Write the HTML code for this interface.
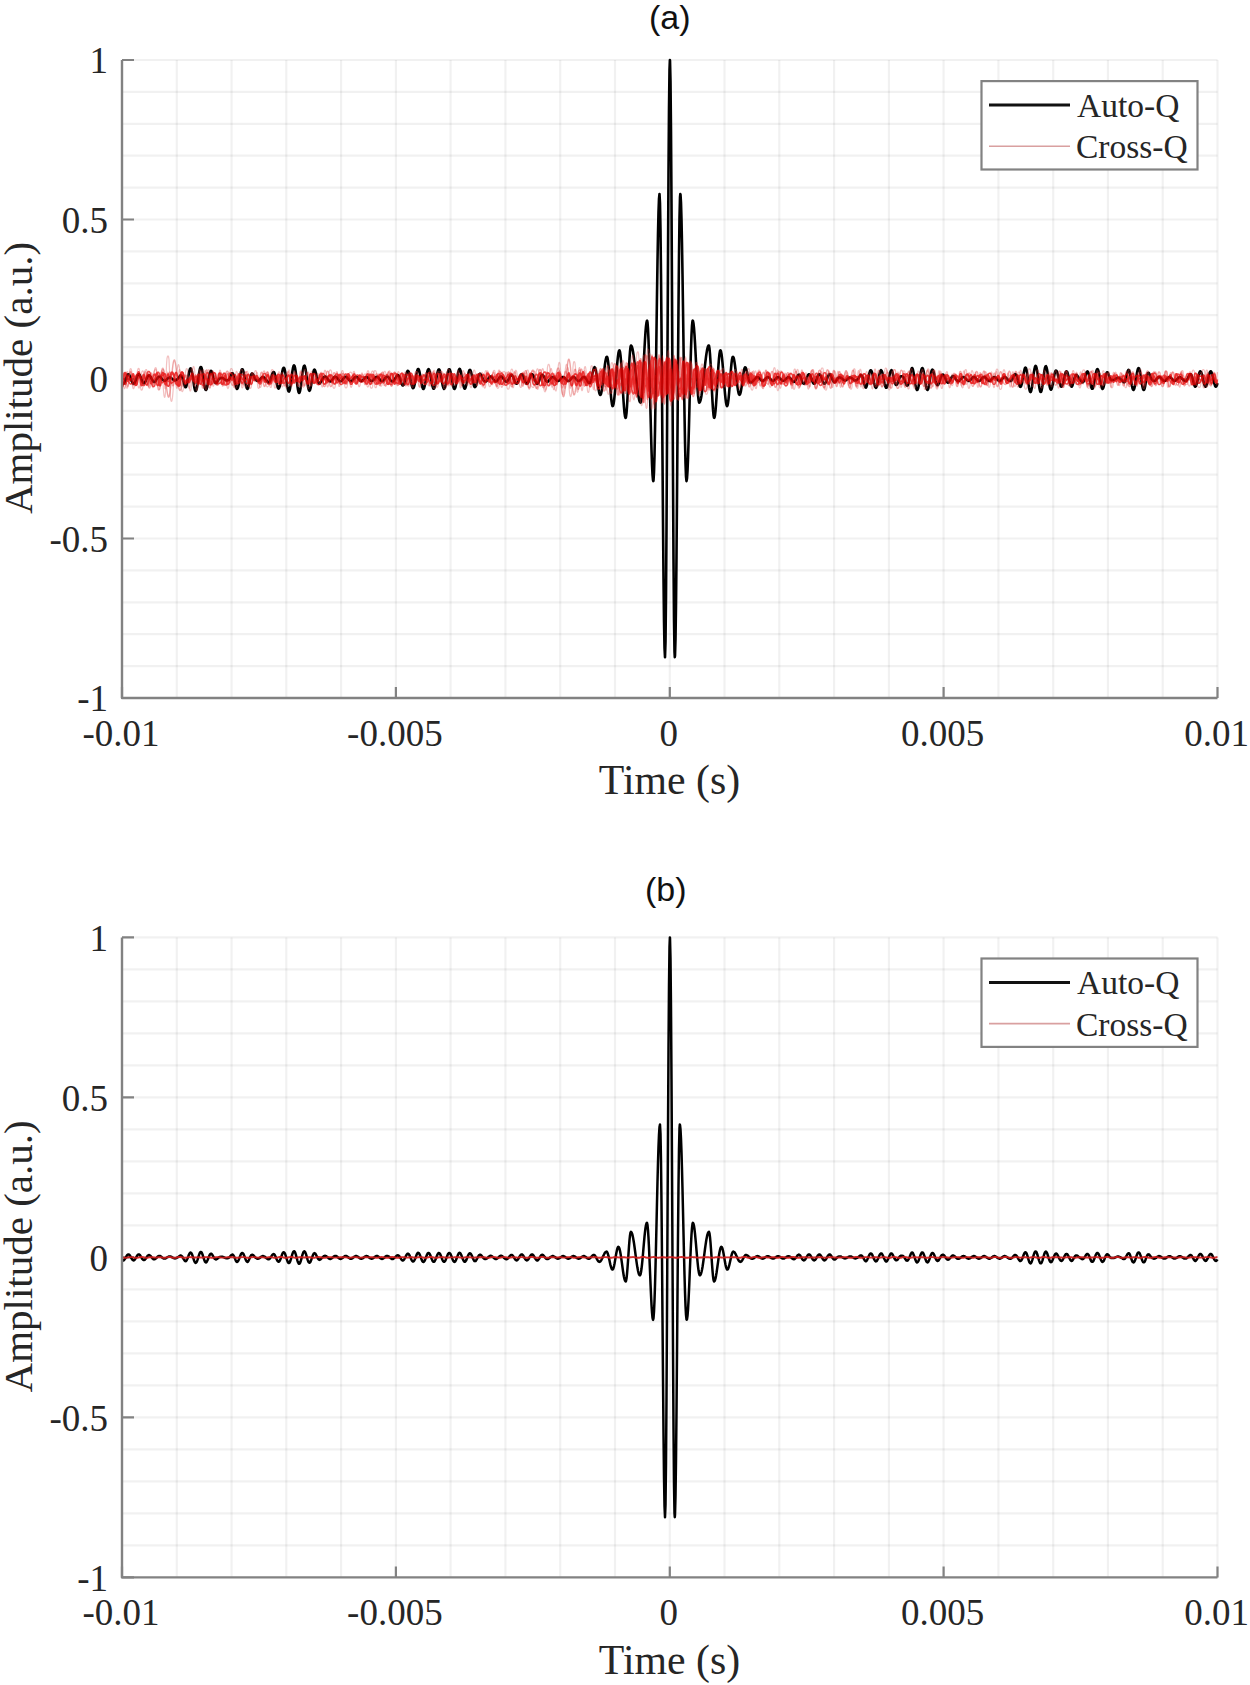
<!DOCTYPE html><html><head><meta charset="utf-8"><style>html,body{margin:0;padding:0;background:#fff;}svg{display:block;}.tk{font-family:"Liberation Serif",serif;font-size:37px;fill:#262626;}.al{font-family:"Liberation Serif",serif;font-size:41px;fill:#262626;}.lg{font-family:"Liberation Serif",serif;font-size:33.5px;fill:#262626;}.ti{font-family:"Liberation Sans",sans-serif;font-size:34px;fill:#111;}</style></head><body><svg width="1250" height="1685" viewBox="0 0 1250 1685"><rect width="1250" height="1685" fill="#fff"/><path d="M176.8 60V698M231.6 60V698M286.3 60V698M341.1 60V698M395.9 60V698M450.6 60V698M505.4 60V698M560.2 60V698M615 60V698M669.8 60V698M724.5 60V698M779.3 60V698M834.1 60V698M888.9 60V698M943.6 60V698M998.4 60V698M1053.2 60V698M1107.9 60V698M1162.7 60V698M1217.5 60V698" stroke="#000" stroke-opacity="0.055" stroke-width="2.2" fill="none"/><path d="M122 60H1217.5M122 91.9H1217.5M122 123.8H1217.5M122 155.7H1217.5M122 187.6H1217.5M122 219.5H1217.5M122 251.4H1217.5M122 283.3H1217.5M122 315.2H1217.5M122 347.1H1217.5M122 379H1217.5M122 410.9H1217.5M122 442.8H1217.5M122 474.7H1217.5M122 506.6H1217.5M122 538.5H1217.5M122 570.4H1217.5M122 602.3H1217.5M122 634.2H1217.5M122 666.1H1217.5" stroke="#000" stroke-opacity="0.055" stroke-width="2.2" fill="none"/><path d="M122 60h12M122 219.5h12M122 379h12M122 538.5h12M122 698h12M122 698v-11M395.9 698v-11M669.8 698v-11M943.6 698v-11M1217.5 698v-11" stroke="#828282" stroke-width="2.2" fill="none"/><path d="M122.0 382.5L122.5 383.3L123.0 383.8L123.5 383.7L124.0 383.3L124.5 382.4L125.0 381.3L125.5 379.9L126.0 378.5L126.5 377.1L127.0 375.8L127.5 374.9L128.0 374.3L128.5 374.2L129.0 374.5L129.5 375.2L130.0 376.3L130.5 377.6L131.0 379.0L131.5 380.5L132.0 381.8L132.5 382.8L133.0 383.5L133.5 383.8L134.0 383.6L134.5 383.1L135.0 382.1L135.5 380.9L136.0 379.5L136.5 378.0L137.0 376.7L137.5 375.5L138.0 374.7L138.5 374.3L139.0 374.3L139.5 374.7L140.0 375.5L140.5 376.7L141.0 378.0L141.5 379.5L142.0 380.8L142.5 381.9L143.0 382.7L143.5 383.2L144.0 383.3L144.5 383.0L145.0 382.3L145.5 381.4L146.0 380.2L146.5 379.0L147.0 377.9L147.5 376.8L148.0 376.0L148.5 375.5L149.0 375.4L149.5 375.5L150.0 376.0L150.5 376.7L151.0 377.6L151.5 378.6L152.0 379.6L152.5 380.5L153.0 381.2L153.5 381.7L154.0 382.0L154.5 381.9L155.0 381.6L155.5 381.1L156.0 380.4L156.5 379.6L157.0 378.8L157.5 378.0L158.0 377.4L158.5 376.9L159.0 376.7L159.5 376.7L160.0 376.8L160.5 377.2L161.0 377.7L161.5 378.3L162.0 379.0L162.5 379.6L163.0 380.1L163.5 380.5L164.0 380.8L164.5 380.8L165.0 380.8L165.5 380.5L166.0 380.1L166.5 379.7L167.0 379.2L167.5 378.7L168.0 378.3L168.5 377.9L169.0 377.7L169.5 377.5L170.0 377.5L170.5 377.6L171.0 377.9L171.5 378.2L172.0 378.7L172.5 379.1L173.0 379.5L173.5 379.9L174.0 380.2L174.5 380.4L175.0 380.5L175.5 380.4L176.0 380.2L176.5 379.9L177.0 379.5L177.5 379.1L178.0 378.6L178.5 377.9L179.0 377.2L179.5 376.4L180.0 375.7L180.5 375.3L181.0 375.3L181.5 375.8L182.0 376.8L182.5 378.2L183.0 380.0L183.5 381.9L184.0 383.8L184.5 385.5L185.0 386.7L185.5 387.3L186.0 387.1L186.5 385.8L187.0 383.8L187.5 381.3L188.0 378.5L188.5 375.6L189.0 372.8L189.5 370.6L190.0 369.0L190.5 368.3L191.0 368.6L191.5 369.9L192.0 372.1L192.5 375.0L193.0 378.4L193.5 381.9L194.0 385.4L194.5 388.2L195.0 390.1L195.5 391.0L196.0 390.9L196.5 389.6L197.0 387.4L197.5 384.4L198.0 380.9L198.5 377.3L199.0 373.8L199.5 370.7L200.0 368.5L200.5 367.2L201.0 367.0L201.5 367.8L202.0 369.7L202.5 372.5L203.0 375.8L203.5 379.5L204.0 383.1L204.5 386.1L205.0 388.4L205.5 389.7L206.0 390.0L206.5 389.3L207.0 387.7L207.5 385.4L208.0 382.6L208.5 379.7L209.0 376.8L209.5 374.3L210.0 372.4L210.5 371.2L211.0 370.8L211.5 371.2L212.0 372.2L212.5 373.9L213.0 375.8L213.5 377.9L214.0 379.8L214.5 381.4L215.0 382.5L215.5 383.1L216.0 383.2L216.5 382.9L217.0 382.3L217.5 381.4L218.0 380.5L218.5 379.6L219.0 379.0L219.5 378.5L220.0 378.4L220.5 378.2L221.0 378.0L221.5 377.9L222.0 377.9L222.5 378.0L223.0 378.2L223.5 378.5L224.0 378.9L224.5 379.3L225.0 379.7L225.5 380.0L226.0 380.2L226.5 380.4L227.0 380.4L227.5 380.3L228.0 380.1L228.5 380.0L229.0 379.5L229.5 378.7L230.0 377.5L230.5 376.3L231.0 375.0L231.5 374.0L232.0 373.3L232.5 373.2L233.0 373.7L233.5 374.9L234.0 376.7L234.5 379.1L235.0 381.7L235.5 384.4L236.0 386.9L236.5 388.3L237.0 388.9L237.5 388.6L238.0 387.4L238.5 385.4L239.0 382.9L239.5 380.0L240.0 377.0L240.5 374.2L241.0 371.8L241.5 370.1L242.0 369.2L242.5 369.2L243.0 370.1L243.5 371.8L244.0 374.2L244.5 377.0L245.0 380.0L245.5 382.9L246.0 385.4L246.5 387.4L247.0 388.6L247.5 388.9L248.0 388.3L248.5 386.5L249.0 384.1L249.5 381.6L250.0 379.1L250.5 376.8L251.0 375.1L251.5 373.9L252.0 373.4L252.5 373.6L253.0 374.2L253.5 375.2L254.0 376.4L254.5 377.6L255.0 378.7L255.5 379.5L256.0 379.9L256.5 380.4L257.0 380.8L257.5 381.0L258.0 381.0L258.5 380.8L259.0 380.5L259.5 380.0L260.0 379.4L260.5 378.8L261.0 378.2L261.5 377.7L262.0 377.3L262.5 377.1L263.0 377.0L263.5 377.1L264.0 377.4L264.5 377.8L265.0 378.4L265.5 379.0L266.0 379.6L266.5 380.3L267.0 381.1L267.5 381.8L268.0 382.4L268.5 382.6L269.0 382.5L269.5 381.9L270.0 381.0L270.5 379.7L271.0 378.1L271.5 376.4L272.0 374.7L272.5 373.3L273.0 372.4L273.5 372.0L274.0 372.2L274.5 373.2L275.0 374.8L275.5 377.0L276.0 379.6L276.5 382.3L277.0 384.7L277.5 386.7L278.0 388.1L278.5 388.6L279.0 388.3L279.5 387.1L280.0 385.1L280.5 382.4L281.0 379.4L281.5 376.2L282.0 373.2L282.5 370.6L283.0 368.7L283.5 367.8L284.0 367.8L284.5 368.9L285.0 371.0L285.5 373.8L286.0 377.3L286.5 380.9L287.0 384.5L287.5 387.6L288.0 390.0L288.5 391.4L289.0 391.6L289.5 390.7L290.0 388.8L290.5 385.8L291.0 382.2L291.5 378.3L292.0 374.4L292.5 370.8L293.0 367.9L293.5 366.0L294.0 365.3L294.5 365.8L295.0 367.6L295.5 370.4L296.0 374.1L296.5 378.2L297.0 382.5L297.5 386.5L298.0 389.7L298.5 391.9L299.0 393.0L299.5 392.7L300.0 391.2L300.5 388.6L301.0 385.2L301.5 381.2L302.0 377.0L302.5 373.1L303.0 369.7L303.5 367.3L304.0 365.9L304.5 365.7L305.0 366.7L305.5 368.8L306.0 371.9L306.5 375.6L307.0 379.5L307.5 383.2L308.0 386.4L308.5 388.9L309.0 390.4L309.5 390.8L310.0 390.1L310.5 388.4L311.0 386.0L311.5 383.0L312.0 379.7L312.5 376.5L313.0 373.7L313.5 371.5L314.0 370.0L314.5 369.6L315.0 370.2L315.5 371.5L316.0 373.3L316.5 375.5L317.0 377.8L317.5 379.9L318.0 381.6L318.5 382.9L319.0 383.5L319.5 383.7L320.0 383.3L320.5 382.6L321.0 381.7L321.5 380.6L322.0 379.7L322.5 378.9L323.0 378.2L323.5 377.5L324.0 377.0L324.5 376.7L325.0 376.5L325.5 376.6L326.0 376.9L326.5 377.4L327.0 378.1L327.5 378.8L328.0 379.5L328.5 380.2L329.0 380.8L329.5 381.2L330.0 381.4L330.5 381.4L331.0 381.1L331.5 380.7L332.0 380.1L332.5 379.4L333.0 378.7L333.5 378.0L334.0 377.5L334.5 377.0L335.0 376.7L335.5 376.7L336.0 376.8L336.5 377.2L337.0 377.7L337.5 378.3L338.0 379.0L338.5 379.7L339.0 380.3L339.5 380.8L340.0 381.1L340.5 381.3L341.0 381.2L341.5 380.9L342.0 380.5L342.5 379.9L343.0 379.2L343.5 378.5L344.0 377.9L344.5 377.4L345.0 377.0L345.5 376.8L346.0 376.8L346.5 377.0L347.0 377.4L347.5 377.9L348.0 378.6L348.5 379.2L349.0 379.8L349.5 380.4L350.0 380.8L350.5 381.1L351.0 381.1L351.5 381.0L352.0 380.7L352.5 380.2L353.0 379.7L353.5 379.0L354.0 378.4L354.5 377.8L355.0 377.3L355.5 377.0L356.0 376.9L356.5 377.0L357.0 377.2L357.5 377.6L358.0 378.2L358.5 378.8L359.0 379.4L359.5 380.0L360.0 380.5L360.5 380.9L361.0 381.0L361.5 381.0L362.0 380.9L362.5 380.5L363.0 380.0L363.5 379.4L364.0 378.8L364.5 378.2L365.0 377.7L365.5 377.3L366.0 377.0L366.5 377.0L367.0 377.1L367.5 377.4L368.0 377.8L368.5 378.4L369.0 379.0L369.5 379.6L370.0 380.1L370.5 380.6L371.0 380.9L371.5 381.0L372.0 381.0L372.5 380.8L373.0 380.4L373.5 379.9L374.0 379.3L374.5 378.6L375.0 378.0L375.5 377.5L376.0 377.1L376.5 376.9L377.0 376.9L377.5 377.0L378.0 377.4L378.5 377.9L379.0 378.5L379.5 379.1L380.0 379.8L380.5 380.4L381.0 380.8L381.5 381.1L382.0 381.2L382.5 381.1L383.0 380.8L383.5 380.4L384.0 379.8L384.5 379.1L385.0 378.4L385.5 377.8L386.0 377.2L386.5 376.8L387.0 376.7L387.5 376.7L388.0 376.9L388.5 377.4L389.0 378.0L389.5 378.7L390.0 379.4L390.5 380.1L391.0 380.7L391.5 381.1L392.0 381.4L392.5 381.4L393.0 381.3L393.5 380.9L394.0 380.3L394.5 379.6L395.0 378.9L395.5 378.0L396.0 377.1L396.5 376.3L397.0 375.6L397.5 375.2L398.0 375.1L398.5 375.5L399.0 376.2L399.5 377.3L400.0 378.7L400.5 380.3L401.0 382.0L401.5 383.4L402.0 384.6L402.5 385.4L403.0 385.5L403.5 385.1L404.0 384.0L404.5 382.3L405.0 380.2L405.5 377.9L406.0 375.6L406.5 373.6L407.0 372.0L407.5 371.0L408.0 370.8L408.5 371.3L409.0 372.5L409.5 374.4L410.0 376.7L410.5 379.3L411.0 382.0L411.5 384.4L412.0 386.3L412.5 387.6L413.0 388.2L413.5 387.9L414.0 386.8L414.5 384.9L415.0 382.5L415.5 379.7L416.0 376.7L416.5 374.0L417.0 371.6L417.5 369.9L418.0 369.0L418.5 369.1L419.0 370.1L419.5 371.9L420.0 374.4L420.5 377.3L421.0 380.3L421.5 383.2L422.0 385.7L422.5 387.6L423.0 388.8L423.5 389.0L424.0 388.3L424.5 386.7L425.0 384.5L425.5 381.8L426.0 378.8L426.5 375.8L427.0 373.1L427.5 371.0L428.0 369.6L428.5 369.1L429.0 369.5L429.5 370.7L430.0 372.7L430.5 375.3L431.0 378.2L431.5 381.2L432.0 383.9L432.5 386.2L433.0 387.9L433.5 388.7L434.0 388.7L434.5 387.7L435.0 386.0L435.5 383.6L436.0 380.8L436.5 377.9L437.0 375.1L437.5 372.6L438.0 370.7L438.5 369.6L439.0 369.3L439.5 369.9L440.0 371.4L440.5 373.5L441.0 376.2L441.5 379.1L442.0 382.0L442.5 384.6L443.0 386.7L443.5 388.2L444.0 388.8L444.5 388.5L445.0 387.3L445.5 385.4L446.0 382.8L446.5 380.0L447.0 377.0L447.5 374.2L448.0 371.8L448.5 370.1L449.0 369.2L449.5 369.2L450.0 370.1L450.5 371.8L451.0 374.2L451.5 377.0L452.0 380.0L452.5 382.9L453.0 385.5L453.5 387.4L454.0 388.7L454.5 389.0L455.0 388.4L455.5 387.0L456.0 384.8L456.5 382.1L457.0 379.1L457.5 376.1L458.0 373.3L458.5 371.1L459.0 369.6L459.5 368.9L460.0 369.2L460.5 370.4L461.0 372.4L461.5 375.0L462.0 377.9L462.5 380.9L463.0 383.7L463.5 386.0L464.0 387.7L464.5 388.6L465.0 388.6L465.5 387.7L466.0 386.0L466.5 383.8L467.0 381.1L467.5 378.2L468.0 375.5L468.5 373.1L469.0 371.2L469.5 370.1L470.0 369.8L470.5 370.4L471.0 371.7L471.5 373.7L472.0 376.1L472.5 378.8L473.0 381.5L473.5 383.9L474.0 385.8L474.5 386.9L475.0 387.2L475.5 386.7L476.0 385.6L476.5 383.9L477.0 382.0L477.5 379.9L478.0 377.9L478.5 376.1L479.0 374.8L479.5 374.0L480.0 373.7L480.5 374.0L481.0 374.6L481.5 375.6L482.0 376.8L482.5 378.1L483.0 379.2L483.5 380.2L484.0 380.9L484.5 381.3L485.0 381.4L485.5 381.5L486.0 381.4L486.5 381.0L487.0 380.5L487.5 379.8L488.0 379.1L488.5 378.3L489.0 377.7L489.5 377.1L490.0 376.7L490.5 376.5L491.0 376.6L491.5 376.8L492.0 377.3L492.5 377.9L493.0 378.6L493.5 379.4L494.0 380.1L494.5 380.7L495.0 381.2L495.5 381.5L496.0 381.5L496.5 381.3L497.0 380.9L497.5 380.3L498.0 379.6L498.5 378.9L499.0 378.1L499.5 377.5L500.0 376.9L500.5 376.6L501.0 376.5L501.5 376.6L502.0 376.9L502.5 377.5L503.0 378.1L503.5 378.9L504.0 379.6L504.5 380.3L505.0 380.9L505.5 381.4L506.0 381.7L506.5 381.8L507.0 381.6L507.5 381.1L508.0 380.4L508.5 379.5L509.0 378.5L509.5 377.5L510.0 376.5L510.5 375.7L511.0 375.2L511.5 375.0L512.0 375.2L512.5 375.8L513.0 376.7L513.5 377.8L514.0 379.2L514.5 380.6L515.0 381.9L515.5 382.9L516.0 383.6L516.5 383.8L517.0 383.6L517.5 383.0L518.0 382.0L518.5 380.7L519.0 379.3L519.5 377.9L520.0 376.5L520.5 375.4L521.0 374.6L521.5 374.2L522.0 374.3L522.5 374.8L523.0 375.6L523.5 376.8L524.0 378.2L524.5 379.6L525.0 381.0L525.5 382.2L526.0 383.1L526.5 383.7L527.0 383.8L527.5 383.5L528.0 382.7L528.5 381.6L529.0 380.3L529.5 378.9L530.0 377.5L530.5 376.2L531.0 375.1L531.5 374.5L532.0 374.2L532.5 374.4L533.0 375.0L533.5 375.9L534.0 377.2L534.5 378.6L535.0 380.0L535.5 381.4L536.0 382.5L536.5 383.3L537.0 383.8L537.5 383.7L538.0 383.3L538.5 382.4L539.0 381.3L539.5 379.9L540.0 378.5L540.5 377.1L541.0 376.0L541.5 375.3L542.0 374.9L542.5 374.9L543.0 375.3L543.5 376.0L544.0 376.9L544.5 378.0L545.0 379.0L545.5 380.0L546.0 380.8L546.5 381.4L547.0 381.7L547.5 381.7L548.0 381.5L548.5 381.0L549.0 380.5L549.5 379.8L550.0 379.2L550.5 378.6L551.0 378.0L551.5 377.5L552.0 377.2L552.5 377.0L553.0 377.0L553.5 377.2L554.0 377.5L554.5 378.0L555.0 378.6L555.5 379.2L556.0 379.8L556.5 380.3L557.0 380.7L557.5 380.9L558.0 381.0L558.5 380.9L559.0 380.6L559.5 380.2L560.0 379.6L560.5 379.0L561.0 378.4L561.5 377.9L562.0 377.4L562.5 377.1L563.0 377.0L563.5 377.1L564.0 377.3L564.5 377.7L565.0 378.2L565.5 378.8L566.0 379.4L566.5 379.9L567.0 380.4L567.5 380.8L568.0 381.0L568.5 381.0L569.0 380.8L569.5 380.5L570.0 380.0L570.5 379.4L571.0 378.8L571.5 378.2L572.0 377.7L572.5 377.3L573.0 377.1L573.5 377.0L574.0 377.1L574.5 377.4L575.0 377.8L575.5 378.4L576.0 379.0L576.5 379.6L577.0 380.1L577.5 380.6L578.0 380.9L578.5 381.0L579.0 380.9L579.5 380.7L580.0 380.3L580.5 379.8L581.0 379.3L581.5 378.7L582.0 378.1L582.5 377.6L583.0 377.2L583.5 377.0L584.0 377.0L584.5 377.2L585.0 377.5L585.5 378.0L586.0 378.6L586.5 379.4L587.0 380.3L587.5 381.2L588.0 382.0L588.5 382.7L589.0 383.1L589.5 383.2L590.0 382.8L590.5 381.8L591.0 380.3L591.5 378.3L592.0 376.0L592.5 373.6L593.0 371.3L593.5 369.3L594.0 367.9L594.5 367.2L595.0 367.5L595.5 368.9L596.0 371.3L596.5 374.3L597.0 377.9L597.5 381.7L598.0 385.4L598.5 388.8L599.0 391.6L599.5 393.7L600.0 394.8L600.3 394.9L600.5 394.9L601.0 393.9L601.5 391.9L602.0 389.0L602.5 385.4L603.0 381.2L603.5 376.7L604.0 372.2L604.5 367.9L605.0 364.0L605.5 360.8L606.0 358.4L606.5 357.0L606.9 356.7L607.0 356.7L607.5 358.0L608.0 360.9L608.5 365.4L609.0 371.0L609.5 377.4L610.0 384.1L610.5 390.5L611.0 396.4L611.5 401.1L612.0 404.4L612.5 406.0L612.7 406.1L613.0 405.8L613.5 404.2L614.0 401.1L614.5 396.7L615.0 391.4L615.5 385.3L616.0 378.9L616.5 372.4L617.0 366.2L617.5 360.7L618.0 356.1L618.5 352.7L619.0 350.8L619.4 350.3L619.5 350.3L620.0 351.8L620.5 355.4L621.0 360.8L621.5 367.7L622.0 375.6L622.5 384.1L623.0 392.6L623.5 400.5L624.0 407.4L624.5 412.8L625.0 416.4L625.5 417.9L625.6 417.9L626.0 416.9L626.5 413.1L627.0 406.6L627.5 398.0L628.0 388.0L628.5 377.5L629.0 367.4L629.5 358.4L630.0 351.5L630.5 347.0L631.0 345.5L631.5 345.9L632.0 347.1L632.5 348.9L633.0 351.5L633.5 354.7L634.0 358.4L634.5 362.6L635.0 367.0L635.5 371.7L636.0 376.4L636.5 381.1L637.0 385.5L637.5 389.7L638.0 393.4L638.5 396.6L639.0 399.2L639.5 401.1L640.0 402.2L640.5 402.6L641.0 401.5L641.5 398.0L642.0 392.6L642.5 385.4L643.0 376.8L643.5 367.4L644.0 357.7L644.5 348.2L645.0 339.5L645.5 331.9L646.0 326.1L646.5 322.3L647.0 320.7L647.1 320.6L647.5 322.3L648.0 328.8L648.5 340.0L649.0 355.0L649.5 373.0L650.0 392.7L650.5 413.0L651.0 432.5L651.5 450.0L652.0 464.3L652.5 474.6L653.0 480.2L653.3 481.1L653.5 480.3L654.0 472.1L654.5 455.4L655.0 431.0L655.5 400.7L656.0 366.4L656.5 330.3L657.0 294.6L657.5 261.6L658.0 233.5L658.5 212.0L659.0 198.6L659.5 194.0L660.0 203.4L660.5 230.7L661.0 273.9L661.5 329.4L662.0 392.6L662.5 458.5L663.0 521.8L663.5 577.2L664.0 620.4L664.5 647.8L665.0 657.2L665.5 642.0L666.0 597.9L666.5 529.4L667.0 443.5L667.5 349.0L668.0 255.5L668.5 172.4L669.0 108.3L669.5 69.8L669.9 60.0L670.0 60.6L670.5 81.8L671.0 131.2L671.5 203.8L672.0 292.1L672.5 387.3L673.0 479.4L673.5 559.3L674.0 618.7L674.5 651.7L674.8 657.2L675.0 655.7L675.5 638.9L676.0 604.9L676.5 556.3L677.0 497.1L677.5 432.2L678.0 366.7L678.5 306.0L679.0 254.9L679.5 217.7L680.0 197.4L680.3 194.0L680.5 194.7L681.0 202.9L681.5 219.7L682.0 244.0L682.5 274.3L683.0 308.6L683.5 344.8L684.0 380.5L684.5 413.5L685.0 441.6L685.5 463.0L686.0 476.5L686.5 481.1L687.0 478.5L687.5 471.0L688.0 459.0L688.5 443.3L689.0 424.9L689.5 404.9L690.0 384.7L690.5 365.5L691.0 348.6L691.5 335.0L692.0 325.6L692.5 321.0L692.7 320.6L693.0 321.0L693.5 323.6L694.0 328.2L694.5 334.8L695.0 342.8L695.5 352.0L696.0 361.6L696.5 371.3L697.0 380.4L697.5 388.5L698.0 395.0L698.5 399.7L699.0 402.2L699.3 402.6L699.5 402.5L700.0 401.8L700.5 400.4L701.0 398.2L701.5 395.4L702.0 392.0L702.5 388.1L703.0 383.8L703.5 379.2L704.0 374.5L704.5 369.8L705.0 365.2L705.5 360.9L706.0 356.9L706.5 353.4L707.0 350.4L707.5 348.1L708.0 346.5L708.5 345.6L708.8 345.5L709.0 345.7L709.5 348.5L710.0 354.0L710.5 361.8L711.0 371.3L711.5 381.7L712.0 392.1L712.5 401.6L713.0 409.4L713.5 415.0L714.0 417.7L714.2 417.9L714.5 417.5L715.0 415.2L715.5 410.8L716.0 404.8L716.5 397.4L717.0 389.2L717.5 380.7L718.0 372.4L718.5 364.8L719.0 358.4L719.5 353.7L720.0 351.0L720.4 350.3L720.5 350.3L721.0 351.4L721.5 353.9L722.0 357.8L722.5 362.8L723.0 368.6L723.5 374.9L724.0 381.5L724.5 387.8L725.0 393.6L725.5 398.6L726.0 402.5L726.5 405.0L727.0 406.1L727.1 406.1L727.5 405.5L728.0 403.2L728.5 399.3L729.0 394.1L729.5 388.0L730.0 381.4L730.5 374.8L731.0 368.6L731.5 363.4L732.0 359.5L732.5 357.2L732.9 356.7L733.0 356.7L733.5 357.4L734.0 359.2L734.5 362.0L735.0 365.5L735.5 369.5L736.0 374.0L736.5 378.5L737.0 382.9L737.5 386.9L738.0 390.3L738.5 392.8L739.0 394.4L739.5 394.9L740.0 394.4L740.5 392.9L741.0 390.6L741.5 387.5L742.0 383.9L742.5 380.2L743.0 376.4L743.5 373.0L744.0 370.2L744.5 368.3L745.0 367.3L745.3 367.3L745.5 367.5L746.0 368.4L746.5 370.0L747.0 372.1L747.5 374.3L748.0 376.6L748.5 378.6L749.0 380.2L749.5 381.4L750.0 382.2L750.5 382.5L750.8 382.5L751.0 382.5L751.5 382.3L752.0 381.9L752.5 381.5L753.0 381.0L753.5 380.5L754.0 380.0L754.5 379.4L755.0 378.9L755.5 378.3L756.0 377.8L756.3 377.5L756.5 377.4L757.0 377.1L757.5 377.0L758.0 377.1L758.5 377.4L759.0 377.8L759.5 378.3L760.0 378.9L760.5 379.5L761.0 380.0L761.5 380.5L761.8 380.7L762.0 380.8L762.5 380.9L763.0 380.9L763.5 380.7L764.0 380.3L764.5 379.8L765.0 379.3L765.5 378.7L766.0 378.1L766.5 377.7L767.0 377.3L767.5 377.1L768.0 377.1L768.5 377.3L769.0 377.6L769.5 378.0L770.0 378.6L770.5 379.1L771.0 379.7L771.5 380.2L772.0 380.6L772.5 380.8L773.0 380.9L773.5 380.8L774.0 380.5L774.5 380.1L775.0 379.6L775.5 379.0L776.0 378.5L776.5 378.0L777.0 377.5L777.5 377.3L778.0 377.1L778.5 377.2L779.0 377.4L779.5 377.8L780.0 378.3L780.5 378.8L781.0 379.4L781.5 379.9L782.0 380.3L782.5 380.6L783.0 380.8L783.5 380.8L784.0 380.6L784.5 380.3L785.0 379.9L785.5 379.4L786.0 378.8L786.5 378.3L787.0 377.8L787.5 377.5L788.0 377.2L788.5 377.2L789.0 377.3L789.5 377.6L790.0 378.0L790.5 378.4L791.0 379.0L791.5 379.7L792.0 380.4L792.5 381.0L793.0 381.5L793.5 381.8L794.0 381.9L794.5 381.6L795.0 381.1L795.5 380.3L796.0 379.3L796.5 378.1L797.0 377.0L797.5 376.0L798.0 375.2L798.5 374.7L799.0 374.6L799.5 374.9L800.0 375.6L800.5 376.8L801.0 378.2L801.5 379.7L802.0 381.1L802.5 382.3L803.0 383.2L803.5 383.7L804.0 383.8L804.5 383.4L805.0 382.7L805.5 381.6L806.0 380.2L806.5 378.8L807.0 377.4L807.5 376.1L808.0 375.1L808.5 374.4L809.0 374.2L809.5 374.4L810.0 375.1L810.5 376.1L811.0 377.4L811.5 378.8L812.0 380.2L812.5 381.6L813.0 382.7L813.5 383.4L814.0 383.8L814.5 383.7L815.0 383.2L815.5 382.3L816.0 381.1L816.5 379.7L817.0 378.2L817.5 376.8L818.0 375.6L818.5 374.8L819.0 374.3L819.5 374.2L820.0 374.6L820.5 375.4L821.0 376.6L821.5 377.9L822.0 379.4L822.5 380.8L823.0 382.0L823.5 383.0L824.0 383.6L824.5 383.8L825.0 383.5L825.5 382.8L826.0 381.8L826.5 380.5L827.0 379.1L827.5 377.6L828.0 376.3L828.5 375.2L829.0 374.5L829.5 374.2L830.0 374.3L830.5 375.0L831.0 376.1L831.5 377.3L832.0 378.6L832.5 379.8L833.0 380.8L833.5 381.6L834.0 382.1L834.5 382.3L835.0 382.1L835.5 381.7L836.0 381.0L836.5 380.3L837.0 379.5L837.5 378.8L838.0 378.1L838.5 377.7L839.0 377.4L839.5 377.4L840.0 377.5L840.5 377.6L841.0 377.8L841.5 378.2L842.0 378.6L842.5 379.0L843.0 379.5L843.5 379.9L844.0 380.2L844.5 380.4L845.0 380.5L845.5 380.4L846.0 380.3L846.5 380.0L847.0 379.6L847.5 379.1L848.0 378.7L848.5 378.2L849.0 377.9L849.5 377.6L850.0 377.5L850.5 377.5L851.0 377.7L851.5 377.9L852.0 378.3L852.5 378.7L853.0 379.2L853.5 379.6L854.0 380.0L854.5 380.3L855.0 380.5L855.5 380.5L856.0 380.4L856.5 380.1L857.0 379.8L857.5 379.4L858.0 378.9L858.5 378.3L859.0 377.5L859.5 376.6L860.0 375.8L860.5 375.2L861.0 375.0L861.5 375.2L862.0 375.9L862.5 377.1L863.0 378.7L863.5 380.7L864.0 382.7L864.5 384.7L865.0 386.3L865.5 387.3L866.0 387.6L866.5 386.6L867.0 385.0L867.5 382.8L868.0 380.2L868.5 377.5L869.0 375.0L869.5 372.8L870.0 371.2L870.5 370.3L871.0 370.3L871.5 371.0L872.0 372.5L872.5 374.5L873.0 377.0L873.5 379.7L874.0 382.3L874.5 384.6L875.0 386.4L875.5 387.5L876.0 387.8L876.5 387.3L877.0 386.1L877.5 384.2L878.0 381.8L878.5 379.1L879.0 376.5L879.5 374.1L880.0 372.1L880.5 370.8L881.0 370.2L881.5 370.5L882.0 371.5L882.5 373.2L883.0 375.5L883.5 378.1L884.0 380.7L884.5 383.2L885.0 385.4L885.5 386.9L886.0 387.7L886.5 387.7L887.0 386.9L887.5 385.4L888.0 383.2L888.5 380.7L889.0 378.1L889.5 375.5L890.0 373.2L890.5 371.5L891.0 370.5L891.5 370.2L892.0 370.8L892.5 372.4L893.0 374.4L893.5 376.8L894.0 379.1L894.5 381.3L895.0 383.0L895.5 384.3L896.0 384.9L896.5 385.0L897.0 384.4L897.5 383.5L898.0 382.2L898.5 380.8L899.0 379.3L899.5 378.1L900.0 377.1L900.5 376.4L901.0 376.2L901.5 376.2L902.0 376.5L902.5 376.4L903.0 376.6L903.5 377.3L904.0 378.3L904.5 379.6L905.0 381.2L905.5 382.7L906.0 384.1L906.5 385.2L907.0 385.7L907.5 385.6L908.0 384.8L908.5 383.3L909.0 381.2L909.5 378.6L910.0 375.8L910.5 373.1L911.0 370.7L911.5 368.9L912.0 368.0L912.5 368.5L913.0 370.0L913.5 372.3L914.0 375.2L914.5 378.5L915.0 381.8L915.5 384.9L916.0 387.4L916.5 389.1L917.0 390.0L917.5 389.8L918.0 388.6L918.5 386.5L919.0 383.7L919.5 380.5L920.0 377.2L920.5 374.0L921.0 371.3L921.5 369.3L922.0 368.2L922.5 368.1L923.0 369.0L923.5 370.8L924.0 373.4L924.5 376.5L925.0 379.8L925.5 383.1L926.0 386.0L926.5 388.2L927.0 389.6L927.5 390.0L928.0 389.4L928.5 387.8L929.0 385.4L929.5 382.5L930.0 379.2L930.5 375.9L931.0 373.2L931.5 371.1L932.0 369.9L932.5 369.6L933.0 370.1L933.5 371.5L934.0 373.4L934.5 375.7L935.0 378.2L935.5 380.5L936.0 382.5L936.5 384.0L937.0 385.0L937.5 385.3L938.0 385.0L938.5 384.1L939.0 382.9L939.5 381.5L940.0 379.9L940.5 378.5L941.0 377.1L941.5 376.0L942.0 375.1L942.5 374.7L943.0 374.6L943.5 375.0L944.0 375.7L944.5 376.7L945.0 377.8L945.5 379.1L946.0 380.2L946.5 381.3L947.0 382.1L947.5 382.5L948.0 382.7L948.5 382.5L949.0 382.0L949.5 381.2L950.0 380.3L950.5 379.3L951.0 378.3L951.5 377.4L952.0 376.7L952.5 376.2L953.0 376.0L953.5 376.1L954.0 376.5L954.5 377.1L955.0 377.8L955.5 378.6L956.0 379.4L956.5 380.1L957.0 380.6L957.5 381.0L958.0 381.2L958.5 381.2L959.0 381.0L959.5 380.6L960.0 380.1L960.5 379.5L961.0 378.9L961.5 378.3L962.0 377.8L962.5 377.4L963.0 377.1L963.5 377.0L964.0 377.1L964.5 377.4L965.0 377.8L965.5 378.3L966.0 378.9L966.5 379.5L967.0 380.1L967.5 380.5L968.0 380.8L968.5 381.0L969.0 381.0L969.5 380.7L970.0 380.4L970.5 379.9L971.0 379.3L971.5 378.7L972.0 378.1L972.5 377.6L973.0 377.2L973.5 377.0L974.0 377.0L974.5 377.2L975.0 377.5L975.5 378.0L976.0 378.5L976.5 379.2L977.0 379.7L977.5 380.3L978.0 380.7L978.5 380.9L979.0 381.0L979.5 380.9L980.0 380.6L980.5 380.2L981.0 379.6L981.5 379.0L982.0 378.4L982.5 377.9L983.0 377.4L983.5 377.1L984.0 377.0L984.5 377.1L985.0 377.3L985.5 377.7L986.0 378.2L986.5 378.8L987.0 379.4L987.5 380.0L988.0 380.4L988.5 380.8L989.0 381.0L989.5 381.0L990.0 380.8L990.5 380.4L991.0 380.0L991.5 379.4L992.0 378.8L992.5 378.2L993.0 377.7L993.5 377.3L994.0 377.1L994.5 377.0L995.0 377.1L995.5 377.4L996.0 377.9L996.5 378.4L997.0 379.0L997.5 379.6L998.0 380.2L998.5 380.6L999.0 380.9L999.5 381.0L1000.0 380.9L1000.5 380.7L1001.0 380.3L1001.5 379.7L1002.0 379.2L1002.5 378.5L1003.0 378.0L1003.5 377.5L1004.0 377.2L1004.5 377.0L1005.0 377.0L1005.5 377.2L1006.0 377.6L1006.5 378.1L1007.0 378.7L1007.5 379.3L1008.0 379.9L1008.5 380.4L1009.0 380.7L1009.5 381.0L1010.0 381.0L1010.5 381.1L1011.0 381.0L1011.5 380.5L1012.0 379.8L1012.5 378.8L1013.0 377.7L1013.5 376.6L1014.0 375.5L1014.5 374.6L1015.0 374.1L1015.5 374.1L1016.0 374.6L1016.5 375.5L1017.0 376.9L1017.5 378.7L1018.0 380.7L1018.5 382.7L1019.0 384.4L1019.5 385.8L1020.0 386.7L1020.5 386.9L1021.0 386.3L1021.5 384.9L1022.0 382.9L1022.5 380.3L1023.0 377.4L1023.5 374.4L1024.0 371.7L1024.5 369.5L1025.0 368.0L1025.5 367.6L1026.0 368.2L1026.5 369.9L1027.0 372.6L1027.5 376.1L1028.0 380.0L1028.5 383.9L1029.0 387.4L1029.5 390.0L1030.0 391.7L1030.5 392.2L1031.0 391.5L1031.5 389.6L1032.0 386.7L1032.5 383.2L1033.0 379.2L1033.5 375.2L1034.0 371.6L1034.5 368.7L1035.0 366.7L1035.5 365.8L1036.0 366.2L1036.5 367.7L1037.0 370.3L1037.5 373.7L1038.0 377.6L1038.5 381.6L1039.0 385.4L1039.5 388.5L1040.0 390.8L1040.5 392.0L1041.0 392.0L1041.5 390.8L1042.0 388.5L1042.5 385.4L1043.0 381.6L1043.5 377.6L1044.0 373.7L1044.5 370.3L1045.0 367.7L1045.5 366.4L1046.0 366.2L1046.5 367.3L1047.0 369.3L1047.5 372.2L1048.0 375.6L1048.5 379.2L1049.0 382.6L1049.5 385.6L1050.0 387.9L1050.5 389.3L1051.0 389.7L1051.5 389.1L1052.0 387.6L1052.5 385.4L1053.0 382.7L1053.5 379.7L1054.0 376.9L1054.5 374.3L1055.0 372.3L1055.5 371.0L1056.0 370.5L1056.5 370.8L1057.0 371.8L1057.5 373.4L1058.0 375.5L1058.5 377.7L1059.0 380.1L1059.5 382.3L1060.0 384.2L1060.5 385.7L1061.0 386.5L1061.5 386.7L1062.0 386.1L1062.5 384.9L1063.0 383.1L1063.5 381.0L1064.0 378.6L1064.5 376.4L1065.0 374.3L1065.5 372.7L1066.0 371.7L1066.5 371.3L1067.0 371.7L1067.5 372.7L1068.0 374.3L1068.5 376.4L1069.0 378.6L1069.5 381.0L1070.0 383.1L1070.5 384.9L1071.0 386.1L1071.5 386.7L1072.0 386.5L1072.5 385.4L1073.0 383.7L1073.5 381.8L1074.0 379.8L1074.5 378.0L1075.0 376.6L1075.5 375.5L1076.0 374.9L1076.5 374.9L1077.0 375.2L1077.5 375.9L1078.0 376.7L1078.5 377.6L1079.0 378.5L1079.5 379.1L1080.0 379.6L1080.5 380.2L1081.0 381.0L1081.5 381.7L1082.0 382.2L1082.5 382.4L1083.0 382.2L1083.5 381.6L1084.0 380.5L1084.5 379.1L1085.0 377.4L1085.5 375.6L1086.0 373.9L1086.5 372.5L1087.0 371.6L1087.5 371.4L1088.0 372.0L1088.5 373.3L1089.0 375.4L1089.5 378.0L1090.0 380.9L1090.5 383.8L1091.0 386.2L1091.5 387.9L1092.0 388.8L1092.5 388.8L1093.0 387.9L1093.5 386.2L1094.0 383.8L1094.5 380.9L1095.0 377.9L1095.5 375.0L1096.0 372.5L1096.5 370.6L1097.0 369.4L1097.5 369.1L1098.0 369.8L1098.5 371.2L1099.0 373.5L1099.5 376.2L1100.0 379.2L1100.5 382.1L1101.0 384.8L1101.5 386.9L1102.0 388.3L1102.5 388.9L1103.0 388.5L1103.5 387.3L1104.0 385.3L1104.5 382.7L1105.0 379.8L1105.5 376.9L1106.0 374.6L1106.5 373.1L1107.0 372.3L1107.5 372.3L1108.0 373.0L1108.5 374.2L1109.0 375.6L1109.5 377.1L1110.0 378.4L1110.5 379.4L1111.0 380.0L1111.5 380.1L1112.0 379.9L1112.5 380.0L1113.0 380.0L1113.5 380.0L1114.0 379.8L1114.5 379.6L1115.0 379.3L1115.5 378.9L1116.0 378.6L1116.5 378.3L1117.0 378.0L1117.5 377.8L1118.0 377.7L1118.5 377.7L1119.0 377.9L1119.5 378.2L1120.0 378.5L1120.5 378.9L1121.0 379.4L1121.5 379.8L1122.0 380.1L1122.5 380.9L1123.0 381.7L1123.5 382.2L1124.0 382.4L1124.5 382.0L1125.0 381.2L1125.5 379.8L1126.0 378.0L1126.5 375.9L1127.0 373.8L1127.5 371.9L1128.0 370.5L1128.5 369.8L1129.0 370.1L1129.5 371.3L1130.0 373.4L1130.5 376.5L1131.0 379.8L1131.5 383.1L1132.0 386.0L1132.5 388.2L1133.0 389.6L1133.5 390.0L1134.0 389.4L1134.5 387.8L1135.0 385.4L1135.5 382.5L1136.0 379.2L1136.5 375.9L1137.0 372.8L1137.5 370.4L1138.0 368.7L1138.5 368.0L1139.0 368.3L1139.5 369.6L1140.0 371.8L1140.5 374.6L1141.0 377.8L1141.5 381.2L1142.0 384.3L1142.5 387.0L1143.0 388.9L1143.5 389.9L1144.0 389.9L1144.5 388.9L1145.0 387.0L1145.5 384.0L1146.0 380.9L1146.5 378.0L1147.0 375.6L1147.5 373.9L1148.0 372.9L1148.5 372.7L1149.0 373.2L1149.5 374.1L1150.0 375.4L1150.5 376.8L1151.0 378.1L1151.5 379.0L1152.0 379.6L1152.5 380.2L1153.0 380.6L1153.5 380.9L1154.0 381.0L1154.5 380.9L1155.0 380.7L1155.5 380.3L1156.0 379.7L1156.5 379.2L1157.0 378.6L1157.5 378.0L1158.0 377.5L1158.5 377.2L1159.0 377.1L1159.5 377.1L1160.0 377.3L1160.5 377.6L1161.0 378.1L1161.5 378.7L1162.0 379.3L1162.5 379.8L1163.0 380.3L1163.5 380.7L1164.0 380.9L1164.5 380.9L1165.0 380.8L1165.5 380.5L1166.0 380.0L1166.5 379.5L1167.0 378.9L1167.5 378.3L1168.0 377.8L1168.5 377.4L1169.0 377.2L1169.5 377.1L1170.0 377.2L1170.5 377.5L1171.0 377.9L1171.5 378.4L1172.0 378.9L1172.5 379.5L1173.0 380.0L1173.5 380.4L1174.0 380.7L1174.5 380.9L1175.0 380.8L1175.5 380.6L1176.0 380.3L1176.5 379.8L1177.0 379.3L1177.5 378.7L1178.0 378.2L1178.5 377.7L1179.0 377.4L1179.5 377.2L1180.0 377.2L1180.5 377.3L1181.0 377.6L1181.5 378.1L1182.0 378.6L1182.5 379.1L1183.0 379.7L1183.5 380.1L1184.0 380.5L1184.5 380.7L1185.0 380.8L1185.5 381.0L1186.0 380.9L1186.5 380.6L1187.0 379.9L1187.5 379.0L1188.0 378.0L1188.5 376.8L1189.0 375.7L1189.5 374.8L1190.0 374.3L1190.5 374.1L1191.0 374.4L1191.5 375.3L1192.0 376.6L1192.5 378.3L1193.0 380.3L1193.5 382.3L1194.0 384.1L1194.5 385.6L1195.0 386.6L1195.5 386.6L1196.0 385.9L1196.5 384.6L1197.0 382.7L1197.5 380.5L1198.0 378.2L1198.5 375.9L1199.0 373.9L1199.5 372.4L1200.0 371.5L1200.5 371.3L1201.0 371.8L1201.5 373.0L1202.0 374.7L1202.5 376.8L1203.0 379.1L1203.5 381.4L1204.0 383.5L1204.5 385.2L1205.0 386.3L1205.5 386.7L1206.0 386.4L1206.5 385.4L1207.0 383.9L1207.5 381.9L1208.0 379.6L1208.5 377.3L1209.0 375.1L1209.5 373.3L1210.0 372.0L1210.5 371.4L1211.0 371.4L1211.5 372.2L1212.0 373.6L1212.5 375.5L1213.0 377.7L1213.5 380.1L1214.0 382.3L1214.5 384.2L1215.0 385.7L1215.5 386.5L1216.0 386.7L1216.5 386.1L1217.0 384.9L1217.5 383.1" fill="none" stroke="#000" stroke-width="2.6" stroke-linejoin="round"/><g opacity="0.85"><path d="M122.0 378.4L122.5 380.7L123.0 383.5L123.5 386.2L124.0 387.9L124.5 388.5L125.0 388.0L125.5 385.6L126.0 379.9L126.5 374.0L127.0 371.6L127.5 371.5L128.0 373.1L128.5 375.6L129.0 377.1L129.5 376.2L130.0 373.9L130.5 372.2L131.0 372.2L131.5 374.8L132.0 380.7L132.5 386.1L133.0 388.3L133.5 388.7L134.0 388.1L134.5 386.1L135.0 382.9L135.5 380.0L136.0 378.1L136.5 376.2L137.0 373.5L137.5 370.6L138.0 369.0L138.5 368.4L139.0 368.5L139.5 370.2L140.0 377.5L140.5 387.0L141.0 389.7L141.5 390.1L142.0 389.9L142.5 389.0L143.0 385.7L143.5 379.3L144.0 374.2L144.5 371.8L145.0 370.7L145.5 370.0L146.0 369.6L146.5 369.7L147.0 370.8L147.5 374.3L148.0 380.5L148.5 385.4L149.0 387.3L149.5 387.0L150.0 384.8L150.5 381.4L151.0 379.3L151.5 380.5L152.0 384.1L152.5 387.0L153.0 387.7L153.5 385.9L154.0 378.9L154.5 370.6L155.0 368.1L155.5 367.7L156.0 367.9L156.5 369.3L157.0 376.0L157.5 385.7L158.0 389.1L158.5 389.9L159.0 389.9L159.5 389.5L160.0 388.3L160.5 385.2L161.0 378.7L161.5 372.0L162.0 368.9L162.5 368.1L163.0 368.1L163.5 369.3L164.0 374.8L164.5 384.1L165.0 388.3L165.5 388.9L166.0 387.4L166.5 382.0L167.0 375.0L167.5 372.1L168.0 372.9L168.5 377.4L169.0 383.7L169.5 386.9L170.0 387.3L170.5 385.1L171.0 380.0L171.5 374.6L172.0 372.0L172.5 371.5L173.0 372.2L173.5 373.4L174.0 374.7L174.5 376.0L175.0 378.0L175.5 381.3L176.0 385.1L176.5 387.6L177.0 388.3L177.5 387.4L178.0 383.4L178.5 375.9L179.0 370.9L179.5 369.5L180.0 370.3L180.5 374.2L181.0 381.1L181.5 385.6L182.0 386.6L182.5 384.9L183.0 380.8L183.5 376.4L184.0 374.3L184.5 374.4L185.0 375.8L185.5 377.3L186.0 377.6L186.5 377.0L187.0 376.8L187.5 378.3L188.0 382.0L188.5 386.1L189.0 388.1L189.5 388.3L190.0 386.1L190.5 379.3L191.0 371.7L191.5 368.9L192.0 368.5L192.5 369.6L193.0 373.7L193.5 380.6L194.0 385.0L194.5 386.1L195.0 385.3L195.5 383.4L196.0 381.9L196.5 381.4L197.0 381.6L197.5 381.3L198.0 379.9L198.5 377.4L199.0 375.2L199.5 374.7L200.0 376.2L200.5 379.5L201.0 382.3L201.5 382.6L202.0 379.6L202.5 374.3L203.0 370.6L203.5 369.6L204.0 370.9L204.5 376.7L205.0 385.7L205.5 389.3L206.0 390.0L206.5 389.5L207.0 386.8L207.5 379.1L208.0 372.1L208.5 369.8L209.0 369.6L209.5 370.6L210.0 372.4L210.5 374.8L211.0 377.1L211.5 379.5L212.0 382.2L212.5 384.7L213.0 386.1L213.5 386.2L214.0 384.5L214.5 380.5L215.0 375.8L215.5 373.5L216.0 374.0L216.5 377.4L217.0 382.4L217.5 385.4L218.0 385.4L218.5 382.2L219.0 375.8L219.5 371.3L220.0 370.1L220.5 370.6L221.0 373.5L221.5 379.7L222.0 384.6L222.5 386.2L223.0 385.8L223.5 384.0L224.0 381.7L224.5 380.6L225.0 380.8L225.5 381.4L226.0 381.1L226.5 379.3L227.0 376.3L227.5 373.8L228.0 372.9L228.5 373.4L229.0 375.4L229.5 378.1L230.0 379.6L230.5 379.4L231.0 377.9L231.5 376.9L232.0 377.6L232.5 380.8L233.0 384.7L233.5 386.8L234.0 387.3L234.5 386.3L235.0 382.6L235.5 376.2L236.0 372.3L236.5 371.3L237.0 371.8L237.5 373.5L238.0 375.7L238.5 376.7L239.0 376.2L239.5 375.4L240.0 375.7L240.5 378.2L241.0 382.9L241.5 386.4L242.0 387.7L242.5 387.8L243.0 386.9L243.5 383.7L244.0 378.3L244.5 374.3L245.0 372.6L245.5 372.2L246.0 372.0L246.5 371.7L247.0 371.4L247.5 371.4L248.0 372.5L248.5 376.2L249.0 382.8L249.5 387.0L250.0 388.2L250.5 388.3L251.0 387.8L251.5 385.7L252.0 380.9L252.5 376.4L253.0 374.2L253.5 373.6L254.0 373.2L254.5 372.3L255.0 371.2L255.5 370.6L256.0 370.6L256.5 371.9L257.0 376.9L257.5 384.4L258.0 387.6L258.5 388.3L259.0 388.2L259.5 387.3L260.0 384.5L260.5 380.1L261.0 377.0L261.5 375.7L262.0 375.0L262.5 374.1L263.0 372.5L263.5 371.3L264.0 370.8L264.5 371.0L265.0 372.8L265.5 377.3L266.0 383.0L266.5 386.0L267.0 386.8L267.5 386.8L268.0 386.4L268.5 385.9L269.0 385.5L269.5 384.8L270.0 382.8L270.5 378.0L271.0 372.4L271.5 370.1L272.0 369.6L272.5 369.6L273.0 370.4L273.5 375.2L274.0 384.3L274.5 387.6L275.0 388.1L275.5 387.7L276.0 386.1L276.5 382.1L277.0 378.1L277.5 376.5L278.0 376.8L278.5 377.6L279.0 377.9L279.5 377.2L280.0 376.0L280.5 375.3L281.0 375.4L281.5 376.1L282.0 376.9L282.5 376.9L283.0 376.1L283.5 375.3L284.0 375.6L284.5 378.2L285.0 383.0L285.5 386.6L286.0 387.7L286.5 387.8L287.0 386.7L287.5 381.3L288.0 373.1L288.5 370.4L289.0 370.0L289.5 370.5L290.0 372.7L290.5 378.2L291.0 383.1L291.5 384.7L292.0 384.3L292.5 382.8L293.0 381.2L293.5 380.4L294.0 380.4L294.5 380.4L295.0 379.8L295.5 378.6L296.0 377.5L296.5 377.4L297.0 378.9L297.5 381.4L298.0 383.2L298.5 383.1L299.0 380.5L299.5 375.6L300.0 372.1L300.5 370.9L301.0 371.1L301.5 373.3L302.0 379.4L302.5 385.1L303.0 386.9L303.5 387.1L304.0 386.2L304.5 384.0L305.0 380.8L305.5 378.3L306.0 377.0L306.5 376.0L307.0 374.7L307.5 373.1L308.0 372.1L308.5 372.0L309.0 373.4L309.5 377.3L310.0 382.8L310.5 385.7L311.0 386.3L311.5 385.4L312.0 382.1L312.5 377.5L313.0 375.0L313.5 375.2L314.0 377.8L314.5 381.3L315.0 383.3L315.5 383.2L316.0 380.9L316.5 377.3L317.0 374.5L317.5 373.4L318.0 373.6L318.5 374.6L319.0 375.9L319.5 377.1L320.0 378.4L320.5 380.3L321.0 383.1L321.5 385.6L322.0 386.8L322.5 386.9L323.0 385.8L323.5 380.9L324.0 373.4L324.5 370.7L325.0 370.3L325.5 370.6L326.0 372.8L326.5 380.2L327.0 385.7L327.5 387.0L328.0 386.7L328.5 384.9L329.0 380.5L329.5 376.1L330.0 374.2L330.5 374.1L331.0 375.1L331.5 376.5L332.0 378.0L332.5 379.5L333.0 381.3L333.5 383.1L334.0 384.2L334.5 384.2L335.0 382.4L335.5 378.1L336.0 373.7L336.5 371.7L337.0 371.5L337.5 373.0L338.0 378.2L338.5 384.2L339.0 386.4L339.5 386.5L340.0 384.7L340.5 379.6L341.0 374.5L341.5 372.8L342.0 373.3L342.5 376.2L343.0 380.7L343.5 383.5L344.0 384.1L344.5 383.0L345.0 380.7L345.5 378.2L346.0 376.7L346.5 375.9L347.0 375.4L347.5 374.6L348.0 373.8L348.5 373.7L349.0 374.9L349.5 378.7L350.0 383.8L350.5 386.5L351.0 387.3L351.5 387.1L352.0 385.4L352.5 379.9L353.0 373.9L353.5 371.7L354.0 371.4L354.5 372.1L355.0 373.8L355.5 375.8L356.0 377.0L356.5 377.3L357.0 378.0L357.5 380.0L358.0 383.1L358.5 385.6L359.0 386.7L359.5 386.6L360.0 385.3L360.5 381.5L361.0 376.3L361.5 373.4L362.0 372.9L362.5 373.6L363.0 375.1L363.5 376.1L364.0 375.7L364.5 374.5L365.0 373.7L365.5 374.2L366.0 377.1L366.5 382.1L367.0 385.7L367.5 386.9L368.0 387.0L368.5 386.3L369.0 384.3L369.5 380.8L370.0 377.6L370.5 375.4L371.0 373.9L371.5 372.6L372.0 371.5L372.5 371.0L373.0 371.0L373.5 372.0L374.0 376.4L374.5 383.8L375.0 387.1L375.5 387.7L376.0 387.6L376.5 386.7L377.0 383.1L377.5 377.5L378.0 374.4L378.5 373.9L379.0 374.9L379.5 376.0L380.0 376.0L380.5 374.7L381.0 373.3L381.5 372.7L382.0 373.3L382.5 375.7L383.0 380.1L383.5 383.7L384.0 385.2L384.5 385.5L385.0 385.0L385.5 384.2L386.0 383.6L386.5 383.2L387.0 382.4L387.5 380.2L388.0 376.2L388.5 372.7L389.0 371.1L389.5 370.8L390.0 371.5L390.5 374.3L391.0 380.4L391.5 384.6L392.0 385.7L392.5 385.0L393.0 382.7L393.5 379.8L394.0 378.7L394.5 380.1L395.0 382.7L395.5 384.4L396.0 384.4L396.5 382.3L397.0 377.6L397.5 373.5L398.0 371.8L398.5 371.6L399.0 372.4L399.5 374.4L400.0 377.0L400.5 379.3L401.0 380.8L401.5 382.2L402.0 383.8L402.5 385.2L403.0 386.0L403.5 386.0L404.0 384.6L404.5 380.7L405.0 375.6L405.5 372.8L406.0 372.3L406.5 373.4L407.0 376.3L407.5 379.5L408.0 380.5L408.5 378.7L409.0 375.5L409.5 373.3L410.0 373.1L410.5 375.4L411.0 380.9L411.5 385.6L412.0 387.1L412.5 387.3L413.0 386.6L413.5 384.2L414.0 379.5L414.5 375.4L415.0 373.4L415.5 372.5L416.0 372.0L416.5 371.6L417.0 371.5L417.5 372.1L418.0 374.2L418.5 379.6L419.0 385.0L419.5 387.1L420.0 387.5L420.5 387.2L421.0 385.4L421.5 380.9L422.0 376.4L422.5 374.6L423.0 374.9L423.5 376.1L424.0 376.9L424.5 376.1L425.0 374.3L425.5 372.8L426.0 372.4L426.5 373.5L427.0 377.1L427.5 382.0L428.0 385.0L428.5 385.8L429.0 385.4L429.5 384.1L430.0 382.5L430.5 381.9L431.0 382.2L431.5 382.4L432.0 381.2L432.5 377.6L433.0 373.2L433.5 371.0L434.0 370.4L434.5 370.6L435.0 372.3L435.5 378.0L436.0 384.6L436.5 386.9L437.0 387.4L437.5 387.0L438.0 385.8L438.5 383.7L439.0 381.0L439.5 378.3L440.0 375.5L440.5 373.1L441.0 371.6L441.5 371.1L442.0 371.6L442.5 374.2L443.0 380.2L443.5 385.2L444.0 386.8L444.5 386.5L445.0 384.0L445.5 378.1L446.0 373.5L446.5 372.3L447.0 373.7L447.5 378.2L448.0 383.5L448.5 385.8L449.0 385.7L449.5 383.4L450.0 378.6L450.5 374.3L451.0 372.6L451.5 372.6L452.0 373.7L452.5 375.8L453.0 378.1L453.5 380.3L454.0 382.4L454.5 384.2L455.0 385.4L455.5 385.7L456.0 384.6L456.5 380.7L457.0 374.7L457.5 371.4L458.0 370.5L458.5 371.0L459.0 374.5L459.5 382.6L460.0 387.0L460.5 387.9L461.0 387.5L461.5 384.9L462.0 377.4L462.5 372.0L463.0 370.6L463.5 370.8L464.0 372.2L464.5 375.6L465.0 379.9L465.5 382.7L466.0 384.0L466.5 384.7L467.0 385.2L467.5 385.3L468.0 384.6L468.5 382.4L469.0 378.1L469.5 373.8L470.0 371.8L470.5 371.5L471.0 373.0L471.5 377.0L472.0 381.9L472.5 384.2L473.0 383.7L473.5 380.8L474.0 376.7L474.5 374.5L475.0 374.8L475.5 377.9L476.0 382.3L476.5 385.1L477.0 385.8L477.5 384.8L478.0 382.0L478.5 378.3L479.0 375.9L479.5 375.1L480.0 375.1L480.5 374.8L481.0 373.9L481.5 372.8L482.0 372.3L482.5 373.3L483.0 377.1L483.5 383.4L484.0 387.1L484.5 388.1L485.0 388.0L485.5 386.8L486.0 382.0L486.5 374.8L487.0 371.6L487.5 371.0L488.0 371.5L488.5 373.1L489.0 375.3L489.5 377.2L490.0 378.4L490.5 379.6L491.0 381.3L491.5 383.3L492.0 384.6L492.5 384.7L493.0 383.1L493.5 379.6L494.0 376.1L494.5 374.6L495.0 375.8L495.5 379.6L496.0 383.8L496.5 385.5L497.0 384.8L497.5 380.5L498.0 373.9L498.5 370.7L499.0 370.0L499.5 370.5L500.0 373.4L500.5 380.4L501.0 385.7L501.5 387.2L502.0 387.3L502.5 386.3L503.0 384.3L503.5 381.8L504.0 379.5L504.5 377.4L505.0 375.4L505.5 373.5L506.0 372.4L506.5 372.3L507.0 373.6L507.5 377.0L508.0 381.3L508.5 383.7L509.0 383.7L509.5 381.0L510.0 376.8L510.5 374.1L511.0 374.2L511.5 377.7L512.0 383.6L512.5 387.0L513.0 387.8L513.5 387.3L514.0 384.3L514.5 376.9L515.0 371.8L515.5 370.3L516.0 370.3L516.5 371.2L517.0 373.2L517.5 375.9L518.0 378.1L518.5 380.0L519.0 382.1L519.5 384.6L520.0 386.5L520.5 387.4L521.0 387.4L521.5 386.2L522.0 382.3L522.5 376.6L523.0 373.0L523.5 371.9L524.0 372.3L524.5 373.4L525.0 374.2L525.5 373.9L526.0 372.9L526.5 372.3L527.0 373.4L527.5 377.7L528.0 384.4L528.5 388.1L529.0 389.1L529.5 389.1L530.0 388.1L530.5 384.1L531.0 376.9L531.5 372.5L532.0 371.2L532.5 371.3L533.0 371.8L533.5 372.0L534.0 371.6L534.5 371.2L535.0 371.8L535.5 374.5L536.0 380.7L536.5 386.5L537.0 388.9L537.5 389.4L538.0 389.0L538.5 387.3L539.0 383.5L539.5 378.9L540.0 375.9L540.5 374.3L541.0 372.8L541.5 371.1L542.0 369.5L542.5 368.7L543.0 368.8L543.5 370.5L544.0 376.6L544.5 385.4L545.0 389.2L545.5 390.1L546.0 389.8L546.5 388.3L547.0 384.4L547.5 379.7L548.0 377.1L548.5 376.5L549.0 376.1L549.5 374.4L550.0 371.6L550.5 369.4L551.0 368.5L551.5 369.0L552.0 371.9L552.5 379.4L553.0 386.7L553.5 389.4L554.0 389.7L554.5 388.5L555.0 385.5L555.5 381.3L556.0 378.6L556.5 377.9L557.0 378.1L557.5 377.4L558.0 375.3L558.5 372.6L559.0 371.0L559.5 370.9L560.0 373.0L560.5 377.3L561.0 381.6L561.5 383.7L562.0 383.0L562.5 380.7L563.0 378.6L563.5 379.0L564.0 382.2L564.5 386.2L565.0 388.3L565.5 388.0L566.0 384.4L566.5 376.1L567.0 369.6L567.5 367.6L568.0 367.8L568.5 370.1L569.0 377.0L569.5 385.0L570.0 388.1L570.5 388.2L571.0 386.1L571.5 382.0L572.0 378.0L572.5 376.0L573.0 375.7L573.5 376.1L574.0 376.4L574.5 376.6L575.0 377.4L575.5 379.6L576.0 383.0L576.5 385.8L577.0 386.8L577.5 385.2L578.0 379.4L578.5 371.9L579.0 368.3L579.5 367.6L580.0 368.8L580.5 374.5L581.0 385.0L581.5 389.8L582.0 390.7L582.5 389.9L583.0 386.2L583.5 378.1L584.0 372.2L584.5 370.5L585.0 371.4L585.5 374.1L586.0 377.2L586.5 379.0L587.0 379.3L587.5 379.2L588.0 379.6L588.5 380.8L589.0 382.0L589.5 381.9L590.0 379.8L590.5 376.2L591.0 373.4L591.5 372.9L592.0 375.8L592.5 382.0L593.0 387.5L593.5 389.6L594.0 389.2L594.5 385.4L595.0 376.5L595.5 369.6L596.0 367.5L596.5 367.7L597.0 370.1L597.5 376.0L598.0 382.4L598.5 385.5L599.0 386.0L599.5 385.3L600.0 384.6L600.5 384.8L601.0 385.2L601.5 384.6L602.0 381.5L602.5 375.7L603.0 370.4L603.5 368.0L604.0 368.2L604.5 371.7L605.0 380.1L605.5 387.6L606.0 390.3L606.5 389.6L607.0 385.2L607.5 376.9L608.0 370.7L608.5 368.9L609.0 370.2L609.5 374.3L610.0 379.8L610.5 383.5L611.0 384.8L611.5 384.9L612.0 384.9L612.5 385.5L613.0 385.9L613.5 384.8L614.0 380.5L614.5 373.2L615.0 367.3L615.5 364.9L616.0 365.3L616.5 370.1L617.0 381.9L617.5 391.5L618.0 394.3L618.5 393.6L619.0 387.7L619.5 375.1L620.0 366.5L620.5 364.6L621.0 367.3L621.5 376.6L622.0 387.9L622.5 393.2L623.0 393.9L623.5 391.1L624.0 383.8L624.5 374.5L625.0 367.9L625.5 364.5L626.0 362.8L626.5 362.3L627.0 363.0L627.5 366.9L628.0 377.6L628.5 392.4L629.0 399.6L629.5 401.4L630.0 401.7L630.5 399.8L631.0 387.4L631.5 364.0L632.0 356.5L632.5 355.3L633.0 355.8L633.5 359.9L634.0 373.1L634.5 387.2L635.0 392.4L635.5 391.3L636.0 387.2L636.5 384.0L637.0 384.9L637.5 389.2L638.0 393.3L638.5 394.8L639.0 392.6L639.5 386.6L640.0 378.7L640.5 372.7L641.0 369.9L641.5 368.5L642.0 366.2L642.5 361.9L643.0 357.5L643.5 355.3L644.0 356.2L644.5 363.7L645.0 384.7L645.5 402.7L646.0 407.6L646.5 408.4L647.0 407.7L647.5 402.3L648.0 383.7L648.5 363.1L649.0 355.2L649.5 353.5L650.0 354.1L650.5 355.4L651.0 356.3L651.5 357.3L652.0 360.4L652.5 369.6L653.0 387.3L653.5 402.1L654.0 407.7L654.5 408.8L655.0 407.3L655.5 400.1L656.0 382.6L656.5 366.1L657.0 359.9L657.5 360.3L658.0 364.0L658.5 367.2L659.0 366.6L659.5 362.7L660.0 359.5L660.5 359.7L661.0 365.7L661.5 379.1L662.0 393.4L662.5 400.9L663.0 402.4L663.5 400.2L664.0 395.3L664.5 390.2L665.0 388.1L665.5 388.1L666.0 386.6L666.5 379.4L667.0 366.3L667.5 355.4L668.0 351.1L668.5 350.7L669.0 353.9L669.5 367.5L670.0 391.7L670.5 403.6L671.0 405.9L671.5 404.2L672.0 397.6L672.5 385.2L673.0 375.0L673.5 372.4L674.0 375.1L674.5 378.7L675.0 379.2L675.5 375.2L676.0 369.1L676.5 365.1L677.0 364.7L677.5 368.2L678.0 374.2L678.5 379.3L679.0 380.8L679.5 378.9L680.0 376.8L680.5 378.2L681.0 384.6L681.5 393.1L682.0 398.3L682.5 399.3L683.0 395.8L683.5 384.2L684.0 368.0L684.5 359.9L685.0 358.6L685.5 361.2L686.0 369.4L686.5 380.6L687.0 386.7L687.5 385.7L688.0 379.8L688.5 373.6L689.0 371.8L689.5 376.0L690.0 384.7L690.5 392.1L691.0 395.0L691.5 394.3L692.0 390.1L692.5 382.2L693.0 374.4L693.5 370.1L694.0 368.7L694.5 368.2L695.0 367.5L695.5 366.5L696.0 366.3L696.5 368.2L697.0 374.4L697.5 385.1L698.0 392.8L698.5 395.3L699.0 395.1L699.5 392.1L700.0 383.4L700.5 372.5L701.0 367.9L701.5 368.1L702.0 372.2L702.5 378.5L703.0 382.3L703.5 381.2L704.0 376.0L704.5 370.6L705.0 368.3L705.5 369.2L706.0 374.0L706.5 382.1L707.0 388.1L707.5 390.2L708.0 390.0L708.5 388.2L709.0 385.4L709.5 382.7L710.0 380.5L710.5 378.0L711.0 374.3L711.5 370.4L712.0 367.9L712.5 367.2L713.0 368.0L713.5 372.1L714.0 381.5L714.5 388.6L715.0 390.7L715.5 390.5L716.0 388.4L716.5 382.8L717.0 375.9L717.5 372.7L718.0 372.8L718.5 374.8L719.0 377.1L719.5 377.9L720.0 376.7L720.5 375.0L721.0 374.5L721.5 376.1L722.0 379.9L722.5 383.7L723.0 385.5L723.5 384.9L724.0 381.8L724.5 377.2L725.0 374.2L725.5 374.0L726.0 376.6L726.5 380.8L727.0 383.8L727.5 384.2L728.0 381.8L728.5 377.5L729.0 373.9L729.5 372.8L730.0 374.0L730.5 377.3L731.0 381.2L731.5 383.4L732.0 383.5L732.5 382.4L733.0 380.8L733.5 379.9L734.0 379.9L734.5 380.0L735.0 379.0L735.5 376.3L736.0 373.2L736.5 371.4L737.0 371.4L737.5 374.0L738.0 381.0L738.5 387.0L739.0 388.7L739.5 388.8L740.0 387.5L740.5 381.6L741.0 372.7L741.5 369.7L742.0 369.3L742.5 369.8L743.0 372.1L743.5 377.4L744.0 382.8L744.5 385.3L745.0 386.1L745.5 386.1L746.0 385.7L746.5 384.9L747.0 383.0L747.5 379.4L748.0 375.2L748.5 372.5L749.0 371.7L749.5 372.8L750.0 376.4L750.5 381.6L751.0 384.6L751.5 384.5L752.0 381.0L752.5 375.1L753.0 371.6L753.5 370.9L754.0 372.6L754.5 379.0L755.0 386.1L755.5 388.3L756.0 388.6L756.5 388.0L757.0 384.7L757.5 377.2L758.0 371.9L758.5 370.3L759.0 370.0L759.5 370.3L760.0 371.1L760.5 372.8L761.0 376.1L761.5 381.4L762.0 386.0L762.5 388.1L763.0 388.6L763.5 388.4L764.0 386.6L764.5 380.3L765.0 373.0L765.5 370.4L766.0 370.2L766.5 371.7L767.0 375.6L767.5 380.3L768.0 382.3L768.5 381.2L769.0 378.3L769.5 375.8L770.0 375.3L770.5 377.1L771.0 380.6L771.5 383.5L772.0 384.7L772.5 384.1L773.0 382.5L773.5 380.7L774.0 380.2L774.5 380.9L775.0 381.6L775.5 380.9L776.0 377.8L776.5 373.4L777.0 370.7L777.5 369.8L778.0 370.3L778.5 373.3L779.0 380.6L779.5 386.4L780.0 388.1L780.5 388.2L781.0 387.0L781.5 383.9L782.0 379.8L782.5 377.1L783.0 376.0L783.5 375.5L784.0 374.8L784.5 373.7L785.0 373.0L785.5 373.2L786.0 375.2L786.5 379.2L787.0 383.1L787.5 384.9L788.0 384.0L788.5 380.4L789.0 375.6L789.5 373.0L790.0 373.5L790.5 377.8L791.0 384.4L791.5 387.9L792.0 388.6L792.5 387.8L793.0 383.6L793.5 374.9L794.0 370.2L794.5 369.1L795.0 369.1L795.5 370.2L796.0 373.1L796.5 377.6L797.0 381.8L797.5 384.8L798.0 386.7L798.5 387.8L799.0 388.3L799.5 387.9L800.0 385.9L800.5 380.4L801.0 373.7L801.5 370.5L802.0 369.9L802.5 371.0L803.0 374.6L803.5 379.6L804.0 382.1L804.5 381.1L805.0 377.3L805.5 373.7L806.0 372.6L806.5 374.6L807.0 380.7L807.5 386.5L808.0 388.7L808.5 389.0L809.0 388.2L809.5 384.8L810.0 378.0L810.5 372.8L811.0 370.8L811.5 370.3L812.0 370.3L812.5 370.6L813.0 371.1L813.5 372.4L814.0 375.7L814.5 381.7L815.0 386.8L815.5 388.8L816.0 389.2L816.5 388.7L817.0 386.3L817.5 380.4L818.0 374.5L818.5 372.3L819.0 372.3L819.5 373.6L820.0 374.9L820.5 374.6L821.0 373.1L821.5 371.8L822.0 371.7L822.5 373.9L823.0 379.8L823.5 386.0L824.0 388.5L824.5 388.9L825.0 388.2L825.5 385.4L826.0 379.9L826.5 375.2L827.0 373.4L827.5 373.5L828.0 374.1L828.5 374.2L829.0 373.4L829.5 372.5L830.0 372.5L830.5 374.2L831.0 378.5L831.5 383.7L832.0 386.7L832.5 387.4L833.0 386.5L833.5 383.8L834.0 380.0L834.5 377.6L835.0 377.3L835.5 378.3L836.0 378.9L836.5 377.9L837.0 375.1L837.5 372.4L838.0 371.2L838.5 371.8L839.0 375.1L839.5 381.3L840.0 385.9L840.5 387.4L841.0 386.8L841.5 384.0L842.0 379.3L842.5 375.9L843.0 375.2L843.5 376.8L844.0 379.1L844.5 380.1L845.0 379.0L845.5 376.3L846.0 374.0L846.5 373.5L847.0 375.2L847.5 379.2L848.0 383.4L848.5 385.4L849.0 385.1L849.5 382.7L850.0 378.8L850.5 375.8L851.0 375.0L851.5 376.0L852.0 377.9L852.5 379.2L853.0 379.0L853.5 377.7L854.0 376.8L854.5 377.5L855.0 380.1L855.5 383.5L856.0 385.4L856.5 385.2L857.0 382.1L857.5 376.2L858.0 371.9L858.5 370.5L859.0 371.4L859.5 375.5L860.0 382.3L860.5 386.2L861.0 387.0L861.5 385.3L862.0 380.7L862.5 375.6L863.0 373.3L863.5 373.8L864.0 376.5L864.5 380.1L865.0 382.5L865.5 382.9L866.0 381.8L866.5 380.1L867.0 378.8L867.5 378.2L868.0 377.8L868.5 376.7L869.0 374.9L869.5 373.2L870.0 372.8L870.5 374.5L871.0 379.5L871.5 385.5L872.0 388.3L872.5 388.8L873.0 387.8L873.5 382.8L874.0 373.7L874.5 369.7L875.0 369.0L875.5 369.6L876.0 372.9L876.5 380.4L877.0 385.7L877.5 387.0L878.0 386.3L878.5 383.8L879.0 380.3L879.5 377.7L880.0 376.7L880.5 376.6L881.0 376.5L881.5 376.1L882.0 376.0L882.5 376.9L883.0 379.4L883.5 382.9L884.0 385.3L884.5 385.7L885.0 383.7L885.5 378.3L886.0 372.6L886.5 370.3L887.0 370.1L887.5 372.1L888.0 378.1L888.5 384.8L889.0 387.4L889.5 387.5L890.0 385.7L890.5 381.7L891.0 377.4L891.5 375.5L892.0 375.7L892.5 377.0L893.0 377.8L893.5 377.4L894.0 376.0L894.5 374.9L895.0 375.3L895.5 377.6L896.0 381.1L896.5 383.6L897.0 384.0L897.5 381.9L898.0 377.7L898.5 374.2L899.0 373.3L899.5 375.3L900.0 380.4L900.5 385.3L901.0 387.3L901.5 387.2L902.0 384.8L902.5 379.2L903.0 373.6L903.5 371.1L904.0 370.6L904.5 371.1L905.0 372.3L905.5 374.0L906.0 376.2L906.5 379.5L907.0 383.7L907.5 387.1L908.0 388.6L908.5 389.0L909.0 388.6L909.5 385.6L910.0 376.5L910.5 370.1L911.0 368.8L911.5 368.8L912.0 369.7L912.5 373.8L913.0 381.5L913.5 385.6L914.0 386.2L914.5 384.6L915.0 381.6L915.5 379.1L916.0 378.8L916.5 380.5L917.0 382.7L917.5 383.9L918.0 383.9L918.5 382.6L919.0 380.7L919.5 378.8L920.0 377.1L920.5 375.3L921.0 373.0L921.5 370.9L922.0 369.8L922.5 369.6L923.0 370.8L923.5 376.2L924.0 385.8L924.5 389.1L925.0 389.5L925.5 389.5L926.0 388.9L926.5 384.1L927.0 372.9L927.5 369.3L928.0 368.8L928.5 369.0L929.0 370.0L929.5 372.8L930.0 377.2L930.5 380.6L931.0 382.7L931.5 384.2L932.0 385.6L932.5 386.5L933.0 386.6L933.5 385.6L934.0 383.0L934.5 378.9L935.0 375.7L935.5 374.8L936.0 375.9L936.5 378.1L937.0 379.4L937.5 378.5L938.0 375.2L938.5 372.1L939.0 370.7L939.5 371.1L940.0 373.9L940.5 381.0L941.0 386.6L941.5 388.3L942.0 388.4L942.5 387.4L943.0 384.2L943.5 379.2L944.0 375.7L944.5 374.4L945.0 374.1L945.5 373.8L946.0 372.9L946.5 371.9L947.0 371.6L947.5 372.7L948.0 376.5L948.5 382.6L949.0 386.6L949.5 387.8L950.0 387.5L950.5 385.3L951.0 380.6L951.5 375.9L952.0 374.1L952.5 374.6L953.0 376.5L953.5 378.4L954.0 378.8L954.5 377.7L955.0 376.1L955.5 375.4L956.0 376.3L956.5 378.7L957.0 381.3L957.5 382.4L958.0 381.5L958.5 379.1L959.0 376.7L959.5 376.1L960.0 378.1L960.5 382.0L961.0 385.1L961.5 386.1L962.0 384.8L962.5 380.3L963.0 374.3L963.5 371.3L964.0 370.8L964.5 372.1L965.0 376.2L965.5 381.4L966.0 384.3L966.5 384.4L967.0 382.7L967.5 380.1L968.0 378.3L968.5 378.3L969.0 379.6L969.5 380.8L970.0 381.0L970.5 379.9L971.0 378.1L971.5 376.9L972.0 377.2L972.5 378.8L973.0 380.6L973.5 381.0L974.0 379.4L974.5 376.1L975.0 373.3L975.5 372.4L976.0 373.8L976.5 378.4L977.0 384.1L977.5 386.9L978.0 387.3L978.5 385.9L979.0 381.4L979.5 375.5L980.0 372.6L980.5 372.5L981.0 374.4L981.5 377.9L982.0 380.6L982.5 380.9L983.0 379.2L983.5 376.9L984.0 375.8L984.5 376.6L985.0 379.0L985.5 381.9L986.0 383.5L986.5 383.5L987.0 382.1L987.5 380.2L988.0 378.9L988.5 378.9L989.0 379.5L989.5 379.5L990.0 378.0L990.5 375.2L991.0 372.8L991.5 372.0L992.0 373.1L992.5 377.3L993.0 383.5L993.5 386.9L994.0 387.6L994.5 386.7L995.0 382.8L995.5 376.0L996.0 372.1L996.5 371.4L997.0 372.6L997.5 376.1L998.0 380.3L998.5 382.5L999.0 382.4L999.5 380.8L1000.0 379.1L1000.5 378.5L1001.0 379.3L1001.5 380.6L1002.0 381.3L1002.5 380.6L1003.0 378.7L1003.5 376.8L1004.0 376.1L1004.5 377.1L1005.0 379.4L1005.5 381.5L1006.0 381.9L1006.5 380.0L1007.0 376.5L1007.5 373.7L1008.0 373.1L1008.5 374.9L1009.0 379.9L1009.5 384.8L1010.0 386.9L1010.5 386.9L1011.0 384.9L1011.5 379.8L1012.0 374.3L1012.5 372.0L1013.0 371.8L1013.5 372.9L1014.0 375.1L1014.5 377.1L1015.0 378.1L1015.5 378.7L1016.0 379.9L1016.5 382.4L1017.0 385.1L1017.5 386.8L1018.0 387.1L1018.5 385.9L1019.0 381.6L1019.5 374.8L1020.0 371.2L1020.5 370.3L1021.0 370.7L1021.5 372.7L1022.0 376.9L1022.5 381.0L1023.0 382.9L1023.5 383.0L1024.0 382.5L1024.5 382.5L1025.0 383.2L1025.5 384.0L1026.0 384.2L1026.5 382.9L1027.0 379.7L1027.5 375.9L1028.0 373.7L1028.5 373.4L1029.0 375.0L1029.5 377.9L1030.0 380.0L1030.5 379.8L1031.0 377.0L1031.5 373.9L1032.0 372.4L1032.5 373.1L1033.0 377.5L1033.5 384.4L1034.0 387.7L1034.5 388.4L1035.0 388.2L1035.5 386.6L1036.0 380.4L1036.5 372.9L1037.0 370.3L1037.5 369.8L1038.0 370.0L1038.5 370.8L1039.0 372.8L1039.5 376.5L1040.0 381.4L1040.5 385.4L1041.0 387.4L1041.5 388.1L1042.0 388.0L1042.5 386.8L1043.0 381.9L1043.5 374.1L1044.0 370.8L1044.5 370.2L1045.0 371.1L1045.5 374.9L1046.0 381.5L1046.5 385.0L1047.0 385.0L1047.5 381.9L1048.0 376.3L1048.5 372.7L1049.0 372.0L1049.5 373.6L1050.0 378.4L1050.5 383.9L1051.0 386.4L1051.5 386.9L1052.0 386.2L1052.5 384.4L1053.0 381.6L1053.5 378.4L1054.0 375.5L1054.5 373.2L1055.0 371.5L1055.5 370.7L1056.0 370.7L1056.5 372.0L1057.0 376.6L1057.5 383.9L1058.0 387.3L1058.5 388.1L1059.0 387.8L1059.5 385.6L1060.0 379.5L1060.5 373.7L1061.0 371.9L1061.5 372.4L1062.0 375.0L1062.5 378.9L1063.0 381.5L1063.5 381.5L1064.0 379.8L1064.5 377.5L1065.0 376.4L1065.5 376.8L1066.0 378.2L1066.5 379.5L1067.0 379.6L1067.5 378.6L1068.0 377.3L1068.5 377.2L1069.0 379.2L1069.5 382.7L1070.0 385.5L1070.5 386.5L1071.0 385.8L1071.5 382.4L1072.0 375.9L1072.5 371.7L1073.0 370.6L1073.5 370.7L1074.0 372.3L1074.5 376.3L1075.0 380.9L1075.5 383.4L1076.0 384.1L1076.5 384.1L1077.0 384.0L1077.5 384.2L1078.0 384.4L1078.5 383.6L1079.0 381.2L1079.5 377.0L1080.0 373.3L1080.5 371.9L1081.0 372.1L1081.5 374.4L1082.0 379.2L1082.5 383.1L1083.0 384.1L1083.5 382.3L1084.0 377.9L1084.5 374.0L1085.0 372.8L1085.5 374.1L1086.0 379.0L1086.5 384.6L1087.0 387.0L1087.5 387.3L1088.0 386.5L1088.5 383.2L1089.0 377.6L1089.5 373.5L1090.0 371.8L1090.5 371.3L1091.0 371.4L1091.5 371.9L1092.0 373.0L1092.5 375.6L1093.0 380.6L1093.5 385.4L1094.0 387.5L1094.5 388.0L1095.0 387.8L1095.5 385.8L1096.0 379.2L1096.5 372.6L1097.0 370.6L1097.5 370.6L1098.0 372.0L1098.5 376.2L1099.0 381.0L1099.5 382.9L1100.0 381.9L1100.5 379.1L1101.0 376.5L1101.5 376.0L1102.0 377.9L1102.5 381.4L1103.0 384.2L1103.5 385.2L1104.0 384.6L1104.5 382.5L1105.0 379.6L1105.5 377.2L1106.0 376.1L1106.5 375.7L1107.0 375.2L1107.5 374.2L1108.0 373.2L1108.5 373.0L1109.0 374.1L1109.5 377.8L1110.0 383.2L1110.5 386.4L1111.0 387.3L1111.5 386.9L1112.0 384.6L1112.5 378.9L1113.0 373.9L1113.5 372.3L1114.0 372.6L1114.5 374.6L1115.0 377.6L1115.5 379.4L1116.0 379.1L1116.5 377.6L1117.0 376.5L1117.5 377.1L1118.0 379.7L1118.5 383.2L1119.0 385.3L1119.5 385.6L1120.0 384.1L1120.5 380.4L1121.0 376.1L1121.5 373.8L1122.0 373.5L1122.5 374.7L1123.0 376.7L1123.5 378.2L1124.0 378.4L1124.5 377.9L1125.0 377.7L1125.5 378.9L1126.0 381.5L1126.5 384.1L1127.0 385.3L1127.5 384.9L1128.0 382.4L1128.5 377.7L1129.0 374.0L1129.5 372.7L1130.0 373.4L1130.5 375.8L1131.0 379.2L1131.5 381.1L1132.0 380.9L1132.5 379.0L1133.0 377.2L1133.5 376.9L1134.0 378.8L1134.5 382.2L1135.0 384.6L1135.5 385.3L1136.0 384.1L1136.5 380.3L1137.0 375.7L1137.5 373.1L1138.0 372.8L1138.5 374.0L1139.0 376.8L1139.5 379.4L1140.0 380.4L1140.5 379.8L1141.0 378.7L1141.5 378.3L1142.0 379.6L1142.5 382.0L1143.0 384.0L1143.5 384.6L1144.0 383.6L1144.5 380.6L1145.0 376.8L1145.5 374.4L1146.0 374.0L1146.5 375.0L1147.0 376.8L1147.5 378.1L1148.0 377.9L1148.5 376.8L1149.0 375.9L1149.5 376.6L1150.0 379.6L1150.5 383.7L1151.0 386.1L1151.5 386.7L1152.0 385.7L1152.5 381.7L1153.0 375.3L1153.5 371.9L1154.0 371.3L1154.5 372.2L1155.0 375.4L1155.5 380.4L1156.0 383.4L1156.5 383.8L1157.0 382.3L1157.5 379.8L1158.0 377.8L1158.5 377.3L1159.0 378.0L1159.5 379.0L1160.0 379.5L1160.5 379.4L1161.0 379.1L1161.5 379.6L1162.0 381.0L1162.5 382.8L1163.0 383.6L1163.5 382.8L1164.0 379.3L1164.5 374.4L1165.0 371.6L1165.5 370.9L1166.0 371.6L1166.5 375.3L1167.0 382.8L1167.5 386.6L1168.0 387.4L1168.5 386.9L1169.0 384.3L1169.5 378.3L1170.0 373.8L1170.5 372.6L1171.0 373.4L1171.5 375.8L1172.0 378.8L1172.5 380.7L1173.0 381.0L1173.5 380.3L1174.0 379.5L1174.5 379.2L1175.0 379.2L1175.5 378.7L1176.0 377.5L1176.5 375.7L1177.0 374.6L1177.5 375.0L1178.0 377.8L1178.5 382.6L1179.0 386.0L1179.5 387.1L1180.0 386.9L1180.5 384.7L1181.0 377.9L1181.5 372.1L1182.0 370.6L1182.5 370.5L1183.0 371.3L1183.5 374.4L1184.0 379.8L1184.5 383.4L1185.0 384.5L1185.5 384.6L1186.0 384.3L1186.5 384.3L1187.0 384.5L1187.5 384.2L1188.0 382.7L1188.5 379.1L1189.0 374.8L1189.5 372.3L1190.0 371.7L1190.5 372.4L1191.0 375.0L1191.5 379.3L1192.0 382.3L1192.5 382.7L1193.0 381.0L1193.5 378.4L1194.0 376.8L1194.5 377.4L1195.0 380.3L1195.5 383.6L1196.0 385.4L1196.5 385.5L1197.0 384.2L1197.5 381.0L1198.0 377.0L1198.5 374.5L1199.0 373.5L1199.5 373.2L1200.0 373.0L1200.5 372.8L1201.0 372.6L1201.5 373.3L1202.0 376.1L1202.5 382.1L1203.0 386.5L1203.5 387.7L1204.0 387.9L1204.5 387.6L1205.0 385.2L1205.5 376.5L1206.0 371.1L1206.5 370.2L1207.0 370.2L1207.5 370.9L1208.0 373.6L1208.5 379.1L1209.0 383.1L1209.5 384.6L1210.0 384.8L1210.5 384.4L1211.0 384.0L1211.5 383.3L1212.0 382.1L1212.5 380.0L1213.0 377.4L1213.5 375.5L1214.0 375.1L1214.5 376.6L1215.0 379.4L1215.5 381.9L1216.0 382.4L1216.5 380.1L1217.0 375.5L1217.5 372.2" fill="none" stroke="#e03a3a" stroke-width="1.2" stroke-opacity="0.4" stroke-linejoin="round"/><path d="M122.0 373.4L122.5 376.4L123.0 379.0L123.5 380.8L124.0 381.8L124.5 382.7L125.0 383.8L125.5 385.3L126.0 386.7L126.5 387.8L127.0 388.2L127.5 387.9L128.0 386.4L128.5 382.7L129.0 376.7L129.5 371.7L130.0 369.4L130.5 368.7L131.0 368.8L131.5 369.9L132.0 372.9L132.5 377.7L133.0 382.2L133.5 384.4L134.0 384.6L134.5 383.0L135.0 380.2L135.5 377.4L136.0 376.0L136.5 376.4L137.0 378.8L137.5 382.5L138.0 385.7L138.5 387.5L139.0 388.1L139.5 387.5L140.0 385.5L140.5 381.6L141.0 376.9L141.5 373.3L142.0 371.4L142.5 370.8L143.0 371.1L143.5 371.9L144.0 373.0L144.5 374.0L145.0 374.7L145.5 375.2L146.0 375.9L146.5 377.1L147.0 379.2L147.5 381.9L148.0 384.7L148.5 386.8L149.0 388.0L149.5 388.3L150.0 387.9L150.5 386.6L151.0 384.4L151.5 381.5L152.0 378.5L152.5 376.0L153.0 374.2L153.5 372.8L154.0 371.6L154.5 370.5L155.0 369.7L155.5 369.4L156.0 369.9L156.5 371.6L157.0 375.1L157.5 380.3L158.0 385.3L158.5 388.6L159.0 389.9L159.5 389.1L160.0 385.9L160.5 380.3L161.0 374.5L161.5 371.0L162.0 370.9L162.5 374.8L163.0 382.8L163.5 391.0L164.0 395.7L164.5 397.4L165.0 396.9L165.5 392.6L166.0 380.1L166.5 364.9L167.0 358.3L167.5 356.4L168.0 355.9L168.5 356.4L169.0 359.3L169.5 370.2L170.0 387.9L170.5 397.8L171.0 400.9L171.5 401.4L172.0 400.4L172.5 397.4L173.0 391.7L173.5 384.6L174.0 379.1L174.5 376.4L175.0 375.8L175.5 376.0L176.0 375.5L176.5 373.6L177.0 370.6L177.5 367.5L178.0 365.3L178.5 364.6L179.0 365.5L179.5 368.4L180.0 373.5L180.5 380.1L181.0 386.0L181.5 389.8L182.0 391.5L182.5 391.6L183.0 390.5L183.5 388.2L184.0 384.8L184.5 380.5L185.0 376.1L185.5 372.4L186.0 369.8L186.5 368.6L187.0 368.6L187.5 370.0L188.0 373.4L188.5 379.1L189.0 385.2L189.5 389.3L190.0 390.9L190.5 391.0L191.0 389.5L191.5 385.2L192.0 377.1L192.5 370.1L193.0 367.2L193.5 366.5L194.0 367.0L194.5 369.0L195.0 375.0L195.5 383.7L196.0 388.8L196.5 390.4L197.0 390.3L197.5 388.7L198.0 384.0L198.5 376.6L199.0 371.3L199.5 369.5L200.0 369.7L200.5 372.1L201.0 377.4L201.5 383.5L202.0 387.1L202.5 388.2L203.0 387.6L203.5 385.0L204.0 380.1L204.5 374.8L205.0 371.7L205.5 370.7L206.0 371.1L206.5 373.0L207.0 376.1L207.5 379.5L208.0 381.8L208.5 382.6L209.0 382.0L209.5 380.6L210.0 378.9L210.5 377.8L211.0 377.6L211.5 378.3L212.0 379.7L212.5 381.3L213.0 382.6L213.5 383.3L214.0 383.3L214.5 382.8L215.0 381.9L215.5 380.8L216.0 379.5L216.5 378.2L217.0 376.8L217.5 375.4L218.0 374.2L218.5 373.3L219.0 372.9L219.5 373.3L220.0 374.6L220.5 377.0L221.0 380.0L221.5 382.7L222.0 384.3L222.5 384.5L223.0 383.4L223.5 380.8L224.0 377.6L224.5 375.1L225.0 374.1L225.5 375.1L226.0 378.2L226.5 382.9L227.0 386.5L227.5 388.1L228.0 388.5L228.5 387.8L229.0 385.3L229.5 378.7L230.0 372.0L230.5 369.4L231.0 368.7L231.5 368.6L232.0 368.9L232.5 370.1L233.0 373.9L233.5 380.8L234.0 385.7L234.5 387.6L235.0 388.2L235.5 388.1L236.0 387.7L236.5 386.9L237.0 386.0L237.5 385.1L238.0 384.1L238.5 382.7L239.0 380.4L239.5 377.0L240.0 373.5L240.5 371.0L241.0 369.9L241.5 369.5L242.0 369.6L242.5 370.3L243.0 372.4L243.5 376.9L244.0 382.1L244.5 385.5L245.0 386.9L245.5 387.1L246.0 386.7L246.5 385.6L247.0 383.8L247.5 381.8L248.0 380.2L248.5 379.0L249.0 378.3L249.5 377.8L250.0 377.3L250.5 376.9L251.0 376.5L251.5 376.6L252.0 377.0L252.5 378.0L253.0 379.1L253.5 380.1L254.0 380.4L254.5 379.7L255.0 378.1L255.5 375.8L256.0 373.8L256.5 372.6L257.0 372.4L257.5 373.3L258.0 375.8L258.5 380.0L259.0 384.0L259.5 386.4L260.0 387.3L260.5 387.3L261.0 386.6L261.5 384.8L262.0 381.8L262.5 378.7L263.0 376.5L263.5 375.6L264.0 375.4L264.5 375.5L265.0 375.5L265.5 374.9L266.0 373.9L266.5 372.8L267.0 372.1L267.5 372.2L268.0 373.2L268.5 375.9L269.0 380.2L269.5 384.4L270.0 386.7L270.5 387.5L271.0 387.4L271.5 386.3L272.0 383.7L272.5 379.6L273.0 375.9L273.5 374.1L274.0 374.1L274.5 375.5L275.0 378.0L275.5 380.5L276.0 381.9L276.5 381.7L277.0 379.8L277.5 376.7L278.0 373.8L278.5 372.1L279.0 371.6L279.5 372.3L280.0 374.4L280.5 378.3L281.0 382.7L281.5 385.5L282.0 386.7L282.5 386.8L283.0 386.2L283.5 384.5L284.0 381.8L284.5 378.7L285.0 376.1L285.5 374.6L286.0 373.8L286.5 373.5L287.0 373.7L287.5 374.2L288.0 375.2L288.5 376.7L289.0 378.8L289.5 381.1L290.0 383.2L290.5 384.5L291.0 385.1L291.5 384.8L292.0 383.5L292.5 381.2L293.0 378.1L293.5 375.4L294.0 373.8L294.5 373.3L295.0 373.6L295.5 374.8L296.0 376.3L296.5 377.8L297.0 378.7L297.5 378.9L298.0 378.8L298.5 378.8L299.0 379.6L299.5 381.4L300.0 383.8L300.5 385.8L301.0 387.0L301.5 387.3L302.0 386.7L302.5 384.4L303.0 378.8L303.5 372.7L304.0 370.1L304.5 369.5L305.0 369.4L305.5 369.7L306.0 371.2L306.5 376.7L307.0 384.5L307.5 387.6L308.0 388.3L308.5 388.3L309.0 387.8L309.5 385.7L310.0 380.5L310.5 374.9L311.0 372.2L311.5 371.5L312.0 372.1L312.5 374.0L313.0 377.3L313.5 380.8L314.0 383.0L314.5 383.8L315.0 383.4L315.5 382.2L316.0 380.4L316.5 378.5L317.0 377.1L317.5 376.2L318.0 375.8L318.5 375.6L319.0 375.5L319.5 375.6L320.0 375.8L320.5 376.3L321.0 377.1L321.5 378.3L322.0 379.8L322.5 381.3L323.0 382.4L323.5 383.1L324.0 383.5L324.5 383.6L325.0 383.6L325.5 383.6L326.0 383.6L326.5 383.5L327.0 383.0L327.5 381.8L328.0 379.2L328.5 375.6L329.0 372.5L329.5 370.7L330.0 370.1L330.5 369.9L331.0 370.2L331.5 371.4L332.0 375.7L332.5 383.0L333.0 387.0L333.5 388.1L334.0 388.3L334.5 388.1L335.0 387.3L335.5 384.6L336.0 379.2L336.5 374.7L337.0 372.9L337.5 372.9L338.0 374.5L338.5 377.4L339.0 380.3L339.5 381.6L340.0 380.9L340.5 378.1L341.0 374.3L341.5 371.8L342.0 370.7L342.5 370.5L343.0 371.1L343.5 373.4L344.0 378.6L344.5 384.4L345.0 387.0L345.5 387.8L346.0 388.0L346.5 387.7L347.0 386.9L347.5 384.7L348.0 381.0L348.5 377.0L349.0 374.3L349.5 372.9L350.0 372.3L350.5 372.1L351.0 372.3L351.5 372.7L352.0 373.7L352.5 375.1L353.0 377.2L353.5 379.5L354.0 381.6L354.5 382.9L355.0 383.5L355.5 383.2L356.0 382.4L356.5 381.1L357.0 379.8L357.5 379.0L358.0 378.9L358.5 379.4L359.0 380.2L359.5 380.9L360.0 381.0L360.5 380.4L361.0 379.2L361.5 377.6L362.0 376.4L362.5 376.0L363.0 376.7L363.5 378.4L364.0 380.6L364.5 382.5L365.0 383.2L365.5 382.5L366.0 380.0L366.5 376.1L367.0 372.7L367.5 371.1L368.0 370.6L368.5 371.0L369.0 372.9L369.5 378.0L370.0 384.5L370.5 387.4L371.0 388.1L371.5 388.3L372.0 388.0L372.5 386.9L373.0 383.2L373.5 376.7L374.0 372.4L374.5 370.8L375.0 370.5L375.5 370.7L376.0 371.4L376.5 372.7L377.0 374.7L377.5 376.9L378.0 378.9L378.5 380.6L379.0 382.2L379.5 383.7L380.0 385.0L380.5 385.9L381.0 386.3L381.5 386.0L382.0 384.9L382.5 382.4L383.0 378.4L383.5 374.5L384.0 372.3L384.5 371.4L385.0 371.4L385.5 372.2L386.0 374.3L386.5 377.7L387.0 381.2L387.5 383.6L388.0 384.7L388.5 384.9L389.0 384.5L389.5 383.6L390.0 382.5L390.5 381.1L391.0 379.7L391.5 378.2L392.0 376.6L392.5 375.0L393.0 373.7L393.5 372.9L394.0 372.7L394.5 373.2L395.0 374.7L395.5 377.5L396.0 381.0L396.5 383.8L397.0 385.4L397.5 385.8L398.0 385.4L398.5 384.1L399.0 381.9L399.5 379.5L400.0 377.8L400.5 377.3L401.0 377.7L401.5 378.5L402.0 379.3L402.5 379.3L403.0 378.1L403.5 376.1L404.0 374.0L404.5 372.6L405.0 372.1L405.5 372.5L406.0 374.1L406.5 377.5L407.0 381.7L407.5 384.8L408.0 386.1L408.5 386.3L409.0 385.6L409.5 383.9L410.0 381.2L410.5 378.7L411.0 377.4L411.5 377.5L412.0 378.6L412.5 380.2L413.0 381.2L413.5 381.1L414.0 379.4L414.5 376.6L415.0 373.7L415.5 371.9L416.0 371.3L416.5 371.5L417.0 373.0L417.5 376.4L418.0 381.2L418.5 384.8L419.0 386.4L419.5 386.7L420.0 386.1L420.5 384.3L421.0 381.0L421.5 377.3L422.0 374.9L422.5 374.0L423.0 374.4L423.5 375.9L424.0 378.3L424.5 380.8L425.0 382.7L425.5 383.8L426.0 384.0L426.5 383.5L427.0 382.3L427.5 380.2L428.0 377.5L428.5 374.8L429.0 372.6L429.5 371.3L430.0 370.7L430.5 370.6L431.0 371.2L431.5 373.0L432.0 377.3L432.5 383.1L433.0 386.8L433.5 388.1L434.0 388.4L434.5 388.4L435.0 388.0L435.5 386.5L436.0 382.8L436.5 377.6L437.0 373.8L437.5 372.1L438.0 371.6L438.5 371.7L439.0 371.9L439.5 372.1L440.0 371.9L440.5 371.6L441.0 371.3L441.5 371.5L442.0 372.7L442.5 376.1L443.0 382.2L443.5 386.9L444.0 388.5L444.5 388.9L445.0 388.9L445.5 388.8L446.0 387.9L446.5 383.7L447.0 374.6L447.5 370.2L448.0 369.3L448.5 369.2L449.0 369.3L449.5 370.2L450.0 373.2L450.5 379.4L451.0 384.4L451.5 386.3L452.0 386.6L452.5 385.7L453.0 383.5L453.5 380.4L454.0 377.4L454.5 375.7L455.0 375.3L455.5 375.8L456.0 377.2L456.5 379.0L457.0 380.7L457.5 382.0L458.0 382.8L458.5 383.2L459.0 383.1L459.5 382.5L460.0 381.4L460.5 379.8L461.0 377.9L461.5 376.0L462.0 374.6L462.5 374.0L463.0 374.2L463.5 375.2L464.0 377.0L464.5 379.1L465.0 380.7L465.5 381.3L466.0 380.8L466.5 379.2L467.0 377.0L467.5 375.3L468.0 374.7L468.5 375.6L469.0 378.2L469.5 382.1L470.0 385.4L470.5 387.1L471.0 387.5L471.5 387.0L472.0 384.9L472.5 379.9L473.0 374.1L473.5 371.1L474.0 370.1L474.5 370.2L475.0 371.3L475.5 374.5L476.0 379.7L476.5 383.8L477.0 385.5L477.5 385.3L478.0 383.5L478.5 379.9L479.0 376.1L479.5 374.0L480.0 373.7L480.5 375.4L481.0 379.0L481.5 383.2L482.0 385.8L482.5 386.8L483.0 386.6L483.5 385.0L484.0 381.1L484.5 376.0L485.0 372.4L485.5 370.9L486.0 370.6L486.5 371.2L487.0 372.9L487.5 376.4L488.0 380.7L488.5 384.0L489.0 385.8L489.5 386.6L490.0 386.5L490.5 385.9L491.0 384.4L491.5 381.8L492.0 378.3L492.5 374.7L493.0 372.2L493.5 370.8L494.0 370.3L494.5 370.5L495.0 371.6L495.5 374.4L496.0 379.4L496.5 384.5L497.0 387.2L497.5 388.2L498.0 388.3L498.5 387.9L499.0 386.6L499.5 383.6L500.0 379.3L500.5 375.6L501.0 373.5L501.5 372.6L502.0 372.3L502.5 372.2L503.0 372.1L503.5 371.9L504.0 371.6L504.5 371.6L505.0 372.2L505.5 374.1L506.0 378.3L506.5 383.8L507.0 387.4L507.5 388.8L508.0 389.2L508.5 389.1L509.0 388.6L509.5 386.4L510.0 380.1L510.5 372.9L511.0 370.0L511.5 369.2L512.0 369.2L512.5 369.8L513.0 371.8L513.5 375.9L514.0 380.5L514.5 383.4L515.0 384.3L515.5 383.8L516.0 382.3L516.5 380.5L517.0 379.1L517.5 378.5L518.0 378.8L518.5 379.5L519.0 380.2L519.5 380.5L520.0 380.3L520.5 379.6L521.0 379.0L521.5 378.8L522.0 379.3L522.5 380.6L523.0 382.3L523.5 383.7L524.0 384.4L524.5 383.9L525.0 382.1L525.5 378.7L526.0 374.8L526.5 371.9L527.0 370.4L527.5 370.0L528.0 370.3L528.5 371.5L529.0 374.0L529.5 377.6L530.0 381.1L530.5 383.7L531.0 385.3L531.5 386.2L532.0 386.8L532.5 387.2L533.0 387.4L533.5 387.3L534.0 386.7L534.5 385.3L535.0 382.4L535.5 378.1L536.0 373.7L536.5 370.7L537.0 369.2L537.5 368.8L538.0 369.2L538.5 370.5L539.0 372.8L539.5 375.8L540.0 378.3L540.5 379.6L541.0 379.7L541.5 379.3L542.0 379.4L542.5 380.8L543.0 383.6L543.5 387.2L544.0 389.9L544.5 391.4L545.0 391.9L545.5 391.4L546.0 389.2L546.5 382.7L547.0 373.0L547.5 367.1L548.0 364.9L548.5 364.3L549.0 364.4L549.5 365.7L550.0 369.4L550.5 376.1L551.0 382.6L551.5 386.3L552.0 387.3L552.5 386.8L553.0 385.5L553.5 384.5L554.0 384.9L554.5 386.7L555.0 388.9L555.5 390.6L556.0 391.0L556.5 389.4L557.0 384.8L557.5 376.9L558.0 369.0L558.5 364.4L559.0 362.5L559.5 362.4L560.0 364.2L560.5 369.2L561.0 378.3L561.5 387.3L562.0 392.4L562.5 394.3L563.0 394.2L563.5 392.1L564.0 387.4L564.5 380.4L565.0 373.1L565.5 368.0L566.0 365.3L566.5 364.3L567.0 364.7L567.5 366.7L568.0 371.2L568.5 378.5L569.0 386.8L569.5 392.8L570.0 395.6L570.5 396.5L571.0 396.2L571.5 394.2L572.0 388.3L572.5 376.9L573.0 366.8L573.5 362.7L574.0 361.6L574.5 361.8L575.0 363.3L575.5 367.8L576.0 377.3L576.5 386.7L577.0 391.3L577.5 392.3L578.0 391.3L578.5 388.2L579.0 383.3L579.5 378.6L580.0 376.4L580.5 377.0L581.0 379.7L581.5 383.1L582.0 385.3L582.5 385.3L583.0 382.6L583.5 377.1L584.0 371.3L584.5 367.7L585.0 366.5L585.5 367.0L586.0 369.8L586.5 376.9L587.0 385.8L587.5 390.8L588.0 392.4L588.5 392.4L589.0 391.2L589.5 387.0L590.0 378.0L590.5 369.9L591.0 366.6L591.5 365.7L592.0 365.9L592.5 367.1L593.0 370.6L593.5 377.3L594.0 384.4L594.5 388.6L595.0 390.4L595.5 390.9L596.0 390.5L596.5 389.3L597.0 387.0L597.5 383.5L598.0 379.1L598.5 375.0L599.0 372.0L599.5 370.4L600.0 369.9L600.5 370.5L601.0 372.2L601.5 374.7L602.0 377.4L602.5 379.3L603.0 379.6L603.5 378.2L604.0 375.8L604.5 373.3L605.0 372.1L605.5 372.7L606.0 376.2L606.5 382.5L607.0 389.0L607.5 392.6L608.0 394.0L608.5 394.3L609.0 393.6L609.5 390.2L610.0 380.7L610.5 369.5L611.0 364.4L611.5 362.9L612.0 362.6L612.5 363.3L613.0 366.1L613.5 372.6L614.0 380.7L614.5 385.9L615.0 387.3L615.5 386.0L616.0 382.9L616.5 379.7L617.0 378.4L617.5 380.2L618.0 384.7L618.5 389.9L619.0 393.4L619.5 394.9L620.0 394.6L620.5 391.8L621.0 384.4L621.5 373.4L622.0 365.2L622.5 361.6L623.0 360.6L623.5 361.2L624.0 364.1L624.5 370.5L625.0 379.4L625.5 386.7L626.0 390.4L626.5 391.0L627.0 389.2L627.5 385.3L628.0 380.2L628.5 375.5L629.0 372.3L629.5 370.8L630.0 371.1L630.5 372.9L631.0 376.5L631.5 381.6L632.0 387.6L632.5 393.1L633.0 397.1L633.5 399.3L634.0 399.8L634.5 398.1L635.0 392.5L635.5 380.4L636.0 365.4L636.5 356.4L637.0 352.9L637.5 351.9L638.0 351.8L638.5 353.3L639.0 358.9L639.5 373.6L640.0 391.5L640.5 401.2L641.0 404.7L641.5 405.6L642.0 405.1L642.5 403.2L643.0 400.0L643.5 396.1L644.0 392.4L644.5 389.0L645.0 384.8L645.5 378.4L646.0 369.2L646.5 359.8L647.0 353.3L647.5 350.1L648.0 349.0L648.5 349.4L649.0 352.4L649.5 362.2L650.0 382.3L650.5 400.0L651.0 407.2L651.5 409.2L652.0 408.9L652.5 406.0L653.0 397.9L653.5 383.6L654.0 370.0L654.5 362.9L655.0 361.4L655.5 364.2L656.0 370.0L656.5 376.6L657.0 381.2L657.5 382.4L658.0 380.3L658.5 376.5L659.0 372.9L659.5 371.1L660.0 371.9L660.5 375.0L661.0 379.3L661.5 383.0L662.0 384.6L662.5 383.5L663.0 380.1L663.5 375.6L664.0 372.1L664.5 370.8L665.0 372.5L665.5 377.1L666.0 383.2L666.5 388.7L667.0 391.9L667.5 392.2L668.0 389.6L668.5 384.6L669.0 378.6L669.5 373.8L670.0 371.4L670.5 371.7L671.0 374.2L671.5 377.6L672.0 380.5L672.5 381.6L673.0 380.7L673.5 378.2L674.0 375.2L674.5 373.1L675.0 372.8L675.5 374.3L676.0 377.2L676.5 380.1L677.0 381.7L677.5 381.3L678.0 378.8L678.5 375.2L679.0 372.3L679.5 371.7L680.0 374.3L680.5 380.5L681.0 388.5L681.5 395.0L682.0 398.3L682.5 398.5L683.0 395.2L683.5 386.5L684.0 373.2L684.5 362.5L685.0 357.9L685.5 356.9L686.0 358.5L686.5 364.1L687.0 376.0L687.5 389.3L688.0 396.3L688.5 398.3L689.0 397.1L689.5 392.3L690.0 382.7L690.5 371.8L691.0 365.3L691.5 363.2L692.0 364.3L692.5 368.4L693.0 375.5L693.5 383.0L694.0 387.9L694.5 389.7L695.0 389.1L695.5 386.9L696.0 384.1L696.5 381.9L697.0 381.2L697.5 381.9L698.0 383.3L698.5 384.3L699.0 383.8L699.5 381.1L700.0 376.4L700.5 371.0L701.0 366.8L701.5 364.6L702.0 364.0L702.5 364.5L703.0 366.5L703.5 370.9L704.0 378.1L704.5 385.9L705.0 390.9L705.5 393.3L706.0 394.2L706.5 394.3L707.0 394.0L707.5 393.0L708.0 390.4L708.5 384.4L709.0 374.9L709.5 367.7L710.0 364.9L710.5 364.2L711.0 364.2L711.5 364.6L712.0 366.0L712.5 370.8L713.0 380.9L713.5 388.8L714.0 391.4L714.5 391.9L715.0 391.3L715.5 389.1L716.0 383.9L716.5 377.3L717.0 373.2L717.5 372.3L718.0 374.3L718.5 379.0L719.0 384.1L719.5 387.3L720.0 388.1L720.5 387.0L721.0 383.1L721.5 376.7L722.0 371.2L722.5 368.8L723.0 368.2L723.5 368.7L724.0 370.6L724.5 374.8L725.0 380.3L725.5 384.1L726.0 385.6L726.5 385.1L727.0 383.2L727.5 380.3L728.0 377.8L728.5 376.9L729.0 377.9L729.5 380.4L730.0 383.6L730.5 386.1L731.0 387.2L731.5 387.3L732.0 386.2L732.5 383.4L733.0 379.0L733.5 374.5L734.0 371.5L734.5 370.1L735.0 369.7L735.5 369.8L736.0 370.6L736.5 372.1L737.0 374.7L737.5 378.4L738.0 382.2L738.5 385.0L739.0 386.6L739.5 387.3L740.0 387.2L740.5 386.3L741.0 384.2L741.5 380.8L742.0 377.3L742.5 375.0L743.0 374.4L743.5 375.4L744.0 378.0L744.5 381.4L745.0 384.0L745.5 385.0L746.0 384.2L746.5 380.9L747.0 375.5L747.5 371.1L748.0 369.1L748.5 368.5L749.0 368.7L749.5 370.0L750.0 374.7L750.5 383.1L751.0 388.2L751.5 389.8L752.0 390.1L752.5 389.9L753.0 388.7L753.5 384.9L754.0 378.5L754.5 373.3L755.0 371.2L755.5 370.9L756.0 371.8L756.5 373.8L757.0 376.0L757.5 377.4L758.0 377.4L758.5 376.3L759.0 374.9L759.5 374.2L760.0 374.7L760.5 376.7L761.0 380.3L761.5 384.2L762.0 386.9L762.5 388.1L763.0 388.0L763.5 386.4L764.0 382.8L764.5 377.8L765.0 373.4L765.5 370.9L766.0 370.1L766.5 370.5L767.0 372.3L767.5 375.3L768.0 379.0L768.5 382.5L769.0 385.0L769.5 386.5L770.0 387.2L770.5 387.1L771.0 386.4L771.5 384.6L772.0 381.6L772.5 377.3L773.0 372.9L773.5 369.7L774.0 368.0L774.5 367.6L775.0 368.4L775.5 371.0L776.0 376.5L776.5 383.5L777.0 388.3L777.5 390.3L778.0 390.7L778.5 389.6L779.0 386.5L779.5 380.8L780.0 375.0L780.5 371.6L781.0 370.7L781.5 371.8L782.0 374.8L782.5 378.9L783.0 382.5L783.5 384.1L784.0 383.8L784.5 381.8L785.0 378.6L785.5 375.8L786.0 374.2L786.5 374.2L787.0 375.6L787.5 378.0L788.0 380.3L788.5 381.4L789.0 381.0L789.5 379.0L790.0 376.3L790.5 374.0L791.0 373.1L791.5 374.0L792.0 377.0L792.5 381.8L793.0 386.2L793.5 388.6L794.0 389.4L794.5 389.0L795.0 387.1L795.5 382.7L796.0 376.6L796.5 372.0L797.0 369.9L797.5 369.4L798.0 370.0L798.5 371.6L799.0 374.1L799.5 376.9L800.0 378.9L800.5 379.8L801.0 379.8L801.5 379.5L802.0 379.5L802.5 380.2L803.0 381.5L803.5 383.2L804.0 384.6L804.5 385.4L805.0 385.5L805.5 384.7L806.0 383.3L806.5 381.4L807.0 379.5L807.5 378.2L808.0 377.5L808.5 377.1L809.0 376.8L809.5 376.0L810.0 374.8L810.5 373.3L811.0 371.9L811.5 371.1L812.0 371.0L812.5 371.8L813.0 373.9L813.5 377.5L814.0 381.7L814.5 385.0L815.0 386.8L815.5 387.5L816.0 387.5L816.5 387.0L817.0 386.2L817.5 385.3L818.0 384.5L818.5 383.8L819.0 382.6L819.5 380.5L820.0 377.0L820.5 373.0L821.0 370.0L821.5 368.5L822.0 368.0L822.5 368.0L823.0 368.6L823.5 371.2L824.0 378.1L824.5 385.9L825.0 389.2L825.5 390.0L826.0 390.1L826.5 389.5L827.0 387.3L827.5 381.8L828.0 375.2L828.5 371.8L829.0 371.0L829.5 372.0L830.0 375.0L830.5 379.4L831.0 383.1L831.5 384.6L832.0 384.2L832.5 381.8L833.0 377.8L833.5 374.0L834.0 371.7L834.5 370.9L835.0 371.3L835.5 372.8L836.0 375.5L836.5 378.7L837.0 381.3L837.5 382.9L838.0 383.6L838.5 383.6L839.0 383.4L839.5 383.3L840.0 383.3L840.5 383.6L841.0 383.7L841.5 383.6L842.0 382.9L842.5 381.6L843.0 379.8L843.5 377.7L844.0 375.7L844.5 374.3L845.0 373.3L845.5 372.6L846.0 372.2L846.5 372.1L847.0 372.1L847.5 372.6L848.0 373.9L848.5 376.5L849.0 380.5L849.5 384.7L850.0 387.6L850.5 388.9L851.0 389.3L851.5 388.9L852.0 387.2L852.5 382.4L853.0 375.2L853.5 370.5L854.0 368.9L854.5 368.7L855.0 369.6L855.5 372.8L856.0 379.4L856.5 385.5L857.0 388.0L857.5 388.4L858.0 387.2L858.5 383.2L859.0 376.4L859.5 371.3L860.0 369.4L860.5 369.3L861.0 370.5L861.5 374.4L862.0 381.1L862.5 386.3L863.0 388.4L863.5 388.7L864.0 387.9L864.5 385.3L865.0 380.3L865.5 375.2L866.0 372.4L866.5 371.5L867.0 372.1L867.5 374.0L868.0 376.9L868.5 379.8L869.0 381.8L869.5 382.5L870.0 382.2L870.5 381.3L871.0 380.1L871.5 379.2L872.0 378.6L872.5 378.5L873.0 378.6L873.5 378.6L874.0 378.4L874.5 378.1L875.0 377.6L875.5 377.3L876.0 377.2L876.5 377.4L877.0 377.7L877.5 378.1L878.0 378.4L878.5 378.5L879.0 378.7L879.5 379.1L880.0 380.1L880.5 381.8L881.0 383.8L881.5 385.7L882.0 386.8L882.5 387.0L883.0 385.9L883.5 382.7L884.0 376.9L884.5 371.5L885.0 369.0L885.5 368.2L886.0 368.1L886.5 368.7L887.0 371.2L887.5 378.1L888.0 385.9L888.5 389.0L889.0 389.8L889.5 389.7L890.0 388.9L890.5 386.1L891.0 379.9L891.5 374.0L892.0 371.4L892.5 371.1L893.0 372.4L893.5 375.6L894.0 379.9L894.5 383.1L895.0 384.2L895.5 383.4L896.0 380.8L896.5 377.1L897.0 374.0L897.5 372.3L898.0 372.0L898.5 372.9L899.0 374.8L899.5 377.4L900.0 379.8L900.5 381.4L901.0 381.9L901.5 381.8L902.0 381.4L902.5 381.5L903.0 382.1L903.5 383.2L904.0 384.4L904.5 385.3L905.0 385.5L905.5 384.9L906.0 383.2L906.5 380.3L907.0 376.8L907.5 373.9L908.0 372.1L908.5 371.2L909.0 371.0L909.5 371.2L910.0 371.7L910.5 372.6L911.0 373.9L911.5 375.7L912.0 378.2L912.5 381.4L913.0 384.5L913.5 386.8L914.0 388.1L914.5 388.6L915.0 388.5L915.5 387.5L916.0 384.9L916.5 380.3L917.0 375.3L917.5 372.3L918.0 371.1L918.5 371.3L919.0 372.6L919.5 375.0L920.0 377.8L920.5 379.6L921.0 379.7L921.5 378.1L922.0 375.5L922.5 373.3L923.0 372.2L923.5 372.4L924.0 374.3L924.5 378.3L925.0 383.2L925.5 386.6L926.0 388.1L926.5 388.5L927.0 388.1L927.5 386.8L928.0 384.1L928.5 380.5L929.0 377.3L929.5 375.5L930.0 374.8L930.5 374.6L931.0 374.4L931.5 373.8L932.0 372.7L932.5 371.5L933.0 370.8L933.5 370.6L934.0 371.4L934.5 373.8L935.0 378.6L935.5 384.2L936.0 387.5L936.5 388.8L937.0 389.1L937.5 388.7L938.0 387.3L938.5 383.7L939.0 378.2L939.5 373.8L940.0 371.7L940.5 371.2L941.0 371.7L941.5 373.3L942.0 375.6L942.5 378.1L943.0 379.9L943.5 380.8L944.0 381.0L944.5 380.8L945.0 380.4L945.5 380.0L946.0 379.6L946.5 379.2L947.0 378.4L947.5 377.5L948.0 376.5L948.5 375.8L949.0 375.7L949.5 376.4L950.0 378.2L950.5 380.7L951.0 383.3L951.5 385.0L952.0 385.7L952.5 385.5L953.0 384.1L953.5 381.4L954.0 378.1L954.5 375.4L955.0 373.9L955.5 373.6L956.0 374.3L956.5 375.5L957.0 376.8L957.5 377.5L958.0 377.4L958.5 376.6L959.0 375.7L959.5 375.4L960.0 376.2L960.5 378.6L961.0 382.2L961.5 385.4L962.0 387.3L962.5 387.8L963.0 387.3L963.5 385.2L964.0 380.0L964.5 373.9L965.0 370.5L965.5 369.5L966.0 369.5L966.5 370.7L967.0 374.5L967.5 381.4L968.0 386.3L968.5 388.1L969.0 388.4L969.5 387.6L970.0 385.0L970.5 379.5L971.0 374.0L971.5 371.3L972.0 370.5L972.5 370.9L973.0 372.5L973.5 375.6L974.0 379.5L974.5 382.4L975.0 383.7L975.5 383.8L976.0 382.9L976.5 381.5L977.0 380.1L977.5 379.1L978.0 378.8L978.5 379.0L979.0 379.6L979.5 380.3L980.0 380.8L980.5 381.1L981.0 381.2L981.5 381.1L982.0 380.8L982.5 380.1L983.0 378.9L983.5 377.2L984.0 375.2L984.5 373.3L985.0 372.1L985.5 371.6L986.0 371.9L986.5 373.3L987.0 376.3L987.5 380.7L988.0 384.6L988.5 386.6L989.0 387.3L989.5 387.1L990.0 385.8L990.5 383.2L991.0 379.9L991.5 377.3L992.0 376.5L992.5 377.3L993.0 379.3L993.5 381.4L994.0 382.4L994.5 381.7L995.0 378.7L995.5 374.2L996.0 370.8L996.5 369.4L997.0 369.0L997.5 369.2L998.0 370.6L998.5 375.7L999.0 384.2L999.5 388.4L1000.0 389.3L1000.5 389.5L1001.0 389.3L1001.5 388.5L1002.0 385.1L1002.5 377.5L1003.0 371.9L1003.5 370.0L1004.0 369.7L1004.5 370.2L1005.0 372.0L1005.5 375.4L1006.0 379.5L1006.5 382.3L1007.0 383.2L1007.5 382.8L1008.0 381.2L1008.5 379.0L1009.0 376.9L1009.5 375.5L1010.0 374.9L1010.5 374.9L1011.0 375.5L1011.5 376.7L1012.0 378.2L1012.5 380.2L1013.0 382.2L1013.5 384.1L1014.0 385.4L1014.5 386.2L1015.0 386.4L1015.5 385.8L1016.0 384.4L1016.5 381.7L1017.0 378.2L1017.5 375.1L1018.0 373.1L1018.5 372.2L1019.0 372.1L1019.5 372.5L1020.0 373.2L1020.5 373.9L1021.0 374.2L1021.5 374.2L1022.0 374.1L1022.5 374.5L1023.0 376.0L1023.5 379.3L1024.0 383.7L1024.5 387.1L1025.0 388.6L1025.5 389.1L1026.0 389.1L1026.5 388.7L1027.0 386.9L1027.5 380.8L1028.0 372.8L1028.5 369.6L1029.0 368.9L1029.5 368.8L1030.0 369.0L1030.5 370.2L1031.0 374.1L1031.5 380.5L1032.0 384.9L1032.5 386.4L1033.0 386.3L1033.5 385.0L1034.0 382.5L1034.5 379.7L1035.0 378.0L1035.5 377.8L1036.0 379.2L1036.5 381.2L1037.0 383.1L1037.5 384.0L1038.0 383.9L1038.5 382.7L1039.0 380.4L1039.5 377.7L1040.0 375.5L1040.5 374.3L1041.0 374.1L1041.5 374.5L1042.0 375.4L1042.5 376.4L1043.0 377.2L1043.5 377.7L1044.0 377.9L1044.5 378.2L1045.0 378.7L1045.5 379.7L1046.0 381.0L1046.5 382.3L1047.0 383.1L1047.5 383.2L1048.0 382.5L1048.5 381.0L1049.0 379.1L1049.5 377.3L1050.0 376.2L1050.5 376.1L1051.0 376.8L1051.5 378.2L1052.0 379.7L1052.5 380.8L1053.0 381.1L1053.5 380.6L1054.0 379.4L1054.5 378.2L1055.0 377.3L1055.5 377.3L1056.0 378.0L1056.5 379.3L1057.0 380.5L1057.5 381.1L1058.0 380.6L1058.5 378.9L1059.0 376.4L1059.5 374.2L1060.0 373.0L1060.5 372.9L1061.0 374.4L1061.5 377.7L1062.0 382.2L1062.5 385.6L1063.0 387.2L1063.5 387.5L1064.0 386.9L1064.5 384.8L1065.0 380.4L1065.5 375.3L1066.0 372.3L1066.5 371.3L1067.0 371.3L1067.5 372.5L1068.0 374.9L1068.5 378.1L1069.0 380.7L1069.5 382.0L1070.0 382.1L1070.5 381.4L1071.0 380.4L1071.5 379.8L1072.0 380.0L1072.5 380.7L1073.0 381.7L1073.5 382.2L1074.0 381.9L1074.5 380.3L1075.0 377.7L1075.5 374.9L1076.0 372.9L1076.5 372.2L1077.0 372.6L1077.5 374.7L1078.0 378.9L1078.5 383.7L1079.0 386.6L1079.5 387.7L1080.0 387.9L1080.5 387.2L1081.0 385.1L1081.5 380.6L1082.0 375.0L1082.5 371.6L1083.0 370.3L1083.5 369.9L1084.0 369.9L1084.5 370.5L1085.0 371.7L1085.5 374.3L1086.0 378.1L1086.5 382.4L1087.0 385.5L1087.5 387.2L1088.0 388.0L1088.5 388.3L1089.0 388.2L1089.5 387.5L1090.0 385.8L1090.5 381.9L1091.0 376.5L1091.5 372.6L1092.0 370.9L1092.5 370.4L1093.0 370.6L1093.5 371.4L1094.0 373.1L1094.5 375.2L1095.0 377.1L1095.5 378.1L1096.0 378.1L1096.5 377.8L1097.0 377.9L1097.5 379.0L1098.0 381.2L1098.5 384.0L1099.0 386.2L1099.5 387.4L1100.0 387.7L1100.5 387.3L1101.0 385.5L1101.5 381.4L1102.0 375.8L1102.5 372.2L1103.0 370.9L1103.5 370.8L1104.0 371.8L1104.5 374.5L1105.0 378.7L1105.5 382.2L1106.0 383.6L1106.5 383.0L1107.0 380.4L1107.5 376.5L1108.0 373.3L1108.5 371.9L1109.0 371.9L1109.5 373.5L1110.0 377.4L1110.5 382.7L1111.0 386.2L1111.5 387.6L1112.0 387.9L1112.5 387.5L1113.0 386.1L1113.5 382.9L1114.0 378.3L1114.5 374.6L1115.0 372.7L1115.5 372.1L1116.0 372.4L1116.5 373.4L1117.0 374.9L1117.5 376.7L1118.0 378.3L1118.5 379.4L1119.0 380.0L1119.5 379.9L1120.0 379.5L1120.5 378.6L1121.0 377.6L1121.5 376.6L1122.0 375.9L1122.5 376.0L1123.0 377.0L1123.5 379.2L1124.0 382.4L1124.5 385.2L1125.0 387.0L1125.5 387.7L1126.0 387.7L1126.5 387.0L1127.0 384.5L1127.5 378.9L1128.0 373.0L1128.5 370.4L1129.0 369.6L1129.5 369.5L1130.0 369.8L1130.5 371.2L1131.0 374.7L1131.5 380.0L1132.0 383.8L1132.5 385.3L1133.0 385.4L1133.5 384.5L1134.0 383.0L1134.5 381.9L1135.0 381.8L1135.5 383.0L1136.0 384.7L1136.5 386.0L1137.0 386.4L1137.5 385.8L1138.0 383.2L1138.5 377.7L1139.0 372.3L1139.5 370.1L1140.0 369.4L1140.5 369.4L1141.0 369.7L1141.5 371.4L1142.0 377.1L1142.5 384.6L1143.0 387.7L1143.5 388.4L1144.0 388.5L1144.5 388.1L1145.0 386.6L1145.5 382.4L1146.0 376.3L1146.5 372.4L1147.0 370.9L1147.5 370.6L1148.0 370.9L1148.5 372.0L1149.0 374.3L1149.5 377.8L1150.0 381.5L1150.5 384.3L1151.0 385.8L1151.5 386.4L1152.0 386.4L1152.5 385.7L1153.0 383.9L1153.5 380.8L1154.0 376.9L1154.5 373.8L1155.0 372.2L1155.5 371.7L1156.0 372.1L1156.5 373.4L1157.0 375.9L1157.5 378.9L1158.0 381.2L1158.5 382.3L1159.0 382.3L1159.5 381.3L1160.0 380.0L1160.5 379.0L1161.0 379.1L1161.5 380.2L1162.0 382.1L1162.5 383.8L1163.0 384.8L1163.5 384.8L1164.0 383.3L1164.5 380.1L1165.0 375.8L1165.5 372.7L1166.0 371.3L1166.5 371.1L1167.0 372.0L1167.5 374.7L1168.0 379.5L1168.5 383.9L1169.0 386.0L1169.5 386.4L1170.0 385.5L1170.5 382.8L1171.0 378.2L1171.5 374.2L1172.0 372.4L1172.5 372.1L1173.0 373.1L1173.5 375.8L1174.0 379.9L1174.5 383.3L1175.0 385.1L1175.5 385.5L1176.0 384.8L1176.5 383.1L1177.0 380.7L1177.5 378.4L1178.0 377.0L1178.5 376.6L1179.0 377.0L1179.5 377.7L1180.0 378.3L1180.5 378.4L1181.0 377.9L1181.5 377.0L1182.0 376.0L1182.5 375.4L1183.0 375.3L1183.5 375.7L1184.0 376.6L1184.5 377.7L1185.0 378.7L1185.5 379.6L1186.0 380.2L1186.5 380.7L1187.0 381.5L1187.5 382.6L1188.0 383.9L1188.5 385.1L1189.0 385.9L1189.5 386.1L1190.0 385.6L1190.5 383.9L1191.0 380.3L1191.5 375.7L1192.0 372.3L1192.5 370.7L1193.0 370.2L1193.5 370.2L1194.0 370.7L1194.5 371.9L1195.0 374.3L1195.5 377.8L1196.0 381.1L1196.5 383.5L1197.0 384.9L1197.5 385.9L1198.0 386.6L1198.5 387.1L1199.0 387.4L1199.5 387.4L1200.0 387.1L1200.5 385.9L1201.0 382.6L1201.5 376.7L1202.0 372.0L1202.5 370.2L1203.0 369.7L1203.5 369.6L1204.0 369.9L1204.5 370.9L1205.0 374.4L1205.5 380.8L1206.0 385.3L1206.5 386.9L1207.0 387.2L1207.5 386.7L1208.0 385.3L1208.5 382.8L1209.0 380.1L1209.5 378.2L1210.0 377.7L1210.5 378.1L1211.0 379.0L1211.5 379.7L1212.0 379.7L1212.5 378.9L1213.0 377.6L1213.5 376.4L1214.0 375.8L1214.5 376.2L1215.0 377.5L1215.5 379.5L1216.0 381.4L1216.5 382.5L1217.0 382.4L1217.5 380.9" fill="none" stroke="#dd4a4a" stroke-width="1.2" stroke-opacity="0.4" stroke-linejoin="round"/><path d="M122.0 381.9L122.5 380.9L123.0 378.7L123.5 376.0L124.0 373.9L124.5 373.0L125.0 373.4L125.5 375.5L126.0 379.4L126.5 383.5L127.0 385.8L127.5 386.5L128.0 386.0L128.5 383.7L129.0 379.0L129.5 374.3L130.0 371.9L130.5 371.3L131.0 371.8L131.5 374.0L132.0 378.2L132.5 382.6L133.0 385.0L133.5 385.6L134.0 385.0L134.5 383.2L135.0 380.4L135.5 377.8L136.0 376.2L136.5 375.9L137.0 376.3L137.5 377.0L138.0 377.5L138.5 377.5L139.0 377.1L139.5 376.7L140.0 376.9L140.5 378.0L141.0 380.0L141.5 382.4L142.0 384.3L142.5 385.0L143.0 384.5L143.5 382.5L144.0 378.6L144.5 374.7L145.0 372.4L145.5 371.7L146.0 372.3L146.5 374.8L147.0 379.3L147.5 383.6L148.0 385.7L148.5 386.1L149.0 385.1L149.5 382.1L150.0 377.7L150.5 374.3L151.0 372.9L151.5 373.2L152.0 375.2L152.5 378.8L153.0 382.3L153.5 384.2L154.0 384.4L154.5 383.0L155.0 379.8L155.5 376.2L156.0 373.7L156.5 373.0L157.0 373.7L157.5 376.1L158.0 379.9L158.5 383.3L159.0 385.2L159.5 385.6L160.0 384.8L160.5 382.4L161.0 378.8L161.5 375.3L162.0 373.2L162.5 372.4L163.0 372.7L163.5 374.0L164.0 376.5L164.5 379.8L165.0 382.8L165.5 384.7L166.0 385.5L166.5 385.4L167.0 384.3L167.5 382.1L168.0 378.7L168.5 375.4L169.0 373.1L169.5 372.1L170.0 372.2L170.5 373.4L171.0 376.2L171.5 380.1L172.0 383.6L172.5 385.5L173.0 385.9L173.5 385.2L174.0 383.0L174.5 379.6L175.0 376.1L175.5 374.0L176.0 373.4L176.5 374.0L177.0 375.7L177.5 378.2L178.0 380.4L178.5 381.7L179.0 381.9L179.5 381.2L180.0 380.0L180.5 379.0L181.0 378.5L181.5 378.7L182.0 379.4L182.5 380.1L183.0 380.5L183.5 380.1L184.0 379.0L184.5 377.5L185.0 376.3L185.5 375.9L186.0 376.4L186.5 377.8L187.0 379.7L187.5 381.5L188.0 382.4L188.5 382.2L189.0 381.0L189.5 379.1L190.0 377.2L190.5 376.2L191.0 376.3L191.5 377.5L192.0 379.4L192.5 381.1L193.0 381.9L193.5 381.3L194.0 379.6L194.5 377.2L195.0 375.2L195.5 374.6L196.0 375.4L196.5 378.0L197.0 381.6L197.5 384.4L198.0 385.6L198.5 385.1L199.0 382.6L199.5 377.8L200.0 373.3L200.5 371.1L201.0 370.7L201.5 371.9L202.0 375.8L202.5 382.3L203.0 386.6L203.5 388.0L204.0 388.0L204.5 386.6L205.0 381.9L205.5 374.7L206.0 370.8L206.5 369.8L207.0 369.9L207.5 371.2L208.0 375.6L208.5 382.8L209.0 386.8L209.5 387.9L210.0 387.9L210.5 386.8L211.0 383.5L211.5 377.7L212.0 373.2L212.5 371.4L213.0 371.1L213.5 371.7L214.0 373.4L214.5 376.5L215.0 380.2L215.5 383.0L216.0 384.6L216.5 385.2L217.0 385.1L217.5 384.4L218.0 382.9L218.5 380.5L219.0 377.6L219.5 375.0L220.0 373.3L220.5 372.6L221.0 372.7L221.5 373.9L222.0 376.4L222.5 380.0L223.0 383.3L223.5 385.1L224.0 385.6L224.5 385.0L225.0 383.3L225.5 380.1L226.0 376.7L226.5 374.4L227.0 373.6L227.5 373.8L228.0 375.2L228.5 377.4L229.0 379.9L229.5 381.6L230.0 382.3L230.5 382.0L231.0 381.1L231.5 379.7L232.0 378.4L232.5 377.7L233.0 377.5L233.5 377.9L234.0 378.7L234.5 379.5L235.0 380.1L235.5 380.5L236.0 380.5L236.5 380.1L237.0 379.4L237.5 378.5L238.0 377.5L238.5 376.5L239.0 375.9L239.5 375.7L240.0 376.2L240.5 377.6L241.0 379.8L241.5 382.2L242.0 383.9L242.5 384.8L243.0 384.7L243.5 383.4L244.0 380.4L244.5 376.2L245.0 373.3L245.5 372.0L246.0 371.8L246.5 372.6L247.0 375.2L247.5 380.1L248.0 384.3L248.5 386.0L249.0 386.4L249.5 385.9L250.0 383.9L250.5 379.8L251.0 375.5L251.5 373.3L252.0 372.7L252.5 373.1L253.0 374.7L253.5 377.3L254.0 379.8L254.5 381.2L255.0 381.5L255.5 381.0L256.0 380.2L256.5 379.8L257.0 380.2L257.5 381.2L258.0 382.3L258.5 382.9L259.0 382.5L259.5 380.7L260.0 377.5L260.5 374.4L261.0 372.6L261.5 372.1L262.0 372.6L262.5 374.7L263.0 379.4L263.5 384.0L264.0 386.0L264.5 386.5L265.0 386.2L265.5 384.6L266.0 380.3L266.5 375.1L267.0 372.5L267.5 371.8L268.0 372.0L268.5 373.3L269.0 376.5L269.5 380.7L270.0 383.6L270.5 384.7L271.0 384.7L271.5 383.8L272.0 382.0L272.5 379.7L273.0 377.8L273.5 376.5L274.0 375.9L274.5 375.7L275.0 375.8L275.5 376.1L276.0 376.7L276.5 377.7L277.0 379.2L277.5 380.9L278.0 382.6L278.5 383.6L279.0 383.8L279.5 383.0L280.0 380.9L280.5 377.7L281.0 374.7L281.5 373.1L282.0 372.7L282.5 373.4L283.0 375.8L283.5 380.0L284.0 383.8L284.5 385.6L285.0 386.0L285.5 385.5L286.0 383.5L286.5 379.0L287.0 374.4L287.5 372.3L288.0 371.7L288.5 371.9L289.0 373.3L289.5 376.8L290.0 381.8L290.5 385.0L291.0 386.1L291.5 386.2L292.0 385.7L292.5 383.8L293.0 379.8L293.5 375.3L294.0 372.8L294.5 371.9L295.0 371.9L295.5 372.5L296.0 374.6L296.5 378.8L297.0 383.3L297.5 385.5L298.0 386.2L298.5 386.1L299.0 385.2L299.5 382.3L300.0 377.2L300.5 373.4L301.0 372.1L301.5 371.8L302.0 372.5L302.5 374.7L303.0 379.5L303.5 383.8L304.0 385.5L304.5 385.8L305.0 385.1L305.5 382.6L306.0 378.1L306.5 374.3L307.0 372.8L307.5 372.7L308.0 373.8L308.5 376.8L309.0 381.1L309.5 384.0L310.0 385.0L310.5 384.9L311.0 383.4L311.5 380.4L312.0 376.7L312.5 374.3L313.0 373.4L313.5 373.5L314.0 374.6L314.5 376.7L315.0 379.3L315.5 381.6L316.0 383.1L316.5 383.7L317.0 383.8L317.5 383.5L318.0 382.7L318.5 381.4L319.0 379.2L319.5 376.6L320.0 374.3L320.5 372.9L321.0 372.4L321.5 372.5L322.0 373.6L322.5 376.9L323.0 382.2L323.5 385.5L324.0 386.5L324.5 386.7L325.0 386.4L325.5 384.8L326.0 379.3L326.5 373.3L327.0 371.5L327.5 371.2L328.0 371.3L328.5 371.9L329.0 375.1L329.5 382.1L330.0 385.7L330.5 386.5L331.0 386.6L331.5 386.2L332.0 384.4L332.5 379.9L333.0 375.3L333.5 373.1L334.0 372.6L334.5 372.9L335.0 373.9L335.5 375.7L336.0 377.8L336.5 379.5L337.0 380.6L337.5 381.2L338.0 381.7L338.5 382.3L339.0 382.8L339.5 383.1L340.0 383.0L340.5 382.2L341.0 380.4L341.5 377.8L342.0 375.3L342.5 373.8L343.0 373.3L343.5 373.5L344.0 374.8L344.5 377.4L345.0 380.7L345.5 383.2L346.0 384.3L346.5 384.4L347.0 383.8L347.5 382.2L348.0 379.8L348.5 377.4L349.0 375.8L349.5 375.1L350.0 375.2L350.5 375.8L351.0 376.9L351.5 378.3L352.0 379.5L352.5 380.5L353.0 381.2L353.5 381.3L354.0 381.1L354.5 380.5L355.0 379.5L355.5 378.5L356.0 377.6L356.5 377.2L357.0 377.3L357.5 378.1L358.0 379.3L358.5 380.6L359.0 381.5L359.5 381.7L360.0 380.9L360.5 379.3L361.0 377.2L361.5 375.4L362.0 374.5L362.5 374.6L363.0 375.9L363.5 378.4L364.0 381.5L364.5 383.7L365.0 384.6L365.5 384.6L366.0 383.5L366.5 380.9L367.0 377.4L367.5 374.7L368.0 373.5L368.5 373.3L369.0 373.9L369.5 375.6L370.0 378.1L370.5 380.8L371.0 382.5L371.5 383.4L372.0 383.5L372.5 383.2L373.0 382.4L373.5 381.4L374.0 380.0L374.5 378.3L375.0 376.6L375.5 375.0L376.0 374.1L376.5 373.7L377.0 374.1L377.5 375.6L378.0 378.6L378.5 382.2L379.0 384.6L379.5 385.5L380.0 385.5L380.5 384.4L381.0 381.1L381.5 376.2L382.0 373.1L382.5 372.1L383.0 372.1L383.5 373.2L384.0 376.9L384.5 382.5L385.0 385.3L385.5 386.1L386.0 385.9L386.5 384.3L387.0 379.7L387.5 374.4L388.0 372.2L388.5 371.8L389.0 372.2L389.5 374.2L390.0 379.4L390.5 384.3L391.0 386.0L391.5 386.3L392.0 385.8L392.5 383.9L393.0 379.1L393.5 374.4L394.0 372.4L394.5 372.0L395.0 372.3L395.5 373.5L396.0 376.4L396.5 380.6L397.0 383.5L397.5 384.8L398.0 385.1L398.5 384.9L399.0 384.0L399.5 382.4L400.0 379.9L400.5 377.2L401.0 375.0L401.5 373.6L402.0 373.0L402.5 372.9L403.0 373.5L403.5 375.2L404.0 378.5L404.5 382.3L405.0 384.7L405.5 385.6L406.0 385.8L406.5 385.2L407.0 383.4L407.5 379.6L408.0 375.5L408.5 373.3L409.0 372.5L409.5 372.6L410.0 373.5L410.5 375.6L411.0 378.7L411.5 381.5L412.0 383.1L412.5 383.6L413.0 383.5L413.5 382.7L414.0 381.7L414.5 380.6L415.0 379.6L415.5 378.8L416.0 378.1L416.5 377.4L417.0 376.7L417.5 376.1L418.0 375.7L418.5 375.6L419.0 376.0L419.5 377.0L420.0 378.4L420.5 380.0L421.0 381.5L421.5 382.5L422.0 383.1L422.5 383.2L423.0 382.8L423.5 382.0L424.0 380.7L424.5 378.9L425.0 376.9L425.5 375.1L426.0 373.9L426.5 373.3L427.0 373.3L427.5 374.2L428.0 376.5L428.5 380.1L429.0 383.5L429.5 385.4L430.0 386.0L430.5 385.8L431.0 384.7L431.5 381.6L432.0 376.7L432.5 373.4L433.0 372.1L433.5 372.0L434.0 372.7L434.5 374.9L435.0 379.0L435.5 382.7L436.0 384.4L436.5 384.6L437.0 383.7L437.5 381.6L438.0 379.0L438.5 377.2L439.0 376.8L439.5 377.6L440.0 379.3L440.5 380.9L441.0 381.6L441.5 380.9L442.0 378.8L442.5 376.1L443.0 374.1L443.5 373.3L444.0 373.6L444.5 375.3L445.0 379.0L445.5 383.0L446.0 385.2L446.5 385.8L447.0 385.6L447.5 384.2L448.0 380.8L448.5 376.5L449.0 373.8L449.5 372.8L450.0 372.8L450.5 373.8L451.0 375.7L451.5 378.3L452.0 380.5L452.5 381.8L453.0 382.2L453.5 382.3L454.0 382.1L454.5 382.1L455.0 382.1L455.5 382.0L456.0 381.4L456.5 380.0L457.0 377.8L457.5 375.4L458.0 373.7L458.5 373.0L459.0 373.2L459.5 374.6L460.0 377.7L460.5 381.7L461.0 384.5L461.5 385.5L462.0 385.5L462.5 384.4L463.0 381.6L463.5 377.5L464.0 374.4L464.5 373.2L465.0 373.2L465.5 374.4L466.0 377.1L466.5 380.4L467.0 382.6L467.5 383.4L468.0 382.9L468.5 381.3L469.0 378.8L469.5 376.7L470.0 375.6L470.5 375.6L471.0 376.7L471.5 378.7L472.0 380.8L472.5 382.3L473.0 382.8L473.5 382.5L474.0 381.3L474.5 379.5L475.0 377.5L475.5 376.0L476.0 375.2L476.5 375.0L477.0 375.5L477.5 376.6L478.0 378.2L478.5 380.0L479.0 381.6L479.5 382.8L480.0 383.3L480.5 383.2L481.0 382.4L481.5 380.8L482.0 378.7L482.5 376.6L483.0 375.2L483.5 374.7L484.0 375.0L484.5 376.0L485.0 377.6L485.5 379.4L486.0 380.7L486.5 381.2L487.0 381.0L487.5 380.3L488.0 379.6L488.5 379.3L489.0 379.7L489.5 380.6L490.0 381.7L490.5 382.3L491.0 382.0L491.5 380.6L492.0 377.8L492.5 374.9L493.0 373.0L493.5 372.2L494.0 372.5L494.5 374.1L495.0 378.1L495.5 383.1L496.0 385.8L496.5 386.7L497.0 386.7L497.5 386.0L498.0 383.2L498.5 377.9L499.0 373.5L499.5 371.8L500.0 371.4L500.5 371.7L501.0 372.9L501.5 375.8L502.0 379.7L502.5 382.8L503.0 384.4L503.5 385.0L504.0 385.0L504.5 384.6L505.0 383.8L505.5 382.6L506.0 380.7L506.5 378.2L507.0 375.5L507.5 373.3L508.0 372.2L508.5 371.8L509.0 372.2L509.5 373.9L510.0 377.9L510.5 382.9L511.0 385.8L511.5 386.7L512.0 386.8L512.5 385.9L513.0 382.9L513.5 377.4L514.0 373.4L514.5 371.9L515.0 371.8L515.5 372.9L516.0 375.9L516.5 380.3L517.0 383.4L517.5 384.4L518.0 383.7L518.5 381.2L519.0 377.6L519.5 374.9L520.0 374.0L520.5 374.9L521.0 377.8L521.5 382.0L522.0 385.0L522.5 386.1L523.0 386.0L523.5 384.3L524.0 379.8L524.5 374.3L525.0 371.5L525.5 370.6L526.0 370.6L526.5 371.5L527.0 374.7L527.5 380.9L528.0 385.7L528.5 387.4L529.0 387.8L529.5 387.7L530.0 386.7L530.5 383.8L531.0 378.0L531.5 373.0L532.0 370.8L532.5 370.1L533.0 370.1L533.5 370.5L534.0 372.3L534.5 376.9L535.0 383.2L535.5 386.8L536.0 388.1L536.5 388.4L537.0 388.1L537.5 386.9L538.0 382.9L538.5 375.9L539.0 371.3L539.5 369.8L540.0 369.5L540.5 369.8L541.0 371.2L541.5 375.4L542.0 381.7L542.5 385.9L543.0 387.5L543.5 387.8L544.0 387.3L544.5 385.6L545.0 382.3L545.5 378.1L546.0 374.7L546.5 372.9L547.0 372.2L547.5 372.4L548.0 373.3L548.5 375.0L549.0 377.5L549.5 380.3L550.0 382.7L550.5 384.2L551.0 384.8L551.5 384.3L552.0 382.7L552.5 380.0L553.0 377.0L553.5 374.7L554.0 373.8L554.5 374.3L555.0 376.3L555.5 379.6L556.0 382.7L556.5 384.5L557.0 384.7L557.5 383.1L558.0 379.5L558.5 375.2L559.0 372.2L559.5 371.2L560.0 371.8L560.5 374.5L561.0 379.6L561.5 384.6L562.0 387.2L562.5 387.8L563.0 387.0L563.5 384.3L564.0 379.3L564.5 374.4L565.0 371.8L565.5 371.2L566.0 372.0L566.5 374.2L567.0 377.5L567.5 380.4L568.0 381.9L568.5 381.9L569.0 381.0L569.5 379.9L570.0 379.6L570.5 380.5L571.0 382.3L571.5 384.2L572.0 385.1L572.5 384.6L573.0 382.1L573.5 377.3L574.0 372.5L574.5 370.0L575.0 369.3L575.5 369.6L576.0 371.8L576.5 377.8L577.0 385.1L577.5 388.5L578.0 389.4L578.5 389.3L579.0 388.1L579.5 383.8L580.0 376.1L580.5 371.0L581.0 369.3L581.5 369.1L582.0 370.0L582.5 372.6L583.0 377.6L583.5 382.6L584.0 385.4L584.5 386.3L585.0 385.8L585.5 384.4L586.0 382.3L586.5 380.2L587.0 378.5L587.5 377.5L588.0 377.0L588.5 376.7L589.0 376.5L589.5 376.4L590.0 376.5L590.5 376.9L591.0 377.6L591.5 378.6L592.0 379.6L592.5 380.2L593.0 380.2L593.5 379.6L594.0 378.7L594.5 378.0L595.0 378.0L595.5 379.0L596.0 380.9L596.5 383.1L597.0 384.8L597.5 385.3L598.0 384.4L598.5 381.4L599.0 376.5L599.5 371.9L600.0 369.4L600.5 368.5L601.0 368.8L601.5 370.9L602.0 376.6L602.5 384.6L603.0 389.3L603.5 390.8L604.0 391.2L604.5 390.8L605.0 388.9L605.5 382.4L606.0 372.6L606.5 367.6L607.0 366.2L607.5 365.8L608.0 365.9L608.5 367.0L609.0 372.0L609.5 383.4L610.0 390.8L610.5 392.7L611.0 393.2L611.5 393.3L612.0 392.7L612.5 389.1L613.0 376.2L613.5 366.3L614.0 364.2L614.5 363.8L615.0 363.7L615.5 364.2L616.0 368.8L616.5 384.2L617.0 393.1L617.5 394.8L618.0 395.1L618.5 395.0L619.0 393.3L619.5 384.5L620.0 370.2L620.5 364.4L621.0 363.0L621.5 363.1L622.0 364.8L622.5 370.5L623.0 380.0L623.5 387.1L624.0 389.8L624.5 389.5L625.0 387.0L625.5 383.1L626.0 379.7L626.5 378.3L627.0 379.0L627.5 381.1L628.0 383.0L628.5 383.6L629.0 382.1L629.5 378.7L630.0 374.5L630.5 371.1L631.0 369.7L631.5 370.3L632.0 372.9L632.5 377.0L633.0 380.9L633.5 383.2L634.0 383.7L634.5 382.6L635.0 381.0L635.5 380.4L636.0 381.5L636.5 384.3L637.0 387.6L637.5 389.7L638.0 389.4L638.5 385.4L639.0 377.1L639.5 367.4L640.0 361.1L640.5 358.6L641.0 358.8L641.5 362.4L642.0 373.4L642.5 389.7L643.0 399.2L643.5 402.2L644.0 402.6L644.5 400.7L645.0 393.2L645.5 376.6L646.0 362.3L646.5 356.8L647.0 355.5L647.5 356.7L648.0 361.3L648.5 371.6L649.0 384.3L649.5 392.6L650.0 395.9L650.5 395.8L651.0 393.4L651.5 389.5L652.0 385.2L652.5 382.0L653.0 379.9L653.5 378.4L654.0 376.6L654.5 373.9L655.0 370.5L655.5 367.4L656.0 365.4L656.5 365.5L657.0 368.0L657.5 373.5L658.0 381.1L658.5 388.5L659.0 393.4L659.5 395.4L660.0 394.8L660.5 391.6L661.0 385.9L661.5 378.9L662.0 372.5L662.5 368.2L663.0 366.2L663.5 366.2L664.0 367.9L664.5 371.0L665.0 375.2L665.5 379.7L666.0 383.9L666.5 386.9L667.0 388.5L667.5 388.3L668.0 386.3L668.5 382.9L669.0 378.6L669.5 375.0L670.0 373.1L670.5 373.6L671.0 376.3L671.5 380.5L672.0 384.5L672.5 386.5L673.0 385.6L673.5 381.2L674.0 374.1L674.5 367.3L675.0 363.3L675.5 362.5L676.0 365.5L676.5 373.8L677.0 386.3L677.5 395.8L678.0 399.7L678.5 400.3L679.0 398.6L679.5 392.2L680.0 377.8L680.5 364.2L681.0 358.7L681.5 357.5L682.0 358.0L682.5 360.8L683.0 368.8L683.5 382.8L684.0 393.2L684.5 397.2L685.0 398.1L685.5 397.5L686.0 395.3L686.5 390.6L687.0 383.2L687.5 374.8L688.0 368.3L688.5 364.5L689.0 362.6L689.5 362.1L690.0 362.6L690.5 364.7L691.0 370.3L691.5 381.0L692.0 391.1L692.5 395.5L693.0 396.6L693.5 396.5L694.0 395.2L694.5 390.0L695.0 376.7L695.5 365.8L696.0 362.8L696.5 362.4L697.0 362.9L697.5 365.3L698.0 373.3L698.5 385.5L699.0 391.6L699.5 393.0L700.0 392.5L700.5 390.1L701.0 384.5L701.5 377.4L702.0 372.9L702.5 372.0L703.0 373.7L703.5 377.3L704.0 380.9L704.5 382.6L705.0 381.6L705.5 378.2L706.0 373.8L706.5 370.6L707.0 369.6L707.5 370.4L708.0 373.7L708.5 380.2L709.0 386.4L709.5 389.4L710.0 390.2L710.5 389.9L711.0 388.0L711.5 383.2L712.0 375.9L712.5 370.8L713.0 368.9L713.5 368.5L714.0 368.9L714.5 370.5L715.0 373.9L715.5 379.2L716.0 384.0L716.5 386.8L717.0 388.0L717.5 388.3L718.0 387.8L718.5 386.5L719.0 383.5L719.5 378.8L720.0 374.1L720.5 371.3L721.0 370.2L721.5 370.0L722.0 370.7L722.5 372.7L723.0 376.8L723.5 381.9L724.0 385.4L724.5 386.8L725.0 387.0L725.5 386.4L726.0 384.7L726.5 381.9L727.0 378.5L727.5 375.9L728.0 374.4L728.5 373.8L729.0 373.9L729.5 374.3L730.0 375.0L730.5 375.9L731.0 377.0L731.5 378.4L732.0 380.1L732.5 381.8L733.0 383.3L733.5 384.2L734.0 384.4L734.5 383.8L735.0 382.5L735.5 380.3L736.0 377.8L736.5 375.7L737.0 374.5L737.5 374.1L738.0 374.3L738.5 375.0L739.0 376.0L739.5 377.2L740.0 378.4L740.5 379.7L741.0 381.1L741.5 382.6L742.0 383.9L742.5 384.7L743.0 384.9L743.5 384.2L744.0 382.2L744.5 378.5L745.0 374.5L745.5 372.2L746.0 371.3L746.5 371.4L747.0 372.5L747.5 375.9L748.0 381.6L748.5 385.5L749.0 386.8L749.5 386.9L750.0 386.0L750.5 383.1L751.0 377.6L751.5 373.5L752.0 372.0L752.5 372.0L753.0 373.4L753.5 376.9L754.0 381.5L754.5 384.2L755.0 384.9L755.5 384.0L756.0 381.0L756.5 376.9L757.0 373.9L757.5 372.9L758.0 373.4L758.5 375.8L759.0 380.1L759.5 383.8L760.0 385.6L760.5 385.9L761.0 385.1L761.5 382.5L762.0 378.2L762.5 374.5L763.0 372.7L763.5 372.3L764.0 372.8L764.5 374.2L765.0 376.7L765.5 379.4L766.0 381.5L766.5 382.9L767.0 383.6L767.5 384.0L768.0 384.1L768.5 384.0L769.0 383.4L769.5 382.1L770.0 379.6L770.5 376.3L771.0 373.5L771.5 371.9L772.0 371.3L772.5 371.5L773.0 372.9L773.5 376.5L774.0 382.0L774.5 385.7L775.0 387.1L775.5 387.3L776.0 386.9L776.5 385.2L777.0 381.1L777.5 375.9L778.0 372.7L778.5 371.5L779.0 371.4L779.5 372.0L780.0 373.6L780.5 376.3L781.0 379.4L781.5 381.8L782.0 383.3L782.5 384.0L783.0 384.2L783.5 384.2L784.0 383.8L784.5 383.1L785.0 381.9L785.5 379.9L786.0 377.6L786.5 375.2L787.0 373.6L787.5 372.7L788.0 372.6L788.5 373.2L789.0 374.8L789.5 377.5L790.0 380.6L790.5 383.3L791.0 384.9L791.5 385.6L792.0 385.7L792.5 385.1L793.0 383.8L793.5 381.4L794.0 378.2L794.5 375.1L795.0 372.9L795.5 371.8L796.0 371.4L796.5 371.8L797.0 373.4L797.5 376.7L798.0 381.4L798.5 385.0L799.0 386.6L799.5 387.0L800.0 386.6L800.5 384.9L801.0 381.3L801.5 376.9L802.0 373.9L802.5 372.8L803.0 372.9L803.5 374.0L804.0 375.9L804.5 377.9L805.0 379.1L805.5 379.1L806.0 378.4L806.5 377.5L807.0 377.4L807.5 378.7L808.0 381.3L808.5 384.3L809.0 386.2L809.5 386.9L810.0 386.5L810.5 384.4L811.0 379.1L811.5 373.0L812.0 370.4L812.5 369.7L813.0 369.7L813.5 370.4L814.0 373.6L814.5 381.5L815.0 386.8L815.5 388.2L816.0 388.4L816.5 388.2L817.0 387.2L817.5 383.4L818.0 376.5L818.5 372.0L819.0 370.5L819.5 370.2L820.0 370.4L820.5 371.2L821.0 373.2L821.5 376.7L822.0 381.1L822.5 384.5L823.0 386.4L823.5 387.3L824.0 387.5L824.5 387.2L825.0 385.9L825.5 382.2L826.0 376.0L826.5 371.7L827.0 370.1L827.5 369.8L828.0 370.0L828.5 371.4L829.0 376.3L829.5 383.8L830.0 387.3L830.5 388.1L831.0 388.1L831.5 387.2L832.0 383.6L832.5 376.4L833.0 371.8L833.5 370.5L834.0 370.5L834.5 371.8L835.0 375.8L835.5 381.8L836.0 385.5L836.5 386.6L837.0 386.3L837.5 384.1L838.0 379.4L838.5 374.5L839.0 372.1L839.5 371.5L840.0 372.2L840.5 374.7L841.0 379.4L841.5 383.9L842.0 386.2L842.5 386.9L843.0 386.6L843.5 385.1L844.0 381.6L844.5 376.5L845.0 372.8L845.5 371.1L846.0 370.7L846.5 370.9L847.0 372.2L847.5 375.6L848.0 381.1L848.5 385.4L849.0 387.2L849.5 387.8L850.0 387.6L850.5 386.5L851.0 383.2L851.5 377.1L852.0 372.4L852.5 370.6L853.0 370.2L853.5 370.4L854.0 371.7L854.5 375.3L855.0 380.9L855.5 385.0L856.0 386.6L856.5 386.9L857.0 386.4L857.5 384.8L858.0 382.1L858.5 378.8L859.0 376.2L859.5 374.7L860.0 374.1L860.5 374.0L861.0 374.3L861.5 374.9L862.0 375.7L862.5 376.9L863.0 378.6L863.5 380.7L864.0 382.5L864.5 383.8L865.0 384.3L865.5 383.9L866.0 382.6L866.5 380.2L867.0 377.6L867.5 375.6L868.0 374.9L868.5 375.3L869.0 376.7L869.5 378.7L870.0 380.3L870.5 380.9L871.0 380.1L871.5 378.3L872.0 376.2L872.5 374.8L873.0 374.7L873.5 376.2L874.0 379.6L874.5 383.4L875.0 385.9L875.5 386.7L876.0 386.5L876.5 384.6L877.0 379.9L877.5 374.3L878.0 371.3L878.5 370.4L879.0 370.5L879.5 371.5L880.0 374.8L880.5 380.5L881.0 384.8L881.5 386.6L882.0 386.9L882.5 386.4L883.0 384.9L883.5 382.4L884.0 379.6L884.5 377.5L885.0 376.2L885.5 375.4L886.0 374.5L886.5 373.6L887.0 372.7L887.5 372.2L888.0 372.3L888.5 373.5L889.0 376.9L889.5 382.4L890.0 386.4L890.5 387.8L891.0 388.2L891.5 388.0L892.0 387.0L892.5 382.2L893.0 373.8L893.5 370.3L894.0 369.6L894.5 369.6L895.0 369.8L895.5 371.1L896.0 376.9L896.5 385.1L897.0 387.8L897.5 388.3L898.0 388.3L898.5 388.0L899.0 386.4L899.5 381.4L900.0 374.6L900.5 371.3L901.0 370.4L901.5 370.2L902.0 370.5L902.5 371.6L903.0 374.5L903.5 379.6L904.0 384.1L904.5 386.3L905.0 387.1L905.5 387.1L906.0 386.4L906.5 384.4L907.0 380.4L907.5 375.8L908.0 373.0L908.5 371.9L909.0 371.9L909.5 372.9L910.0 375.3L910.5 378.8L911.0 381.9L911.5 383.5L912.0 383.7L912.5 382.7L913.0 380.7L913.5 378.4L914.0 376.9L914.5 376.5L915.0 377.3L915.5 379.1L916.0 381.1L916.5 382.6L917.0 383.1L917.5 382.5L918.0 380.7L918.5 378.1L919.0 375.6L919.5 373.8L920.0 373.1L920.5 373.2L921.0 374.2L921.5 376.2L922.0 379.3L922.5 382.6L923.0 384.9L923.5 386.1L924.0 386.4L924.5 386.1L925.0 384.8L925.5 381.5L926.0 376.3L926.5 372.3L927.0 370.7L927.5 370.3L928.0 370.4L928.5 371.5L929.0 375.4L929.5 382.9L930.0 387.0L930.5 387.9L931.0 388.1L931.5 387.8L932.0 386.2L932.5 379.8L933.0 372.6L933.5 370.4L934.0 370.0L934.5 370.2L935.0 371.2L935.5 375.4L936.0 382.6L936.5 386.3L937.0 387.2L937.5 387.1L938.0 385.7L938.5 382.2L939.0 377.2L939.5 374.1L940.0 373.2L940.5 373.8L941.0 375.9L941.5 378.8L942.0 381.2L942.5 382.1L943.0 381.6L943.5 379.9L944.0 377.9L944.5 376.4L945.0 375.9L945.5 376.5L946.0 377.9L946.5 379.7L947.0 381.1L947.5 381.6L948.0 381.4L948.5 380.6L949.0 379.7L949.5 379.2L950.0 379.2L950.5 379.7L951.0 380.3L951.5 380.3L952.0 379.5L952.5 377.8L953.0 375.7L953.5 374.0L954.0 373.3L954.5 373.7L955.0 375.6L955.5 379.3L956.0 383.3L956.5 385.7L957.0 386.5L957.5 386.4L958.0 385.1L958.5 381.7L959.0 376.5L959.5 372.9L960.0 371.6L960.5 371.3L961.0 371.9L961.5 373.8L962.0 377.3L962.5 381.3L963.0 383.8L963.5 384.9L964.0 385.0L964.5 384.6L965.0 383.6L965.5 382.3L966.0 380.8L966.5 379.3L967.0 377.7L967.5 376.1L968.0 374.6L968.5 373.5L969.0 373.0L969.5 373.1L970.0 373.9L970.5 376.0L971.0 379.4L971.5 382.9L972.0 385.2L972.5 386.1L973.0 386.3L973.5 385.8L974.0 384.1L974.5 380.9L975.0 376.7L975.5 373.6L976.0 372.0L976.5 371.5L977.0 371.6L977.5 372.3L978.0 374.2L978.5 378.0L979.0 382.4L979.5 385.3L980.0 386.6L980.5 386.9L981.0 386.7L981.5 385.5L982.0 382.3L982.5 377.0L983.0 373.0L983.5 371.4L984.0 371.1L984.5 371.4L985.0 372.8L985.5 376.3L986.0 381.2L986.5 384.4L987.0 385.6L987.5 385.5L988.0 384.5L988.5 382.2L989.0 379.4L989.5 377.4L990.0 376.8L990.5 377.4L991.0 378.6L991.5 379.7L992.0 379.9L992.5 378.9L993.0 376.8L993.5 374.7L994.0 373.4L994.5 373.2L995.0 374.2L995.5 377.2L996.0 381.6L996.5 384.9L997.0 386.3L997.5 386.6L998.0 386.0L998.5 383.9L999.0 379.5L999.5 374.8L1000.0 372.5L1000.5 371.7L1001.0 371.9L1001.5 372.8L1002.0 374.9L1002.5 377.9L1003.0 380.7L1003.5 382.6L1004.0 383.6L1004.5 384.2L1005.0 384.4L1005.5 384.5L1006.0 384.2L1006.5 383.4L1007.0 381.6L1007.5 378.5L1008.0 374.9L1008.5 372.5L1009.0 371.4L1009.5 371.2L1010.0 371.8L1010.5 373.9L1011.0 379.2L1011.5 384.5L1012.0 386.7L1012.5 387.2L1013.0 387.1L1013.5 386.0L1014.0 382.4L1014.5 376.2L1015.0 372.5L1015.5 371.4L1016.0 371.4L1016.5 372.4L1017.0 375.0L1017.5 379.4L1018.0 382.8L1018.5 384.2L1019.0 384.1L1019.5 382.8L1020.0 380.5L1020.5 378.4L1021.0 377.3L1021.5 377.4L1022.0 378.7L1022.5 380.4L1023.0 381.6L1023.5 382.0L1024.0 381.2L1024.5 379.3L1025.0 376.9L1025.5 374.9L1026.0 374.0L1026.5 374.0L1027.0 375.0L1027.5 377.2L1028.0 380.0L1028.5 382.5L1029.0 383.9L1029.5 384.4L1030.0 384.1L1030.5 383.0L1031.0 381.1L1031.5 378.7L1032.0 376.5L1032.5 375.0L1033.0 374.2L1033.5 374.1L1034.0 374.7L1034.5 376.0L1035.0 378.1L1035.5 380.4L1036.0 382.3L1036.5 383.4L1037.0 383.6L1037.5 382.9L1038.0 381.4L1038.5 379.2L1039.0 377.1L1039.5 375.8L1040.0 375.6L1040.5 376.4L1041.0 378.0L1041.5 380.0L1042.0 381.3L1042.5 381.7L1043.0 380.9L1043.5 379.1L1044.0 376.9L1044.5 375.2L1045.0 374.6L1045.5 375.1L1046.0 377.0L1046.5 380.0L1047.0 382.9L1047.5 384.5L1048.0 385.0L1048.5 384.5L1049.0 382.8L1049.5 379.6L1050.0 376.2L1050.5 374.0L1051.0 373.0L1051.5 372.9L1052.0 373.6L1052.5 375.0L1053.0 377.2L1053.5 379.8L1054.0 382.0L1054.5 383.7L1055.0 384.7L1055.5 385.2L1056.0 385.2L1056.5 384.6L1057.0 382.8L1057.5 379.3L1058.0 375.1L1058.5 372.4L1059.0 371.3L1059.5 371.1L1060.0 371.4L1060.5 373.1L1061.0 378.4L1061.5 384.5L1062.0 386.8L1062.5 387.3L1063.0 387.3L1063.5 386.6L1064.0 383.6L1064.5 376.5L1065.0 372.1L1065.5 371.0L1066.0 370.9L1066.5 371.4L1067.0 373.6L1067.5 378.9L1068.0 383.7L1068.5 385.5L1069.0 385.7L1069.5 384.8L1070.0 382.3L1070.5 378.8L1071.0 376.3L1071.5 375.6L1072.0 376.5L1072.5 378.6L1073.0 380.9L1073.5 382.2L1074.0 382.1L1074.5 380.5L1075.0 377.8L1075.5 375.1L1076.0 373.6L1076.5 373.3L1077.0 374.1L1077.5 376.3L1078.0 379.8L1078.5 383.0L1079.0 384.7L1079.5 385.2L1080.0 384.9L1080.5 383.7L1081.0 381.5L1081.5 378.9L1082.0 376.5L1082.5 375.0L1083.0 374.1L1083.5 373.8L1084.0 373.8L1084.5 374.2L1085.0 375.1L1085.5 376.8L1086.0 379.4L1086.5 382.3L1087.0 384.5L1087.5 385.6L1088.0 386.0L1088.5 385.6L1089.0 384.2L1089.5 380.8L1090.0 376.0L1090.5 372.9L1091.0 371.7L1091.5 371.4L1092.0 371.8L1092.5 373.1L1093.0 376.5L1093.5 381.3L1094.0 384.6L1094.5 385.9L1095.0 386.2L1095.5 386.0L1096.0 385.0L1096.5 382.9L1097.0 379.5L1097.5 376.0L1098.0 373.8L1098.5 372.6L1099.0 372.3L1099.5 372.5L1100.0 373.3L1100.5 375.3L1101.0 378.6L1101.5 382.2L1102.0 384.6L1102.5 385.6L1103.0 385.8L1103.5 385.3L1104.0 383.8L1104.5 380.8L1105.0 377.1L1105.5 374.4L1106.0 373.2L1106.5 372.9L1107.0 373.4L1107.5 374.6L1108.0 376.7L1108.5 379.0L1109.0 381.0L1109.5 382.2L1110.0 382.9L1110.5 383.2L1111.0 383.2L1111.5 382.9L1112.0 382.2L1112.5 380.9L1113.0 379.0L1113.5 376.7L1114.0 374.7L1114.5 373.6L1115.0 373.3L1115.5 374.0L1116.0 376.1L1116.5 379.6L1117.0 383.0L1117.5 384.8L1118.0 385.3L1118.5 384.6L1119.0 382.3L1119.5 378.0L1120.0 374.4L1120.5 372.8L1121.0 372.7L1121.5 373.9L1122.0 377.5L1122.5 382.3L1123.0 385.1L1123.5 385.9L1124.0 385.5L1124.5 383.4L1125.0 378.4L1125.5 373.7L1126.0 371.9L1126.5 371.5L1127.0 372.0L1127.5 374.3L1128.0 379.9L1128.5 384.7L1129.0 386.4L1129.5 386.7L1130.0 386.3L1130.5 384.6L1131.0 380.1L1131.5 374.9L1132.0 372.5L1132.5 371.8L1133.0 371.9L1133.5 372.8L1134.0 374.9L1134.5 378.5L1135.0 381.8L1135.5 383.9L1136.0 384.8L1136.5 385.1L1137.0 384.8L1137.5 384.1L1138.0 382.5L1138.5 380.0L1139.0 376.9L1139.5 374.3L1140.0 372.8L1140.5 372.3L1141.0 372.4L1141.5 373.5L1142.0 376.5L1142.5 381.2L1143.0 384.6L1143.5 385.9L1144.0 386.2L1144.5 385.6L1145.0 383.5L1145.5 378.8L1146.0 374.4L1146.5 372.5L1147.0 372.1L1147.5 372.7L1148.0 374.9L1148.5 379.2L1149.0 383.2L1149.5 384.9L1150.0 385.2L1150.5 384.2L1151.0 381.4L1151.5 377.2L1152.0 374.2L1152.5 373.0L1153.0 373.1L1153.5 374.5L1154.0 377.7L1154.5 381.8L1155.0 384.5L1155.5 385.5L1156.0 385.5L1156.5 384.5L1157.0 381.8L1157.5 377.4L1158.0 373.9L1158.5 372.3L1159.0 371.8L1159.5 372.0L1160.0 373.1L1160.5 376.2L1161.0 381.3L1161.5 385.0L1162.0 386.3L1162.5 386.7L1163.0 386.5L1163.5 385.6L1164.0 382.3L1164.5 376.1L1165.0 372.3L1165.5 371.3L1166.0 371.1L1166.5 371.3L1167.0 372.3L1167.5 376.2L1168.0 382.7L1168.5 385.9L1169.0 386.7L1169.5 386.8L1170.0 386.4L1170.5 385.0L1171.0 381.1L1171.5 375.9L1172.0 373.1L1172.5 372.2L1173.0 372.1L1173.5 372.5L1174.0 373.6L1174.5 375.6L1175.0 378.2L1175.5 380.7L1176.0 382.7L1176.5 384.0L1177.0 384.8L1177.5 385.1L1178.0 385.0L1178.5 384.1L1179.0 382.1L1179.5 378.5L1180.0 374.8L1180.5 372.7L1181.0 372.0L1181.5 372.0L1182.0 372.8L1182.5 375.3L1183.0 380.0L1183.5 384.0L1184.0 385.6L1184.5 385.9L1185.0 385.4L1185.5 383.7L1186.0 380.2L1186.5 376.4L1187.0 374.4L1187.5 373.9L1188.0 374.5L1188.5 376.1L1189.0 378.3L1189.5 379.9L1190.0 380.4L1190.5 379.9L1191.0 378.7L1191.5 377.6L1192.0 377.3L1192.5 378.0L1193.0 379.6L1193.5 381.6L1194.0 383.0L1194.5 383.5L1195.0 382.8L1195.5 381.0L1196.0 378.1L1196.5 375.6L1197.0 374.2L1197.5 374.1L1198.0 375.0L1198.5 377.1L1199.0 379.8L1199.5 381.8L1200.0 382.6L1200.5 382.2L1201.0 380.7L1201.5 378.7L1202.0 377.2L1202.5 376.7L1203.0 377.6L1203.5 379.5L1204.0 381.6L1204.5 382.9L1205.0 383.1L1205.5 381.9L1206.0 379.2L1206.5 375.9L1207.0 373.7L1207.5 372.8L1208.0 373.0L1208.5 374.4L1209.0 377.8L1209.5 382.2L1210.0 384.8L1210.5 385.8L1211.0 385.8L1211.5 385.0L1212.0 382.6L1212.5 378.3L1213.0 374.5L1213.5 372.8L1214.0 372.3L1214.5 372.5L1215.0 373.5L1215.5 376.0L1216.0 379.9L1216.5 383.1L1217.0 384.8L1217.5 385.3" fill="none" stroke="#e42424" stroke-width="1.3" stroke-opacity="0.5" stroke-linejoin="round"/><path d="M151.0 378.5L151.5 378.5L152.0 378.5L152.5 378.6L153.0 378.8L153.5 379.0L154.0 379.4L154.5 379.8L155.0 380.3L155.5 380.9L156.0 381.4L156.5 381.7L157.0 382.0L157.5 382.0L158.0 381.7L158.5 381.1L159.0 380.1L159.5 378.8L160.0 377.2L160.5 375.4L161.0 373.6L161.5 371.9L162.0 370.5L162.5 369.5L163.0 369.2L163.5 369.7L164.0 371.0L164.5 373.1L165.0 376.0L165.5 379.5L166.0 383.4L166.5 387.3L167.0 390.9L167.5 394.0L168.0 396.1L168.5 397.1L169.0 396.7L169.5 395.1L170.0 392.1L170.5 388.2L171.0 383.4L171.5 378.2L172.0 373.1L172.5 368.4L173.0 364.4L173.5 361.6L174.0 360.1L174.5 360.0L175.0 361.3L175.5 363.7L176.0 367.1L176.5 371.1L177.0 375.4L177.5 379.6L178.0 383.4L178.5 386.5L179.0 388.8L179.5 390.1L180.0 390.5L180.5 390.0L181.0 388.8L181.5 387.0L182.0 384.9L182.5 382.8L183.0 380.6L183.5 378.7L184.0 377.2L184.5 376.1L185.0 375.4L185.5 375.1L186.0 375.1L186.5 375.5L187.0 376.0L187.5 376.7L188.0 377.4L188.5 378.0L189.0 378.6L189.5 379.1L190.0 379.4L190.5 379.6L191.0 379.7L191.5 379.8L192.0 379.7L192.5 379.6L193.0 379.5" fill="none" stroke="#dd4040" stroke-width="1.4" stroke-opacity="0.55" stroke-linejoin="round"/><path d="M543.5 379.2L544.0 379.0L544.5 378.8L545.0 378.6L545.5 378.3L546.0 378.0L546.5 377.7L547.0 377.5L547.5 377.5L548.0 377.5L548.5 377.8L549.0 378.2L549.5 378.9L550.0 379.7L550.5 380.6L551.0 381.6L551.5 382.6L552.0 383.3L552.5 383.8L553.0 383.9L553.5 383.5L554.0 382.6L554.5 381.2L555.0 379.3L555.5 377.1L556.0 374.7L556.5 372.3L557.0 370.3L557.5 368.8L558.0 368.0L558.5 368.1L559.0 369.3L559.5 371.5L560.0 374.6L560.5 378.4L561.0 382.6L561.5 386.9L562.0 390.8L562.5 393.9L563.0 396.0L563.5 396.7L564.0 395.9L564.5 393.6L565.0 389.9L565.5 385.2L566.0 379.8L566.5 374.2L567.0 369.0L567.5 364.5L568.0 361.2L568.5 359.4L569.0 359.2L569.5 360.7L570.0 363.7L570.5 367.9L571.0 372.9L571.5 378.2L572.0 383.4L572.5 388.0L573.0 391.5L573.5 393.9L574.0 394.9L574.5 394.5L575.0 392.9L575.5 390.2L576.0 386.9L576.5 383.2L577.0 379.5L577.5 376.2L578.0 373.4L578.5 371.4L579.0 370.3L579.5 370.0L580.0 370.5L580.5 371.6L581.0 373.2L581.5 375.1L582.0 377.0L582.5 378.8L583.0 380.3L583.5 381.4L584.0 382.2L584.5 382.6L585.0 382.6L585.5 382.2L586.0 381.7L586.5 381.1L587.0 380.4L587.5 379.7L588.0 379.1L588.5 378.6L589.0 378.3L589.5 378.1L590.0 378.0L590.5 378.0L591.0 378.1L591.5 378.3L592.0 378.5L592.5 378.7" fill="none" stroke="#dd4040" stroke-width="1.4" stroke-opacity="0.55" stroke-linejoin="round"/><path d="M211.5 379.4L212.0 379.3L212.5 379.1L213.0 378.9L213.5 378.7L214.0 378.3L214.5 378.0L215.0 377.6L215.5 377.3L216.0 377.1L216.5 377.1L217.0 377.2L217.5 377.5L218.0 378.1L218.5 378.8L219.0 379.8L219.5 380.9L220.0 381.9L220.5 382.9L221.0 383.7L221.5 384.2L222.0 384.3L222.5 384.0L223.0 383.2L223.5 381.9L224.0 380.3L224.5 378.4L225.0 376.4L225.5 374.5L226.0 372.9L226.5 371.8L227.0 371.1L227.5 371.1L228.0 371.7L228.5 372.9L229.0 374.6L229.5 376.5L230.0 378.6L230.5 380.7L231.0 382.5L231.5 383.9L232.0 384.9L232.5 385.3L233.0 385.2L233.5 384.7L234.0 383.7L234.5 382.5L235.0 381.2L235.5 379.8L236.0 378.6L236.5 377.6L237.0 376.9L237.5 376.4L238.0 376.3L238.5 376.4L239.0 376.6L239.5 377.1L240.0 377.6L240.5 378.1L241.0 378.5L241.5 378.9L242.0 379.3L242.5 379.5L243.0 379.6L243.5 379.6L244.0 379.6L244.5 379.5" fill="none" stroke="#dd4040" stroke-width="1.4" stroke-opacity="0.55" stroke-linejoin="round"/><path d="M575.5 378.4L576.0 377.9L576.5 377.4L577.0 376.7L577.5 376.0L578.0 375.8L578.5 375.8L579.0 376.5L579.5 378.1L580.0 380.1L580.5 380.9L581.0 380.8L581.5 380.2L582.0 379.8L582.5 380.2L583.0 381.2L583.5 382.0L584.0 382.2L584.5 381.8L585.0 380.1L585.5 377.6L586.0 376.2L586.5 375.8L587.0 376.0L587.5 376.5L588.0 376.9L588.5 376.9L589.0 376.8L589.5 377.1L590.0 378.4L590.5 380.7L591.0 382.2L591.5 382.7L592.0 382.6L592.5 381.6L593.0 379.8L593.5 378.6L594.0 378.6L594.5 379.6L595.0 380.4L595.5 380.2L596.0 378.5L596.5 376.3L597.0 375.0L597.5 374.7L598.0 375.0L598.5 376.1L599.0 377.7L599.5 379.0L600.0 379.7L600.5 380.5L601.0 382.0L601.5 383.5L602.0 384.4L602.5 384.6L603.0 384.4L603.5 382.4L604.0 377.1L604.5 373.8L605.0 373.0L605.5 372.9L606.0 373.3L606.5 374.4L607.0 375.9L607.5 377.3L608.0 378.8L608.5 381.0L609.0 383.6L609.5 385.2L610.0 385.7L610.5 385.5L611.0 383.7L611.5 379.4L612.0 375.6L612.5 374.4L613.0 375.2L613.5 377.3L614.0 378.8L614.5 378.2L615.0 375.9L615.5 373.7L616.0 373.0L616.5 374.2L617.0 377.5L617.5 381.4L618.0 383.4L618.5 383.4L619.0 382.2L619.5 381.2L620.0 381.9L620.5 383.9L621.0 385.5L621.5 385.3L622.0 382.2L622.5 376.2L623.0 371.6L623.5 370.1L624.0 371.0L624.5 374.5L625.0 379.4L625.5 381.9L626.0 381.0L626.5 377.8L627.0 375.2L627.5 375.5L628.0 378.8L628.5 383.4L629.0 386.1L629.5 386.1L630.0 383.9L630.5 381.1L631.0 380.1L631.5 381.8L632.0 384.4L632.5 384.9L633.0 381.2L633.5 373.2L634.0 366.9L634.5 364.6L635.0 364.8L635.5 368.2L636.0 377.9L636.5 387.6L637.0 391.4L637.5 391.8L638.0 390.6L638.5 389.0L639.0 388.2L639.5 387.5L640.0 385.0L640.5 378.2L641.0 369.1L641.5 363.8L642.0 362.4L642.5 363.7L643.0 370.4L643.5 383.0L644.0 390.9L644.5 392.5L645.0 389.6L645.5 383.5L646.0 378.4L646.5 377.7L647.0 380.4L647.5 383.1L648.0 382.4L648.5 377.9L649.0 372.3L649.5 369.7L650.0 371.6L650.5 378.1L651.0 385.2L651.5 387.9L652.0 384.9L652.5 377.4L653.0 370.6L653.5 369.0L654.0 373.4L654.5 382.2L655.0 389.2L655.5 390.5L656.0 386.1L656.5 377.3L657.0 370.3L657.5 368.8L658.0 372.4L658.5 378.9L659.0 383.5L659.5 383.5L660.0 379.9L660.5 376.4L661.0 376.6L661.5 381.4L662.0 387.3L662.5 389.9L663.0 387.0L663.5 378.0L664.0 368.0L664.5 363.7L665.0 364.8L665.5 372.0L666.0 383.6L666.5 391.0L667.0 392.1L667.5 388.4L668.0 381.6L668.5 376.2L669.0 375.0L669.5 376.7L670.0 378.0L670.5 376.5L671.0 372.4L671.5 369.3L672.0 369.9L672.5 376.3L673.0 386.9L673.5 393.7L674.0 395.2L674.5 392.5L675.0 383.0L675.5 370.6L676.0 364.9L676.5 364.3L677.0 366.9L677.5 372.0L678.0 376.7L678.5 378.7L679.0 379.4L679.5 381.5L680.0 386.0L680.5 390.7L681.0 392.9L681.5 392.4L682.0 387.8L682.5 377.7L683.0 369.1L683.5 366.4L684.0 367.3L684.5 371.4L685.0 376.8L685.5 379.5L686.0 378.3L686.5 375.3L687.0 374.0L687.5 376.1L688.0 381.6L688.5 386.9L689.0 389.0L689.5 388.4L690.0 385.3L690.5 380.9L691.0 378.2L691.5 378.3L692.0 379.7L692.5 379.8L693.0 377.0L693.5 372.4L694.0 369.4L694.5 368.7L695.0 370.3L695.5 375.6L696.0 383.3L696.5 387.2L697.0 387.7L697.5 386.3L698.0 383.3L698.5 380.6L699.0 379.8L699.5 380.4L700.0 380.6L700.5 379.2L701.0 376.4L701.5 374.0L702.0 373.4L702.5 375.0L703.0 378.5L703.5 381.8L704.0 382.7L704.5 380.8L705.0 376.8L705.5 373.9L706.0 373.3L706.5 375.0L707.0 379.0L707.5 383.1L708.0 384.7L708.5 384.7L709.0 383.8L709.5 382.5L710.0 381.6L710.5 381.1L711.0 380.3L711.5 378.1L712.0 375.0L712.5 373.2L713.0 372.7L713.5 372.9L714.0 374.2L714.5 378.2L715.0 382.5L715.5 384.0L716.0 384.0L716.5 383.3L717.0 382.3L717.5 381.7L718.0 381.7L718.5 381.7L719.0 380.9L719.5 378.8L720.0 376.2L720.5 374.9L721.0 374.6L721.5 375.1L722.0 376.4L722.5 378.1L723.0 378.9L723.5 378.6L724.0 378.2L724.5 378.4L725.0 380.0L725.5 382.0L726.0 383.0L726.5 383.2L727.0 382.8L727.5 381.2L728.0 378.4L728.5 376.6L729.0 376.0L729.5 376.2L730.0 376.5L730.5 376.7L731.0 376.5L731.5 376.4L732.0 376.9L732.5 378.5L733.0 380.7L733.5 382.0L734.0 382.3L734.5 381.8L735.0 380.4L735.5 378.5L736.0 377.7L736.5 378.1L737.0 379.4L737.5 380.5L738.0 380.7L738.5 379.9L739.0 378.4L739.5 377.3L740.0 376.9L740.5 377.1L741.0 377.5L741.5 377.7L742.0 377.4L742.5 377.1L743.0 377.2L743.5 378.4L744.0 380.6L744.5 382.1L745.0 382.5L745.5 382.4L746.0 382.0L746.5 380.3L747.0 377.8L747.5 376.6L748.0 376.3L748.5 376.4L749.0 376.5L749.5 376.5L750.0 376.5L750.5 376.6L751.0 377.6L751.5 379.5L752.0 381.3L752.5 382.0L753.0 382.1L753.5 381.6L754.0 380.5L754.5 379.3L755.0 378.8L755.5 379.1L756.0 379.6L756.5 379.4L757.0 378.3L757.5 376.9L758.0 376.2L758.5 376.1L759.0 376.5L759.5 377.7" fill="none" stroke="#e60a0a" stroke-width="1.1" stroke-opacity="0.5" stroke-linejoin="round"/><path d="M575.5 380.1L576.0 379.3L576.5 377.8L577.0 376.6L577.5 376.1L578.0 376.3L578.5 377.5L579.0 380.2L579.5 381.9L580.0 382.4L580.5 382.3L581.0 381.6L581.5 379.9L582.0 378.2L582.5 377.6L583.0 377.7L583.5 377.8L584.0 377.3L584.5 376.5L585.0 375.8L585.5 375.8L586.0 376.5L586.5 379.0L587.0 381.7L587.5 382.7L588.0 382.7L588.5 381.9L589.0 379.7L589.5 377.6L590.0 377.0L590.5 377.9L591.0 379.7L591.5 381.0L592.0 381.2L592.5 380.1L593.0 377.9L593.5 376.2L594.0 375.4L594.5 375.3L595.0 375.8L595.5 376.9L596.0 378.7L596.5 380.6L597.0 382.1L597.5 382.9L598.0 383.2L598.5 382.9L599.0 381.8L599.5 379.8L600.0 377.7L600.5 376.5L601.0 376.0L601.5 375.8L602.0 375.9L602.5 375.9L603.0 376.4L603.5 377.7L604.0 380.2L604.5 382.6L605.0 383.8L605.5 383.5L606.0 380.9L606.5 376.2L607.0 373.4L607.5 372.8L608.0 374.0L608.5 379.1L609.0 384.6L609.5 386.3L610.0 386.5L610.5 385.4L611.0 381.3L611.5 375.7L612.0 373.1L612.5 372.5L613.0 372.6L613.5 372.7L614.0 372.5L614.5 372.5L615.0 373.4L615.5 377.2L616.0 383.7L616.5 387.7L617.0 388.9L617.5 389.1L618.0 388.4L618.5 384.5L619.0 376.2L619.5 370.9L620.0 369.2L620.5 368.9L621.0 369.6L621.5 371.6L622.0 375.5L622.5 380.3L623.0 384.1L623.5 385.8L624.0 385.6L624.5 383.8L625.0 381.1L625.5 379.0L626.0 378.9L626.5 380.4L627.0 381.9L627.5 381.9L628.0 379.7L628.5 376.2L629.0 374.1L629.5 375.1L630.0 379.5L630.5 384.8L631.0 387.1L631.5 384.7L632.0 376.6L632.5 368.1L633.0 364.7L633.5 364.8L634.0 369.5L634.5 381.5L635.0 390.8L635.5 393.4L636.0 392.3L636.5 387.7L637.0 381.7L637.5 379.2L638.0 381.4L638.5 384.9L639.0 385.6L639.5 381.0L640.0 371.9L640.5 364.7L641.0 362.1L641.5 362.7L642.0 367.2L642.5 376.6L643.0 385.6L643.5 389.8L644.0 390.1L644.5 388.5L645.0 386.5L645.5 385.5L646.0 385.6L646.5 385.8L647.0 385.5L647.5 384.5L648.0 382.5L648.5 379.3L649.0 374.5L649.5 368.6L650.0 363.5L650.5 360.8L651.0 361.0L651.5 365.1L652.0 376.1L652.5 389.3L653.0 396.1L653.5 397.2L654.0 394.2L654.5 387.6L655.0 381.4L655.5 380.1L656.0 383.0L656.5 385.7L657.0 383.7L657.5 375.2L658.0 364.9L658.5 359.9L659.0 360.1L659.5 366.8L660.0 382.6L660.5 394.7L661.0 397.5L661.5 393.3L662.0 379.9L662.5 366.0L663.0 361.3L663.5 363.3L664.0 372.9L664.5 386.6L665.0 394.3L665.5 395.9L666.0 393.9L666.5 389.5L667.0 385.1L667.5 382.1L668.0 379.4L668.5 375.2L669.0 369.1L669.5 363.5L670.0 360.5L670.5 360.0L671.0 362.1L671.5 368.2L672.0 379.2L672.5 390.3L673.0 396.7L673.5 399.1L674.0 399.6L674.5 398.6L675.0 394.2L675.5 382.1L676.0 367.3L676.5 360.8L677.0 359.6L677.5 360.8L678.0 365.5L678.5 374.2L679.0 381.3L679.5 383.3L680.0 382.2L680.5 381.4L681.0 383.9L681.5 388.8L682.0 392.3L682.5 392.6L683.0 388.4L683.5 377.8L684.0 367.8L684.5 364.7L685.0 366.3L685.5 374.2L686.0 386.1L686.5 391.7L687.0 391.7L687.5 386.9L688.0 376.6L688.5 368.8L689.0 366.7L689.5 367.7L690.0 371.2L690.5 376.0L691.0 379.6L691.5 381.5L692.0 382.8L692.5 384.8L693.0 387.3L693.5 389.0L694.0 389.2L694.5 387.7L695.0 383.6L695.5 377.0L696.0 371.7L696.5 369.3L697.0 368.7L697.5 369.3L698.0 371.0L698.5 374.4L699.0 379.7L699.5 384.4L700.0 386.7L700.5 386.9L701.0 385.2L701.5 381.4L702.0 377.4L702.5 375.9L703.0 377.5L703.5 381.4L704.0 384.4L704.5 385.0L705.0 382.9L705.5 377.7L706.0 373.0L706.5 371.5L707.0 371.8L707.5 373.5L708.0 377.0L708.5 380.1L709.0 381.0L709.5 380.6L710.0 380.4L710.5 381.6L711.0 383.7L711.5 385.0L712.0 385.2L712.5 384.0L713.0 379.8L713.5 374.6L714.0 372.8L714.5 372.7L715.0 373.6L715.5 376.6L716.0 381.2L716.5 383.4L717.0 383.6L717.5 382.6L718.0 380.4L718.5 377.8L719.0 376.2L719.5 375.7L720.0 375.9L720.5 376.8L721.0 378.5L721.5 380.7L722.0 382.4L722.5 383.1L723.0 383.1L723.5 382.4L724.0 380.8L724.5 378.4L725.0 376.6L725.5 375.6L726.0 375.2L726.5 375.0L727.0 375.0L727.5 375.4L728.0 376.6L728.5 379.7L729.0 382.5L729.5 383.3L730.0 383.4L730.5 383.2L731.0 382.0L731.5 378.4L732.0 375.8L732.5 375.3L733.0 375.7L733.5 376.9L734.0 378.4L734.5 379.0L735.0 378.4L735.5 377.4L736.0 377.1L736.5 377.8L737.0 379.6L737.5 381.3L738.0 381.9L738.5 381.7L739.0 380.6L739.5 378.9L740.0 377.8L740.5 377.7L741.0 378.3L741.5 379.3L742.0 379.8L742.5 379.6L743.0 379.0L743.5 378.3L744.0 378.0L744.5 378.0L745.0 378.3L745.5 378.5L746.0 378.6L746.5 378.5L747.0 378.5L747.5 378.6L748.0 378.7L748.5 379.0L749.0 379.3L749.5 379.7L750.0 380.5L750.5 381.2L751.0 381.7L751.5 381.7L752.0 381.0L752.5 378.9L753.0 376.5L753.5 375.7L754.0 375.6L754.5 375.8L755.0 376.9L755.5 379.6L756.0 381.3L756.5 381.6L757.0 381.3L757.5 380.6L758.0 380.0L758.5 380.0L759.0 380.5L759.5 380.7" fill="none" stroke="#e60a0a" stroke-width="1.1" stroke-opacity="0.5" stroke-linejoin="round"/><path d="M575.5 381.3L576.0 380.7L576.5 378.1L577.0 376.0L577.5 375.5L578.0 375.9L578.5 378.1L579.0 381.3L579.5 382.3L580.0 382.2L580.5 381.3L581.0 379.6L581.5 378.4L582.0 378.0L582.5 377.6L583.0 376.8L583.5 376.1L584.0 376.0L584.5 377.2L585.0 380.7L585.5 382.7L586.0 383.1L586.5 382.6L587.0 378.9L587.5 375.2L588.0 374.7L588.5 374.9L589.0 377.8L589.5 382.4L590.0 383.3L590.5 383.1L591.0 380.6L591.5 376.6L592.0 375.5L592.5 376.2L593.0 378.4L593.5 380.0L594.0 379.4L594.5 377.3L595.0 376.3L595.5 377.5L596.0 381.2L596.5 383.6L597.0 384.0L597.5 383.0L598.0 377.8L598.5 374.0L599.0 373.4L599.5 373.8L600.0 376.6L600.5 381.4L601.0 383.2L601.5 383.1L602.0 382.1L602.5 381.7L603.0 382.4L603.5 382.8L604.0 381.3L604.5 376.3L605.0 372.7L605.5 371.9L606.0 372.2L606.5 376.1L607.0 384.7L607.5 386.6L608.0 386.7L608.5 384.9L609.0 377.2L609.5 372.8L610.0 373.0L610.5 376.4L611.0 380.8L611.5 380.8L612.0 376.1L612.5 372.0L613.0 371.4L613.5 375.3L614.0 385.3L614.5 388.7L615.0 389.1L615.5 387.5L616.0 376.3L616.5 369.1L617.0 368.2L617.5 369.0L618.0 374.8L618.5 384.0L619.0 387.2L619.5 386.8L620.0 384.9L620.5 383.6L621.0 383.4L621.5 382.0L622.0 376.6L622.5 369.9L623.0 367.1L623.5 367.4L624.0 374.8L624.5 389.4L625.0 393.3L625.5 393.5L626.0 388.6L626.5 369.4L627.0 363.7L627.5 363.3L628.0 366.5L628.5 384.7L629.0 394.0L629.5 394.6L630.0 390.3L630.5 376.5L631.0 368.5L631.5 370.2L632.0 379.4L632.5 387.0L633.0 385.6L633.5 374.5L634.0 364.9L634.5 362.8L635.0 367.2L635.5 383.5L636.0 395.2L636.5 397.4L637.0 395.2L637.5 385.7L638.0 373.5L638.5 368.7L639.0 369.0L639.5 369.4L640.0 366.5L640.5 362.8L641.0 362.5L641.5 370.6L642.0 391.9L642.5 401.4L643.0 402.7L643.5 401.6L644.0 385.3L644.5 358.2L645.0 354.5L645.5 354.5L646.0 360.0L646.5 385.2L647.0 399.0L647.5 399.7L648.0 393.4L648.5 382.2L649.0 378.6L649.5 384.7L650.0 391.1L650.5 389.0L651.0 374.2L651.5 359.0L652.0 354.8L652.5 356.7L653.0 372.7L653.5 397.6L654.0 404.0L654.5 403.2L655.0 393.1L655.5 369.8L656.0 359.0L656.5 359.3L657.0 367.2L657.5 379.1L658.0 384.7L658.5 383.4L659.0 380.9L659.5 383.0L660.0 389.4L660.5 393.4L661.0 389.7L661.5 374.9L662.0 360.0L662.5 355.7L663.0 359.0L663.5 377.7L664.0 399.3L664.5 404.1L665.0 402.2L665.5 387.8L666.0 363.8L666.5 356.7L667.0 359.0L667.5 371.6L668.0 387.6L668.5 391.0L669.0 382.4L669.5 369.2L670.0 364.9L670.5 372.8L671.0 391.2L671.5 400.8L672.0 401.7L672.5 395.4L673.0 372.7L673.5 357.7L674.0 355.4L674.5 356.7L675.0 364.4L675.5 382.3L676.0 394.8L676.5 398.7L677.0 399.3L677.5 398.3L678.0 394.6L678.5 383.5L679.0 366.1L679.5 358.3L680.0 357.1L680.5 358.2L681.0 367.0L681.5 392.0L682.0 399.5L682.5 399.9L683.0 397.6L683.5 383.5L684.0 365.2L684.5 361.5L685.0 363.4L685.5 371.8L686.0 382.8L686.5 386.1L687.0 382.5L687.5 376.3L688.0 374.0L688.5 377.7L689.0 384.7L689.5 388.9L690.0 388.4L690.5 382.8L691.0 374.3L691.5 369.7L692.0 369.6L692.5 373.3L693.0 379.1L693.5 383.4L694.0 384.5L694.5 383.7L695.0 382.2L695.5 381.0L696.0 379.5L696.5 377.0L697.0 373.9L697.5 372.0L698.0 372.6L698.5 376.9L699.0 383.8L699.5 388.0L700.0 388.7L700.5 386.1L701.0 378.4L701.5 371.3L702.0 369.3L702.5 370.0L703.0 373.8L703.5 380.7L704.0 385.1L704.5 386.1L705.0 385.2L705.5 383.4L706.0 381.5L706.5 380.2L707.0 378.6L707.5 376.2L708.0 373.7L708.5 372.3L709.0 372.3L709.5 374.1L710.0 379.2L710.5 384.4L711.0 386.2L711.5 386.3L712.0 385.3L712.5 381.5L713.0 375.7L713.5 372.9L714.0 372.3L714.5 372.7L715.0 374.3L715.5 378.5L716.0 383.0L716.5 384.7L717.0 384.9L717.5 384.1L718.0 381.4L718.5 377.0L719.0 374.6L719.5 374.2L720.0 375.0L720.5 377.2L721.0 379.8L721.5 381.2L722.0 381.2L722.5 380.3L723.0 379.3L723.5 378.9L724.0 379.2L724.5 379.9L725.0 380.3L725.5 380.0L726.0 378.8L726.5 377.5L727.0 376.6L727.5 376.5L728.0 377.4L728.5 379.2L729.0 381.1L729.5 382.0L730.0 381.9L730.5 380.6L731.0 378.1L731.5 376.1L732.0 375.6L732.5 376.0L733.0 378.2L733.5 381.3L734.0 382.5L734.5 382.6L735.0 381.7L735.5 378.6L736.0 376.0L736.5 375.3L737.0 375.5L737.5 376.7L738.0 379.6L738.5 381.8L739.0 382.4L739.5 382.3L740.0 381.5L740.5 379.8L741.0 377.6L741.5 376.4L742.0 375.9L742.5 376.0L743.0 376.8L743.5 378.6L744.0 380.7L744.5 381.6L745.0 381.8L745.5 381.2L746.0 380.1L746.5 378.8L747.0 378.2L747.5 378.1L748.0 378.0L748.5 377.6L749.0 377.0L749.5 376.7L750.0 377.1L750.5 378.7L751.0 381.0L751.5 382.1L752.0 382.2L752.5 381.7L753.0 379.3L753.5 376.6L754.0 375.9L754.5 376.0L755.0 377.0L755.5 379.0L756.0 380.4L756.5 380.7L757.0 380.4L757.5 379.9L758.0 379.9L758.5 380.1L759.0 380.0L759.5 379.2" fill="none" stroke="#e60a0a" stroke-width="1.1" stroke-opacity="0.5" stroke-linejoin="round"/><path d="M575.5 377.6L576.0 376.5L576.5 376.0L577.0 376.1L577.5 376.9L578.0 378.7L578.5 380.8L579.0 382.0L579.5 382.3L580.0 382.2L580.5 381.4L581.0 379.5L581.5 377.2L582.0 376.0L582.5 375.6L583.0 375.8L583.5 376.8L584.0 378.7L584.5 380.8L585.0 381.9L585.5 382.2L586.0 381.8L586.5 380.7L587.0 378.9L587.5 377.2L588.0 376.3L588.5 376.1L589.0 376.4L589.5 377.5L590.0 379.0L590.5 380.5L591.0 381.5L591.5 382.0L592.0 382.0L592.5 381.5L593.0 380.5L593.5 378.9L594.0 377.2L594.5 375.8L595.0 375.1L595.5 374.8L596.0 375.0L596.5 376.0L597.0 378.6L597.5 381.9L598.0 383.8L598.5 384.6L599.0 384.8L599.5 384.5L600.0 383.0L600.5 378.1L601.0 373.8L601.5 372.5L602.0 372.2L602.5 372.2L603.0 372.6L603.5 376.0L604.0 383.3L604.5 386.1L605.0 386.6L605.5 386.8L606.0 386.7L606.5 385.3L607.0 378.6L607.5 372.3L608.0 370.8L608.5 370.4L609.0 370.4L609.5 371.0L610.0 374.3L610.5 381.4L611.0 386.1L611.5 387.7L612.0 388.1L612.5 387.8L613.0 386.6L613.5 383.5L614.0 378.8L614.5 374.6L615.0 372.1L615.5 370.9L616.0 370.5L616.5 370.9L617.0 372.3L617.5 375.1L618.0 379.2L618.5 383.5L619.0 386.5L619.5 388.0L620.0 388.2L620.5 386.8L621.0 383.4L621.5 378.3L622.0 373.6L622.5 371.1L623.0 370.6L623.5 372.3L624.0 376.0L624.5 380.6L625.0 384.0L625.5 385.1L626.0 383.5L626.5 379.5L627.0 374.7L627.5 371.3L628.0 370.5L628.5 372.8L629.0 378.5L629.5 385.8L630.0 390.9L630.5 393.0L631.0 392.4L631.5 388.2L632.0 379.0L632.5 368.9L633.0 363.5L633.5 361.7L634.0 362.3L634.5 366.4L635.0 376.1L635.5 387.7L636.0 394.3L636.5 396.6L637.0 396.1L637.5 392.5L638.0 385.0L638.5 375.7L639.0 369.1L639.5 366.2L640.0 366.3L640.5 368.7L641.0 372.6L641.5 376.5L642.0 379.3L642.5 380.7L643.0 381.2L643.5 381.6L644.0 382.6L644.5 384.2L645.0 385.9L645.5 386.7L646.0 385.8L646.5 382.9L647.0 378.4L647.5 373.5L648.0 370.1L648.5 369.2L649.0 371.1L649.5 375.7L650.0 381.4L650.5 385.8L651.0 387.2L651.5 385.1L652.0 379.8L652.5 373.3L653.0 368.5L653.5 367.3L654.0 370.5L654.5 378.3L655.0 388.3L655.5 395.8L656.0 398.8L656.5 397.6L657.0 390.9L657.5 377.9L658.0 364.3L658.5 356.8L659.0 354.6L659.5 356.1L660.0 362.8L660.5 377.0L661.0 392.4L661.5 400.6L662.0 403.1L662.5 401.9L663.0 396.5L663.5 385.6L664.0 372.8L664.5 364.4L665.0 361.3L665.5 361.9L666.0 365.6L666.5 371.2L667.0 376.9L667.5 380.7L668.0 382.2L668.5 382.3L669.0 382.1L669.5 382.7L670.0 384.5L670.5 386.9L671.0 388.7L671.5 389.0L672.0 386.8L672.5 382.1L673.0 375.8L673.5 370.0L674.0 366.6L674.5 365.9L675.0 368.0L675.5 372.5L676.0 378.2L676.5 382.9L677.0 385.2L677.5 385.1L678.0 383.2L678.5 380.9L679.0 379.8L679.5 380.8L680.0 383.7L680.5 387.1L681.0 389.3L681.5 388.8L682.0 384.8L682.5 376.8L683.0 367.9L683.5 362.3L684.0 360.4L684.5 360.9L685.0 364.7L685.5 374.9L686.0 389.1L686.5 396.5L687.0 398.3L687.5 398.3L688.0 396.7L688.5 390.8L689.0 376.6L689.5 365.0L690.0 361.6L690.5 361.2L691.0 361.8L691.5 364.1L692.0 371.1L692.5 383.0L693.0 391.0L693.5 393.6L694.0 394.0L694.5 393.4L695.0 391.5L695.5 387.2L696.0 380.2L696.5 373.0L697.0 368.7L697.5 366.9L698.0 366.5L698.5 367.0L699.0 368.6L699.5 372.7L700.0 380.1L700.5 386.9L701.0 389.9L701.5 390.7L702.0 390.4L702.5 389.1L703.0 384.8L703.5 376.4L704.0 370.5L704.5 368.7L705.0 368.6L705.5 369.4L706.0 372.0L706.5 378.5L707.0 385.0L707.5 387.4L708.0 387.8L708.5 387.1L709.0 384.7L709.5 379.6L710.0 374.6L710.5 372.4L711.0 372.1L711.5 373.0L712.0 375.5L712.5 379.4L713.0 382.6L713.5 384.0L714.0 384.0L714.5 383.0L715.0 380.8L715.5 378.3L716.0 376.4L716.5 375.5L717.0 375.6L717.5 376.2L718.0 377.4L718.5 378.6L719.0 379.6L719.5 380.4L720.0 380.8L720.5 381.1L721.0 381.3L721.5 381.3L722.0 381.0L722.5 380.3L723.0 379.1L723.5 377.7L724.0 376.4L724.5 375.6L725.0 375.4L725.5 375.8L726.0 377.0L726.5 379.1L727.0 381.2L727.5 382.4L728.0 382.8L728.5 382.6L729.0 381.7L729.5 380.0L730.0 377.8L730.5 376.4L731.0 375.9L731.5 376.0L732.0 376.7L732.5 377.8L733.0 379.0L733.5 379.8L734.0 380.1L734.5 379.9L735.0 379.5L735.5 379.2L736.0 379.3L736.5 379.8L737.0 380.5L737.5 381.1L738.0 381.2L738.5 380.8L739.0 379.6L739.5 377.8L740.0 376.3L740.5 375.7L741.0 375.6L741.5 375.8L742.0 376.9L742.5 379.2L743.0 381.5L743.5 382.4L744.0 382.6L744.5 382.5L745.0 382.0L745.5 380.5L746.0 378.0L746.5 376.3L747.0 375.7L747.5 375.6L748.0 375.8L748.5 376.3L749.0 377.6L749.5 379.5L750.0 381.0L750.5 381.7L751.0 382.0L751.5 382.0L752.0 381.7L752.5 381.2L753.0 380.0L753.5 378.4L754.0 377.0L754.5 376.2L755.0 375.9L755.5 375.9L756.0 376.3L756.5 377.3L757.0 379.3L757.5 381.2L758.0 382.0L758.5 382.2L759.0 382.1L759.5 381.4" fill="none" stroke="#e60a0a" stroke-width="1.1" stroke-opacity="0.5" stroke-linejoin="round"/><path d="M122.0 386.3L122.5 386.4L123.0 386.1L123.5 384.4L124.0 379.6L124.5 374.9L125.0 373.3L125.5 373.2L126.0 374.2L126.5 376.5L127.0 379.2L127.5 380.9L128.0 381.4L128.5 381.0L129.0 380.2L129.5 379.5L130.0 379.2L130.5 378.9L131.0 378.6L131.5 377.8L132.0 376.7L132.5 375.8L133.0 375.5L133.5 376.4L134.0 378.8L134.5 382.2L135.0 384.6L135.5 385.4L136.0 385.4L136.5 384.2L137.0 380.1L137.5 374.6L138.0 372.3L138.5 371.8L139.0 372.0L139.5 373.0L140.0 376.9L140.5 382.6L141.0 385.1L141.5 385.7L142.0 385.3L142.5 383.8L143.0 380.6L143.5 377.4L144.0 376.0L144.5 376.3L145.0 377.7L145.5 379.3L146.0 380.1L146.5 379.6L147.0 377.8L147.5 375.7L148.0 374.5L148.5 374.2L149.0 375.2L149.5 377.5L150.0 380.6L150.5 382.8L151.0 383.8L151.5 383.7L152.0 383.0L152.5 381.7L153.0 380.4L153.5 379.7L154.0 379.4L154.5 379.1L155.0 378.3L155.5 376.7L156.0 374.8L156.5 373.5L157.0 373.1L157.5 373.5L158.0 375.4L158.5 379.9L159.0 384.0L159.5 385.6L160.0 385.9L160.5 385.5L161.0 383.6L161.5 378.5L162.0 374.0L162.5 372.6L163.0 372.5L163.5 373.4L164.0 376.6L164.5 381.4L165.0 384.0L165.5 384.6L166.0 383.8L166.5 381.3L167.0 377.4L167.5 374.7L168.0 373.9L168.5 374.2L169.0 375.7L169.5 378.3L170.0 380.9L170.5 382.5L171.0 383.1L171.5 383.1L172.0 382.9L172.5 382.6L173.0 382.1L173.5 381.1L174.0 379.2L174.5 376.5L175.0 374.0L175.5 372.8L176.0 372.4L176.5 372.6L177.0 373.8L177.5 378.3L178.0 383.8L178.5 385.7L179.0 386.1L179.5 386.0L180.0 385.4L180.5 382.3L181.0 375.9L181.5 372.9L182.0 372.3L182.5 372.3L183.0 373.2L183.5 375.7L184.0 379.7L184.5 382.3L185.0 382.9L185.5 382.3L186.0 381.0L186.5 379.7L187.0 379.2L187.5 379.8L188.0 380.9L188.5 381.7L189.0 381.8L189.5 380.8L190.0 378.9L190.5 376.9L191.0 375.6L191.5 375.5L192.0 376.3L192.5 378.0L193.0 379.8L193.5 380.7L194.0 380.4L194.5 379.0L195.0 377.3L195.5 376.2L196.0 376.3L196.5 377.9L197.0 380.6L197.5 383.0L198.0 384.0L198.5 384.0L199.0 382.8L199.5 379.8L200.0 376.3L200.5 374.4L201.0 374.0L201.5 374.8L202.0 376.9L202.5 379.8L203.0 381.7L203.5 381.9L204.0 380.7L204.5 378.2L205.0 376.1L205.5 375.3L206.0 375.9L206.5 378.3L207.0 381.7L207.5 383.9L208.0 384.6L208.5 384.4L209.0 383.0L209.5 379.7L210.0 375.9L210.5 374.0L211.0 373.5L211.5 373.7L212.0 374.7L212.5 376.4L213.0 378.4L213.5 379.9L214.0 380.8L214.5 381.5L215.0 382.2L215.5 383.0L216.0 383.6L216.5 383.8L217.0 383.5L217.5 382.1L218.0 378.7L218.5 375.1L219.0 373.5L219.5 373.1L220.0 373.2L220.5 374.1L221.0 377.3L221.5 381.9L222.0 384.1L222.5 384.5L223.0 384.2L223.5 382.9L224.0 379.8L224.5 376.7L225.0 375.3L225.5 375.4L226.0 376.7L226.5 378.8L227.0 380.7L227.5 381.4L228.0 380.9L228.5 379.5L229.0 377.8L229.5 376.7L230.0 376.6L230.5 377.2L231.0 378.5L231.5 379.6L232.0 380.1L232.5 379.7L233.0 378.9L233.5 378.0L234.0 377.9L234.5 378.7L235.0 380.4L235.5 382.1L236.0 383.1L236.5 383.1L237.0 382.1L237.5 379.4L238.0 376.1L238.5 374.4L239.0 373.9L239.5 374.0L240.0 375.0L240.5 377.6L241.0 380.9L241.5 382.8L242.0 383.2L242.5 382.9L243.0 382.0L243.5 380.7L244.0 379.8L244.5 379.6L245.0 380.0L245.5 380.3L246.0 379.9L246.5 378.5L247.0 376.5L247.5 374.9L248.0 374.2L248.5 374.2L249.0 374.9L249.5 377.4L250.0 381.3L250.5 383.5L251.0 384.1L251.5 384.1L252.0 383.4L252.5 381.3L253.0 378.1L253.5 376.0L254.0 375.3L254.5 375.6L255.0 376.6L255.5 377.9L256.0 378.8L256.5 378.9L257.0 378.4L257.5 377.7L258.0 377.6L258.5 378.2L259.0 379.5L259.5 381.1L260.0 382.0L260.5 382.2L261.0 381.4L261.5 379.7L262.0 377.7L262.5 376.4L263.0 376.3L263.5 377.3L264.0 379.3L264.5 381.3L265.0 382.2L265.5 381.9L266.0 380.3L266.5 377.5L267.0 375.3L267.5 374.5L268.0 374.6L268.5 375.6L269.0 378.4L269.5 381.6L270.0 383.2L270.5 383.6L271.0 383.3L271.5 382.2L272.0 380.1L272.5 378.0L273.0 376.9L273.5 376.8L274.0 377.3L274.5 377.8L275.0 377.9L275.5 377.2L276.0 376.3L276.5 375.7L277.0 375.7L277.5 376.6L278.0 378.9L278.5 381.8L279.0 383.4L279.5 383.9L280.0 383.8L280.5 383.0L281.0 380.7L281.5 377.4L282.0 375.4L282.5 374.8L283.0 375.0L283.5 375.8L284.0 377.0L284.5 378.2L285.0 378.8L285.5 378.7L286.0 378.5L286.5 378.7L287.0 379.7L287.5 381.2L288.0 382.5L288.5 383.2L289.0 383.2L289.5 382.3L290.0 379.8L290.5 376.5L291.0 374.8L291.5 374.3L292.0 374.5L292.5 375.8L293.0 378.8L293.5 381.7L294.0 383.0L294.5 383.0L295.0 381.9L295.5 379.5L296.0 376.9L296.5 375.6L297.0 375.6L297.5 376.6L298.0 378.8L298.5 381.1L299.0 382.3L299.5 382.5L300.0 382.0L300.5 380.8L301.0 379.2L301.5 377.9L302.0 377.2L302.5 377.0L303.0 376.9L303.5 376.7L304.0 376.3L304.5 375.9L305.0 375.9L305.5 376.6L306.0 378.6L306.5 381.4L307.0 383.3L307.5 384.0L308.0 384.1L308.5 383.7L309.0 382.0L309.5 377.6L310.0 374.6L310.5 373.9L311.0 373.8L311.5 374.1L312.0 375.3L312.5 378.9L313.0 382.1L313.5 383.3L314.0 383.3L314.5 382.7L315.0 381.3L315.5 379.6L316.0 378.5L316.5 378.4L317.0 379.0L317.5 379.7L318.0 379.9L318.5 379.3L319.0 378.0L319.5 376.7L320.0 376.0L320.5 376.0L321.0 376.7L321.5 378.2L322.0 379.9L322.5 381.0L323.0 381.3L323.5 380.7L324.0 379.6L324.5 378.6L325.0 378.3L325.5 378.9L326.0 380.2L326.5 381.3L327.0 381.8L327.5 381.3L328.0 379.8L328.5 377.4L329.0 375.6L329.5 374.9L330.0 375.1L330.5 376.1L331.0 378.6L331.5 381.3L332.0 382.6L332.5 382.7L333.0 381.9L333.5 379.7L334.0 377.3L334.5 376.1L335.0 376.2L335.5 377.5L336.0 380.1L336.5 382.1L337.0 382.9L337.5 382.8L338.0 381.4L338.5 378.5L339.0 375.8L339.5 374.6L340.0 374.4L340.5 374.7L341.0 375.9L341.5 378.3L342.0 380.8L342.5 382.2L343.0 382.8L343.5 382.9L344.0 382.8L344.5 382.6L345.0 382.2L345.5 381.4L346.0 379.7L346.5 377.3L347.0 375.2L347.5 374.2L348.0 373.9L348.5 373.9L349.0 374.5L349.5 377.2L350.0 382.0L350.5 383.9L351.0 384.3L351.5 384.3L352.0 383.9L352.5 381.8L353.0 376.9L353.5 374.5L354.0 373.9L354.5 374.1L355.0 375.0L355.5 377.8L356.0 381.2L356.5 382.7L357.0 382.9L357.5 382.1L358.0 380.1L358.5 377.8L359.0 376.4L359.5 376.1L360.0 376.6L360.5 377.8L361.0 379.0L361.5 380.0L362.0 380.4L362.5 380.6L363.0 380.8L363.5 381.1L364.0 381.5L364.5 381.6L365.0 381.2L365.5 379.9L366.0 377.6L366.5 375.4L367.0 374.3L367.5 374.0L368.0 374.3L368.5 375.8L369.0 379.5L369.5 382.9L370.0 384.1L370.5 384.3L371.0 384.0L371.5 382.6L372.0 379.2L372.5 375.9L373.0 374.7L373.5 374.7L374.0 375.6L374.5 377.6L375.0 379.7L375.5 380.7L376.0 380.4L376.5 378.8L377.0 377.0L377.5 376.0L378.0 376.1L378.5 377.4L379.0 380.0L379.5 382.3L380.0 383.4L380.5 383.6L381.0 383.1L381.5 381.5L382.0 378.9L382.5 376.6L383.0 375.5L383.5 375.2L384.0 375.4L384.5 375.9L385.0 376.5L385.5 376.9L386.0 377.5L386.5 378.3L387.0 379.9L387.5 381.7L388.0 383.1L388.5 383.8L389.0 383.8L389.5 383.2L390.0 380.9L390.5 376.9L391.0 374.4L391.5 373.7L392.0 373.7L392.5 374.5L393.0 377.5L393.5 381.8L394.0 383.8L394.5 384.1L395.0 383.7L395.5 381.6L396.0 377.4L396.5 374.7L397.0 374.0L397.5 374.2L398.0 375.6L398.5 379.1L399.0 382.5L399.5 383.8L400.0 384.1L400.5 383.7L401.0 382.3L401.5 379.7L402.0 376.9L402.5 375.3L403.0 374.7L403.5 374.5L404.0 374.6L404.5 374.9L405.0 375.6L405.5 377.2L406.0 379.8L406.5 382.5L407.0 384.0L407.5 384.5L408.0 384.6L408.5 384.3L409.0 382.6L409.5 377.8L410.0 374.2L410.5 373.3L411.0 373.2L411.5 373.4L412.0 374.4L412.5 378.4L413.0 382.8L413.5 384.2L414.0 384.3L414.5 383.8L415.0 382.1L415.5 378.9L416.0 376.5L416.5 375.8L417.0 376.4L417.5 378.1L418.0 380.1L418.5 381.1L419.0 381.0L419.5 379.8L420.0 378.0L420.5 376.6L421.0 376.0L421.5 376.2L422.0 377.3L422.5 378.7L423.0 379.9L423.5 380.4L424.0 380.2L424.5 379.7L425.0 379.3L425.5 379.6L426.0 380.4L426.5 381.4L427.0 382.0L427.5 381.9L428.0 380.7L428.5 378.4L429.0 376.0L429.5 374.7L430.0 374.4L430.5 375.0L431.0 376.8L431.5 380.0L432.0 382.3L432.5 383.1L433.0 382.7L433.5 381.1L434.0 378.4L434.5 376.3L435.0 375.7L435.5 376.6L436.0 379.0L436.5 381.9L437.0 383.3L437.5 383.6L438.0 382.8L438.5 380.2L439.0 376.3L439.5 374.2L440.0 373.7L440.5 373.7L441.0 374.5L441.5 376.8L442.0 380.6L442.5 383.0L443.0 383.8L443.5 383.9L444.0 383.6L444.5 382.9L445.0 381.8L445.5 380.4L446.0 378.8L446.5 377.0L447.0 375.4L447.5 374.4L448.0 373.9L448.5 373.8L449.0 374.4L449.5 376.3L450.0 380.5L450.5 383.6L451.0 384.5L451.5 384.6L452.0 384.3L452.5 382.7L453.0 378.4L453.5 374.8L454.0 373.8L454.5 373.8L455.0 374.6L455.5 377.2L456.0 381.1L456.5 383.1L457.0 383.5L457.5 382.7L458.0 380.5L458.5 377.4L459.0 375.5L459.5 374.9L460.0 375.4L460.5 376.9L461.0 379.1L461.5 381.0L462.0 381.8L462.5 381.9L463.0 381.6L463.5 381.0L464.0 380.7L464.5 380.6L465.0 380.5L465.5 379.9L466.0 378.6L466.5 376.7L467.0 375.1L467.5 374.3L468.0 374.1L468.5 374.7L469.0 376.8L469.5 380.7L470.0 383.4L470.5 384.2L471.0 384.3L471.5 383.8L472.0 382.0L472.5 378.6L473.0 375.9L473.5 375.0L474.0 375.1L474.5 376.2L475.0 377.8L475.5 379.1L476.0 379.3L476.5 378.4L477.0 377.1L477.5 376.2L478.0 376.2L478.5 377.5L479.0 380.2L479.5 382.6L480.0 383.7L480.5 384.0L481.0 383.5L481.5 381.8L482.0 378.4L482.5 375.6L483.0 374.5L483.5 374.4L484.0 375.0L484.5 376.4L485.0 378.3L485.5 379.7L486.0 380.2L486.5 380.1L487.0 379.7L487.5 379.7L488.0 380.3L488.5 381.2L489.0 381.9L489.5 382.1L490.0 381.5L490.5 379.8L491.0 377.4L491.5 375.7L492.0 375.1L492.5 375.4L493.0 377.0L493.5 379.7L494.0 381.9L494.5 382.7L495.0 382.3L495.5 380.3L496.0 377.3L496.5 375.2L497.0 374.5L497.5 374.9L498.0 376.7L498.5 380.4L499.0 383.1L499.5 384.1L500.0 384.1L500.5 383.5L501.0 381.4L501.5 377.8L502.0 375.4L502.5 374.5L503.0 374.5L503.5 375.0L504.0 376.0L504.5 377.2L505.0 378.1L505.5 378.8L506.0 379.5L506.5 380.5L507.0 381.9L507.5 383.0L508.0 383.7L508.5 383.8L509.0 383.3L509.5 381.3L510.0 377.6L510.5 374.7L511.0 373.8L511.5 373.6L512.0 373.9L512.5 375.4L513.0 378.8L513.5 382.0L514.0 383.3L514.5 383.4L515.0 382.7L515.5 381.0L516.0 379.2L516.5 378.2L517.0 378.3L517.5 379.2L518.0 380.2L518.5 380.6L519.0 380.0L519.5 378.4L520.0 376.5L520.5 375.4L521.0 375.2L521.5 375.9L522.0 377.8L522.5 380.4L523.0 382.2L523.5 382.7L524.0 382.1L524.5 380.3L525.0 378.0L525.5 376.4L526.0 376.1L526.5 377.2L527.0 379.4L527.5 381.6L528.0 382.8L528.5 382.8L529.0 381.7L529.5 379.2L530.0 376.5L530.5 375.0L531.0 374.6L531.5 375.1L532.0 376.4L532.5 378.4L533.0 380.0L533.5 380.8L534.0 380.7L534.5 380.4L535.0 380.3L535.5 380.8L536.0 381.9L536.5 382.8L537.0 383.2L537.5 382.7L538.0 380.8L538.5 377.1L539.0 374.3L539.5 373.2L540.0 373.0L540.5 373.3L541.0 375.0L541.5 379.4L542.0 383.4L542.5 384.7L543.0 384.9L543.5 384.5L544.0 383.0L544.5 380.1L545.0 377.2L545.5 376.0L546.0 376.0L546.5 376.7L547.0 377.7L547.5 378.1L548.0 377.6L548.5 376.6L549.0 375.8L549.5 375.7L550.0 376.6L550.5 378.8L551.0 381.5L551.5 383.2L552.0 383.8L552.5 383.4L553.0 381.9L553.5 379.1L554.0 376.7L554.5 375.6L555.0 375.9L555.5 377.3L556.0 379.4L556.5 381.0L557.0 381.3L557.5 380.2L558.0 378.0L558.5 375.9L559.0 374.9L559.5 375.1L560.0 376.7L560.5 379.5L561.0 382.1L561.5 383.3L562.0 383.3L562.5 382.1L563.0 379.8L563.5 377.5L564.0 376.6L564.5 377.1L565.0 378.9L565.5 381.1L566.0 382.3L566.5 382.0L567.0 380.0L567.5 376.5L568.0 373.9L568.5 372.9L569.0 372.9L569.5 374.1L570.0 377.7L570.5 382.6L571.0 385.0L571.5 385.7L572.0 385.6L572.5 384.8L573.0 382.4L573.5 378.5L574.0 375.6L574.5 374.3L575.0 373.9L575.5 374.0L576.0 374.2L576.5 374.5L577.0 374.8L577.5 375.7L578.0 377.6L578.5 380.8L579.0 383.8L579.5 385.5L580.0 386.0L580.5 385.9L581.0 384.7L581.5 380.6L582.0 374.9L582.5 372.3L583.0 371.7L583.5 371.9L584.0 373.4L584.5 377.8L585.0 383.0L585.5 385.1L586.0 385.4L586.5 384.2L587.0 380.8L587.5 376.5L588.0 374.0L588.5 373.6L589.0 374.8L589.5 377.9L590.0 381.6L590.5 383.7L591.0 384.3L591.5 383.6L592.0 381.7L592.5 379.3L593.0 377.4L593.5 376.5L594.0 376.4L594.5 376.5L595.0 376.4L595.5 375.7L596.0 374.8L596.5 374.4L597.0 374.9L597.5 377.1L598.0 381.0L598.5 384.7L599.0 386.5L599.5 387.0L600.0 386.6L600.5 384.2L601.0 378.6L601.5 373.3L602.0 371.2L602.5 370.8L603.0 371.6L603.5 374.3L604.0 379.0L604.5 382.6L605.0 383.7L605.5 382.7L606.0 380.0L606.5 377.2L607.0 376.1L607.5 377.4L608.0 381.0L608.5 384.8L609.0 386.9L609.5 387.3L610.0 385.9L610.5 381.4L611.0 374.6L611.5 370.5L612.0 369.2L612.5 369.1L613.0 370.4L613.5 374.1L614.0 380.0L614.5 384.6L615.0 386.5L615.5 386.9L616.0 386.3L616.5 385.2L617.0 384.2L617.5 383.3L618.0 382.3L618.5 380.4L619.0 377.0L619.5 373.0L620.0 370.0L620.5 368.7L621.0 368.9L621.5 371.5L622.0 378.1L622.5 386.0L623.0 390.0L623.5 390.9L624.0 389.7L624.5 384.3L625.0 374.5L625.5 368.1L626.0 366.2L626.5 366.8L627.0 371.5L627.5 382.5L628.0 390.9L628.5 393.4L629.0 393.6L629.5 391.8L630.0 384.0L630.5 371.3L631.0 365.0L631.5 363.4L632.0 363.3L632.5 364.9L633.0 370.1L633.5 379.6L634.0 387.6L634.5 391.6L635.0 393.2L635.5 393.6L636.0 393.4L636.5 392.4L637.0 389.9L637.5 384.4L638.0 375.2L638.5 366.5L639.0 362.2L639.5 360.7L640.0 360.6L640.5 362.2L641.0 369.8L641.5 386.0L642.0 395.7L642.5 398.2L643.0 398.4L643.5 396.8L644.0 389.3L644.5 374.2L645.0 364.6L645.5 362.0L646.0 363.3L646.5 369.2L647.0 380.1L647.5 388.6L648.0 391.2L648.5 388.7L649.0 380.8L649.5 371.2L650.0 365.5L650.5 364.3L651.0 367.2L651.5 374.9L652.0 384.9L652.5 391.5L653.0 393.7L653.5 392.6L654.0 388.7L654.5 383.0L655.0 378.0L655.5 375.7L656.0 375.7L656.5 376.5L657.0 376.4L657.5 374.3L658.0 370.8L658.5 367.7L659.0 366.5L659.5 368.4L660.0 374.4L660.5 383.6L661.0 391.2L661.5 394.6L662.0 394.2L662.5 389.7L663.0 380.6L663.5 371.2L664.0 366.8L664.5 367.5L665.0 373.7L665.5 384.1L666.0 392.0L666.5 394.5L667.0 392.1L667.5 382.5L668.0 368.1L668.5 360.4L669.0 358.4L669.5 358.9L670.0 362.8L670.5 376.8L671.0 393.5L671.5 399.0L672.0 400.0L672.5 399.6L673.0 397.1L673.5 388.5L674.0 373.5L674.5 364.3L675.0 361.3L675.5 360.8L676.0 361.6L676.5 363.6L677.0 367.0L677.5 372.4L678.0 379.6L678.5 387.3L679.0 392.9L679.5 395.7L680.0 396.5L680.5 395.9L681.0 392.6L681.5 382.8L682.0 369.3L682.5 363.0L683.0 361.6L683.5 362.1L684.0 365.3L684.5 376.0L685.0 389.1L685.5 394.1L686.0 394.7L686.5 392.8L687.0 385.5L687.5 372.8L688.0 365.8L688.5 364.3L689.0 365.3L689.5 370.1L690.0 380.8L690.5 389.6L691.0 392.5L691.5 392.6L692.0 390.9L692.5 386.1L693.0 378.4L693.5 372.4L694.0 369.7L694.5 369.2L695.0 369.7L695.5 370.8L696.0 371.9L696.5 373.2L697.0 375.1L697.5 378.3L698.0 382.9L698.5 387.2L699.0 389.7L699.5 390.4L700.0 389.9L700.5 387.3L701.0 380.8L701.5 372.9L702.0 369.0L702.5 368.1L703.0 368.7L703.5 371.3L704.0 376.9L704.5 382.7L705.0 385.2L705.5 384.9L706.0 382.2L706.5 378.2L707.0 375.4L707.5 375.1L708.0 377.8L708.5 382.4L709.0 386.2L709.5 387.6L710.0 387.3L710.5 384.8L711.0 378.8L711.5 372.6L712.0 370.1L712.5 369.7L713.0 370.2L713.5 372.4L714.0 377.5L714.5 383.0L715.0 385.6L715.5 386.2L716.0 385.6L716.5 384.1L717.0 382.1L717.5 380.4L718.0 379.4L718.5 378.9L719.0 378.1L719.5 376.9L720.0 375.4L720.5 374.2L721.0 373.8L721.5 374.5L722.0 376.9L722.5 380.5L723.0 383.6L723.5 384.8L724.0 384.5L724.5 382.3L725.0 377.8L725.5 374.0L726.0 372.5L726.5 372.7L727.0 374.8L727.5 380.1L728.0 384.8L728.5 386.4L729.0 386.6L729.5 385.9L730.0 382.7L730.5 376.0L731.0 372.3L731.5 371.4L732.0 371.4L732.5 372.0L733.0 374.3L733.5 379.3L734.0 383.5L734.5 385.1L735.0 385.5L735.5 385.2L736.0 384.5L736.5 383.5L737.0 382.1L737.5 380.4L738.0 378.2L738.5 375.7L739.0 373.8L739.5 372.8L740.0 372.4L740.5 372.7L741.0 374.1L741.5 378.0L742.0 382.8L742.5 385.1L743.0 385.7L743.5 385.5L744.0 384.2L744.5 380.6L745.0 376.2L745.5 374.1L746.0 373.9L746.5 375.0L747.0 377.6L747.5 380.6L748.0 382.2L748.5 382.1L749.0 380.3L749.5 377.5L750.0 375.3L750.5 374.6L751.0 375.1L751.5 377.1L752.0 380.2L752.5 382.6L753.0 383.5L753.5 383.2L754.0 381.8L754.5 379.6L755.0 377.6L755.5 376.9L756.0 377.4L756.5 378.7L757.0 380.1L757.5 380.7L758.0 380.0L758.5 378.2L759.0 376.2L759.5 374.9L760.0 374.7L760.5 375.6L761.0 377.8L761.5 380.7L762.0 382.7L762.5 383.4L763.0 383.0L763.5 381.8L764.0 380.0L764.5 378.6L765.0 378.3L765.5 378.9L766.0 380.0L766.5 380.7L767.0 380.1L767.5 378.2L768.0 375.5L768.5 373.8L769.0 373.2L769.5 373.4L770.0 375.0L770.5 379.2L771.0 383.6L771.5 385.1L772.0 385.4L772.5 385.3L773.0 384.2L773.5 380.6L774.0 375.9L774.5 373.8L775.0 373.3L775.5 373.5L776.0 374.5L776.5 376.3L777.0 378.3L777.5 379.5L778.0 380.0L778.5 380.1L779.0 380.5L779.5 381.3L780.0 382.3L780.5 383.0L781.0 383.1L781.5 382.3L782.0 380.3L782.5 377.3L783.0 375.1L783.5 374.3L784.0 374.5L784.5 375.9L785.0 378.8L785.5 381.7L786.0 383.0L786.5 382.8L787.0 381.2L787.5 378.2L788.0 375.6L788.5 374.6L789.0 374.8L789.5 376.5L790.0 379.7L790.5 382.6L791.0 383.9L791.5 384.0L792.0 383.1L792.5 380.9L793.0 378.0L793.5 376.1L794.0 375.5L794.5 375.9L795.0 376.9L795.5 377.8L796.0 378.1L796.5 377.6L797.0 376.7L797.5 376.2L798.0 376.6L798.5 378.2L799.0 381.1L799.5 383.4L800.0 384.5L800.5 384.6L801.0 384.1L801.5 382.0L802.0 377.8L802.5 374.6L803.0 373.5L803.5 373.4L804.0 373.9L804.5 375.3L805.0 377.9L805.5 380.3L806.0 381.5L806.5 381.8L807.0 381.5L807.5 381.2L808.0 381.4L808.5 381.9L809.0 382.5L809.5 382.6L810.0 381.8L810.5 379.7L811.0 376.7L811.5 374.6L812.0 373.8L812.5 373.8L813.0 374.6L813.5 377.1L814.0 381.0L814.5 383.2L815.0 383.9L815.5 383.5L816.0 381.9L816.5 378.9L817.0 376.4L817.5 375.5L818.0 375.9L818.5 377.7L819.0 380.2L819.5 382.0L820.0 382.5L820.5 381.9L821.0 380.1L821.5 377.7L822.0 376.1L822.5 375.5L823.0 375.8L823.5 376.9L824.0 378.4L824.5 379.4L825.0 379.7L825.5 379.4L826.0 378.9L826.5 378.8L827.0 379.6L827.5 381.0L828.0 382.4L828.5 383.1L829.0 383.1L829.5 382.0L830.0 379.3L830.5 376.0L831.0 374.3L831.5 373.8L832.0 374.0L832.5 375.0L833.0 377.6L833.5 380.9L834.0 382.8L834.5 383.2L835.0 382.8L835.5 381.7L836.0 380.2L836.5 379.2L837.0 379.1L837.5 379.8L838.0 380.6L838.5 380.8L839.0 379.9L839.5 377.9L840.0 375.7L840.5 374.5L841.0 374.2L841.5 374.5L842.0 376.0L842.5 379.4L843.0 382.5L843.5 383.7L844.0 383.9L844.5 383.5L845.0 382.2L845.5 379.7L846.0 377.3L846.5 376.1L847.0 376.0L847.5 376.5L848.0 377.4L848.5 378.0L849.0 378.2L849.5 377.9L850.0 377.6L850.5 377.8L851.0 378.6L851.5 380.0L852.0 381.4L852.5 382.0L853.0 381.9L853.5 380.8L854.0 378.7L854.5 376.7L855.0 375.7L855.5 375.9L856.0 377.3L856.5 380.0L857.0 382.3L857.5 383.2L858.0 383.1L858.5 381.9L859.0 378.6L859.5 375.4L860.0 374.3L860.5 374.1L861.0 374.3L861.5 375.7L862.0 379.5L862.5 382.7L863.0 383.7L863.5 383.9L864.0 383.6L864.5 382.8L865.0 380.8L865.5 378.3L866.0 376.6L866.5 375.8L867.0 375.5L867.5 375.3L868.0 375.3L868.5 375.4L869.0 375.8L869.5 376.9L870.0 379.0L870.5 381.6L871.0 383.2L871.5 383.7L872.0 383.7L872.5 383.2L873.0 381.2L873.5 377.6L874.0 375.3L874.5 374.5L875.0 374.6L875.5 375.6L876.0 377.9L876.5 380.6L877.0 381.9L877.5 381.9L878.0 380.7L878.5 378.5L879.0 376.6L879.5 375.9L880.0 376.4L880.5 378.3L881.0 380.8L881.5 382.5L882.0 383.0L882.5 382.7L883.0 381.4L883.5 378.9L884.0 376.7L884.5 375.7L885.0 375.7L885.5 376.4L886.0 377.7L886.5 379.0L887.0 379.7L887.5 379.6L888.0 379.0L888.5 378.4L889.0 378.3L889.5 378.9L890.0 380.1L890.5 381.2L891.0 381.7L891.5 381.5L892.0 380.6L892.5 379.0L893.0 377.5L893.5 376.8L894.0 377.0L894.5 378.1L895.0 379.5L895.5 380.5L896.0 380.4L896.5 379.1L897.0 377.0L897.5 375.5L898.0 374.9L898.5 375.2L899.0 376.9L899.5 380.7L900.0 383.3L900.5 384.0L901.0 384.1L901.5 383.9L902.0 382.4L902.5 377.9L903.0 374.7L903.5 373.9L904.0 373.9L904.5 374.0L905.0 374.9L905.5 377.5L906.0 381.0L906.5 382.8L907.0 383.3L907.5 383.3L908.0 383.0L908.5 382.4L909.0 381.5L909.5 380.3L910.0 378.7L910.5 377.0L911.0 375.6L911.5 374.9L912.0 374.7L912.5 375.1L913.0 376.5L913.5 379.4L914.0 382.1L914.5 383.3L915.0 383.4L915.5 382.8L916.0 380.5L916.5 376.9L917.0 374.9L917.5 374.5L918.0 374.8L918.5 376.6L919.0 380.5L919.5 383.1L920.0 383.8L920.5 383.8L921.0 383.0L921.5 380.3L922.0 376.3L922.5 374.6L923.0 374.2L923.5 374.3L924.0 375.1L924.5 377.2L925.0 379.9L925.5 381.6L926.0 382.3L926.5 382.3L927.0 382.1L927.5 381.8L928.0 381.5L928.5 381.2L929.0 380.7L929.5 379.5L930.0 377.8L930.5 376.1L931.0 375.1L931.5 374.8L932.0 375.1L932.5 376.2L933.0 378.6L933.5 381.1L934.0 382.4L934.5 382.6L935.0 382.0L935.5 380.4L936.0 378.6L936.5 377.5L937.0 377.7L937.5 379.0L938.0 380.8L938.5 382.0L939.0 382.2L939.5 381.2L940.0 378.5L940.5 375.7L941.0 374.4L941.5 374.2L942.0 374.4L942.5 375.8L943.0 379.5L943.5 382.7L944.0 383.7L944.5 383.9L945.0 383.6L945.5 382.3L946.0 379.5L946.5 376.7L947.0 375.5L947.5 375.3L948.0 375.7L948.5 376.6L949.0 377.7L949.5 378.6L950.0 379.1L950.5 379.4L951.0 379.8L951.5 380.3L952.0 380.9L952.5 381.2L953.0 380.9L953.5 379.9L954.0 378.2L954.5 376.6L955.0 375.8L955.5 376.0L956.0 377.3L956.5 380.1L957.0 382.5L957.5 383.5L958.0 383.6L958.5 382.9L959.0 380.0L959.5 375.7L960.0 374.1L960.5 373.8L961.0 373.9L961.5 374.4L962.0 377.4L962.5 382.3L963.0 383.9L963.5 384.2L964.0 384.1L964.5 383.8L965.0 382.1L965.5 378.4L966.0 375.7L966.5 374.7L967.0 374.5L967.5 374.7L968.0 375.2L968.5 375.9L969.0 376.9L969.5 378.2L970.0 379.9L970.5 381.6L971.0 382.7L971.5 383.3L972.0 383.3L972.5 382.8L973.0 381.2L973.5 378.2L974.0 375.8L974.5 374.8L975.0 374.8L975.5 375.6L976.0 377.7L976.5 380.6L977.0 382.2L977.5 382.4L978.0 381.5L978.5 379.1L979.0 376.6L979.5 375.4L980.0 375.3L980.5 376.3L981.0 379.0L981.5 381.8L982.0 383.1L982.5 383.4L983.0 382.9L983.5 381.1L984.0 378.2L984.5 376.1L985.0 375.3L985.5 375.5L986.0 376.4L986.5 378.0L987.0 379.4L987.5 380.0L988.0 379.7L988.5 378.9L989.0 378.2L989.5 378.1L990.0 378.7L990.5 380.0L991.0 381.1L991.5 381.8L992.0 381.7L992.5 380.9L993.0 379.5L993.5 378.1L994.0 377.3L994.5 377.2L995.0 377.8L995.5 378.7L996.0 379.1L996.5 378.7L997.0 377.5L997.5 376.2L998.0 375.5L998.5 375.6L999.0 376.8L999.5 379.8L1000.0 382.7L1000.5 383.8L1001.0 384.1L1001.5 383.9L1002.0 382.9L1002.5 379.2L1003.0 375.2L1003.5 374.0L1004.0 373.8L1004.5 373.9L1005.0 374.6L1005.5 377.2L1006.0 381.0L1006.5 383.0L1007.0 383.4L1007.5 383.3L1008.0 382.7L1008.5 381.5L1009.0 380.1L1009.5 379.0L1010.0 378.4L1010.5 377.9L1011.0 377.3L1011.5 376.6L1012.0 376.1L1012.5 376.0L1013.0 376.6L1013.5 377.9L1014.0 380.0L1014.5 381.7L1015.0 382.5L1015.5 382.3L1016.0 381.0L1016.5 378.4L1017.0 376.1L1017.5 375.1L1018.0 375.1L1018.5 376.3L1019.0 379.4L1019.5 382.4L1020.0 383.5L1020.5 383.7L1021.0 383.3L1021.5 381.3L1022.0 377.5L1022.5 375.0L1023.0 374.3L1023.5 374.3L1024.0 374.8L1024.5 376.5L1025.0 379.3L1025.5 381.3L1026.0 382.1L1026.5 382.1L1027.0 381.6L1027.5 381.1L1028.0 380.9L1028.5 381.1L1029.0 381.3L1029.5 381.2L1030.0 380.3L1030.5 378.5L1031.0 376.4L1031.5 375.0L1032.0 374.6L1032.5 374.7L1033.0 375.5L1033.5 377.8L1034.0 380.7L1034.5 382.5L1035.0 383.0L1035.5 382.7L1036.0 381.8L1036.5 380.2L1037.0 378.9L1037.5 378.5L1038.0 378.8L1038.5 379.6L1039.0 380.1L1039.5 379.7L1040.0 378.4L1040.5 376.5L1041.0 375.2L1041.5 374.8L1042.0 375.1L1042.5 376.4L1043.0 379.4L1043.5 382.2L1044.0 383.4L1044.5 383.6L1045.0 383.1L1045.5 381.4L1046.0 378.4L1046.5 376.2L1047.0 375.4L1047.5 375.7L1048.0 377.1L1048.5 379.2L1049.0 380.7L1049.5 381.2L1050.0 380.6L1050.5 379.1L1051.0 377.5L1051.5 376.6L1052.0 376.5L1052.5 377.3L1053.0 378.7L1053.5 380.0L1054.0 380.7L1054.5 380.7L1055.0 380.1L1055.5 379.4L1056.0 379.2L1056.5 379.6L1057.0 380.6L1057.5 381.5L1058.0 381.9L1058.5 381.2L1059.0 379.3L1059.5 376.5L1060.0 374.7L1060.5 374.1L1061.0 374.1L1061.5 374.8L1062.0 377.4L1062.5 381.5L1063.0 383.6L1063.5 384.1L1064.0 384.0L1064.5 383.5L1065.0 381.6L1065.5 378.4L1066.0 376.1L1066.5 375.3L1067.0 375.4L1067.5 376.0L1068.0 376.8L1068.5 377.3L1069.0 377.4L1069.5 377.2L1070.0 377.1L1070.5 377.8L1071.0 379.3L1071.5 381.4L1072.0 382.8L1072.5 383.4L1073.0 383.4L1073.5 382.5L1074.0 380.2L1074.5 377.1L1075.0 375.3L1075.5 374.7L1076.0 375.0L1076.5 376.2L1077.0 378.4L1077.5 380.5L1078.0 381.3L1078.5 381.1L1079.0 379.9L1079.5 378.4L1080.0 377.4L1080.5 377.4L1081.0 378.4L1081.5 379.9L1082.0 381.2L1082.5 381.7L1083.0 381.4L1083.5 380.1L1084.0 378.4L1084.5 377.2L1085.0 376.9L1085.5 377.5L1086.0 378.9L1086.5 380.4L1087.0 380.9L1087.5 380.4L1088.0 378.6L1088.5 376.5L1089.0 375.2L1089.5 374.8L1090.0 375.5L1090.5 377.7L1091.0 381.2L1091.5 383.4L1092.0 384.0L1092.5 384.0L1093.0 383.4L1093.5 381.2L1094.0 377.5L1094.5 375.2L1095.0 374.4L1095.5 374.4L1096.0 374.9L1096.5 376.1L1097.0 377.6L1097.5 378.8L1098.0 379.5L1098.5 380.0L1099.0 380.6L1099.5 381.5L1100.0 382.4L1100.5 383.0L1101.0 383.2L1101.5 382.7L1102.0 381.1L1102.5 378.0L1103.0 375.4L1103.5 374.3L1104.0 374.1L1104.5 374.5L1105.0 376.1L1105.5 379.2L1106.0 381.8L1106.5 382.8L1107.0 382.7L1107.5 381.6L1108.0 379.6L1108.5 377.7L1109.0 377.1L1109.5 377.6L1110.0 379.3L1110.5 381.0L1111.0 381.9L1111.5 381.8L1112.0 380.6L1112.5 378.3L1113.0 376.2L1113.5 375.3L1114.0 375.2L1114.5 376.2L1115.0 378.1L1115.5 380.3L1116.0 381.5L1116.5 381.6L1117.0 380.8L1117.5 379.3L1118.0 377.9L1118.5 377.5L1119.0 378.1L1119.5 379.6L1120.0 381.2L1120.5 382.0L1121.0 382.0L1121.5 381.0L1122.0 379.0L1122.5 376.9L1123.0 375.7L1123.5 375.4L1124.0 375.9L1124.5 377.1L1125.0 378.6L1125.5 379.5L1126.0 379.7L1126.5 379.2L1127.0 378.7L1127.5 378.8L1128.0 379.7L1128.5 381.4L1129.0 382.9L1129.5 383.5L1130.0 383.5L1130.5 382.5L1131.0 379.3L1131.5 375.4L1132.0 373.9L1132.5 373.5L1133.0 373.6L1133.5 374.1L1134.0 376.8L1134.5 381.7L1135.0 383.9L1135.5 384.3L1136.0 384.3L1136.5 383.8L1137.0 382.1L1137.5 379.0L1138.0 376.5L1138.5 375.5L1139.0 375.4L1139.5 375.7L1140.0 376.2L1140.5 376.7L1141.0 377.1L1141.5 377.6L1142.0 378.4L1142.5 379.7L1143.0 381.2L1143.5 382.2L1144.0 382.6L1144.5 382.1L1145.0 380.6L1145.5 378.1L1146.0 376.0L1146.5 375.2L1147.0 375.4L1147.5 377.0L1148.0 380.1L1148.5 382.7L1149.0 383.6L1149.5 383.6L1150.0 382.4L1150.5 378.9L1151.0 375.3L1151.5 374.0L1152.0 373.7L1152.5 374.0L1153.0 375.6L1153.5 379.4L1154.0 382.7L1154.5 383.8L1155.0 384.0L1155.5 383.5L1156.0 382.2L1156.5 380.0L1157.0 378.0L1157.5 377.0L1158.0 376.8L1158.5 377.0L1159.0 377.1L1159.5 376.9L1160.0 376.4L1160.5 376.0L1161.0 376.0L1161.5 376.7L1162.0 378.5L1162.5 380.8L1163.0 382.5L1163.5 383.2L1164.0 383.1L1164.5 382.3L1165.0 380.4L1165.5 378.3L1166.0 377.0L1166.5 376.8L1167.0 377.6L1167.5 378.7L1168.0 379.5L1168.5 379.4L1169.0 378.1L1169.5 376.3L1170.0 375.1L1170.5 374.7L1171.0 375.3L1171.5 377.6L1172.0 381.4L1172.5 383.7L1173.0 384.3L1173.5 384.4L1174.0 383.8L1174.5 381.4L1175.0 376.9L1175.5 374.4L1176.0 373.8L1176.5 373.9L1177.0 374.7L1177.5 377.0L1178.0 380.3L1178.5 382.2L1179.0 382.7L1179.5 382.3L1180.0 381.1L1180.5 379.5L1181.0 378.3L1181.5 377.9L1182.0 378.0L1182.5 378.4L1183.0 378.6L1183.5 378.7L1184.0 378.6L1184.5 378.7L1185.0 379.3L1185.5 380.3L1186.0 381.5L1186.5 382.1L1187.0 382.0L1187.5 380.6L1188.0 377.7L1188.5 375.0L1189.0 373.9L1189.5 373.6L1190.0 373.9L1190.5 375.6L1191.0 380.6L1191.5 384.0L1192.0 384.7L1192.5 384.8L1193.0 384.6L1193.5 383.6L1194.0 378.9L1194.5 374.5L1195.0 373.4L1195.5 373.3L1196.0 373.4L1196.5 374.2L1197.0 376.8L1197.5 380.6L1198.0 382.7L1198.5 383.3L1199.0 383.3L1199.5 382.9L1200.0 382.3L1200.5 381.6L1201.0 380.9L1201.5 379.9L1202.0 378.6L1202.5 377.1L1203.0 375.8L1203.5 375.1L1204.0 375.1L1204.5 375.9L1205.0 377.8L1205.5 380.3L1206.0 382.0L1206.5 382.5L1207.0 381.9L1207.5 380.0L1208.0 377.4L1208.5 375.7L1209.0 375.4L1209.5 376.3L1210.0 378.9L1210.5 382.0L1211.0 383.5L1211.5 383.9L1212.0 383.3L1212.5 381.1L1213.0 377.2L1213.5 374.6L1214.0 373.9L1214.5 374.0L1215.0 374.9L1215.5 377.5L1216.0 380.8L1216.5 382.6L1217.0 383.0L1217.5 382.4" fill="none" stroke="#e60000" stroke-width="1.6" stroke-opacity="0.9" stroke-linejoin="round"/><path d="M122.0 375.7L122.5 375.3L123.0 375.9L123.5 377.8L124.0 380.5L124.5 382.8L125.0 384.0L125.5 384.2L126.0 383.5L126.5 381.8L127.0 379.2L127.5 377.0L128.0 375.9L128.5 376.0L129.0 377.1L129.5 378.8L130.0 380.4L130.5 381.0L131.0 380.4L131.5 378.6L132.0 376.2L132.5 374.5L133.0 373.8L133.5 374.0L134.0 375.3L134.5 378.3L135.0 381.9L135.5 384.1L136.0 385.0L136.5 385.0L137.0 384.3L137.5 382.4L138.0 379.5L138.5 377.0L139.0 375.8L139.5 375.7L140.0 376.4L140.5 377.6L141.0 378.6L141.5 378.8L142.0 378.0L142.5 376.5L143.0 375.2L143.5 374.4L144.0 374.5L144.5 375.7L145.0 378.4L145.5 381.7L146.0 384.0L146.5 385.0L147.0 385.1L147.5 384.5L148.0 382.9L148.5 380.0L149.0 377.2L149.5 375.5L150.0 375.2L150.5 375.8L151.0 377.1L151.5 378.5L152.0 379.2L152.5 378.8L153.0 377.4L153.5 375.7L154.0 374.4L154.5 374.0L155.0 374.4L155.5 376.2L156.0 379.5L156.5 382.9L157.0 384.8L157.5 385.4L158.0 385.4L158.5 384.9L159.0 383.3L159.5 380.6L160.0 377.6L160.5 375.8L161.0 375.1L161.5 375.1L162.0 375.5L162.5 375.7L163.0 375.5L163.5 374.9L164.0 374.1L164.5 373.7L165.0 373.8L165.5 374.9L166.0 377.7L166.5 381.9L167.0 384.8L167.5 385.8L168.0 386.1L168.5 386.1L169.0 385.7L169.5 384.3L170.0 380.0L170.5 375.1L171.0 372.9L171.5 372.3L172.0 372.2L172.5 372.5L173.0 373.1L173.5 374.1L174.0 375.6L174.5 377.0L175.0 378.2L175.5 379.6L176.0 381.3L176.5 383.2L177.0 384.7L177.5 385.5L178.0 385.8L178.5 385.8L179.0 385.4L179.5 384.0L180.0 379.9L180.5 374.8L181.0 372.6L181.5 372.1L182.0 372.0L182.5 372.2L183.0 372.9L183.5 375.1L184.0 379.1L184.5 382.4L185.0 383.7L185.5 384.0L186.0 383.7L186.5 383.0L187.0 382.3L187.5 382.0L188.0 382.2L188.5 382.5L189.0 382.6L189.5 382.2L190.0 380.7L190.5 378.3L191.0 375.6L191.5 373.9L192.0 373.2L192.5 373.2L193.0 373.9L193.5 375.7L194.0 378.8L194.5 381.6L195.0 383.0L195.5 383.1L196.0 382.2L196.5 380.4L197.0 378.2L197.5 376.8L198.0 376.6L198.5 377.8L199.0 380.1L199.5 382.4L200.0 383.8L200.5 384.2L201.0 383.7L201.5 382.2L202.0 379.2L202.5 376.1L203.0 374.3L203.5 373.7L204.0 373.7L204.5 374.4L205.0 375.7L205.5 377.2L206.0 378.5L206.5 379.1L207.0 379.1L207.5 379.0L208.0 379.3L208.5 380.4L209.0 382.1L209.5 383.6L210.0 384.6L210.5 384.9L211.0 384.8L211.5 384.0L212.0 381.5L212.5 377.0L213.0 373.9L213.5 372.9L214.0 372.7L214.5 372.7L215.0 373.1L215.5 374.4L216.0 377.4L216.5 381.1L217.0 383.2L217.5 383.9L218.0 384.0L218.5 383.8L219.0 383.5L219.5 383.2L220.0 383.0L220.5 382.8L221.0 382.5L221.5 381.6L222.0 379.7L222.5 376.9L223.0 374.6L223.5 373.5L224.0 373.2L224.5 373.2L225.0 373.5L225.5 374.5L226.0 377.6L226.5 381.7L227.0 383.8L227.5 384.4L228.0 384.4L228.5 384.1L229.0 383.2L229.5 381.4L230.0 379.4L230.5 378.1L231.0 377.7L231.5 377.8L232.0 378.2L232.5 378.3L233.0 377.7L233.5 376.7L234.0 375.6L234.5 374.9L235.0 374.6L235.5 375.0L236.0 376.2L236.5 378.6L237.0 381.3L237.5 383.0L238.0 383.6L238.5 383.6L239.0 383.0L239.5 381.5L240.0 379.4L240.5 377.6L241.0 376.8L241.5 377.0L242.0 377.9L242.5 379.1L243.0 380.1L243.5 380.3L244.0 379.5L244.5 377.9L245.0 376.3L245.5 375.3L246.0 375.0L246.5 375.4L247.0 376.7L247.5 379.1L248.0 381.5L248.5 382.9L249.0 383.3L249.5 383.1L250.0 382.1L250.5 380.3L251.0 378.4L251.5 377.2L252.0 376.9L252.5 377.4L253.0 378.5L253.5 379.6L254.0 380.2L254.5 379.9L255.0 378.9L255.5 377.4L256.0 376.1L256.5 375.5L257.0 375.7L257.5 376.6L258.0 378.6L258.5 380.9L259.0 382.4L259.5 382.9L260.0 382.7L260.5 381.7L261.0 379.8L261.5 377.7L262.0 376.4L262.5 376.1L263.0 376.7L263.5 378.2L264.0 380.0L264.5 381.4L265.0 381.8L265.5 381.4L266.0 380.0L266.5 378.0L267.0 376.4L267.5 375.5L268.0 375.5L268.5 376.1L269.0 377.6L269.5 379.5L270.0 380.9L270.5 381.6L271.0 381.4L271.5 380.6L272.0 379.5L272.5 378.6L273.0 378.4L273.5 378.9L274.0 380.1L274.5 381.4L275.0 382.1L275.5 382.1L276.0 381.2L276.5 379.2L277.0 376.6L277.5 374.9L278.0 374.3L278.5 374.2L279.0 374.6L279.5 376.1L280.0 378.9L280.5 381.7L281.0 383.1L281.5 383.5L282.0 383.3L282.5 382.7L283.0 381.4L283.5 379.8L284.0 378.6L284.5 378.2L285.0 378.3L285.5 378.6L286.0 378.7L286.5 378.2L287.0 377.3L287.5 376.2L288.0 375.3L288.5 375.0L289.0 375.2L289.5 376.3L290.0 378.6L290.5 381.3L291.0 383.0L291.5 383.6L292.0 383.7L292.5 383.2L293.0 381.6L293.5 378.9L294.0 376.5L294.5 375.4L295.0 375.2L295.5 375.7L296.0 377.0L296.5 378.9L297.0 380.4L297.5 381.1L298.0 380.9L298.5 380.0L299.0 378.7L299.5 377.7L300.0 377.3L300.5 377.6L301.0 378.5L301.5 379.6L302.0 380.5L302.5 380.7L303.0 380.2L303.5 379.0L304.0 377.7L304.5 376.8L305.0 376.6L305.5 377.4L306.0 379.1L306.5 381.2L307.0 382.7L307.5 383.2L308.0 383.2L308.5 382.3L309.0 380.0L309.5 376.9L310.0 374.9L310.5 374.3L311.0 374.1L311.5 374.4L312.0 375.4L312.5 377.5L313.0 380.1L313.5 381.9L314.0 382.7L314.5 382.8L315.0 382.6L315.5 382.2L316.0 381.9L316.5 381.8L317.0 381.8L317.5 381.6L318.0 381.1L318.5 379.8L319.0 377.6L319.5 375.5L320.0 374.4L320.5 374.0L321.0 373.9L321.5 374.0L322.0 374.8L322.5 377.3L323.0 381.4L323.5 383.5L324.0 384.0L324.5 384.1L325.0 384.0L325.5 383.6L326.0 382.4L326.5 380.1L327.0 377.8L327.5 376.5L328.0 376.0L328.5 375.9L329.0 375.9L329.5 375.7L330.0 375.4L330.5 375.1L331.0 375.0L331.5 375.1L332.0 375.9L332.5 377.7L333.0 380.6L333.5 382.8L334.0 383.7L334.5 384.0L335.0 384.0L335.5 383.6L336.0 382.3L336.5 379.6L337.0 376.8L337.5 375.4L338.0 375.0L338.5 375.2L339.0 375.9L339.5 377.1L340.0 378.1L340.5 378.5L341.0 378.2L341.5 377.5L342.0 376.8L342.5 376.5L343.0 377.0L343.5 378.4L344.0 380.5L344.5 382.3L345.0 383.2L345.5 383.5L346.0 383.3L346.5 382.5L347.0 380.7L347.5 378.4L348.0 376.7L348.5 376.0L349.0 376.1L349.5 376.7L350.0 377.6L350.5 378.3L351.0 378.4L351.5 377.7L352.0 376.7L352.5 375.8L353.0 375.5L353.5 375.7L354.0 376.9L354.5 379.4L355.0 382.0L355.5 383.4L356.0 383.9L356.5 384.0L357.0 383.7L357.5 382.6L358.0 380.1L358.5 377.3L359.0 375.6L359.5 375.0L360.0 375.0L360.5 375.5L361.0 376.2L361.5 376.9L362.0 377.2L362.5 377.1L363.0 376.8L363.5 376.6L364.0 377.0L364.5 378.2L365.0 380.3L365.5 382.4L366.0 383.6L366.5 384.0L367.0 384.0L367.5 383.7L368.0 382.4L368.5 379.7L369.0 376.6L369.5 374.9L370.0 374.4L370.5 374.4L371.0 375.0L371.5 376.0L372.0 377.3L372.5 378.3L373.0 378.6L373.5 378.3L374.0 377.8L374.5 377.6L375.0 378.0L375.5 379.4L376.0 381.4L376.5 383.0L377.0 383.8L377.5 384.0L378.0 383.9L378.5 383.1L379.0 381.1L379.5 377.8L380.0 375.4L380.5 374.4L381.0 374.2L381.5 374.3L382.0 374.9L382.5 376.0L383.0 377.1L383.5 378.0L384.0 378.3L384.5 378.3L385.0 378.4L385.5 379.1L386.0 380.6L386.5 382.3L387.0 383.6L387.5 384.2L388.0 384.3L388.5 384.2L389.0 383.4L389.5 381.0L390.0 376.8L390.5 374.3L391.0 373.6L391.5 373.4L392.0 373.5L392.5 373.9L393.0 375.0L393.5 377.4L394.0 380.1L394.5 381.8L395.0 382.5L395.5 382.7L396.0 382.7L396.5 382.8L397.0 383.0L397.5 383.3L398.0 383.4L398.5 383.3L399.0 382.5L399.5 380.4L400.0 377.2L400.5 374.7L401.0 373.7L401.5 373.4L402.0 373.4L402.5 373.7L403.0 375.0L403.5 378.3L404.0 382.0L404.5 383.7L405.0 384.1L405.5 384.1L406.0 383.5L406.5 382.2L407.0 380.4L407.5 378.8L408.0 378.0L408.5 378.0L409.0 378.4L409.5 378.8L410.0 378.7L410.5 378.1L411.0 377.0L411.5 376.0L412.0 375.4L412.5 375.4L413.0 376.2L413.5 378.0L414.0 380.3L414.5 382.1L415.0 382.9L415.5 382.8L416.0 382.0L416.5 380.0L417.0 377.7L417.5 376.0L418.0 375.5L418.5 375.9L419.0 377.4L419.5 379.9L420.0 382.0L420.5 383.0L421.0 383.2L421.5 382.5L422.0 380.8L422.5 378.3L423.0 376.1L423.5 375.1L424.0 374.9L424.5 375.3L425.0 376.3L425.5 377.8L426.0 379.0L426.5 379.7L427.0 379.7L427.5 379.3L428.0 379.1L428.5 379.3L429.0 380.2L429.5 381.6L430.0 382.8L430.5 383.5L431.0 383.6L431.5 383.1L432.0 381.4L432.5 378.2L433.0 375.2L433.5 373.9L434.0 373.5L434.5 373.6L435.0 374.0L435.5 375.5L436.0 378.7L436.5 381.8L437.0 383.3L437.5 383.7L438.0 383.5L438.5 382.9L439.0 381.9L439.5 380.7L440.0 379.9L440.5 379.7L441.0 379.7L441.5 379.6L442.0 379.1L442.5 377.9L443.0 376.4L443.5 375.1L444.0 374.4L444.5 374.3L445.0 374.7L445.5 376.1L446.0 379.0L446.5 381.9L447.0 383.5L447.5 383.9L448.0 383.8L448.5 383.1L449.0 381.1L449.5 378.3L450.0 376.3L450.5 375.4L451.0 375.6L451.5 376.5L452.0 378.1L452.5 379.8L453.0 380.8L453.5 380.8L454.0 380.0L454.5 378.7L455.0 377.5L455.5 376.8L456.0 377.0L456.5 377.9L457.0 379.4L457.5 380.7L458.0 381.4L458.5 381.3L459.0 380.4L459.5 378.7L460.0 377.1L460.5 376.1L461.0 376.0L461.5 376.9L462.0 378.8L462.5 381.1L463.0 382.6L463.5 383.2L464.0 383.0L464.5 382.0L465.0 379.7L465.5 377.0L466.0 375.3L466.5 374.7L467.0 374.8L467.5 375.6L468.0 377.3L468.5 379.2L469.0 380.7L469.5 381.2L470.0 380.8L470.5 379.9L471.0 379.0L471.5 378.5L472.0 378.7L472.5 379.8L473.0 381.2L473.5 382.3L474.0 382.8L474.5 382.5L475.0 381.4L475.5 379.1L476.0 376.5L476.5 374.9L477.0 374.3L477.5 374.3L478.0 375.0L478.5 376.6L479.0 379.0L479.5 380.9L480.0 381.9L480.5 381.9L481.0 381.2L481.5 380.1L482.0 379.1L482.5 378.8L483.0 379.4L483.5 380.7L484.0 381.9L484.5 382.7L485.0 382.8L485.5 382.0L486.0 380.0L486.5 377.2L487.0 375.0L487.5 374.1L488.0 373.9L488.5 374.1L489.0 375.0L489.5 376.9L490.0 379.7L490.5 381.7L491.0 382.5L491.5 382.7L492.0 382.3L492.5 381.7L493.0 381.2L493.5 381.1L494.0 381.5L494.5 382.0L495.0 382.2L495.5 381.9L496.0 380.7L496.5 378.3L497.0 375.6L497.5 374.1L498.0 373.6L498.5 373.5L499.0 373.7L499.5 374.7L500.0 377.4L500.5 381.3L501.0 383.5L501.5 384.2L502.0 384.3L502.5 384.0L503.0 383.2L503.5 381.8L504.0 380.1L504.5 378.8L505.0 378.2L505.5 378.1L506.0 378.0L506.5 377.6L507.0 376.7L507.5 375.6L508.0 374.7L508.5 374.3L509.0 374.3L509.5 375.0L510.0 376.7L510.5 379.8L511.0 382.6L511.5 383.8L512.0 384.2L512.5 384.0L513.0 383.3L513.5 381.5L514.0 378.8L514.5 376.7L515.0 375.9L515.5 376.0L516.0 376.9L516.5 378.4L517.0 379.7L517.5 380.2L518.0 379.8L518.5 378.5L519.0 376.9L519.5 375.7L520.0 375.3L520.5 375.5L521.0 376.6L521.5 378.6L522.0 380.7L522.5 382.1L523.0 382.6L523.5 382.4L524.0 381.7L524.5 380.5L525.0 379.5L525.5 379.1L526.0 379.5L526.5 380.5L527.0 381.5L527.5 381.9L528.0 381.4L528.5 379.7L529.0 377.0L529.5 374.7L530.0 373.6L530.5 373.3L531.0 373.3L531.5 373.8L532.0 375.8L532.5 379.9L533.0 383.3L533.5 384.5L534.0 384.9L534.5 384.9L535.0 384.6L535.5 383.8L536.0 382.2L536.5 380.2L537.0 378.5L537.5 377.2L538.0 376.3L538.5 375.3L539.0 374.4L539.5 373.6L540.0 373.2L540.5 373.0L541.0 373.1L541.5 373.7L542.0 375.9L542.5 380.7L543.0 384.2L543.5 385.3L544.0 385.5L544.5 385.6L545.0 385.4L545.5 384.8L546.0 382.2L546.5 377.3L547.0 374.2L547.5 373.2L548.0 372.9L548.5 373.0L549.0 373.4L549.5 374.0L550.0 374.8L550.5 375.6L551.0 376.4L551.5 377.4L552.0 379.0L552.5 381.2L553.0 383.4L553.5 384.7L554.0 385.3L554.5 385.5L555.0 385.3L555.5 384.5L556.0 381.8L556.5 377.2L557.0 374.0L557.5 372.9L558.0 372.6L558.5 372.8L559.0 373.7L559.5 375.7L560.0 378.5L560.5 380.6L561.0 381.3L561.5 381.0L562.0 380.1L562.5 379.1L563.0 378.7L563.5 379.4L564.0 380.9L564.5 382.6L565.0 383.7L565.5 384.1L566.0 383.8L566.5 382.4L567.0 379.7L567.5 376.7L568.0 374.7L568.5 374.0L569.0 374.1L569.5 375.0L570.0 376.7L570.5 378.7L571.0 379.9L571.5 380.0L572.0 379.0L572.5 377.6L573.0 376.4L573.5 376.0L574.0 376.9L574.5 379.1L575.0 382.0L575.5 384.2L576.0 385.2L576.5 385.4L577.0 384.9L577.5 383.1L578.0 379.5L578.5 375.6L579.0 373.6L579.5 372.9L580.0 373.0L580.5 373.8L581.0 375.4L581.5 377.5L582.0 379.1L582.5 379.6L583.0 379.3L583.5 378.7L584.0 378.4L584.5 379.0L585.0 380.6L585.5 382.7L586.0 384.4L586.5 385.3L587.0 385.5L587.5 384.8L588.0 382.6L588.5 378.5L589.0 374.6L589.5 372.6L590.0 371.9L590.5 372.1L591.0 373.1L591.5 375.4L592.0 378.6L592.5 381.2L593.0 382.3L593.5 382.1L594.0 380.9L594.5 379.4L595.0 378.5L595.5 378.8L596.0 380.3L596.5 382.5L597.0 384.3L597.5 385.2L598.0 385.1L598.5 383.8L599.0 380.6L599.5 376.4L600.0 373.2L600.5 371.8L601.0 371.5L601.5 372.2L602.0 374.0L602.5 377.1L603.0 380.2L603.5 382.0L604.0 382.3L604.5 381.5L605.0 380.1L605.5 379.0L606.0 379.0L606.5 380.5L607.0 382.9L607.5 385.1L608.0 386.4L608.5 386.5L609.0 385.3L609.5 381.7L610.0 376.1L610.5 371.7L611.0 369.7L611.5 369.2L612.0 369.5L612.5 371.1L613.0 375.3L613.5 381.0L614.0 385.0L614.5 386.7L615.0 386.8L615.5 385.7L616.0 383.6L616.5 381.4L617.0 380.1L617.5 380.2L618.0 381.3L618.5 382.5L619.0 382.8L619.5 381.4L620.0 378.2L620.5 373.9L621.0 370.5L621.5 368.8L622.0 368.5L622.5 370.0L623.0 374.3L623.5 381.4L624.0 387.3L624.5 390.1L625.0 390.7L625.5 389.6L626.0 385.8L626.5 379.0L627.0 372.6L627.5 369.3L628.0 368.6L628.5 370.1L629.0 374.1L629.5 379.7L630.0 384.3L630.5 386.5L631.0 386.3L631.5 384.2L632.0 380.8L632.5 377.8L633.0 376.5L633.5 377.1L634.0 379.4L634.5 381.9L635.0 383.2L635.5 382.2L636.0 378.4L636.5 372.9L637.0 368.0L637.5 365.4L638.0 365.1L638.5 367.4L639.0 374.2L639.5 385.1L640.0 393.1L640.5 396.4L641.0 397.3L641.5 396.7L642.0 393.8L642.5 385.5L643.0 373.3L643.5 365.2L644.0 362.2L644.5 361.6L645.0 362.5L645.5 365.2L646.0 369.4L646.5 373.8L647.0 376.9L647.5 378.5L648.0 379.7L648.5 381.9L649.0 385.7L649.5 390.7L650.0 395.0L650.5 397.5L651.0 398.3L651.5 397.5L652.0 393.7L652.5 383.3L653.0 368.9L653.5 360.6L654.0 357.9L654.5 357.4L655.0 358.0L655.5 361.0L656.0 369.5L656.5 382.8L657.0 392.1L657.5 395.7L658.0 396.1L658.5 394.2L659.0 390.4L659.5 386.0L660.0 382.8L660.5 382.2L661.0 383.5L661.5 385.1L662.0 385.4L662.5 383.2L663.0 377.9L663.5 370.9L664.0 365.3L664.5 362.5L665.0 362.1L665.5 364.3L666.0 370.1L666.5 379.7L667.0 388.4L667.5 392.8L668.0 393.5L668.5 391.0L669.0 385.0L669.5 377.0L670.0 370.9L670.5 368.8L671.0 370.5L671.5 376.3L672.0 384.2L672.5 390.5L673.0 393.3L673.5 393.1L674.0 389.7L674.5 382.5L675.0 373.4L675.5 367.1L676.0 364.5L676.5 364.4L677.0 366.5L677.5 370.6L678.0 375.8L678.5 379.9L679.0 381.5L679.5 380.9L680.0 379.4L680.5 378.4L681.0 379.4L681.5 382.9L682.0 387.9L682.5 392.0L683.0 394.1L683.5 394.4L684.0 393.0L684.5 388.3L685.0 378.2L685.5 368.1L686.0 363.7L686.5 362.5L687.0 362.6L687.5 363.6L688.0 366.7L688.5 373.8L689.0 382.7L689.5 388.2L690.0 390.3L690.5 390.4L691.0 389.5L691.5 388.2L692.0 387.2L692.5 387.0L693.0 387.5L693.5 387.9L694.0 387.3L694.5 384.9L695.0 379.8L695.5 372.9L696.0 368.1L696.5 366.1L697.0 365.7L697.5 365.9L698.0 367.2L698.5 370.9L699.0 378.7L699.5 386.1L700.0 389.3L700.5 390.2L701.0 389.9L701.5 388.6L702.0 386.4L702.5 383.8L703.0 381.9L703.5 381.3L704.0 381.6L704.5 381.9L705.0 381.3L705.5 379.0L706.0 375.2L706.5 371.5L707.0 369.4L707.5 368.7L708.0 368.7L708.5 369.5L709.0 372.0L709.5 377.7L710.0 384.2L710.5 387.4L711.0 388.4L711.5 388.4L712.0 387.8L712.5 386.4L713.0 384.0L713.5 381.5L714.0 379.7L714.5 378.9L715.0 378.6L715.5 378.1L716.0 376.6L716.5 374.4L717.0 372.3L717.5 371.0L718.0 370.5L718.5 370.5L719.0 371.3L719.5 373.8L720.0 379.5L720.5 385.0L721.0 387.1L721.5 387.6L722.0 387.6L722.5 387.1L723.0 385.8L723.5 382.6L724.0 378.2L724.5 375.2L725.0 373.9L725.5 373.7L726.0 374.1L726.5 374.5L727.0 374.7L727.5 374.4L728.0 373.9L728.5 373.6L729.0 373.9L729.5 375.0L730.0 377.7L730.5 381.6L731.0 384.6L731.5 385.9L732.0 386.2L732.5 386.1L733.0 385.1L733.5 382.6L734.0 378.4L734.5 375.0L735.0 373.5L735.5 373.4L736.0 374.1L736.5 375.8L737.0 378.0L737.5 379.7L738.0 380.2L738.5 379.4L739.0 377.8L739.5 376.3L740.0 375.4L740.5 375.5L741.0 376.8L741.5 379.2L742.0 381.8L742.5 383.5L743.0 384.2L743.5 384.0L744.0 383.0L744.5 381.2L745.0 379.0L745.5 377.5L746.0 377.1L746.5 377.6L747.0 378.7L747.5 379.7L748.0 380.0L748.5 379.1L749.0 377.2L749.5 375.1L750.0 373.7L750.5 373.1L751.0 373.2L751.5 374.2L752.0 377.1L752.5 381.6L753.0 384.5L753.5 385.4L754.0 385.7L754.5 385.5L755.0 384.8L755.5 382.9L756.0 379.5L756.5 376.4L757.0 374.7L757.5 374.1L758.0 374.1L758.5 374.3L759.0 374.4L759.5 374.5L760.0 374.4L760.5 374.4L761.0 374.8L761.5 376.2L762.0 378.9L762.5 382.4L763.0 384.6L763.5 385.5L764.0 385.7L764.5 385.6L765.0 385.2L765.5 383.4L766.0 378.7L766.5 374.4L767.0 372.9L767.5 372.5L768.0 372.5L768.5 373.0L769.0 374.1L769.5 376.5L770.0 379.2L770.5 381.1L771.0 381.9L771.5 382.0L772.0 382.0L772.5 382.1L773.0 382.5L773.5 383.1L774.0 383.6L774.5 383.7L775.0 383.1L775.5 381.4L776.0 378.5L776.5 375.4L777.0 373.7L777.5 373.2L778.0 373.2L778.5 373.9L779.0 375.8L779.5 379.3L780.0 382.4L780.5 383.7L781.0 384.0L781.5 383.4L782.0 381.7L782.5 379.2L783.0 377.0L783.5 376.1L784.0 376.2L784.5 377.3L785.0 379.1L785.5 380.7L786.0 381.5L786.5 381.3L787.0 380.3L787.5 378.8L788.0 377.4L788.5 376.7L789.0 376.9L789.5 377.9L790.0 379.5L790.5 380.9L791.0 381.5L791.5 381.1L792.0 379.7L792.5 377.6L793.0 375.7L793.5 374.8L794.0 374.7L794.5 375.6L795.0 377.9L795.5 381.0L796.0 383.2L796.5 384.1L797.0 384.2L797.5 383.6L798.0 381.9L798.5 379.0L799.0 376.5L799.5 375.2L800.0 374.9L800.5 375.5L801.0 376.6L801.5 378.1L802.0 379.2L802.5 379.4L803.0 378.8L803.5 377.8L804.0 377.0L804.5 376.9L805.0 377.6L805.5 379.3L806.0 381.4L806.5 383.0L807.0 383.7L807.5 383.7L808.0 383.0L808.5 381.0L809.0 378.1L809.5 375.8L810.0 374.7L810.5 374.6L811.0 375.2L811.5 376.6L812.0 378.7L812.5 380.3L813.0 381.0L813.5 380.6L814.0 379.4L814.5 377.9L815.0 376.9L815.5 376.6L816.0 377.4L816.5 379.2L817.0 381.3L817.5 382.8L818.0 383.4L818.5 383.2L819.0 382.3L819.5 380.3L820.0 377.8L820.5 375.9L821.0 375.2L821.5 375.2L822.0 376.0L822.5 377.4L823.0 378.9L823.5 379.8L824.0 379.8L824.5 379.1L825.0 377.9L825.5 377.1L826.0 376.9L826.5 377.6L827.0 379.3L827.5 381.4L828.0 382.9L828.5 383.6L829.0 383.6L829.5 382.9L830.0 381.0L830.5 378.1L831.0 375.7L831.5 374.7L832.0 374.5L832.5 374.9L833.0 376.1L833.5 378.1L834.0 379.9L834.5 380.8L835.0 380.8L835.5 380.1L836.0 379.0L836.5 378.1L837.0 377.9L837.5 378.5L838.0 379.8L838.5 381.3L839.0 382.3L839.5 382.6L840.0 382.2L840.5 381.0L841.0 378.9L841.5 376.9L842.0 375.8L842.5 375.5L843.0 375.9L843.5 377.1L844.0 378.8L844.5 380.3L845.0 380.9L845.5 380.5L846.0 379.2L846.5 377.6L847.0 376.3L847.5 375.8L848.0 376.2L848.5 377.6L849.0 380.0L849.5 382.2L850.0 383.3L850.5 383.6L851.0 383.4L851.5 382.6L852.0 380.7L852.5 378.2L853.0 376.3L853.5 375.5L854.0 375.3L854.5 375.5L855.0 376.1L855.5 376.6L856.0 376.9L856.5 376.8L857.0 376.7L857.5 376.7L858.0 377.3L858.5 378.7L859.0 381.0L859.5 382.9L860.0 383.7L860.5 384.0L861.0 384.1L861.5 383.8L862.0 382.7L862.5 379.4L863.0 375.7L863.5 374.2L864.0 373.9L864.5 373.8L865.0 374.0L865.5 374.4L866.0 375.8L866.5 378.1L867.0 380.3L867.5 381.7L868.0 382.3L868.5 382.6L869.0 382.9L869.5 383.2L870.0 383.4L870.5 383.5L871.0 383.4L871.5 382.9L872.0 381.5L872.5 378.4L873.0 375.4L873.5 374.2L874.0 373.9L874.5 373.8L875.0 373.9L875.5 374.4L876.0 376.3L876.5 380.0L877.0 382.7L877.5 383.6L878.0 383.8L878.5 383.6L879.0 383.1L879.5 382.0L880.0 380.7L880.5 379.7L881.0 379.3L881.5 379.3L882.0 379.2L882.5 378.8L883.0 377.9L883.5 376.6L884.0 375.5L884.5 374.9L885.0 374.8L885.5 375.1L886.0 376.2L886.5 378.3L887.0 380.8L887.5 382.3L888.0 382.9L888.5 382.8L889.0 382.0L889.5 380.5L890.0 378.8L890.5 377.7L891.0 377.5L891.5 378.3L892.0 379.8L892.5 381.2L893.0 381.9L893.5 381.9L894.0 381.0L894.5 379.0L895.0 376.7L895.5 375.2L896.0 374.7L896.5 374.6L897.0 375.1L897.5 376.3L898.0 378.4L898.5 380.4L899.0 381.6L899.5 381.9L900.0 381.8L900.5 381.4L901.0 381.1L901.5 381.0L902.0 381.4L902.5 381.9L903.0 382.3L903.5 382.3L904.0 381.5L904.5 379.7L905.0 376.9L905.5 374.9L906.0 374.2L906.5 373.9L907.0 374.0L907.5 374.3L908.0 375.7L908.5 379.0L909.0 382.2L909.5 383.4L910.0 383.8L910.5 383.8L911.0 383.5L911.5 382.8L912.0 381.6L912.5 380.4L913.0 379.4L913.5 378.9L914.0 378.5L914.5 377.8L915.0 376.8L915.5 375.6L916.0 374.8L916.5 374.4L917.0 374.3L917.5 374.5L918.0 375.4L918.5 377.8L919.0 381.3L919.5 383.2L920.0 383.8L920.5 384.0L921.0 383.8L921.5 383.2L922.0 381.7L922.5 379.3L923.0 377.3L923.5 376.4L924.0 376.3L924.5 376.7L925.0 377.2L925.5 377.4L926.0 377.2L926.5 376.5L927.0 375.8L927.5 375.3L928.0 375.4L928.5 376.0L929.0 377.8L929.5 380.4L930.0 382.5L930.5 383.4L931.0 383.7L931.5 383.6L932.0 383.0L932.5 381.5L933.0 379.1L933.5 377.1L934.0 376.2L934.5 376.0L935.0 376.4L935.5 377.1L936.0 377.7L936.5 377.8L937.0 377.4L937.5 376.6L938.0 376.0L938.5 375.8L939.0 376.2L939.5 377.6L940.0 380.0L940.5 382.2L941.0 383.3L941.5 383.7L942.0 383.6L942.5 383.1L943.0 381.6L943.5 378.8L944.0 376.4L944.5 375.3L945.0 375.0L945.5 375.3L946.0 376.2L946.5 377.4L947.0 378.6L947.5 379.2L948.0 379.1L948.5 378.5L949.0 378.0L949.5 377.9L950.0 378.5L950.5 379.7L951.0 381.2L951.5 382.3L952.0 382.8L952.5 382.7L953.0 381.8L953.5 380.0L954.0 377.6L954.5 375.9L955.0 375.2L955.5 375.3L956.0 376.1L956.5 377.8L957.0 380.0L957.5 381.4L958.0 381.9L958.5 381.6L959.0 380.3L959.5 378.4L960.0 376.8L960.5 376.1L961.0 376.1L961.5 376.9L962.0 378.5L962.5 380.3L963.0 381.4L963.5 381.8L964.0 381.6L964.5 380.7L965.0 379.5L965.5 378.5L966.0 378.2L966.5 378.5L967.0 379.3L967.5 380.2L968.0 380.6L968.5 380.4L969.0 379.2L969.5 377.4L970.0 375.8L970.5 374.9L971.0 374.7L971.5 375.1L972.0 376.3L972.5 379.1L973.0 381.9L973.5 383.3L974.0 383.7L974.5 383.7L975.0 383.2L975.5 381.9L976.0 379.5L976.5 377.2L977.0 376.0L977.5 375.6L978.0 375.8L978.5 376.3L979.0 376.9L979.5 377.2L980.0 377.2L980.5 377.0L981.0 376.8L981.5 377.1L982.0 378.0L982.5 379.8L983.0 381.7L983.5 383.0L984.0 383.5L984.5 383.6L985.0 383.2L985.5 381.8L986.0 378.9L986.5 376.1L987.0 374.8L987.5 374.4L988.0 374.6L988.5 375.3L989.0 377.1L989.5 379.5L990.0 381.3L990.5 382.0L991.0 381.9L991.5 381.1L992.0 379.9L992.5 378.7L993.0 378.2L993.5 378.3L994.0 378.9L994.5 379.7L995.0 380.3L995.5 380.3L996.0 379.6L996.5 378.4L997.0 377.3L997.5 376.6L998.0 376.6L998.5 377.4L999.0 379.1L999.5 381.0L1000.0 382.3L1000.5 382.7L1001.0 382.4L1001.5 381.1L1002.0 378.6L1002.5 376.1L1003.0 374.9L1003.5 374.5L1004.0 374.7L1004.5 375.5L1005.0 377.6L1005.5 380.4L1006.0 382.3L1006.5 383.0L1007.0 383.1L1007.5 382.8L1008.0 381.9L1008.5 380.7L1009.0 379.6L1009.5 378.9L1010.0 378.7L1010.5 378.7L1011.0 378.4L1011.5 377.7L1012.0 376.6L1012.5 375.5L1013.0 374.8L1013.5 374.5L1014.0 374.7L1014.5 375.5L1015.0 377.9L1015.5 381.2L1016.0 383.3L1016.5 383.9L1017.0 384.1L1017.5 384.0L1018.0 383.4L1018.5 381.7L1019.0 378.7L1019.5 376.1L1020.0 375.1L1020.5 374.8L1021.0 375.0L1021.5 375.5L1022.0 376.3L1022.5 376.9L1023.0 377.1L1023.5 377.0L1024.0 377.0L1024.5 377.3L1025.0 378.3L1025.5 380.1L1026.0 382.0L1026.5 383.2L1027.0 383.7L1027.5 383.8L1028.0 383.5L1028.5 382.5L1029.0 380.0L1029.5 377.0L1030.0 375.2L1030.5 374.6L1031.0 374.6L1031.5 375.1L1032.0 376.1L1032.5 377.6L1033.0 378.9L1033.5 379.4L1034.0 379.2L1034.5 378.5L1035.0 377.9L1035.5 377.9L1036.0 378.7L1036.5 380.2L1037.0 381.9L1037.5 383.0L1038.0 383.5L1038.5 383.5L1039.0 382.9L1039.5 381.3L1040.0 378.5L1040.5 376.1L1041.0 375.0L1041.5 374.7L1042.0 374.8L1042.5 375.5L1043.0 376.6L1043.5 378.0L1044.0 378.8L1044.5 379.0L1045.0 378.7L1045.5 378.4L1046.0 378.4L1046.5 379.0L1047.0 380.5L1047.5 382.1L1048.0 383.1L1048.5 383.6L1049.0 383.6L1049.5 383.2L1050.0 381.7L1050.5 378.7L1051.0 375.8L1051.5 374.6L1052.0 374.2L1052.5 374.2L1053.0 374.7L1053.5 375.9L1054.0 377.9L1054.5 379.7L1055.0 380.7L1055.5 380.9L1056.0 380.5L1056.5 380.0L1057.0 379.8L1057.5 380.2L1058.0 381.2L1058.5 382.2L1059.0 382.8L1059.5 383.0L1060.0 382.6L1060.5 381.4L1061.0 379.0L1061.5 376.4L1062.0 375.0L1062.5 374.4L1063.0 374.5L1063.5 375.0L1064.0 376.2L1064.5 378.1L1065.0 379.9L1065.5 380.8L1066.0 380.8L1066.5 380.1L1067.0 379.2L1067.5 378.7L1068.0 378.8L1068.5 379.9L1069.0 381.4L1069.5 382.7L1070.0 383.3L1070.5 383.4L1071.0 383.0L1071.5 381.5L1072.0 378.6L1072.5 375.9L1073.0 374.5L1073.5 374.1L1074.0 374.1L1074.5 374.5L1075.0 375.4L1075.5 377.0L1076.0 378.8L1076.5 380.1L1077.0 380.7L1077.5 380.9L1078.0 381.1L1078.5 381.6L1079.0 382.3L1079.5 383.1L1080.0 383.6L1080.5 383.8L1081.0 383.6L1081.5 382.8L1082.0 380.3L1082.5 376.5L1083.0 374.3L1083.5 373.7L1084.0 373.6L1084.5 373.6L1085.0 373.8L1085.5 374.8L1086.0 377.9L1086.5 381.6L1087.0 383.3L1087.5 383.9L1088.0 384.0L1088.5 383.8L1089.0 383.5L1089.5 383.0L1090.0 382.4L1090.5 381.8L1091.0 381.0L1091.5 379.8L1092.0 378.0L1092.5 376.0L1093.0 374.6L1093.5 373.9L1094.0 373.7L1094.5 373.7L1095.0 374.0L1095.5 375.2L1096.0 378.6L1096.5 382.4L1097.0 383.9L1097.5 384.3L1098.0 384.3L1098.5 384.1L1099.0 383.2L1099.5 381.2L1100.0 378.4L1100.5 376.5L1101.0 375.8L1101.5 375.9L1102.0 376.4L1102.5 377.0L1103.0 377.3L1103.5 377.2L1104.0 376.7L1104.5 376.3L1105.0 376.1L1105.5 376.6L1106.0 377.8L1106.5 379.7L1107.0 381.6L1107.5 382.8L1108.0 383.1L1108.5 382.9L1109.0 381.9L1109.5 379.9L1110.0 377.6L1110.5 376.2L1111.0 375.8L1111.5 376.3L1112.0 377.8L1112.5 379.8L1113.0 381.5L1113.5 382.2L1114.0 381.9L1114.5 380.7L1115.0 378.4L1115.5 376.3L1116.0 375.2L1116.5 374.8L1117.0 375.1L1117.5 376.2L1118.0 378.2L1118.5 380.4L1119.0 381.7L1119.5 382.2L1120.0 382.0L1120.5 381.4L1121.0 380.6L1121.5 380.0L1122.0 379.9L1122.5 380.4L1123.0 381.0L1123.5 381.4L1124.0 381.1L1124.5 379.9L1125.0 377.8L1125.5 375.7L1126.0 374.5L1126.5 374.0L1127.0 374.0L1127.5 374.5L1128.0 376.1L1128.5 379.5L1129.0 382.5L1129.5 383.7L1130.0 384.1L1130.5 384.0L1131.0 383.4L1131.5 382.1L1132.0 379.9L1132.5 377.9L1133.0 376.9L1133.5 376.6L1134.0 376.9L1134.5 377.3L1135.0 377.4L1135.5 377.0L1136.0 376.3L1136.5 375.7L1137.0 375.4L1137.5 375.6L1138.0 376.6L1138.5 378.7L1139.0 381.3L1139.5 383.0L1140.0 383.8L1140.5 383.9L1141.0 383.5L1141.5 382.2L1142.0 379.7L1142.5 377.0L1143.0 375.5L1143.5 375.1L1144.0 375.4L1144.5 376.5L1145.0 378.1L1145.5 379.7L1146.0 380.4L1146.5 380.2L1147.0 379.2L1147.5 377.9L1148.0 377.0L1148.5 376.7L1149.0 377.2L1149.5 378.6L1150.0 380.4L1150.5 381.9L1151.0 382.5L1151.5 382.4L1152.0 381.6L1152.5 379.9L1153.0 377.9L1153.5 376.6L1154.0 376.1L1154.5 376.5L1155.0 377.8L1155.5 379.5L1156.0 380.8L1156.5 381.3L1157.0 381.0L1157.5 379.7L1158.0 377.8L1158.5 376.3L1159.0 375.6L1159.5 375.7L1160.0 376.6L1160.5 378.6L1161.0 380.8L1161.5 382.2L1162.0 382.7L1162.5 382.4L1163.0 381.3L1163.5 379.5L1164.0 377.6L1164.5 376.6L1165.0 376.5L1165.5 377.2L1166.0 378.7L1166.5 380.3L1167.0 381.3L1167.5 381.4L1168.0 380.6L1168.5 379.0L1169.0 377.2L1169.5 375.9L1170.0 375.5L1170.5 375.8L1171.0 377.0L1171.5 378.8L1172.0 380.7L1172.5 381.8L1173.0 382.0L1173.5 381.4L1174.0 380.2L1174.5 378.8L1175.0 377.8L1175.5 377.7L1176.0 378.5L1176.5 380.0L1177.0 381.4L1177.5 382.2L1178.0 382.2L1178.5 381.2L1179.0 379.0L1179.5 376.4L1180.0 374.8L1180.5 374.1L1181.0 374.1L1181.5 374.6L1182.0 376.2L1182.5 379.0L1183.0 381.7L1183.5 383.1L1184.0 383.5L1184.5 383.3L1185.0 382.8L1185.5 381.8L1186.0 380.7L1186.5 380.0L1187.0 379.7L1187.5 379.8L1188.0 379.6L1188.5 378.9L1189.0 377.5L1189.5 375.8L1190.0 374.6L1190.5 374.0L1191.0 373.8L1191.5 374.1L1192.0 375.1L1192.5 378.1L1193.0 381.9L1193.5 383.9L1194.0 384.4L1194.5 384.5L1195.0 384.4L1195.5 383.7L1196.0 381.7L1196.5 378.6L1197.0 376.2L1197.5 375.2L1198.0 375.0L1198.5 375.2L1199.0 375.7L1199.5 376.1L1200.0 376.3L1200.5 376.2L1201.0 376.1L1201.5 376.2L1202.0 376.9L1202.5 378.5L1203.0 380.8L1203.5 382.8L1204.0 383.8L1204.5 384.1L1205.0 384.0L1205.5 383.3L1206.0 381.4L1206.5 378.2L1207.0 375.6L1207.5 374.6L1208.0 374.4L1208.5 374.9L1209.0 376.2L1209.5 378.3L1210.0 380.2L1210.5 381.0L1211.0 380.8L1211.5 379.7L1212.0 378.2L1212.5 376.9L1213.0 376.4L1213.5 376.8L1214.0 378.0L1214.5 379.9L1215.0 381.6L1215.5 382.5L1216.0 382.6L1216.5 382.1L1217.0 381.0L1217.5 379.4" fill="none" stroke="#e60000" stroke-width="1.6" stroke-opacity="0.9" stroke-linejoin="round"/><path d="M122.0 382.8L122.5 379.9L123.0 376.8L123.5 374.5L124.0 373.2L124.5 372.6L125.0 372.4L125.5 372.5L126.0 373.0L126.5 373.9L127.0 375.3L127.5 377.2L128.0 379.3L128.5 381.1L129.0 382.4L129.5 383.3L130.0 383.8L130.5 384.0L131.0 383.9L131.5 383.7L132.0 383.2L132.5 382.5L133.0 381.7L133.5 380.7L134.0 379.6L134.5 378.5L135.0 377.4L135.5 376.4L136.0 375.6L136.5 374.9L137.0 374.4L137.5 374.2L138.0 374.1L138.5 374.2L139.0 374.7L139.5 375.4L140.0 376.6L140.5 378.2L141.0 380.2L141.5 382.1L142.0 383.6L142.5 384.7L143.0 385.3L143.5 385.6L144.0 385.6L144.5 385.2L145.0 384.4L145.5 382.7L146.0 379.9L146.5 376.7L147.0 374.1L147.5 372.5L148.0 371.8L148.5 371.5L149.0 371.5L149.5 371.8L150.0 372.6L150.5 374.5L151.0 377.9L151.5 381.9L152.0 384.6L152.5 385.9L153.0 386.4L153.5 386.5L154.0 386.4L154.5 385.9L155.0 384.7L155.5 382.2L156.0 378.6L156.5 375.3L157.0 373.4L157.5 372.5L158.0 372.2L158.5 372.3L159.0 372.9L159.5 374.0L160.0 375.8L160.5 378.1L161.0 380.3L161.5 381.8L162.0 382.6L162.5 382.8L163.0 382.5L163.5 381.8L164.0 381.0L164.5 380.1L165.0 379.5L165.5 379.3L166.0 379.5L166.5 379.9L167.0 380.5L167.5 381.1L168.0 381.4L168.5 381.4L169.0 380.9L169.5 379.9L170.0 378.4L170.5 376.8L171.0 375.4L171.5 374.4L172.0 373.9L172.5 373.8L173.0 374.1L173.5 375.1L174.0 376.7L174.5 378.8L175.0 381.1L175.5 382.9L176.0 384.0L176.5 384.5L177.0 384.6L177.5 384.3L178.0 383.4L178.5 382.0L179.0 380.2L179.5 378.1L180.0 376.4L180.5 375.3L181.0 374.7L181.5 374.5L182.0 374.7L182.5 375.3L183.0 376.3L183.5 377.4L184.0 378.6L184.5 379.8L185.0 380.6L185.5 381.1L186.0 381.4L186.5 381.3L187.0 381.0L187.5 380.5L188.0 380.0L188.5 379.3L189.0 378.8L189.5 378.4L190.0 378.1L190.5 378.0L191.0 378.2L191.5 378.6L192.0 379.1L192.5 379.7L193.0 380.3L193.5 380.8L194.0 381.1L194.5 381.1L195.0 380.7L195.5 379.9L196.0 378.8L196.5 377.5L197.0 376.2L197.5 375.2L198.0 374.5L198.5 374.3L199.0 374.5L199.5 375.2L200.0 376.5L200.5 378.6L201.0 381.0L201.5 383.1L202.0 384.4L202.5 385.0L203.0 385.2L203.5 385.0L204.0 384.3L204.5 382.8L205.0 380.3L205.5 377.3L206.0 374.8L206.5 373.4L207.0 372.8L207.5 372.7L208.0 372.9L208.5 373.6L209.0 374.9L209.5 377.2L210.0 379.9L210.5 382.1L211.0 383.4L211.5 383.9L212.0 384.0L212.5 383.6L213.0 382.9L213.5 381.7L214.0 380.3L214.5 379.1L215.0 378.3L215.5 378.0L216.0 378.1L216.5 378.5L217.0 379.0L217.5 379.5L218.0 379.6L218.5 379.3L219.0 378.5L219.5 377.3L220.0 376.1L220.5 375.1L221.0 374.4L221.5 374.2L222.0 374.4L222.5 375.1L223.0 376.6L223.5 379.0L224.0 381.7L224.5 383.6L225.0 384.6L225.5 385.0L226.0 385.0L226.5 384.9L227.0 384.4L227.5 383.0L228.0 380.5L228.5 377.1L229.0 374.7L229.5 373.6L230.0 373.1L230.5 373.0L231.0 373.1L231.5 373.4L232.0 374.1L232.5 375.8L233.0 378.4L233.5 381.1L234.0 382.9L234.5 383.9L235.0 384.4L235.5 384.5L236.0 384.4L236.5 384.1L237.0 383.5L237.5 382.4L238.0 380.9L238.5 379.1L239.0 377.4L239.5 376.0L240.0 375.1L240.5 374.6L241.0 374.3L241.5 374.2L242.0 374.4L242.5 374.8L243.0 375.5L243.5 376.7L244.0 378.3L244.5 380.0L245.0 381.4L245.5 382.5L246.0 383.1L246.5 383.4L247.0 383.4L247.5 383.1L248.0 382.5L248.5 381.5L249.0 380.4L249.5 379.1L250.0 378.1L250.5 377.3L251.0 376.8L251.5 376.6L252.0 376.6L252.5 376.7L253.0 376.8L253.5 376.9L254.0 376.9L254.5 376.8L255.0 376.7L255.5 376.7L256.0 376.9L256.5 377.4L257.0 378.2L257.5 379.4L258.0 380.9L258.5 382.2L259.0 383.2L259.5 383.8L260.0 384.0L260.5 383.9L261.0 383.4L261.5 382.2L262.0 380.1L262.5 377.4L263.0 375.3L263.5 374.1L264.0 373.5L264.5 373.4L265.0 373.5L265.5 374.1L266.0 375.3L266.5 377.8L267.0 380.8L267.5 382.9L268.0 383.9L268.5 384.3L269.0 384.3L269.5 383.9L270.0 382.9L270.5 381.1L271.0 378.6L271.5 376.5L272.0 375.3L272.5 374.8L273.0 374.8L273.5 375.4L274.0 376.6L274.5 378.4L275.0 380.2L275.5 381.6L276.0 382.3L276.5 382.4L277.0 381.9L277.5 380.8L278.0 379.1L278.5 377.4L279.0 376.0L279.5 375.3L280.0 375.1L280.5 375.3L281.0 376.2L281.5 377.6L282.0 379.5L282.5 381.2L283.0 382.5L283.5 383.1L284.0 383.3L284.5 383.0L285.0 382.4L285.5 381.3L286.0 379.7L286.5 378.1L287.0 376.8L287.5 376.1L288.0 375.7L288.5 375.7L289.0 376.0L289.5 376.6L290.0 377.3L290.5 378.0L291.0 378.6L291.5 379.1L292.0 379.4L292.5 379.5L293.0 379.6L293.5 379.7L294.0 379.9L294.5 380.2L295.0 380.5L295.5 380.8L296.0 381.1L296.5 381.3L297.0 381.2L297.5 381.0L298.0 380.4L298.5 379.7L299.0 378.7L299.5 377.8L300.0 377.0L300.5 376.5L301.0 376.2L301.5 376.2L302.0 376.4L302.5 376.8L303.0 377.3L303.5 377.9L304.0 378.4L304.5 378.9L305.0 379.3L305.5 379.6L306.0 379.9L306.5 380.2L307.0 380.7L307.5 381.2L308.0 381.8L308.5 382.2L309.0 382.6L309.5 382.7L310.0 382.5L310.5 381.9L311.0 380.7L311.5 378.8L312.0 376.7L312.5 375.0L313.0 374.1L313.5 373.7L314.0 373.6L314.5 373.6L315.0 374.1L315.5 375.2L316.0 377.7L316.5 381.1L317.0 383.4L317.5 384.3L318.0 384.6L318.5 384.7L319.0 384.6L319.5 384.3L320.0 383.4L320.5 380.9L321.0 377.4L321.5 374.9L322.0 373.9L322.5 373.6L323.0 373.5L323.5 373.7L324.0 374.2L324.5 375.4L325.0 377.4L325.5 379.8L326.0 381.5L326.5 382.4L327.0 382.7L327.5 382.5L328.0 382.0L328.5 381.1L329.0 380.2L329.5 379.6L330.0 379.3L330.5 379.5L331.0 380.0L331.5 380.7L332.0 381.4L332.5 381.7L333.0 381.6L333.5 381.0L334.0 379.8L334.5 378.0L335.0 376.1L335.5 374.8L336.0 374.2L336.5 373.9L337.0 373.9L337.5 374.2L338.0 375.1L338.5 377.1L339.0 380.0L339.5 382.5L340.0 383.8L340.5 384.3L341.0 384.5L341.5 384.4L342.0 384.1L342.5 383.3L343.0 381.7L343.5 379.0L344.0 376.6L344.5 375.0L345.0 374.3L345.5 374.0L346.0 374.1L346.5 374.3L347.0 374.9L347.5 375.8L348.0 377.1L348.5 378.5L349.0 379.8L349.5 380.8L350.0 381.6L350.5 382.0L351.0 382.3L351.5 382.5L352.0 382.5L352.5 382.5L353.0 382.2L353.5 381.7L354.0 381.0L354.5 379.9L355.0 378.6L355.5 377.3L356.0 376.2L356.5 375.4L357.0 375.0L357.5 375.0L358.0 375.2L358.5 375.9L359.0 377.1L359.5 378.7L360.0 380.2L360.5 381.4L361.0 382.1L361.5 382.3L362.0 382.1L362.5 381.4L363.0 380.2L363.5 379.0L364.0 377.8L364.5 377.1L365.0 376.9L365.5 377.2L366.0 378.1L366.5 379.4L367.0 380.7L367.5 381.7L368.0 382.2L368.5 382.2L369.0 381.6L369.5 380.3L370.0 378.5L370.5 376.6L371.0 375.2L371.5 374.4L372.0 374.2L372.5 374.3L373.0 375.1L373.5 376.7L374.0 379.2L374.5 381.7L375.0 383.3L375.5 384.0L376.0 384.2L376.5 384.1L377.0 383.4L377.5 381.8L378.0 379.4L378.5 376.8L379.0 375.2L379.5 374.4L380.0 374.3L380.5 374.6L381.0 375.7L381.5 377.5L382.0 379.8L382.5 381.7L383.0 382.7L383.5 383.0L384.0 382.6L384.5 381.5L385.0 379.6L385.5 377.3L386.0 375.5L386.5 374.6L387.0 374.3L387.5 374.6L388.0 375.5L388.5 377.5L389.0 380.3L389.5 382.7L390.0 384.0L390.5 384.5L391.0 384.6L391.5 384.4L392.0 383.6L392.5 381.7L393.0 378.6L393.5 375.8L394.0 374.1L394.5 373.4L395.0 373.2L395.5 373.3L396.0 373.7L396.5 374.7L397.0 376.5L397.5 379.1L398.0 381.4L398.5 382.9L399.0 383.6L399.5 383.8L400.0 383.8L400.5 383.4L401.0 382.8L401.5 382.0L402.0 381.1L402.5 380.2L403.0 379.4L403.5 378.7L404.0 377.9L404.5 377.2L405.0 376.5L405.5 375.8L406.0 375.2L406.5 374.7L407.0 374.5L407.5 374.6L408.0 375.0L408.5 375.8L409.0 377.3L409.5 379.4L410.0 381.4L410.5 383.0L411.0 383.9L411.5 384.2L412.0 384.3L412.5 384.0L413.0 383.4L413.5 382.1L414.0 380.1L414.5 378.0L415.0 376.4L415.5 375.4L416.0 374.9L416.5 374.9L417.0 375.2L417.5 375.7L418.0 376.4L418.5 377.1L419.0 377.6L419.5 377.8L420.0 377.8L420.5 377.7L421.0 377.8L421.5 378.1L422.0 378.8L422.5 380.0L423.0 381.5L423.5 382.9L424.0 383.9L424.5 384.4L425.0 384.6L425.5 384.5L426.0 383.9L426.5 382.5L427.0 379.5L427.5 375.9L428.0 373.8L428.5 373.0L429.0 372.7L429.5 372.7L430.0 372.8L430.5 373.2L431.0 374.6L431.5 378.2L432.0 382.5L432.5 384.6L433.0 385.2L433.5 385.3L434.0 385.3L434.5 385.1L435.0 384.5L435.5 382.6L436.0 378.9L436.5 375.5L437.0 373.9L437.5 373.4L438.0 373.3L438.5 373.6L439.0 374.3L439.5 375.9L440.0 378.2L440.5 380.3L441.0 381.6L441.5 382.1L442.0 381.8L442.5 380.9L443.0 379.5L443.5 378.1L444.0 377.1L444.5 376.7L445.0 377.0L445.5 378.0L446.0 379.6L446.5 381.4L447.0 382.7L447.5 383.5L448.0 383.7L448.5 383.4L449.0 382.6L449.5 380.8L450.0 378.3L450.5 375.9L451.0 374.5L451.5 373.8L452.0 373.6L452.5 373.8L453.0 374.4L453.5 375.8L454.0 378.0L454.5 380.4L455.0 382.3L455.5 383.2L456.0 383.6L456.5 383.5L457.0 383.0L457.5 382.1L458.0 380.8L458.5 379.4L459.0 378.2L459.5 377.5L460.0 377.3L460.5 377.4L461.0 377.7L461.5 378.1L462.0 378.4L462.5 378.6L463.0 378.4L463.5 378.1L464.0 377.6L464.5 377.3L465.0 377.1L465.5 377.1L466.0 377.6L466.5 378.4L467.0 379.4L467.5 380.5L468.0 381.3L468.5 381.8L469.0 381.9L469.5 381.5L470.0 380.7L470.5 379.6L471.0 378.3L471.5 377.3L472.0 376.7L472.5 376.6L473.0 377.0L473.5 378.1L474.0 379.5L474.5 380.9L475.0 381.9L475.5 382.4L476.0 382.3L476.5 381.5L477.0 379.9L477.5 377.7L478.0 375.7L478.5 374.4L479.0 373.8L479.5 373.6L480.0 374.0L480.5 375.0L481.0 377.3L481.5 380.7L482.0 383.3L482.5 384.6L483.0 385.0L483.5 385.1L484.0 384.9L484.5 384.3L485.0 382.5L485.5 379.0L486.0 375.5L486.5 373.7L487.0 373.1L487.5 373.0L488.0 373.1L488.5 373.5L489.0 374.8L489.5 377.4L490.0 380.6L490.5 382.8L491.0 383.7L491.5 384.0L492.0 383.7L492.5 382.9L493.0 381.3L493.5 379.3L494.0 377.7L494.5 376.7L495.0 376.6L495.5 377.3L496.0 378.7L496.5 380.4L497.0 381.9L497.5 382.7L498.0 382.9L498.5 382.4L499.0 381.0L499.5 378.5L500.0 375.9L500.5 374.2L501.0 373.4L501.5 373.1L502.0 373.2L502.5 373.6L503.0 374.8L503.5 377.6L504.0 381.4L504.5 383.9L505.0 384.9L505.5 385.2L506.0 385.2L506.5 385.1L507.0 384.6L507.5 383.3L508.0 380.5L508.5 376.9L509.0 374.6L509.5 373.6L510.0 373.2L510.5 373.2L511.0 373.4L511.5 373.9L512.0 374.8L512.5 376.3L513.0 378.1L513.5 379.7L514.0 381.0L514.5 381.8L515.0 382.3L515.5 382.7L516.0 382.9L516.5 383.1L517.0 383.3L517.5 383.3L518.0 383.2L518.5 382.8L519.0 382.0L519.5 380.7L520.0 378.7L520.5 376.5L521.0 374.8L521.5 373.8L522.0 373.4L522.5 373.2L523.0 373.4L523.5 373.9L524.0 375.2L524.5 377.6L525.0 380.6L525.5 382.9L526.0 384.1L526.5 384.6L527.0 384.6L527.5 384.3L528.0 383.5L528.5 382.0L529.0 379.9L529.5 377.8L530.0 376.5L530.5 375.9L531.0 376.0L531.5 376.6L532.0 377.6L532.5 378.7L533.0 379.5L533.5 379.8L534.0 379.3L534.5 378.3L535.0 376.8L535.5 375.5L536.0 374.6L536.5 374.2L537.0 374.4L537.5 375.3L538.0 377.4L538.5 380.5L539.0 383.3L539.5 384.8L540.0 385.5L540.5 385.7L541.0 385.6L541.5 385.1L542.0 383.4L542.5 379.7L543.0 375.3L543.5 373.0L544.0 372.2L544.5 372.0L545.0 372.0L545.5 372.3L546.0 373.4L546.5 376.4L547.0 381.0L547.5 384.1L548.0 385.4L548.5 385.8L549.0 385.7L549.5 385.2L550.0 383.8L550.5 380.9L551.0 377.2L551.5 374.6L552.0 373.4L552.5 373.2L553.0 373.6L553.5 374.9L554.0 377.4L554.5 380.4L555.0 382.8L555.5 384.0L556.0 384.4L556.5 384.0L557.0 382.6L557.5 380.2L558.0 377.2L558.5 374.8L559.0 373.5L559.5 373.1L560.0 373.2L560.5 374.0L561.0 375.8L561.5 378.6L562.0 381.5L562.5 383.4L563.0 384.4L563.5 384.7L564.0 384.4L564.5 383.6L565.0 382.0L565.5 379.9L566.0 377.9L566.5 376.5L567.0 375.8L567.5 375.8L568.0 376.3L568.5 377.1L569.0 378.1L569.5 378.9L570.0 379.3L570.5 379.1L571.0 378.4L571.5 377.5L572.0 376.6L572.5 375.9L573.0 375.7L573.5 376.2L574.0 377.3L574.5 379.1L575.0 381.2L575.5 383.0L576.0 384.1L576.5 384.7L577.0 384.7L577.5 384.1L578.0 382.8L578.5 380.6L579.0 378.0L579.5 375.8L580.0 374.3L580.5 373.7L581.0 373.7L581.5 374.3L582.0 375.4L582.5 377.0L583.0 378.7L583.5 379.9L584.0 380.5L584.5 380.3L585.0 379.5L585.5 378.4L586.0 377.3L586.5 376.8L587.0 376.9L587.5 378.0L588.0 380.1L588.5 382.6L589.0 384.7L589.5 386.1L590.0 386.7L590.5 386.7L591.0 386.1L591.5 384.2L592.0 380.1L592.5 374.7L593.0 371.4L593.5 370.1L594.0 369.7L594.5 369.6L595.0 369.7L595.5 370.4L596.0 372.9L596.5 379.2L597.0 385.6L597.5 388.0L598.0 388.7L598.5 388.9L599.0 389.0L599.5 388.7L600.0 387.6L600.5 383.9L601.0 377.1L601.5 371.9L602.0 369.9L602.5 369.2L603.0 369.1L603.5 369.5L604.0 370.7L604.5 373.4L605.0 377.6L605.5 381.6L606.0 384.0L606.5 384.7L607.0 384.3L607.5 382.7L608.0 380.4L608.5 378.0L609.0 376.5L609.5 376.3L610.0 377.5L610.5 380.2L611.0 383.5L611.5 386.4L612.0 388.2L612.5 388.9L613.0 388.8L613.5 387.5L614.0 384.2L614.5 378.2L615.0 372.0L615.5 368.3L616.0 366.7L616.5 366.2L617.0 366.0L617.5 366.5L618.0 368.3L618.5 373.0L619.0 381.0L619.5 387.8L620.0 391.1L620.5 392.4L621.0 392.9L621.5 392.8L622.0 391.9L622.5 389.7L623.0 385.3L623.5 379.4L624.0 374.1L624.5 370.6L625.0 368.9L625.5 368.3L626.0 368.5L626.5 369.1L627.0 370.1L627.5 371.2L628.0 372.1L628.5 372.8L629.0 373.5L629.5 374.5L630.0 376.3L630.5 378.9L631.0 382.5L631.5 386.5L632.0 389.9L632.5 392.3L633.0 393.6L633.5 394.0L634.0 393.1L634.5 390.6L635.0 385.4L635.5 377.7L636.0 370.1L636.5 365.1L637.0 362.6L637.5 361.8L638.0 362.2L638.5 364.3L639.0 369.0L639.5 376.9L640.0 385.3L640.5 391.1L641.0 393.9L641.5 394.4L642.0 392.9L642.5 388.9L643.0 382.2L643.5 374.5L644.0 368.6L644.5 365.7L645.0 365.3L645.5 367.7L646.0 373.2L646.5 381.6L647.0 389.7L647.5 394.9L648.0 397.2L648.5 397.4L649.0 395.4L649.5 389.7L650.0 379.4L650.5 368.0L651.0 360.8L651.5 357.7L652.0 356.8L652.5 357.2L653.0 359.5L653.5 366.0L654.0 378.4L654.5 391.3L655.0 398.4L655.5 401.1L656.0 401.8L656.5 401.0L657.0 398.1L657.5 390.7L658.0 378.4L658.5 366.9L659.0 360.8L659.5 358.5L660.0 358.6L660.5 361.0L661.0 367.0L661.5 377.3L662.0 388.0L662.5 394.8L663.0 397.6L663.5 397.6L664.0 395.0L664.5 388.5L665.0 377.8L665.5 367.2L666.0 360.9L666.5 358.3L667.0 357.9L667.5 359.4L668.0 363.7L668.5 373.2L669.0 386.0L669.5 395.4L670.0 399.6L670.5 401.0L671.0 401.0L671.5 399.8L672.0 396.5L672.5 389.0L673.0 377.4L673.5 367.1L674.0 361.6L674.5 359.5L675.0 359.1L675.5 359.8L676.0 361.8L676.5 365.7L677.0 371.6L677.5 378.1L678.0 383.5L678.5 386.9L679.0 388.5L679.5 389.0L680.0 388.7L680.5 388.3L681.0 388.1L681.5 388.3L682.0 388.8L682.5 389.3L683.0 389.4L683.5 388.8L684.0 386.9L684.5 383.3L685.0 378.1L685.5 372.1L686.0 367.2L686.5 364.2L687.0 362.8L687.5 362.6L688.0 363.2L688.5 365.0L689.0 369.2L689.5 376.4L690.0 384.8L690.5 390.6L691.0 393.3L691.5 394.2L692.0 394.1L692.5 393.2L693.0 391.0L693.5 386.9L694.0 381.1L694.5 375.6L695.0 372.0L695.5 370.4L696.0 370.3L696.5 371.4L697.0 373.4L697.5 375.6L698.0 377.4L698.5 378.0L699.0 377.4L699.5 375.6L700.0 373.3L700.5 371.3L701.0 370.2L701.5 370.2L702.0 371.5L702.5 374.8L703.0 380.2L703.5 386.1L704.0 389.7L704.5 391.2L705.0 391.6L705.5 391.6L706.0 391.1L706.5 389.5L707.0 384.9L707.5 376.0L708.0 369.5L708.5 367.4L709.0 366.9L709.5 366.9L710.0 367.1L710.5 367.6L711.0 369.4L711.5 374.9L712.0 383.7L712.5 388.4L713.0 389.7L713.5 390.0L714.0 389.9L714.5 389.5L715.0 388.3L715.5 385.2L716.0 379.4L716.5 374.1L717.0 371.4L717.5 370.5L718.0 370.6L718.5 371.4L719.0 373.3L719.5 376.2L720.0 379.4L720.5 381.6L721.0 382.5L721.5 382.1L722.0 380.7L722.5 378.5L723.0 376.2L723.5 374.6L724.0 374.0L724.5 374.3L725.0 375.7L725.5 378.2L726.0 381.5L726.5 384.2L727.0 385.8L727.5 386.4L728.0 386.4L728.5 385.8L729.0 384.3L729.5 381.3L730.0 377.5L730.5 374.3L731.0 372.5L731.5 371.8L732.0 371.8L732.5 372.2L733.0 373.3L733.5 375.4L734.0 378.2L734.5 380.9L735.0 382.7L735.5 383.6L736.0 383.8L736.5 383.3L737.0 382.4L737.5 381.3L738.0 380.1L738.5 379.3L739.0 378.9L739.5 379.0L740.0 379.5L740.5 380.0L741.0 380.4L741.5 380.5L742.0 380.0L742.5 379.0L743.0 377.7L743.5 376.3L744.0 375.2L744.5 374.6L745.0 374.5L745.5 375.0L746.0 376.2L746.5 378.1L747.0 380.3L747.5 382.2L748.0 383.4L748.5 383.8L749.0 383.6L749.5 382.7L750.0 381.0L750.5 378.7L751.0 376.6L751.5 375.1L752.0 374.5L752.5 374.7L753.0 375.8L753.5 377.9L754.0 380.6L754.5 382.9L755.0 384.2L755.5 384.7L756.0 384.5L756.5 383.5L757.0 381.1L757.5 377.5L758.0 374.4L758.5 372.7L759.0 372.1L759.5 372.0L760.0 372.2L760.5 373.2L761.0 375.9L761.5 380.4L762.0 384.2L762.5 385.7L763.0 386.2L763.5 386.3L764.0 386.1L764.5 385.5L765.0 383.6L765.5 379.5L766.0 375.2L766.5 373.0L767.0 372.2L767.5 372.1L768.0 372.3L768.5 372.9L769.0 374.6L769.5 377.6L770.0 380.9L770.5 383.0L771.0 383.8L771.5 383.9L772.0 383.1L772.5 381.6L773.0 379.5L773.5 377.6L774.0 376.4L774.5 376.1L775.0 376.8L775.5 378.4L776.0 380.7L776.5 382.7L777.0 384.0L777.5 384.6L778.0 384.5L778.5 383.7L779.0 381.7L779.5 378.4L780.0 375.1L780.5 373.2L781.0 372.4L781.5 372.1L782.0 372.2L782.5 372.6L783.0 373.8L783.5 376.6L784.0 380.9L784.5 384.0L785.0 385.3L785.5 385.8L786.0 385.9L786.5 385.7L787.0 385.2L787.5 384.1L788.0 381.8L788.5 378.7L789.0 376.1L789.5 374.5L790.0 373.8L790.5 373.5L791.0 373.5L791.5 373.8L792.0 374.2L792.5 374.8L793.0 375.5L793.5 376.2L794.0 377.0L794.5 378.1L795.0 379.4L795.5 380.9L796.0 382.4L796.5 383.6L797.0 384.4L797.5 384.9L798.0 385.1L798.5 384.9L799.0 384.4L799.5 383.0L800.0 380.5L800.5 377.1L801.0 374.5L801.5 373.2L802.0 372.6L802.5 372.5L803.0 372.6L803.5 373.2L804.0 374.5L804.5 377.1L805.0 380.4L805.5 382.9L806.0 384.1L806.5 384.6L807.0 384.5L807.5 384.0L808.0 382.8L808.5 381.1L809.0 379.2L809.5 377.7L810.0 377.0L810.5 377.0L811.0 377.7L811.5 378.9L812.0 380.2L812.5 381.1L813.0 381.4L813.5 380.9L814.0 379.6L814.5 377.6L815.0 375.6L815.5 374.2L816.0 373.5L816.5 373.3L817.0 373.5L817.5 374.3L818.0 376.4L818.5 380.0L819.0 383.2L819.5 384.8L820.0 385.3L820.5 385.4L821.0 385.3L821.5 384.9L822.0 383.7L822.5 380.4L823.0 376.1L823.5 373.7L824.0 372.9L824.5 372.7L825.0 372.7L825.5 373.1L826.0 374.0L826.5 376.5L827.0 380.2L827.5 383.0L828.0 384.2L828.5 384.6L829.0 384.5L829.5 383.9L830.0 382.5L830.5 380.1L831.0 377.5L831.5 375.7L832.0 374.9L832.5 374.8L833.0 375.4L833.5 376.8L834.0 378.8L834.5 380.8L835.0 382.2L835.5 382.9L836.0 382.9L836.5 382.3L837.0 381.0L837.5 379.1L838.0 377.1L838.5 375.7L839.0 374.9L839.5 374.7L840.0 375.0L840.5 375.8L841.0 377.2L841.5 378.9L842.0 380.6L842.5 381.7L843.0 382.3L843.5 382.4L844.0 382.1L844.5 381.4L845.0 380.5L845.5 379.6L846.0 378.8L846.5 378.5L847.0 378.4L847.5 378.7L848.0 379.0L848.5 379.4L849.0 379.5L849.5 379.3L850.0 378.8L850.5 377.9L851.0 377.0L851.5 376.3L852.0 375.8L852.5 375.7L853.0 375.9L853.5 376.7L854.0 378.0L854.5 379.7L855.0 381.3L855.5 382.4L856.0 383.0L856.5 383.1L857.0 382.9L857.5 382.2L858.0 381.1L858.5 379.5L859.0 377.9L859.5 376.8L860.0 376.2L860.5 376.1L861.0 376.5L861.5 377.2L862.0 378.2L862.5 379.1L863.0 379.7L863.5 379.8L864.0 379.3L864.5 378.4L865.0 377.3L865.5 376.4L866.0 375.8L866.5 375.7L867.0 376.2L867.5 377.5L868.0 379.6L868.5 381.8L869.0 383.4L869.5 384.1L870.0 384.4L870.5 384.4L871.0 384.1L871.5 383.1L872.0 380.6L872.5 376.8L873.0 374.4L873.5 373.5L874.0 373.3L874.5 373.3L875.0 373.3L875.5 373.6L876.0 374.8L876.5 377.9L877.0 382.0L877.5 383.9L878.0 384.5L878.5 384.7L879.0 384.7L879.5 384.5L880.0 383.9L880.5 382.3L881.0 379.4L881.5 376.5L882.0 375.0L882.5 374.4L883.0 374.3L883.5 374.5L884.0 375.2L884.5 376.4L885.0 377.8L885.5 379.0L886.0 379.6L886.5 379.7L887.0 379.3L887.5 378.5L888.0 377.8L888.5 377.3L889.0 377.3L889.5 377.9L890.0 379.1L890.5 380.7L891.0 382.2L891.5 383.2L892.0 383.7L892.5 383.8L893.0 383.6L893.5 383.0L894.0 381.5L894.5 378.9L895.0 376.3L895.5 374.7L896.0 374.0L896.5 373.7L897.0 373.7L897.5 373.9L898.0 374.5L898.5 375.9L899.0 378.3L899.5 380.8L900.0 382.5L900.5 383.3L901.0 383.7L901.5 383.7L902.0 383.5L902.5 383.1L903.0 382.4L903.5 381.4L904.0 380.2L904.5 379.1L905.0 378.2L905.5 377.4L906.0 376.7L906.5 376.2L907.0 375.7L907.5 375.3L908.0 375.1L908.5 375.0L909.0 375.2L909.5 375.6L910.0 376.5L910.5 378.0L911.0 379.9L911.5 381.7L912.0 383.0L912.5 383.6L913.0 383.9L913.5 383.8L914.0 383.5L914.5 382.6L915.0 380.8L915.5 378.4L916.0 376.2L916.5 375.0L917.0 374.5L917.5 374.4L918.0 374.7L918.5 375.5L919.0 377.1L919.5 379.1L920.0 381.0L920.5 382.1L921.0 382.5L921.5 382.3L922.0 381.5L922.5 380.1L923.0 378.3L923.5 376.8L924.0 375.9L924.5 375.7L925.0 376.0L925.5 377.1L926.0 378.9L926.5 380.9L927.0 382.5L927.5 383.3L928.0 383.6L928.5 383.4L929.0 382.7L929.5 381.1L930.0 378.5L930.5 376.1L931.0 374.7L931.5 374.1L932.0 373.9L932.5 374.1L933.0 374.8L933.5 376.4L934.0 379.0L934.5 381.6L935.0 383.1L935.5 383.7L936.0 383.8L936.5 383.6L937.0 382.7L937.5 381.1L938.0 378.8L938.5 376.7L939.0 375.5L939.5 375.1L940.0 375.2L940.5 375.9L941.0 377.4L941.5 379.3L942.0 381.1L942.5 382.2L943.0 382.7L943.5 382.5L944.0 381.8L944.5 380.3L945.0 378.2L945.5 376.3L946.0 375.1L946.5 374.6L947.0 374.5L947.5 374.9L948.0 375.8L948.5 377.6L949.0 379.9L949.5 381.9L950.0 383.1L950.5 383.6L951.0 383.8L951.5 383.6L952.0 383.1L952.5 382.0L953.0 380.3L953.5 378.4L954.0 376.8L954.5 375.7L955.0 375.2L955.5 375.0L956.0 375.1L956.5 375.3L957.0 375.8L957.5 376.3L958.0 377.0L958.5 377.8L959.0 378.6L959.5 379.5L960.0 380.4L960.5 381.3L961.0 382.1L961.5 382.7L962.0 383.1L962.5 383.3L963.0 383.3L963.5 382.9L964.0 382.1L964.5 380.7L965.0 378.6L965.5 376.6L966.0 375.1L966.5 374.4L967.0 374.0L967.5 374.0L968.0 374.2L968.5 374.9L969.0 376.1L969.5 378.2L970.0 380.4L970.5 382.1L971.0 382.9L971.5 383.3L972.0 383.3L972.5 382.9L973.0 382.2L973.5 381.2L974.0 380.1L974.5 379.1L975.0 378.6L975.5 378.4L976.0 378.6L976.5 378.9L977.0 379.2L977.5 379.3L978.0 378.9L978.5 378.1L979.0 377.0L979.5 375.9L980.0 375.0L980.5 374.5L981.0 374.3L981.5 374.5L982.0 375.2L982.5 376.8L983.0 379.6L983.5 382.3L984.0 383.8L984.5 384.4L985.0 384.6L985.5 384.6L986.0 384.5L986.5 383.9L987.0 382.2L987.5 378.6L988.0 375.2L988.5 373.8L989.0 373.4L989.5 373.3L990.0 373.3L990.5 373.5L991.0 374.1L991.5 375.9L992.0 379.3L992.5 382.3L993.0 383.7L993.5 384.2L994.0 384.3L994.5 384.2L995.0 383.7L995.5 382.7L996.0 381.0L996.5 378.9L997.0 377.3L997.5 376.4L998.0 376.1L998.5 376.2L999.0 376.7L999.5 377.4L1000.0 378.1L1000.5 378.6L1001.0 378.7L1001.5 378.5L1002.0 378.0L1002.5 377.4L1003.0 376.9L1003.5 376.6L1004.0 376.7L1004.5 377.1L1005.0 378.1L1005.5 379.4L1006.0 380.8L1006.5 381.9L1007.0 382.7L1007.5 383.0L1008.0 383.0L1008.5 382.7L1009.0 381.9L1009.5 380.7L1010.0 379.1L1010.5 377.6L1011.0 376.4L1011.5 375.7L1012.0 375.4L1012.5 375.4L1013.0 375.7L1013.5 376.3L1014.0 377.0L1014.5 377.8L1015.0 378.6L1015.5 379.3L1016.0 379.8L1016.5 380.2L1017.0 380.5L1017.5 380.8L1018.0 381.0L1018.5 381.2L1019.0 381.4L1019.5 381.5L1020.0 381.4L1020.5 381.1L1021.0 380.5L1021.5 379.6L1022.0 378.5L1022.5 377.4L1023.0 376.5L1023.5 375.9L1024.0 375.6L1024.5 375.7L1025.0 376.2L1025.5 377.1L1026.0 378.4L1026.5 379.8L1027.0 381.1L1027.5 381.8L1028.0 382.1L1028.5 381.9L1029.0 381.3L1029.5 380.1L1030.0 378.6L1030.5 377.3L1031.0 376.3L1031.5 375.9L1032.0 376.1L1032.5 376.8L1033.0 378.1L1033.5 379.9L1034.0 381.6L1034.5 382.7L1035.0 383.3L1035.5 383.3L1036.0 382.9L1036.5 381.7L1037.0 379.6L1037.5 377.1L1038.0 375.2L1038.5 374.2L1039.0 373.8L1039.5 373.8L1040.0 374.1L1040.5 374.9L1041.0 376.8L1041.5 379.7L1042.0 382.3L1042.5 383.7L1043.0 384.2L1043.5 384.3L1044.0 384.2L1044.5 383.7L1045.0 382.5L1045.5 380.4L1046.0 377.8L1046.5 375.9L1047.0 374.9L1047.5 374.5L1048.0 374.6L1048.5 375.0L1049.0 375.9L1049.5 377.1L1050.0 378.5L1050.5 379.6L1051.0 380.3L1051.5 380.4L1052.0 380.1L1052.5 379.5L1053.0 378.9L1053.5 378.4L1054.0 378.2L1054.5 378.5L1055.0 379.2L1055.5 380.3L1056.0 381.4L1056.5 382.3L1057.0 382.8L1057.5 383.0L1058.0 382.8L1058.5 382.1L1059.0 380.8L1059.5 378.8L1060.0 376.7L1060.5 375.1L1061.0 374.3L1061.5 373.9L1062.0 373.8L1062.5 374.0L1063.0 374.6L1063.5 375.8L1064.0 377.8L1064.5 380.2L1065.0 382.2L1065.5 383.3L1066.0 383.9L1066.5 384.1L1067.0 384.1L1067.5 383.9L1068.0 383.4L1068.5 382.5L1069.0 381.1L1069.5 379.3L1070.0 377.4L1070.5 375.9L1071.0 374.9L1071.5 374.4L1072.0 374.1L1072.5 374.0L1073.0 374.1L1073.5 374.4L1074.0 375.1L1074.5 376.3L1075.0 378.3L1075.5 380.6L1076.0 382.4L1076.5 383.6L1077.0 384.1L1077.5 384.4L1078.0 384.4L1078.5 384.1L1079.0 383.5L1079.5 382.1L1080.0 379.9L1080.5 377.3L1081.0 375.5L1081.5 374.5L1082.0 374.0L1082.5 373.9L1083.0 374.2L1083.5 374.7L1084.0 375.8L1084.5 377.3L1085.0 379.1L1085.5 380.5L1086.0 381.4L1086.5 381.8L1087.0 381.7L1087.5 381.4L1088.0 380.9L1088.5 380.3L1089.0 379.9L1089.5 379.8L1090.0 380.0L1090.5 380.5L1091.0 381.0L1091.5 381.5L1092.0 381.7L1092.5 381.5L1093.0 380.9L1093.5 379.6L1094.0 377.9L1094.5 376.2L1095.0 374.9L1095.5 374.2L1096.0 373.9L1096.5 373.9L1097.0 374.2L1097.5 375.2L1098.0 377.2L1098.5 380.1L1099.0 382.5L1099.5 383.9L1100.0 384.4L1100.5 384.6L1101.0 384.5L1101.5 384.1L1102.0 383.1L1102.5 381.0L1103.0 378.0L1103.5 375.6L1104.0 374.4L1104.5 373.8L1105.0 373.7L1105.5 374.0L1106.0 374.6L1106.5 375.9L1107.0 377.9L1107.5 380.0L1108.0 381.6L1108.5 382.5L1109.0 382.8L1109.5 382.6L1110.0 382.0L1110.5 381.1L1111.0 379.8L1111.5 378.6L1112.0 377.7L1112.5 377.3L1113.0 377.2L1113.5 377.6L1114.0 378.3L1114.5 379.1L1115.0 379.9L1115.5 380.5L1116.0 380.8L1116.5 380.8L1117.0 380.4L1117.5 379.8L1118.0 379.0L1118.5 378.2L1119.0 377.4L1119.5 376.9L1120.0 376.6L1120.5 376.5L1121.0 376.7L1121.5 377.1L1122.0 377.7L1122.5 378.4L1123.0 379.1L1123.5 379.8L1124.0 380.5L1124.5 381.0L1125.0 381.3L1125.5 381.6L1126.0 381.7L1126.5 381.6L1127.0 381.3L1127.5 380.9L1128.0 380.2L1128.5 379.3L1129.0 378.3L1129.5 377.4L1130.0 376.6L1130.5 376.0L1131.0 375.7L1131.5 375.6L1132.0 375.9L1132.5 376.4L1133.0 377.3L1133.5 378.4L1134.0 379.6L1134.5 380.7L1135.0 381.4L1135.5 381.7L1136.0 381.8L1136.5 381.6L1137.0 381.1L1137.5 380.4L1138.0 379.7L1138.5 379.1L1139.0 378.8L1139.5 378.7L1140.0 378.8L1140.5 379.2L1141.0 379.5L1141.5 379.8L1142.0 379.8L1142.5 379.5L1143.0 378.8L1143.5 377.8L1144.0 376.7L1144.5 375.7L1145.0 375.0L1145.5 374.7L1146.0 374.8L1146.5 375.3L1147.0 376.5L1147.5 378.5L1148.0 381.0L1148.5 382.9L1149.0 384.0L1149.5 384.5L1150.0 384.7L1150.5 384.6L1151.0 384.2L1151.5 383.1L1152.0 380.7L1152.5 377.4L1153.0 374.8L1153.5 373.6L1154.0 373.2L1154.5 373.1L1155.0 373.1L1155.5 373.4L1156.0 374.2L1156.5 376.1L1157.0 379.2L1157.5 382.0L1158.0 383.6L1158.5 384.3L1159.0 384.6L1159.5 384.5L1160.0 384.3L1160.5 383.6L1161.0 382.5L1161.5 380.7L1162.0 378.8L1162.5 377.1L1163.0 376.1L1163.5 375.5L1164.0 375.3L1164.5 375.3L1165.0 375.5L1165.5 375.8L1166.0 376.2L1166.5 376.6L1167.0 376.9L1167.5 377.3L1168.0 377.7L1168.5 378.2L1169.0 378.8L1169.5 379.6L1170.0 380.6L1170.5 381.5L1171.0 382.3L1171.5 382.8L1172.0 383.2L1172.5 383.3L1173.0 383.1L1173.5 382.7L1174.0 381.8L1174.5 380.4L1175.0 378.6L1175.5 376.9L1176.0 375.5L1176.5 374.6L1177.0 374.1L1177.5 373.9L1178.0 374.0L1178.5 374.3L1179.0 375.0L1179.5 376.2L1180.0 378.0L1180.5 380.1L1181.0 382.0L1181.5 383.2L1182.0 383.9L1182.5 384.3L1183.0 384.3L1183.5 384.2L1184.0 383.7L1184.5 382.8L1185.0 381.2L1185.5 379.0L1186.0 376.7L1186.5 375.1L1187.0 374.1L1187.5 373.7L1188.0 373.6L1188.5 373.7L1189.0 374.1L1189.5 375.1L1190.0 376.8L1190.5 379.1L1191.0 381.3L1191.5 382.8L1192.0 383.6L1192.5 383.9L1193.0 383.9L1193.5 383.6L1194.0 382.8L1194.5 381.4L1195.0 379.7L1195.5 378.0L1196.0 376.7L1196.5 375.9L1197.0 375.7L1197.5 375.8L1198.0 376.4L1198.5 377.3L1199.0 378.3L1199.5 379.3L1200.0 379.9L1200.5 380.2L1201.0 380.1L1201.5 379.6L1202.0 378.8L1202.5 378.0L1203.0 377.3L1203.5 376.9L1204.0 376.9L1204.5 377.3L1205.0 378.1L1205.5 379.3L1206.0 380.6L1206.5 381.7L1207.0 382.5L1207.5 382.9L1208.0 382.9L1208.5 382.4L1209.0 381.5L1209.5 380.0L1210.0 378.3L1210.5 376.7L1211.0 375.5L1211.5 374.9L1212.0 374.7L1212.5 374.9L1213.0 375.4L1213.5 376.5L1214.0 378.0L1214.5 379.6L1215.0 381.0L1215.5 381.9L1216.0 382.4L1216.5 382.4L1217.0 382.1L1217.5 381.4" fill="none" stroke="#e80808" stroke-width="1.5" stroke-opacity="0.85" stroke-linejoin="round"/></g><path d="M122 60V698H1217.5" stroke="#828282" stroke-width="2.4" fill="none" stroke-linejoin="round"/><rect x="981.5" y="81.1" width="216" height="88.4" fill="#fff" stroke="#828282" stroke-width="2.2"/><path d="M989 105H1070" stroke="#111" stroke-width="3"/><path d="M989 146.2H1070" stroke="#d9a0a0" stroke-width="1.6"/><text x="1077" y="117" class="lg">Auto-Q</text><text x="1076" y="158.3" class="lg">Cross-Q</text><path d="M176.8 937.4V1577.4M231.6 937.4V1577.4M286.3 937.4V1577.4M341.1 937.4V1577.4M395.9 937.4V1577.4M450.6 937.4V1577.4M505.4 937.4V1577.4M560.2 937.4V1577.4M615 937.4V1577.4M669.8 937.4V1577.4M724.5 937.4V1577.4M779.3 937.4V1577.4M834.1 937.4V1577.4M888.9 937.4V1577.4M943.6 937.4V1577.4M998.4 937.4V1577.4M1053.2 937.4V1577.4M1107.9 937.4V1577.4M1162.7 937.4V1577.4M1217.5 937.4V1577.4" stroke="#000" stroke-opacity="0.055" stroke-width="2.2" fill="none"/><path d="M122 937.4H1217.5M122 969.4H1217.5M122 1001.4H1217.5M122 1033.4H1217.5M122 1065.4H1217.5M122 1097.4H1217.5M122 1129.4H1217.5M122 1161.4H1217.5M122 1193.4H1217.5M122 1225.4H1217.5M122 1257.4H1217.5M122 1289.4H1217.5M122 1321.4H1217.5M122 1353.4H1217.5M122 1385.4H1217.5M122 1417.4H1217.5M122 1449.4H1217.5M122 1481.4H1217.5M122 1513.4H1217.5M122 1545.4H1217.5" stroke="#000" stroke-opacity="0.055" stroke-width="2.2" fill="none"/><path d="M122 937.4h12M122 1097.4h12M122 1257.4h12M122 1417.4h12M122 1577.4h12M122 1577.4v-11M395.9 1577.4v-11M669.8 1577.4v-11M943.6 1577.4v-11M1217.5 1577.4v-11" stroke="#828282" stroke-width="2.2" fill="none"/><path d="M122.0 1259.6L122.5 1260.1L123.0 1260.4L123.5 1260.4L124.0 1260.1L124.5 1259.5L125.0 1258.8L125.5 1258.0L126.0 1257.1L126.5 1256.2L127.0 1255.4L127.5 1254.8L128.0 1254.5L128.5 1254.4L129.0 1254.6L129.5 1255.0L130.0 1255.7L130.5 1256.5L131.0 1257.4L131.5 1258.3L132.0 1259.1L132.5 1259.8L133.0 1260.2L133.5 1260.4L134.0 1260.3L134.5 1259.9L135.0 1259.3L135.5 1258.6L136.0 1257.7L136.5 1256.8L137.0 1255.9L137.5 1255.2L138.0 1254.7L138.5 1254.4L139.0 1254.4L139.5 1254.7L140.0 1255.2L140.5 1256.0L141.0 1256.8L141.5 1257.7L142.0 1258.5L142.5 1259.2L143.0 1259.7L143.5 1260.0L144.0 1260.1L144.5 1259.9L145.0 1259.5L145.5 1258.9L146.0 1258.2L146.5 1257.4L147.0 1256.7L147.5 1256.0L148.0 1255.5L148.5 1255.2L149.0 1255.1L149.5 1255.2L150.0 1255.5L150.5 1255.9L151.0 1256.5L151.5 1257.2L152.0 1257.8L152.5 1258.4L153.0 1258.8L153.5 1259.2L154.0 1259.3L154.5 1259.3L155.0 1259.1L155.5 1258.7L156.0 1258.3L156.5 1257.8L157.0 1257.3L157.5 1256.8L158.0 1256.4L158.5 1256.1L159.0 1255.9L159.5 1255.9L160.0 1256.0L160.5 1256.2L161.0 1256.6L161.5 1257.0L162.0 1257.4L162.5 1257.8L163.0 1258.1L163.5 1258.4L164.0 1258.5L164.5 1258.6L165.0 1258.5L165.5 1258.4L166.0 1258.1L166.5 1257.8L167.0 1257.5L167.5 1257.2L168.0 1257.0L168.5 1256.7L169.0 1256.5L169.5 1256.4L170.0 1256.4L170.5 1256.5L171.0 1256.7L171.5 1256.9L172.0 1257.2L172.5 1257.5L173.0 1257.8L173.5 1258.0L174.0 1258.2L174.5 1258.3L175.0 1258.4L175.5 1258.3L176.0 1258.2L176.5 1258.0L177.0 1257.7L177.5 1257.4L178.0 1257.1L178.5 1256.8L179.0 1256.4L179.5 1256.0L180.0 1255.7L180.5 1255.5L181.0 1255.6L181.5 1255.8L182.0 1256.3L182.5 1257.0L183.0 1257.9L183.5 1258.8L184.0 1259.6L184.5 1260.4L185.0 1261.0L185.5 1261.2L186.0 1261.1L186.5 1260.5L187.0 1259.6L187.5 1258.5L188.0 1257.2L188.5 1255.8L189.0 1254.6L189.5 1253.6L190.0 1252.9L190.5 1252.6L191.0 1252.7L191.5 1253.3L192.0 1254.3L192.5 1255.6L193.0 1257.1L193.5 1258.7L194.0 1260.3L194.5 1261.6L195.0 1262.4L195.5 1262.9L196.0 1262.8L196.5 1262.2L197.0 1261.2L197.5 1259.9L198.0 1258.3L198.5 1256.6L199.0 1255.0L199.5 1253.6L200.0 1252.6L200.5 1252.0L201.0 1251.9L201.5 1252.3L202.0 1253.2L202.5 1254.4L203.0 1256.0L203.5 1257.6L204.0 1259.2L204.5 1260.6L205.0 1261.7L205.5 1262.3L206.0 1262.4L206.5 1262.1L207.0 1261.3L207.5 1260.3L208.0 1259.0L208.5 1257.7L209.0 1256.4L209.5 1255.3L210.0 1254.4L210.5 1253.9L211.0 1253.7L211.5 1253.8L212.0 1254.3L212.5 1255.1L213.0 1256.0L213.5 1256.9L214.0 1257.8L214.5 1258.5L215.0 1259.0L215.5 1259.3L216.0 1259.4L216.5 1259.3L217.0 1259.0L217.5 1258.6L218.0 1258.2L218.5 1257.7L219.0 1257.4L219.5 1257.1L220.0 1257.0L220.5 1256.9L221.0 1256.7L221.5 1256.7L222.0 1256.7L222.5 1256.8L223.0 1256.9L223.5 1257.1L224.0 1257.3L224.5 1257.6L225.0 1257.8L225.5 1258.0L226.0 1258.2L226.5 1258.3L227.0 1258.3L227.5 1258.3L228.0 1258.1L228.5 1258.0L229.0 1257.7L229.5 1257.2L230.0 1256.6L230.5 1256.0L231.0 1255.4L231.5 1255.0L232.0 1254.7L232.5 1254.6L233.0 1254.9L233.5 1255.5L234.0 1256.3L234.5 1257.4L235.0 1258.6L235.5 1259.9L236.0 1261.0L236.5 1261.6L237.0 1261.9L237.5 1261.8L238.0 1261.2L238.5 1260.3L239.0 1259.2L239.5 1257.8L240.0 1256.5L240.5 1255.2L241.0 1254.1L241.5 1253.4L242.0 1253.0L242.5 1253.0L243.0 1253.4L243.5 1254.1L244.0 1255.2L244.5 1256.5L245.0 1257.8L245.5 1259.2L246.0 1260.3L246.5 1261.2L247.0 1261.8L247.5 1261.9L248.0 1261.6L248.5 1260.8L249.0 1259.8L249.5 1258.6L250.0 1257.4L250.5 1256.4L251.0 1255.5L251.5 1255.0L252.0 1254.7L252.5 1254.7L253.0 1255.0L253.5 1255.4L254.0 1256.0L254.5 1256.6L255.0 1257.2L255.5 1257.7L256.0 1258.0L256.5 1258.3L257.0 1258.6L257.5 1258.7L258.0 1258.7L258.5 1258.6L259.0 1258.4L259.5 1258.1L260.0 1257.7L260.5 1257.3L261.0 1256.9L261.5 1256.6L262.0 1256.3L262.5 1256.1L263.0 1256.1L263.5 1256.2L264.0 1256.4L264.5 1256.6L265.0 1257.0L265.5 1257.4L266.0 1257.8L266.5 1258.2L267.0 1258.6L267.5 1259.0L268.0 1259.2L268.5 1259.3L269.0 1259.2L269.5 1258.9L270.0 1258.4L270.5 1257.7L271.0 1256.9L271.5 1256.1L272.0 1255.3L272.5 1254.7L273.0 1254.3L273.5 1254.1L274.0 1254.2L274.5 1254.7L275.0 1255.5L275.5 1256.5L276.0 1257.7L276.5 1258.9L277.0 1260.0L277.5 1260.9L278.0 1261.5L278.5 1261.8L279.0 1261.6L279.5 1261.1L280.0 1260.2L280.5 1259.0L281.0 1257.6L281.5 1256.1L282.0 1254.8L282.5 1253.6L283.0 1252.7L283.5 1252.3L284.0 1252.3L284.5 1252.8L285.0 1253.7L285.5 1255.1L286.0 1256.6L286.5 1258.3L287.0 1259.9L287.5 1261.3L288.0 1262.4L288.5 1263.0L289.0 1263.1L289.5 1262.7L290.0 1261.8L290.5 1260.5L291.0 1258.9L291.5 1257.1L292.0 1255.3L292.5 1253.7L293.0 1252.4L293.5 1251.5L294.0 1251.2L294.5 1251.4L295.0 1252.2L295.5 1253.5L296.0 1255.2L296.5 1257.1L297.0 1259.0L297.5 1260.8L298.0 1262.3L298.5 1263.3L299.0 1263.8L299.5 1263.6L300.0 1263.0L300.5 1261.8L301.0 1260.2L301.5 1258.4L302.0 1256.5L302.5 1254.7L303.0 1253.2L303.5 1252.1L304.0 1251.4L304.5 1251.3L305.0 1251.8L305.5 1252.8L306.0 1254.2L306.5 1255.8L307.0 1257.6L307.5 1259.3L308.0 1260.8L308.5 1261.9L309.0 1262.6L309.5 1262.7L310.0 1262.4L310.5 1261.7L311.0 1260.6L311.5 1259.2L312.0 1257.7L312.5 1256.3L313.0 1255.0L313.5 1254.0L314.0 1253.3L314.5 1253.1L315.0 1253.3L315.5 1253.9L316.0 1254.7L316.5 1255.7L317.0 1256.8L317.5 1257.8L318.0 1258.7L318.5 1259.3L319.0 1259.7L319.5 1259.9L320.0 1259.7L320.5 1259.4L321.0 1258.9L321.5 1258.4L322.0 1257.9L322.5 1257.4L323.0 1256.9L323.5 1256.5L324.0 1256.1L324.5 1255.9L325.0 1255.8L325.5 1255.9L326.0 1256.1L326.5 1256.4L327.0 1256.8L327.5 1257.3L328.0 1257.7L328.5 1258.2L329.0 1258.6L329.5 1258.8L330.0 1258.9L330.5 1258.9L331.0 1258.8L331.5 1258.5L332.0 1258.1L332.5 1257.7L333.0 1257.2L333.5 1256.8L334.0 1256.4L334.5 1256.1L335.0 1255.9L335.5 1255.9L336.0 1256.0L336.5 1256.2L337.0 1256.6L337.5 1257.0L338.0 1257.4L338.5 1257.9L339.0 1258.3L339.5 1258.6L340.0 1258.8L340.5 1258.9L341.0 1258.8L341.5 1258.6L342.0 1258.3L342.5 1258.0L343.0 1257.5L343.5 1257.1L344.0 1256.7L344.5 1256.4L345.0 1256.1L345.5 1256.0L346.0 1256.0L346.5 1256.1L347.0 1256.4L347.5 1256.7L348.0 1257.1L348.5 1257.5L349.0 1258.0L349.5 1258.3L350.0 1258.6L350.5 1258.8L351.0 1258.8L351.5 1258.7L352.0 1258.5L352.5 1258.2L353.0 1257.8L353.5 1257.4L354.0 1257.0L354.5 1256.6L355.0 1256.3L355.5 1256.1L356.0 1256.0L356.5 1256.1L357.0 1256.2L357.5 1256.5L358.0 1256.8L358.5 1257.2L359.0 1257.7L359.5 1258.0L360.0 1258.4L360.5 1258.6L361.0 1258.7L361.5 1258.7L362.0 1258.6L362.5 1258.4L363.0 1258.1L363.5 1257.7L364.0 1257.3L364.5 1256.9L365.0 1256.6L365.5 1256.3L366.0 1256.1L366.5 1256.1L367.0 1256.2L367.5 1256.3L368.0 1256.6L368.5 1257.0L369.0 1257.4L369.5 1257.8L370.0 1258.1L370.5 1258.4L371.0 1258.6L371.5 1258.7L372.0 1258.7L372.5 1258.5L373.0 1258.3L373.5 1258.0L374.0 1257.6L374.5 1257.2L375.0 1256.8L375.5 1256.4L376.0 1256.2L376.5 1256.0L377.0 1256.0L377.5 1256.1L378.0 1256.4L378.5 1256.7L379.0 1257.1L379.5 1257.5L380.0 1257.9L380.5 1258.3L381.0 1258.6L381.5 1258.8L382.0 1258.9L382.5 1258.8L383.0 1258.6L383.5 1258.3L384.0 1257.9L384.5 1257.5L385.0 1257.0L385.5 1256.6L386.0 1256.2L386.5 1256.0L387.0 1255.9L387.5 1255.9L388.0 1256.1L388.5 1256.3L389.0 1256.7L389.5 1257.2L390.0 1257.6L390.5 1258.1L391.0 1258.5L391.5 1258.8L392.0 1259.0L392.5 1259.0L393.0 1258.9L393.5 1258.6L394.0 1258.2L394.5 1257.8L395.0 1257.3L395.5 1256.8L396.0 1256.3L396.5 1255.8L397.0 1255.5L397.5 1255.3L398.0 1255.3L398.5 1255.5L399.0 1255.9L399.5 1256.5L400.0 1257.3L400.5 1258.1L401.0 1258.8L401.5 1259.6L402.0 1260.1L402.5 1260.4L403.0 1260.5L403.5 1260.2L404.0 1259.7L404.5 1258.9L405.0 1258.0L405.5 1256.9L406.0 1255.8L406.5 1254.9L407.0 1254.2L407.5 1253.8L408.0 1253.7L408.5 1253.9L409.0 1254.5L409.5 1255.3L410.0 1256.4L410.5 1257.6L411.0 1258.7L411.5 1259.8L412.0 1260.7L412.5 1261.3L413.0 1261.6L413.5 1261.4L414.0 1260.9L414.5 1260.1L415.0 1259.0L415.5 1257.7L416.0 1256.4L416.5 1255.1L417.0 1254.0L417.5 1253.2L418.0 1252.8L418.5 1252.9L419.0 1253.3L419.5 1254.2L420.0 1255.3L420.5 1256.6L421.0 1258.0L421.5 1259.3L422.0 1260.5L422.5 1261.3L423.0 1261.8L423.5 1261.9L424.0 1261.6L424.5 1260.9L425.0 1259.9L425.5 1258.7L426.0 1257.3L426.5 1256.0L427.0 1254.7L427.5 1253.8L428.0 1253.1L428.5 1252.9L429.0 1253.1L429.5 1253.6L430.0 1254.5L430.5 1255.7L431.0 1257.0L431.5 1258.4L432.0 1259.6L432.5 1260.7L433.0 1261.4L433.5 1261.8L434.0 1261.8L434.5 1261.4L435.0 1260.6L435.5 1259.5L436.0 1258.2L436.5 1256.9L437.0 1255.6L437.5 1254.5L438.0 1253.6L438.5 1253.1L439.0 1253.0L439.5 1253.3L440.0 1253.9L440.5 1254.9L441.0 1256.1L441.5 1257.4L442.0 1258.8L442.5 1260.0L443.0 1260.9L443.5 1261.6L444.0 1261.8L444.5 1261.7L445.0 1261.2L445.5 1260.3L446.0 1259.1L446.5 1257.8L447.0 1256.5L447.5 1255.2L448.0 1254.1L448.5 1253.4L449.0 1253.0L449.5 1253.0L450.0 1253.4L450.5 1254.1L451.0 1255.2L451.5 1256.5L452.0 1257.8L452.5 1259.2L453.0 1260.3L453.5 1261.2L454.0 1261.8L454.5 1261.9L455.0 1261.7L455.5 1261.0L456.0 1260.0L456.5 1258.8L457.0 1257.4L457.5 1256.1L458.0 1254.8L458.5 1253.8L459.0 1253.1L459.5 1252.8L460.0 1252.9L460.5 1253.5L461.0 1254.4L461.5 1255.6L462.0 1256.9L462.5 1258.2L463.0 1259.5L463.5 1260.6L464.0 1261.3L464.5 1261.7L465.0 1261.7L465.5 1261.3L466.0 1260.6L466.5 1259.6L467.0 1258.3L467.5 1257.0L468.0 1255.8L468.5 1254.7L469.0 1253.9L469.5 1253.4L470.0 1253.2L470.5 1253.5L471.0 1254.1L471.5 1255.0L472.0 1256.1L472.5 1257.3L473.0 1258.5L473.5 1259.6L474.0 1260.5L474.5 1261.0L475.0 1261.2L475.5 1261.0L476.0 1260.5L476.5 1259.7L477.0 1258.8L477.5 1257.8L478.0 1256.9L478.5 1256.0L479.0 1255.3L479.5 1254.9L480.0 1254.7L480.5 1254.8L481.0 1255.1L481.5 1255.6L482.0 1256.2L482.5 1256.9L483.0 1257.5L483.5 1258.1L484.0 1258.6L484.5 1258.8L485.0 1259.0L485.5 1259.0L486.0 1258.9L486.5 1258.7L487.0 1258.4L487.5 1257.9L488.0 1257.5L488.5 1257.0L489.0 1256.5L489.5 1256.2L490.0 1255.9L490.5 1255.8L491.0 1255.8L491.5 1256.0L492.0 1256.3L492.5 1256.7L493.0 1257.2L493.5 1257.7L494.0 1258.1L494.5 1258.5L495.0 1258.8L495.5 1259.0L496.0 1259.0L496.5 1258.9L497.0 1258.6L497.5 1258.3L498.0 1257.8L498.5 1257.3L499.0 1256.8L499.5 1256.4L500.0 1256.1L500.5 1255.8L501.0 1255.8L501.5 1255.8L502.0 1256.1L502.5 1256.4L503.0 1256.8L503.5 1257.3L504.0 1257.8L504.5 1258.3L505.0 1258.6L505.5 1259.0L506.0 1259.2L506.5 1259.2L507.0 1259.1L507.5 1258.8L508.0 1258.3L508.5 1257.7L509.0 1257.1L509.5 1256.4L510.0 1255.8L510.5 1255.3L511.0 1255.0L511.5 1254.9L512.0 1255.0L512.5 1255.4L513.0 1255.9L513.5 1256.7L514.0 1257.5L514.5 1258.4L515.0 1259.2L515.5 1259.8L516.0 1260.2L516.5 1260.4L517.0 1260.3L517.5 1259.9L518.0 1259.3L518.5 1258.5L519.0 1257.6L519.5 1256.7L520.0 1255.9L520.5 1255.2L521.0 1254.7L521.5 1254.4L522.0 1254.4L522.5 1254.7L523.0 1255.3L523.5 1256.0L524.0 1256.9L524.5 1257.8L525.0 1258.7L525.5 1259.4L526.0 1260.0L526.5 1260.3L527.0 1260.4L527.5 1260.2L528.0 1259.7L528.5 1259.1L529.0 1258.2L529.5 1257.3L530.0 1256.4L530.5 1255.6L531.0 1255.0L531.5 1254.6L532.0 1254.4L532.5 1254.5L533.0 1254.9L533.5 1255.5L534.0 1256.3L534.5 1257.1L535.0 1258.1L535.5 1258.9L536.0 1259.6L536.5 1260.1L537.0 1260.4L537.5 1260.4L538.0 1260.1L538.5 1259.5L539.0 1258.8L539.5 1258.0L540.0 1257.1L540.5 1256.2L541.0 1255.5L541.5 1255.1L542.0 1254.8L542.5 1254.8L543.0 1255.1L543.5 1255.5L544.0 1256.1L544.5 1256.7L545.0 1257.4L545.5 1258.0L546.0 1258.5L546.5 1258.9L547.0 1259.1L547.5 1259.1L548.0 1259.0L548.5 1258.7L549.0 1258.4L549.5 1257.9L550.0 1257.5L550.5 1257.1L551.0 1256.8L551.5 1256.5L552.0 1256.2L552.5 1256.1L553.0 1256.1L553.5 1256.2L554.0 1256.5L554.5 1256.8L555.0 1257.1L555.5 1257.5L556.0 1257.9L556.5 1258.2L557.0 1258.5L557.5 1258.7L558.0 1258.7L558.5 1258.6L559.0 1258.4L559.5 1258.1L560.0 1257.8L560.5 1257.4L561.0 1257.0L561.5 1256.7L562.0 1256.4L562.5 1256.2L563.0 1256.1L563.5 1256.1L564.0 1256.3L564.5 1256.5L565.0 1256.9L565.5 1257.3L566.0 1257.6L566.5 1258.0L567.0 1258.3L567.5 1258.6L568.0 1258.7L568.5 1258.7L569.0 1258.6L569.5 1258.4L570.0 1258.0L570.5 1257.7L571.0 1257.3L571.5 1256.9L572.0 1256.6L572.5 1256.3L573.0 1256.1L573.5 1256.1L574.0 1256.2L574.5 1256.4L575.0 1256.6L575.5 1257.0L576.0 1257.4L576.5 1257.8L577.0 1258.1L577.2 1258.2L577.5 1258.4L578.0 1258.6L578.5 1258.7L579.0 1258.7L579.5 1258.5L580.0 1258.3L580.5 1257.9L581.0 1257.6L581.5 1257.2L582.0 1256.8L582.5 1256.5L582.7 1256.4L583.0 1256.3L583.5 1256.1L584.0 1256.1L584.5 1256.2L585.0 1256.5L585.5 1256.8L586.0 1257.2L586.5 1257.6L587.0 1258.0L587.5 1258.4L588.0 1258.6L588.2 1258.7L588.5 1258.8L589.0 1258.8L589.5 1258.6L590.0 1258.2L590.5 1257.8L591.0 1257.2L591.5 1256.6L592.0 1256.1L592.5 1255.6L593.0 1255.2L593.5 1255.0L593.7 1254.9L594.0 1255.0L594.5 1255.2L595.0 1255.7L595.5 1256.4L596.0 1257.3L596.5 1258.3L597.0 1259.2L597.5 1260.1L598.0 1260.9L598.5 1261.5L599.0 1261.8L599.4 1261.9L599.5 1261.9L600.0 1261.7L600.5 1261.3L601.0 1260.6L601.5 1259.8L602.0 1258.8L602.5 1257.8L603.0 1256.6L603.5 1255.5L604.0 1254.5L604.5 1253.5L605.0 1252.7L605.5 1252.1L606.0 1251.8L606.5 1251.6L607.0 1251.9L607.5 1252.8L608.0 1254.3L608.5 1256.1L609.0 1258.3L609.5 1260.6L610.0 1262.9L610.5 1265.1L611.0 1266.9L611.5 1268.4L612.0 1269.3L612.5 1269.6L613.0 1269.2L613.5 1268.0L614.0 1266.1L614.5 1263.7L615.0 1260.9L615.5 1257.9L616.0 1254.9L616.5 1252.2L617.0 1249.9L617.5 1248.1L618.0 1247.1L618.4 1246.8L618.5 1246.9L619.0 1247.4L619.5 1248.7L620.0 1250.8L620.5 1253.4L621.0 1256.6L621.5 1260.1L622.0 1263.7L622.5 1267.4L623.0 1271.0L623.5 1274.2L624.0 1277.0L624.5 1279.1L625.0 1280.6L625.5 1281.3L625.7 1281.4L626.0 1281.0L626.5 1278.6L627.0 1274.1L627.5 1268.1L628.0 1261.1L628.5 1253.6L629.0 1246.4L629.5 1240.2L630.0 1235.4L630.5 1232.5L630.9 1231.8L631.0 1231.8L631.5 1232.3L632.0 1233.4L632.5 1235.1L633.0 1237.4L633.5 1240.2L634.0 1243.3L634.5 1246.8L635.0 1250.5L635.5 1254.3L636.0 1258.1L636.5 1261.7L637.0 1265.1L637.5 1268.1L638.0 1270.7L638.5 1272.8L639.0 1274.3L639.5 1275.1L639.9 1275.3L640.0 1275.3L640.5 1274.4L641.0 1272.2L641.5 1268.8L642.0 1264.5L642.5 1259.4L643.0 1253.8L643.5 1247.9L644.0 1242.1L644.5 1236.6L645.0 1231.8L645.5 1227.9L646.0 1225.0L646.5 1223.3L646.9 1222.8L647.0 1222.9L647.5 1225.1L648.0 1230.2L648.5 1237.9L649.0 1247.8L649.5 1259.2L650.0 1271.3L650.5 1283.5L651.0 1294.8L651.5 1304.7L652.0 1312.5L652.5 1317.6L653.0 1319.7L653.1 1319.8L653.5 1318.2L654.0 1311.7L654.5 1300.6L655.0 1285.5L655.5 1267.1L656.0 1246.4L656.5 1224.4L657.0 1202.3L657.5 1181.3L658.0 1162.3L658.5 1146.5L659.0 1134.5L659.5 1127.1L660.0 1124.6L660.5 1134.0L661.0 1161.4L661.5 1204.0L662.0 1257.9L662.5 1317.9L663.0 1378.1L663.5 1432.8L664.0 1476.8L664.5 1505.9L665.0 1517.1L665.0 1517.2L665.5 1505.0L666.0 1464.1L666.5 1398.5L667.0 1315.1L667.5 1222.6L668.0 1130.6L668.5 1048.7L669.0 985.3L669.5 947.1L669.9 937.4L670.0 938.0L670.5 959.0L671.0 1007.9L671.5 1079.7L672.0 1166.7L672.5 1260.1L673.0 1350.1L673.5 1427.3L674.0 1483.7L674.5 1513.4L674.8 1517.2L675.0 1514.9L675.5 1496.3L676.0 1460.8L676.5 1411.9L677.0 1354.3L677.5 1293.5L678.0 1235.3L678.5 1185.4L679.0 1148.4L679.5 1128.0L679.8 1124.6L680.0 1125.0L680.5 1129.5L681.0 1138.8L681.5 1152.4L682.0 1169.6L682.5 1189.5L683.0 1211.1L683.5 1233.3L684.0 1254.9L684.5 1274.8L685.0 1292.0L685.5 1305.6L686.0 1314.9L686.5 1319.4L686.7 1319.8L687.0 1319.2L687.5 1315.9L688.0 1309.7L688.5 1301.0L689.0 1290.4L689.5 1278.7L690.0 1266.4L690.5 1254.5L691.0 1243.6L691.5 1234.5L692.0 1227.8L692.5 1223.8L692.9 1222.8L693.0 1222.9L693.5 1223.8L694.0 1226.0L694.5 1229.3L695.0 1233.7L695.5 1238.8L696.0 1244.4L696.5 1250.3L697.0 1256.1L697.5 1261.5L698.0 1266.3L698.5 1270.3L699.0 1273.2L699.5 1274.9L699.9 1275.3L700.0 1275.3L700.5 1274.8L701.0 1273.7L701.5 1272.0L702.0 1269.7L702.5 1267.0L703.0 1263.8L703.5 1260.3L704.0 1256.6L704.5 1252.8L705.0 1249.0L705.5 1245.4L706.0 1242.0L706.5 1239.0L707.0 1236.4L707.5 1234.3L708.0 1232.9L708.5 1232.0L708.9 1231.8L709.0 1231.8L709.5 1233.4L710.0 1237.1L710.5 1242.5L711.0 1249.2L711.5 1256.6L712.0 1264.0L712.5 1270.7L713.0 1276.1L713.5 1279.8L714.0 1281.4L714.1 1281.4L714.5 1281.1L715.0 1280.1L715.5 1278.4L716.0 1275.9L716.5 1273.0L717.0 1269.6L717.5 1266.0L718.0 1262.3L718.5 1258.6L719.0 1255.3L719.5 1252.3L720.0 1249.9L720.5 1248.1L721.0 1247.1L721.4 1246.8L721.5 1246.9L722.0 1247.4L722.5 1248.7L723.0 1250.7L723.5 1253.2L724.0 1256.1L724.5 1259.1L725.0 1262.1L725.5 1264.7L726.0 1266.9L726.5 1268.5L727.0 1269.4L727.3 1269.6L727.5 1269.5L728.0 1269.0L728.5 1267.8L729.0 1266.2L729.5 1264.2L730.0 1262.0L730.5 1259.7L731.0 1257.4L731.5 1255.3L732.0 1253.6L732.5 1252.4L733.0 1251.8L733.3 1251.6L733.5 1251.7L734.0 1251.9L734.5 1252.3L735.0 1253.0L735.5 1253.9L736.0 1254.9L736.5 1256.0L737.0 1257.1L737.5 1258.2L738.0 1259.3L738.5 1260.2L739.0 1260.9L739.5 1261.5L740.0 1261.8L740.4 1261.9L740.5 1261.9L741.0 1261.7L741.5 1261.3L742.0 1260.6L742.5 1259.8L743.0 1258.8L743.5 1257.9L744.0 1256.9L744.5 1256.1L745.0 1255.5L745.5 1255.1L746.0 1255.0L746.1 1255.0L746.5 1255.0L747.0 1255.3L747.5 1255.6L748.0 1256.0L748.5 1256.5L749.0 1257.0L749.5 1257.4L750.0 1257.9L750.5 1258.2L751.0 1258.5L751.5 1258.6L751.6 1258.7L752.0 1258.7L752.5 1258.7L753.0 1258.6L753.5 1258.4L754.0 1258.1L754.5 1257.7L755.0 1257.3L755.5 1257.0L756.0 1256.6L756.5 1256.4L757.0 1256.2L757.1 1256.2L757.5 1256.1L758.0 1256.2L758.5 1256.4L759.0 1256.6L759.5 1257.0L760.0 1257.3L760.5 1257.7L761.0 1258.1L761.5 1258.4L762.0 1258.6L762.5 1258.6L762.6 1258.7L763.0 1258.6L763.5 1258.5L764.0 1258.2L764.5 1257.9L765.0 1257.6L765.5 1257.2L766.0 1256.8L766.5 1256.5L767.0 1256.3L767.5 1256.2L768.0 1256.2L768.5 1256.3L769.0 1256.5L769.5 1256.8L770.0 1257.1L770.5 1257.5L771.0 1257.9L771.5 1258.2L772.0 1258.4L772.5 1258.6L773.0 1258.6L773.5 1258.6L774.0 1258.4L774.5 1258.1L775.0 1257.8L775.5 1257.4L776.0 1257.1L776.5 1256.7L777.0 1256.5L777.5 1256.3L778.0 1256.2L778.5 1256.2L779.0 1256.4L779.5 1256.6L780.0 1256.9L780.5 1257.3L781.0 1257.6L781.5 1258.0L782.0 1258.3L782.5 1258.5L783.0 1258.6L783.5 1258.6L784.0 1258.5L784.5 1258.3L785.0 1258.0L785.5 1257.6L786.0 1257.3L786.5 1256.9L787.0 1256.6L787.5 1256.4L788.0 1256.3L788.5 1256.2L789.0 1256.3L789.5 1256.5L790.0 1256.7L790.5 1257.0L791.0 1257.4L791.5 1257.9L792.0 1258.3L792.5 1258.7L793.0 1259.0L793.5 1259.2L794.0 1259.2L794.5 1259.1L795.0 1258.7L795.5 1258.2L796.0 1257.6L796.5 1256.9L797.0 1256.2L797.5 1255.5L798.0 1255.0L798.5 1254.7L799.0 1254.6L799.5 1254.8L800.0 1255.3L800.5 1256.0L801.0 1256.9L801.5 1257.8L802.0 1258.7L802.5 1259.4L803.0 1260.0L803.5 1260.3L804.0 1260.4L804.5 1260.2L805.0 1259.7L805.5 1259.0L806.0 1258.2L806.5 1257.3L807.0 1256.4L807.5 1255.6L808.0 1254.9L808.5 1254.5L809.0 1254.4L809.5 1254.5L810.0 1254.9L810.5 1255.6L811.0 1256.4L811.5 1257.3L812.0 1258.2L812.5 1259.0L813.0 1259.7L813.5 1260.2L814.0 1260.4L814.5 1260.3L815.0 1260.0L815.5 1259.4L816.0 1258.7L816.5 1257.8L817.0 1256.9L817.5 1256.0L818.0 1255.3L818.5 1254.8L819.0 1254.5L819.5 1254.4L820.0 1254.7L820.5 1255.2L821.0 1255.9L821.5 1256.7L822.0 1257.6L822.5 1258.5L823.0 1259.3L823.5 1259.9L824.0 1260.3L824.5 1260.4L825.0 1260.2L825.5 1259.8L826.0 1259.2L826.5 1258.3L827.0 1257.4L827.5 1256.5L828.0 1255.7L828.5 1255.1L829.0 1254.6L829.5 1254.4L830.0 1254.5L830.5 1254.9L831.0 1255.6L831.5 1256.3L832.0 1257.1L832.5 1257.9L833.0 1258.6L833.5 1259.1L834.0 1259.4L834.5 1259.5L835.0 1259.4L835.5 1259.1L836.0 1258.7L836.5 1258.2L837.0 1257.7L837.5 1257.2L838.0 1256.8L838.5 1256.6L839.0 1256.4L839.5 1256.4L840.0 1256.4L840.5 1256.5L841.0 1256.6L841.5 1256.9L842.0 1257.1L842.5 1257.4L843.0 1257.7L843.5 1258.0L844.0 1258.2L844.5 1258.3L845.0 1258.4L845.5 1258.3L846.0 1258.2L846.5 1258.0L847.0 1257.8L847.5 1257.5L848.0 1257.2L848.5 1256.9L849.0 1256.7L849.5 1256.5L850.0 1256.4L850.5 1256.4L851.0 1256.5L851.5 1256.7L852.0 1257.0L852.5 1257.2L853.0 1257.5L853.5 1257.8L854.0 1258.1L854.5 1258.2L855.0 1258.4L855.5 1258.4L856.0 1258.3L856.5 1258.1L857.0 1257.9L857.5 1257.6L858.0 1257.4L858.5 1257.0L859.0 1256.6L859.5 1256.1L860.0 1255.7L860.5 1255.5L861.0 1255.4L861.5 1255.5L862.0 1255.9L862.5 1256.5L863.0 1257.3L863.5 1258.2L864.0 1259.1L864.5 1260.0L865.0 1260.7L865.5 1261.2L866.0 1261.3L866.5 1260.9L867.0 1260.1L867.5 1259.1L868.0 1257.9L868.5 1256.7L869.0 1255.6L869.5 1254.6L870.0 1253.9L870.5 1253.5L871.0 1253.4L871.5 1253.8L872.0 1254.4L872.5 1255.4L873.0 1256.5L873.5 1257.7L874.0 1258.9L874.5 1259.9L875.0 1260.7L875.5 1261.3L876.0 1261.4L876.5 1261.2L877.0 1260.6L877.5 1259.7L878.0 1258.7L878.5 1257.5L879.0 1256.3L879.5 1255.2L880.0 1254.3L880.5 1253.7L881.0 1253.4L881.5 1253.5L882.0 1254.0L882.5 1254.8L883.0 1255.8L883.5 1257.0L884.0 1258.2L884.5 1259.3L885.0 1260.3L885.5 1261.0L886.0 1261.4L886.5 1261.4L887.0 1261.0L887.5 1260.3L888.0 1259.3L888.5 1258.2L889.0 1257.0L889.5 1255.8L890.0 1254.8L890.5 1254.0L891.0 1253.5L891.5 1253.4L892.0 1253.7L892.5 1254.4L893.0 1255.3L893.5 1256.4L894.0 1257.5L894.5 1258.5L895.0 1259.3L895.5 1259.9L896.0 1260.3L896.5 1260.3L897.0 1260.1L897.5 1259.7L898.0 1259.0L898.5 1258.3L899.0 1257.6L899.5 1256.9L900.0 1256.3L900.5 1255.9L901.0 1255.7L901.5 1255.7L902.0 1255.8L902.5 1255.8L903.0 1256.0L903.5 1256.4L904.0 1257.0L904.5 1257.7L905.0 1258.5L905.5 1259.3L906.0 1260.0L906.5 1260.5L907.0 1260.7L907.5 1260.6L908.0 1260.2L908.5 1259.4L909.0 1258.4L909.5 1257.2L910.0 1255.9L910.5 1254.7L911.0 1253.6L911.5 1252.8L912.0 1252.4L912.5 1252.6L913.0 1253.3L913.5 1254.4L914.0 1255.7L914.5 1257.2L915.0 1258.7L915.5 1260.1L916.0 1261.2L916.5 1262.0L917.0 1262.4L917.5 1262.3L918.0 1261.7L918.5 1260.8L919.0 1259.5L919.5 1258.1L920.0 1256.6L920.5 1255.1L921.0 1253.9L921.5 1253.0L922.0 1252.5L922.5 1252.4L923.0 1252.8L923.5 1253.7L924.0 1254.9L924.5 1256.3L925.0 1257.8L925.5 1259.3L926.0 1260.6L926.5 1261.6L927.0 1262.2L927.5 1262.4L928.0 1262.1L928.5 1261.4L929.0 1260.3L929.5 1259.0L930.0 1257.5L930.5 1256.0L931.0 1254.7L931.5 1253.7L932.0 1253.1L932.5 1252.9L933.0 1253.1L933.5 1253.7L934.0 1254.6L934.5 1255.8L935.0 1257.0L935.5 1258.2L936.0 1259.2L936.5 1260.1L937.0 1260.6L937.5 1260.9L938.0 1260.8L938.5 1260.4L939.0 1259.7L939.5 1258.9L940.0 1258.0L940.5 1257.1L941.0 1256.2L941.5 1255.5L942.0 1255.0L942.5 1254.7L943.0 1254.7L943.5 1254.9L944.0 1255.3L944.5 1255.9L945.0 1256.7L945.5 1257.4L946.0 1258.2L946.5 1258.8L947.0 1259.3L947.5 1259.6L948.0 1259.7L948.5 1259.6L949.0 1259.3L949.5 1258.8L950.0 1258.2L950.5 1257.6L951.0 1256.9L951.5 1256.4L952.0 1255.9L952.5 1255.6L953.0 1255.5L953.5 1255.6L954.0 1255.8L954.5 1256.2L955.0 1256.6L955.5 1257.1L956.0 1257.6L956.5 1258.1L957.0 1258.5L957.5 1258.7L958.0 1258.8L958.5 1258.8L959.0 1258.7L959.5 1258.4L960.0 1258.1L960.5 1257.7L961.0 1257.3L961.5 1257.0L962.0 1256.6L962.5 1256.3L963.0 1256.2L963.5 1256.1L964.0 1256.2L964.5 1256.3L965.0 1256.6L965.5 1257.0L966.0 1257.3L966.5 1257.7L967.0 1258.1L967.5 1258.4L968.0 1258.6L968.5 1258.7L969.0 1258.7L969.5 1258.5L970.0 1258.3L970.5 1258.0L971.0 1257.6L971.5 1257.2L972.0 1256.8L972.5 1256.5L973.0 1256.3L973.5 1256.1L974.0 1256.1L974.5 1256.2L975.0 1256.4L975.5 1256.7L976.0 1257.1L976.5 1257.5L977.0 1257.9L977.5 1258.2L978.0 1258.5L978.5 1258.7L979.0 1258.7L979.5 1258.6L980.0 1258.4L980.5 1258.2L981.0 1257.8L981.5 1257.4L982.0 1257.0L982.5 1256.7L983.0 1256.4L983.5 1256.2L984.0 1256.1L984.5 1256.1L985.0 1256.3L985.5 1256.5L986.0 1256.9L986.5 1257.3L987.0 1257.7L987.5 1258.0L988.0 1258.3L988.5 1258.6L989.0 1258.7L989.5 1258.7L990.0 1258.6L990.5 1258.3L991.0 1258.0L991.5 1257.7L992.0 1257.3L992.5 1256.9L993.0 1256.5L993.5 1256.3L994.0 1256.1L994.5 1256.1L995.0 1256.2L995.5 1256.4L996.0 1256.7L996.5 1257.0L997.0 1257.4L997.5 1257.8L998.0 1258.2L998.5 1258.4L999.0 1258.6L999.5 1258.7L1000.0 1258.7L1000.5 1258.5L1001.0 1258.2L1001.5 1257.9L1002.0 1257.5L1002.5 1257.1L1003.0 1256.7L1003.5 1256.4L1004.0 1256.2L1004.5 1256.1L1005.0 1256.1L1005.5 1256.3L1006.0 1256.5L1006.5 1256.8L1007.0 1257.2L1007.5 1257.6L1008.0 1258.0L1008.5 1258.3L1009.0 1258.5L1009.5 1258.7L1010.0 1258.7L1010.5 1258.7L1011.0 1258.6L1011.5 1258.3L1012.0 1257.8L1012.5 1257.3L1013.0 1256.7L1013.5 1256.1L1014.0 1255.6L1014.5 1255.2L1015.0 1255.0L1015.5 1255.0L1016.0 1255.3L1016.5 1255.7L1017.0 1256.4L1017.5 1257.3L1018.0 1258.2L1018.5 1259.1L1019.0 1259.9L1019.5 1260.5L1020.0 1260.9L1020.5 1261.0L1021.0 1260.7L1021.5 1260.1L1022.0 1259.2L1022.5 1258.0L1023.0 1256.7L1023.5 1255.3L1024.0 1254.1L1024.5 1253.1L1025.0 1252.4L1025.5 1252.2L1026.0 1252.5L1026.5 1253.3L1027.0 1254.5L1027.5 1256.1L1028.0 1257.9L1028.5 1259.6L1029.0 1261.2L1029.5 1262.4L1030.0 1263.2L1030.5 1263.4L1031.0 1263.1L1031.5 1262.2L1032.0 1260.9L1032.5 1259.3L1033.0 1257.5L1033.5 1255.7L1034.0 1254.0L1034.5 1252.7L1035.0 1251.8L1035.5 1251.4L1036.0 1251.6L1036.5 1252.3L1037.0 1253.5L1037.5 1255.0L1038.0 1256.8L1038.5 1258.6L1039.0 1260.3L1039.5 1261.7L1040.0 1262.8L1040.5 1263.3L1041.0 1263.3L1041.5 1262.8L1042.0 1261.7L1042.5 1260.3L1043.0 1258.6L1043.5 1256.8L1044.0 1255.0L1044.5 1253.5L1045.0 1252.3L1045.5 1251.7L1046.0 1251.6L1046.5 1252.1L1047.0 1253.0L1047.5 1254.3L1048.0 1255.9L1048.5 1257.5L1049.0 1259.0L1049.5 1260.4L1050.0 1261.4L1050.5 1262.1L1051.0 1262.2L1051.5 1262.0L1052.0 1261.3L1052.5 1260.3L1053.0 1259.1L1053.5 1257.7L1054.0 1256.4L1054.5 1255.3L1055.0 1254.4L1055.5 1253.8L1056.0 1253.5L1056.5 1253.7L1057.0 1254.1L1057.5 1254.9L1058.0 1255.8L1058.5 1256.8L1059.0 1257.9L1059.5 1258.9L1060.0 1259.8L1060.5 1260.4L1061.0 1260.8L1061.5 1260.9L1062.0 1260.6L1062.5 1260.1L1063.0 1259.3L1063.5 1258.3L1064.0 1257.2L1064.5 1256.2L1065.0 1255.3L1065.5 1254.5L1066.0 1254.1L1066.5 1253.9L1067.0 1254.1L1067.5 1254.5L1068.0 1255.3L1068.5 1256.2L1069.0 1257.2L1069.5 1258.3L1070.0 1259.3L1070.5 1260.1L1071.0 1260.6L1071.5 1260.9L1072.0 1260.8L1072.5 1260.3L1073.0 1259.6L1073.5 1258.7L1074.0 1257.8L1074.5 1256.9L1075.0 1256.2L1075.5 1255.7L1076.0 1255.4L1076.5 1255.4L1077.0 1255.5L1077.5 1255.8L1078.0 1256.2L1078.5 1256.7L1079.0 1257.1L1079.5 1257.5L1080.0 1257.8L1080.5 1258.1L1081.0 1258.5L1081.5 1258.8L1082.0 1259.1L1082.5 1259.2L1083.0 1259.0L1083.5 1258.7L1084.0 1258.2L1084.5 1257.4L1085.0 1256.6L1085.5 1255.8L1086.0 1255.0L1086.5 1254.4L1087.0 1254.0L1087.5 1253.9L1088.0 1254.2L1088.5 1254.8L1089.0 1255.7L1089.5 1256.9L1090.0 1258.3L1090.5 1259.6L1091.0 1260.7L1091.5 1261.4L1092.0 1261.8L1092.5 1261.8L1093.0 1261.4L1093.5 1260.7L1094.0 1259.6L1094.5 1258.3L1095.0 1256.9L1095.5 1255.6L1096.0 1254.4L1096.5 1253.6L1097.0 1253.0L1097.5 1252.9L1098.0 1253.2L1098.5 1253.9L1099.0 1254.9L1099.5 1256.1L1100.0 1257.5L1100.5 1258.8L1101.0 1260.0L1101.5 1261.0L1102.0 1261.6L1102.5 1261.9L1103.0 1261.7L1103.5 1261.2L1104.0 1260.3L1104.5 1259.1L1105.0 1257.7L1105.5 1256.4L1106.0 1255.4L1106.5 1254.7L1107.0 1254.3L1107.5 1254.3L1108.0 1254.6L1108.5 1255.1L1109.0 1255.8L1109.5 1256.5L1110.0 1257.1L1110.5 1257.6L1111.0 1257.9L1111.5 1258.0L1112.0 1258.0L1112.5 1258.1L1113.0 1258.1L1113.5 1258.0L1114.0 1257.9L1114.5 1257.8L1115.0 1257.6L1115.5 1257.4L1116.0 1257.1L1116.5 1256.9L1117.0 1256.7L1117.5 1256.6L1118.0 1256.6L1118.5 1256.6L1119.0 1256.7L1119.5 1256.9L1120.0 1257.1L1120.5 1257.4L1121.0 1257.6L1121.5 1257.9L1122.0 1258.1L1122.5 1258.5L1123.0 1258.9L1123.5 1259.1L1124.0 1259.1L1124.5 1258.9L1125.0 1258.5L1125.5 1257.8L1126.0 1256.9L1126.5 1255.9L1127.0 1255.0L1127.5 1254.1L1128.0 1253.5L1128.5 1253.2L1129.0 1253.3L1129.5 1253.9L1130.0 1254.9L1130.5 1256.3L1131.0 1257.8L1131.5 1259.3L1132.0 1260.6L1132.5 1261.6L1133.0 1262.2L1133.5 1262.4L1134.0 1262.1L1134.5 1261.4L1135.0 1260.3L1135.5 1259.0L1136.0 1257.5L1136.5 1256.0L1137.0 1254.6L1137.5 1253.5L1138.0 1252.7L1138.5 1252.4L1139.0 1252.5L1139.5 1253.1L1140.0 1254.1L1140.5 1255.4L1141.0 1256.9L1141.5 1258.4L1142.0 1259.8L1142.5 1261.0L1143.0 1261.9L1143.5 1262.3L1144.0 1262.3L1144.5 1261.9L1145.0 1261.0L1145.5 1259.7L1146.0 1258.3L1146.5 1257.0L1147.0 1255.8L1147.5 1255.0L1148.0 1254.5L1148.5 1254.3L1149.0 1254.5L1149.5 1255.0L1150.0 1255.6L1150.5 1256.2L1151.0 1256.9L1151.5 1257.4L1152.0 1257.8L1152.5 1258.2L1153.0 1258.4L1153.5 1258.6L1154.0 1258.7L1154.5 1258.6L1155.0 1258.5L1155.5 1258.2L1156.0 1257.9L1156.5 1257.5L1157.0 1257.1L1157.5 1256.7L1158.0 1256.5L1158.5 1256.2L1159.0 1256.1L1159.5 1256.2L1160.0 1256.3L1160.5 1256.5L1161.0 1256.8L1161.5 1257.2L1162.0 1257.6L1162.5 1257.9L1163.0 1258.3L1163.5 1258.5L1164.0 1258.6L1164.5 1258.6L1165.0 1258.6L1165.5 1258.4L1166.0 1258.1L1166.5 1257.7L1167.0 1257.3L1167.5 1257.0L1168.0 1256.6L1168.5 1256.4L1169.0 1256.2L1169.5 1256.2L1170.0 1256.2L1170.5 1256.4L1171.0 1256.7L1171.5 1257.0L1172.0 1257.3L1172.5 1257.7L1173.0 1258.1L1173.5 1258.3L1174.0 1258.5L1174.5 1258.6L1175.0 1258.6L1175.5 1258.4L1176.0 1258.2L1176.5 1257.9L1177.0 1257.6L1177.5 1257.2L1178.0 1256.9L1178.5 1256.6L1179.0 1256.3L1179.5 1256.2L1180.0 1256.2L1180.5 1256.3L1181.0 1256.5L1181.5 1256.8L1182.0 1257.1L1182.5 1257.5L1183.0 1257.8L1183.5 1258.1L1184.0 1258.4L1184.5 1258.5L1185.0 1258.6L1185.5 1258.6L1186.0 1258.5L1186.5 1258.3L1187.0 1257.9L1187.5 1257.4L1188.0 1256.9L1188.5 1256.3L1189.0 1255.8L1189.5 1255.3L1190.0 1255.1L1190.5 1255.0L1191.0 1255.2L1191.5 1255.6L1192.0 1256.3L1192.5 1257.1L1193.0 1258.0L1193.5 1258.9L1194.0 1259.8L1194.5 1260.4L1195.0 1260.9L1195.5 1260.9L1196.0 1260.5L1196.5 1259.9L1197.0 1259.1L1197.5 1258.1L1198.0 1257.0L1198.5 1256.0L1199.0 1255.1L1199.5 1254.4L1200.0 1254.0L1200.5 1253.9L1201.0 1254.1L1201.5 1254.7L1202.0 1255.4L1202.5 1256.4L1203.0 1257.5L1203.5 1258.5L1204.0 1259.4L1204.5 1260.2L1205.0 1260.7L1205.5 1260.9L1206.0 1260.8L1206.5 1260.3L1207.0 1259.6L1207.5 1258.7L1208.0 1257.7L1208.5 1256.6L1209.0 1255.6L1209.5 1254.8L1210.0 1254.2L1210.5 1253.9L1211.0 1254.0L1211.5 1254.3L1212.0 1254.9L1212.5 1255.8L1213.0 1256.8L1213.5 1257.9L1214.0 1258.9L1214.5 1259.8L1215.0 1260.4L1215.5 1260.8L1216.0 1260.9L1216.5 1260.6L1217.0 1260.1L1217.5 1259.3" fill="none" stroke="#000" stroke-width="2.5" stroke-linejoin="round"/><path d="M122.0 1257.4L122.5 1257.5L123.0 1257.5L123.5 1257.6L124.0 1257.6L124.5 1257.7L125.0 1257.7L125.5 1257.7L126.0 1257.7L126.5 1257.6L127.0 1257.6L127.5 1257.5L128.0 1257.4L128.5 1257.3L129.0 1257.2L129.5 1257.1L130.0 1257.1L130.5 1257.1L131.0 1257.1L131.5 1257.1L132.0 1257.1L132.5 1257.2L133.0 1257.3L133.5 1257.4L134.0 1257.6L134.5 1257.7L135.0 1257.7L135.5 1257.8L136.0 1257.8L136.5 1257.8L137.0 1257.8L137.5 1257.7L138.0 1257.6L138.5 1257.5L139.0 1257.3L139.5 1257.2L140.0 1257.1L140.5 1257.1L141.0 1257.0L141.5 1257.0L142.0 1257.0L142.5 1257.1L143.0 1257.1L143.5 1257.2L144.0 1257.4L144.5 1257.5L145.0 1257.6L145.5 1257.7L146.0 1257.7L146.5 1257.7L147.0 1257.7L147.5 1257.7L148.0 1257.6L148.5 1257.5L149.0 1257.4L149.5 1257.3L150.0 1257.2L150.5 1257.2L151.0 1257.2L151.5 1257.2L152.0 1257.2L152.5 1257.2L153.0 1257.3L153.5 1257.4L154.0 1257.5L154.5 1257.5L155.0 1257.6L155.5 1257.6L156.0 1257.6L156.5 1257.5L157.0 1257.5L157.5 1257.4L158.0 1257.3L158.5 1257.2L159.0 1257.2L159.5 1257.2L160.0 1257.2L160.5 1257.2L161.0 1257.3L161.5 1257.4L162.0 1257.5L162.5 1257.6L163.0 1257.7L163.5 1257.7L164.0 1257.7L164.5 1257.7L165.0 1257.7L165.5 1257.7L166.0 1257.6L166.5 1257.4L167.0 1257.3L167.5 1257.1L168.0 1257.1L168.5 1257.0L169.0 1257.0L169.5 1257.0L170.0 1257.0L170.5 1257.1L171.0 1257.2L171.5 1257.3L172.0 1257.5L172.5 1257.7L173.0 1257.7L173.5 1257.8L174.0 1257.8L174.5 1257.8L175.0 1257.8L175.5 1257.8L176.0 1257.7L176.5 1257.6L177.0 1257.4L177.5 1257.2L178.0 1257.1L178.5 1257.0L179.0 1257.0L179.5 1257.0L180.0 1257.0L180.5 1257.0L181.0 1257.1L181.5 1257.2L182.0 1257.3L182.5 1257.5L183.0 1257.6L183.5 1257.7L184.0 1257.8L184.5 1257.8L185.0 1257.8L185.5 1257.8L186.0 1257.7L186.5 1257.6L187.0 1257.5L187.5 1257.4L188.0 1257.3L188.5 1257.2L189.0 1257.1L189.5 1257.1L190.0 1257.1L190.5 1257.1L191.0 1257.2L191.5 1257.2L192.0 1257.3L192.5 1257.4L193.0 1257.5L193.5 1257.5L194.0 1257.5L194.5 1257.6L195.0 1257.5L195.5 1257.5L196.0 1257.5L196.5 1257.4L197.0 1257.4L197.5 1257.4L198.0 1257.3L198.5 1257.3L199.0 1257.4L199.5 1257.4L200.0 1257.4L200.5 1257.5L201.0 1257.5L201.5 1257.5L202.0 1257.6L202.5 1257.6L203.0 1257.5L203.5 1257.5L204.0 1257.4L204.5 1257.3L205.0 1257.3L205.5 1257.2L206.0 1257.2L206.5 1257.1L207.0 1257.1L207.5 1257.1L208.0 1257.2L208.5 1257.2L209.0 1257.3L209.5 1257.4L210.0 1257.5L210.5 1257.6L211.0 1257.7L211.5 1257.7L212.0 1257.7L212.5 1257.7L213.0 1257.7L213.5 1257.6L214.0 1257.6L214.5 1257.5L215.0 1257.4L215.5 1257.3L216.0 1257.2L216.5 1257.1L217.0 1257.1L217.5 1257.1L218.0 1257.1L218.5 1257.1L219.0 1257.2L219.5 1257.2L220.0 1257.3L220.5 1257.4L221.0 1257.5L221.5 1257.6L222.0 1257.6L222.5 1257.6L223.0 1257.6L223.5 1257.6L224.0 1257.6L224.5 1257.6L225.0 1257.6L225.5 1257.5L226.0 1257.5L226.5 1257.4L227.0 1257.4L227.5 1257.3L228.0 1257.3L228.5 1257.3L229.0 1257.2L229.5 1257.2L230.0 1257.2L230.5 1257.2L231.0 1257.2L231.5 1257.2L232.0 1257.2L232.5 1257.2L233.0 1257.3L233.5 1257.3L234.0 1257.4L234.5 1257.5L235.0 1257.6L235.5 1257.6L236.0 1257.7L236.5 1257.7L237.0 1257.7L237.5 1257.7L238.0 1257.7L238.5 1257.6L239.0 1257.6L239.5 1257.5L240.0 1257.4L240.5 1257.2L241.0 1257.2L241.5 1257.1L242.0 1257.1L242.5 1257.1L243.0 1257.1L243.5 1257.1L244.0 1257.1L244.5 1257.2L245.0 1257.3L245.5 1257.4L246.0 1257.6L246.5 1257.7L247.0 1257.7L247.5 1257.7L248.0 1257.7L248.5 1257.7L249.0 1257.7L249.5 1257.6L250.0 1257.6L250.5 1257.4L251.0 1257.3L251.5 1257.2L252.0 1257.2L252.5 1257.1L253.0 1257.1L253.5 1257.1L254.0 1257.1L254.5 1257.2L255.0 1257.3L255.5 1257.3L256.0 1257.4L256.5 1257.5L257.0 1257.6L257.5 1257.6L258.0 1257.6L258.5 1257.6L259.0 1257.5L259.5 1257.5L260.0 1257.4L260.5 1257.4L261.0 1257.3L261.5 1257.3L262.0 1257.3L262.5 1257.3L263.0 1257.4L263.5 1257.4L264.0 1257.5L264.5 1257.5L265.0 1257.6L265.5 1257.6L266.0 1257.6L266.5 1257.6L267.0 1257.5L267.5 1257.4L268.0 1257.4L268.5 1257.3L269.0 1257.2L269.5 1257.1L270.0 1257.1L270.5 1257.1L271.0 1257.1L271.5 1257.1L272.0 1257.2L272.5 1257.3L273.0 1257.5L273.5 1257.6L274.0 1257.7L274.5 1257.7L275.0 1257.8L275.5 1257.8L276.0 1257.8L276.5 1257.7L277.0 1257.7L277.5 1257.6L278.0 1257.4L278.5 1257.2L279.0 1257.1L279.5 1257.0L280.0 1257.0L280.5 1257.0L281.0 1257.0L281.5 1257.0L282.0 1257.1L282.5 1257.1L283.0 1257.3L283.5 1257.5L284.0 1257.7L284.5 1257.7L285.0 1257.8L285.5 1257.8L286.0 1257.8L286.5 1257.8L287.0 1257.8L287.5 1257.7L288.0 1257.6L288.5 1257.4L289.0 1257.2L289.5 1257.1L290.0 1257.1L290.5 1257.0L291.0 1257.0L291.5 1257.0L292.0 1257.0L292.5 1257.1L293.0 1257.2L293.5 1257.3L294.0 1257.5L294.5 1257.6L295.0 1257.7L295.5 1257.7L296.0 1257.7L296.5 1257.7L297.0 1257.7L297.5 1257.6L298.0 1257.5L298.5 1257.4L299.0 1257.3L299.5 1257.3L300.0 1257.2L300.5 1257.2L301.0 1257.2L301.5 1257.2L302.0 1257.3L302.5 1257.3L303.0 1257.4L303.5 1257.5L304.0 1257.5L304.5 1257.5L305.0 1257.5L305.5 1257.5L306.0 1257.5L306.5 1257.4L307.0 1257.3L307.5 1257.3L308.0 1257.2L308.5 1257.2L309.0 1257.2L309.5 1257.2L310.0 1257.2L310.5 1257.3L311.0 1257.4L311.5 1257.5L312.0 1257.6L312.5 1257.7L313.0 1257.7L313.5 1257.7L314.0 1257.7L314.5 1257.7L315.0 1257.6L315.5 1257.6L316.0 1257.4L316.5 1257.3L317.0 1257.2L317.5 1257.1L318.0 1257.1L318.5 1257.0L319.0 1257.0L319.5 1257.1L320.0 1257.1L320.5 1257.2L321.0 1257.3L321.5 1257.4L322.0 1257.6L322.5 1257.7L323.0 1257.7L323.5 1257.7L324.0 1257.8L324.5 1257.8L325.0 1257.7L325.5 1257.7L326.0 1257.6L326.5 1257.5L327.0 1257.3L327.5 1257.2L328.0 1257.1L328.5 1257.1L329.0 1257.1L329.5 1257.1L330.0 1257.1L330.5 1257.1L331.0 1257.2L331.5 1257.2L332.0 1257.3L332.5 1257.4L333.0 1257.5L333.5 1257.6L334.0 1257.6L334.5 1257.6L335.0 1257.6L335.5 1257.6L336.0 1257.6L336.5 1257.6L337.0 1257.6L337.5 1257.5L338.0 1257.5L338.5 1257.4L339.0 1257.4L339.5 1257.4L340.0 1257.3L340.5 1257.3L341.0 1257.3L341.5 1257.2L342.0 1257.2L342.5 1257.2L343.0 1257.2L343.5 1257.2L344.0 1257.2L344.5 1257.2L345.0 1257.3L345.5 1257.3L346.0 1257.4L346.5 1257.4L347.0 1257.5L347.5 1257.6L348.0 1257.6L348.5 1257.6L349.0 1257.7L349.5 1257.7L350.0 1257.6L350.5 1257.6L351.0 1257.6L351.5 1257.5L352.0 1257.4L352.5 1257.3L353.0 1257.2L353.5 1257.2L354.0 1257.1L354.5 1257.1L355.0 1257.1L355.5 1257.1L356.0 1257.2L356.5 1257.2L357.0 1257.3L357.5 1257.4L358.0 1257.5L358.5 1257.5L359.0 1257.6L359.5 1257.6L360.0 1257.6L360.5 1257.6L361.0 1257.6L361.5 1257.6L362.0 1257.5L362.5 1257.5L363.0 1257.4L363.5 1257.4L364.0 1257.3L364.5 1257.3L365.0 1257.3L365.5 1257.3L366.0 1257.3L366.5 1257.3L367.0 1257.3L367.5 1257.4L368.0 1257.4L368.5 1257.4L369.0 1257.4L369.5 1257.4L370.0 1257.3L370.5 1257.3L371.0 1257.3L371.5 1257.3L372.0 1257.3L372.5 1257.3L373.0 1257.3L373.5 1257.4L374.0 1257.5L374.5 1257.5L375.0 1257.6L375.5 1257.6L376.0 1257.7L376.5 1257.7L377.0 1257.7L377.5 1257.7L378.0 1257.6L378.5 1257.5L379.0 1257.4L379.5 1257.3L380.0 1257.2L380.5 1257.1L381.0 1257.1L381.5 1257.0L382.0 1257.0L382.5 1257.1L383.0 1257.1L383.5 1257.2L384.0 1257.3L384.5 1257.5L385.0 1257.6L385.5 1257.7L386.0 1257.8L386.5 1257.8L387.0 1257.8L387.5 1257.8L388.0 1257.8L388.5 1257.7L389.0 1257.6L389.5 1257.5L390.0 1257.3L390.5 1257.1L391.0 1257.1L391.5 1257.0L392.0 1257.0L392.5 1257.0L393.0 1257.0L393.5 1257.1L394.0 1257.1L394.5 1257.2L395.0 1257.4L395.5 1257.6L396.0 1257.7L396.5 1257.7L397.0 1257.8L397.5 1257.8L398.0 1257.8L398.5 1257.7L399.0 1257.7L399.5 1257.6L400.0 1257.4L400.5 1257.3L401.0 1257.2L401.5 1257.1L402.0 1257.1L402.5 1257.1L403.0 1257.1L403.5 1257.1L404.0 1257.2L404.5 1257.3L405.0 1257.4L405.5 1257.5L406.0 1257.6L406.5 1257.6L407.0 1257.6L407.5 1257.6L408.0 1257.6L408.5 1257.5L409.0 1257.4L409.5 1257.3L410.0 1257.3L410.5 1257.2L411.0 1257.2L411.5 1257.2L412.0 1257.3L412.5 1257.3L413.0 1257.4L413.5 1257.5L414.0 1257.6L414.5 1257.6L415.0 1257.7L415.5 1257.7L416.0 1257.7L416.5 1257.6L417.0 1257.5L417.5 1257.4L418.0 1257.3L418.5 1257.2L419.0 1257.1L419.5 1257.1L420.0 1257.1L420.5 1257.1L421.0 1257.1L421.5 1257.1L422.0 1257.2L422.5 1257.4L423.0 1257.5L423.5 1257.7L424.0 1257.7L424.5 1257.8L425.0 1257.8L425.5 1257.8L426.0 1257.8L426.5 1257.7L427.0 1257.7L427.5 1257.5L428.0 1257.3L428.5 1257.2L429.0 1257.1L429.5 1257.0L430.0 1257.0L430.5 1257.0L431.0 1257.0L431.5 1257.0L432.0 1257.1L432.5 1257.2L433.0 1257.3L433.5 1257.5L434.0 1257.7L434.5 1257.7L435.0 1257.8L435.5 1257.8L436.0 1257.8L436.5 1257.8L437.0 1257.7L437.5 1257.7L438.0 1257.5L438.5 1257.4L439.0 1257.3L439.5 1257.2L440.0 1257.1L440.5 1257.1L441.0 1257.1L441.5 1257.1L442.0 1257.1L442.5 1257.2L443.0 1257.2L443.5 1257.3L444.0 1257.4L444.5 1257.5L445.0 1257.5L445.5 1257.6L446.0 1257.6L446.5 1257.6L447.0 1257.6L447.5 1257.5L448.0 1257.5L448.5 1257.5L449.0 1257.5L449.5 1257.4L450.0 1257.4L450.5 1257.4L451.0 1257.4L451.5 1257.4L452.0 1257.4L452.5 1257.4L453.0 1257.4L453.5 1257.4L454.0 1257.4L454.5 1257.3L455.0 1257.3L455.5 1257.3L456.0 1257.2L456.5 1257.2L457.0 1257.2L457.5 1257.2L458.0 1257.2L458.5 1257.3L459.0 1257.3L459.5 1257.4L460.0 1257.5L460.5 1257.6L461.0 1257.6L461.5 1257.6L462.0 1257.7L462.5 1257.7L463.0 1257.6L463.5 1257.6L464.0 1257.6L464.5 1257.5L465.0 1257.4L465.5 1257.3L466.0 1257.2L466.5 1257.2L467.0 1257.2L467.5 1257.1L468.0 1257.1L468.5 1257.2L469.0 1257.2L469.5 1257.2L470.0 1257.3L470.5 1257.4L471.0 1257.4L471.5 1257.5L472.0 1257.5L472.5 1257.6L473.0 1257.6L473.5 1257.6L474.0 1257.6L474.5 1257.6L475.0 1257.5L475.5 1257.5L476.0 1257.5L476.5 1257.5L477.0 1257.4L477.5 1257.4L478.0 1257.4L478.5 1257.4L479.0 1257.3L479.5 1257.3L480.0 1257.3L480.5 1257.3L481.0 1257.2L481.5 1257.2L482.0 1257.2L482.5 1257.2L483.0 1257.2L483.5 1257.2L484.0 1257.3L484.5 1257.3L485.0 1257.4L485.5 1257.5L486.0 1257.6L486.5 1257.6L487.0 1257.7L487.5 1257.7L488.0 1257.7L488.5 1257.7L489.0 1257.7L489.5 1257.6L490.0 1257.6L490.5 1257.4L491.0 1257.3L491.5 1257.2L492.0 1257.1L492.5 1257.1L493.0 1257.0L493.5 1257.0L494.0 1257.0L494.5 1257.1L495.0 1257.1L495.5 1257.2L496.0 1257.4L496.5 1257.5L497.0 1257.7L497.5 1257.7L498.0 1257.8L498.5 1257.8L499.0 1257.8L499.5 1257.8L500.0 1257.7L500.5 1257.6L501.0 1257.5L501.5 1257.4L502.0 1257.2L502.5 1257.1L503.0 1257.1L503.5 1257.1L504.0 1257.0L504.5 1257.1L505.0 1257.1L505.5 1257.2L506.0 1257.3L506.5 1257.4L507.0 1257.5L507.5 1257.6L508.0 1257.7L508.5 1257.7L509.0 1257.7L509.5 1257.7L510.0 1257.6L510.5 1257.6L511.0 1257.5L511.5 1257.4L512.0 1257.3L512.5 1257.2L513.0 1257.2L513.5 1257.2L514.0 1257.2L514.5 1257.3L515.0 1257.3L515.5 1257.4L516.0 1257.5L516.5 1257.5L517.0 1257.6L517.5 1257.6L518.0 1257.6L518.5 1257.5L519.0 1257.4L519.5 1257.3L520.0 1257.3L520.5 1257.2L521.0 1257.1L521.5 1257.1L522.0 1257.1L522.5 1257.1L523.0 1257.2L523.5 1257.3L524.0 1257.4L524.5 1257.6L525.0 1257.7L525.5 1257.7L526.0 1257.7L526.5 1257.8L527.0 1257.8L527.5 1257.7L528.0 1257.7L528.5 1257.6L529.0 1257.4L529.5 1257.2L530.0 1257.1L530.5 1257.0L531.0 1257.0L531.5 1257.0L532.0 1257.0L532.5 1257.0L533.0 1257.1L533.5 1257.1L534.0 1257.3L534.5 1257.5L535.0 1257.7L535.5 1257.7L536.0 1257.8L536.5 1257.8L537.0 1257.8L537.5 1257.8L538.0 1257.8L538.5 1257.7L539.0 1257.6L539.5 1257.4L540.0 1257.2L540.5 1257.1L541.0 1257.0L541.5 1257.0L542.0 1257.0L542.5 1257.0L543.0 1257.0L543.5 1257.1L544.0 1257.2L544.5 1257.3L545.0 1257.5L545.5 1257.6L546.0 1257.7L546.5 1257.7L547.0 1257.7L547.5 1257.7L548.0 1257.7L548.5 1257.7L549.0 1257.6L549.5 1257.5L550.0 1257.4L550.5 1257.3L551.0 1257.2L551.5 1257.2L552.0 1257.2L552.5 1257.2L553.0 1257.2L553.5 1257.2L554.0 1257.3L554.5 1257.4L555.0 1257.4L555.5 1257.5L556.0 1257.5L556.5 1257.5L557.0 1257.5L557.5 1257.4L558.0 1257.4L558.5 1257.4L559.0 1257.3L559.5 1257.3L560.0 1257.3L560.5 1257.3L561.0 1257.3L561.5 1257.4L562.0 1257.4L562.5 1257.5L563.0 1257.6L563.5 1257.6L564.0 1257.6L564.5 1257.6L565.0 1257.6L565.5 1257.6L566.0 1257.5L566.5 1257.4L567.0 1257.3L567.5 1257.2L568.0 1257.2L568.5 1257.1L569.0 1257.1L569.5 1257.1L570.0 1257.1L570.5 1257.1L571.0 1257.2L571.5 1257.3L572.0 1257.4L572.5 1257.5L573.0 1257.6L573.5 1257.7L574.0 1257.7L574.5 1257.7L575.0 1257.7L575.5 1257.7L576.0 1257.7L576.5 1257.6L577.0 1257.5L577.5 1257.4L578.0 1257.3L578.5 1257.2L579.0 1257.2L579.5 1257.1L580.0 1257.1L580.5 1257.1L581.0 1257.1L581.5 1257.2L582.0 1257.2L582.5 1257.3L583.0 1257.3L583.5 1257.4L584.0 1257.5L584.5 1257.5L585.0 1257.6L585.5 1257.6L586.0 1257.6L586.5 1257.6L587.0 1257.6L587.5 1257.6L588.0 1257.6L588.5 1257.5L589.0 1257.5L589.5 1257.5L590.0 1257.4L590.5 1257.4L591.0 1257.3L591.5 1257.3L592.0 1257.2L592.5 1257.2L593.0 1257.2L593.5 1257.2L594.0 1257.2L594.5 1257.2L595.0 1257.2L595.5 1257.2L596.0 1257.3L596.5 1257.3L597.0 1257.4L597.5 1257.5L598.0 1257.6L598.5 1257.7L599.0 1257.7L599.5 1257.7L600.0 1257.7L600.5 1257.7L601.0 1257.7L601.5 1257.6L602.0 1257.5L602.5 1257.4L603.0 1257.3L603.5 1257.2L604.0 1257.1L604.5 1257.1L605.0 1257.1L605.5 1257.1L606.0 1257.1L606.5 1257.1L607.0 1257.2L607.5 1257.3L608.0 1257.4L608.5 1257.5L609.0 1257.6L609.5 1257.7L610.0 1257.7L610.5 1257.7L611.0 1257.7L611.5 1257.7L612.0 1257.6L612.5 1257.6L613.0 1257.5L613.5 1257.3L614.0 1257.3L614.5 1257.2L615.0 1257.2L615.5 1257.2L616.0 1257.2L616.5 1257.2L617.0 1257.2L617.5 1257.3L618.0 1257.4L618.5 1257.4L619.0 1257.5L619.5 1257.5L620.0 1257.5L620.5 1257.5L621.0 1257.5L621.5 1257.4L622.0 1257.4L622.5 1257.3L623.0 1257.3L623.5 1257.3L624.0 1257.3L624.5 1257.3L625.0 1257.4L625.5 1257.4L626.0 1257.5L626.5 1257.6L627.0 1257.6L627.5 1257.6L628.0 1257.7L628.5 1257.6L629.0 1257.6L629.5 1257.5L630.0 1257.4L630.5 1257.3L631.0 1257.2L631.5 1257.1L632.0 1257.1L632.5 1257.1L633.0 1257.0L633.5 1257.1L634.0 1257.1L634.5 1257.2L635.0 1257.3L635.5 1257.5L636.0 1257.6L636.5 1257.7L637.0 1257.8L637.5 1257.8L638.0 1257.8L638.5 1257.8L639.0 1257.8L639.5 1257.7L640.0 1257.6L640.5 1257.4L641.0 1257.2L641.5 1257.1L642.0 1257.0L642.5 1257.0L643.0 1257.0L643.5 1257.0L644.0 1257.0L644.5 1257.0L645.0 1257.1L645.5 1257.3L646.0 1257.5L646.5 1257.6L647.0 1257.7L647.5 1257.8L648.0 1257.8L648.5 1257.8L649.0 1257.8L649.5 1257.8L650.0 1257.7L650.5 1257.6L651.0 1257.4L651.5 1257.3L652.0 1257.1L652.5 1257.1L653.0 1257.1L653.5 1257.0L654.0 1257.1L654.5 1257.1L655.0 1257.1L655.5 1257.2L656.0 1257.4L656.5 1257.5L657.0 1257.6L657.5 1257.6L658.0 1257.7L658.5 1257.7L659.0 1257.6L659.5 1257.6L660.0 1257.5L660.5 1257.5L661.0 1257.4L661.5 1257.3L662.0 1257.3L662.5 1257.2L663.0 1257.2L663.5 1257.3L664.0 1257.3L664.5 1257.4L665.0 1257.5L665.5 1257.5L666.0 1257.6L666.5 1257.6L667.0 1257.6L667.5 1257.6L668.0 1257.5L668.5 1257.4L669.0 1257.3L669.5 1257.2L670.0 1257.2L670.5 1257.1L671.0 1257.1L671.5 1257.1L672.0 1257.1L672.5 1257.2L673.0 1257.3L673.5 1257.4L674.0 1257.5L674.5 1257.6L675.0 1257.7L675.5 1257.7L676.0 1257.7L676.5 1257.7L677.0 1257.7L677.5 1257.7L678.0 1257.6L678.5 1257.5L679.0 1257.3L679.5 1257.2L680.0 1257.1L680.5 1257.1L681.0 1257.0L681.5 1257.0L682.0 1257.0L682.5 1257.1L683.0 1257.1L683.5 1257.2L684.0 1257.4L684.5 1257.5L685.0 1257.7L685.5 1257.7L686.0 1257.7L686.5 1257.8L687.0 1257.7L687.5 1257.7L688.0 1257.7L688.5 1257.6L689.0 1257.5L689.5 1257.4L690.0 1257.3L690.5 1257.2L691.0 1257.1L691.5 1257.1L692.0 1257.1L692.5 1257.1L693.0 1257.1L693.5 1257.2L694.0 1257.2L694.5 1257.3L695.0 1257.4L695.5 1257.4L696.0 1257.5L696.5 1257.5L697.0 1257.6L697.5 1257.6L698.0 1257.6L698.5 1257.6L699.0 1257.6L699.5 1257.6L700.0 1257.5L700.5 1257.5L701.0 1257.5L701.5 1257.5L702.0 1257.4L702.5 1257.4L703.0 1257.4L703.5 1257.3L704.0 1257.3L704.5 1257.3L705.0 1257.2L705.5 1257.2L706.0 1257.2L706.5 1257.2L707.0 1257.2L707.5 1257.2L708.0 1257.2L708.5 1257.3L709.0 1257.4L709.5 1257.4L710.0 1257.5L710.5 1257.6L711.0 1257.6L711.5 1257.7L712.0 1257.7L712.5 1257.7L713.0 1257.6L713.5 1257.6L714.0 1257.6L714.5 1257.5L715.0 1257.4L715.5 1257.3L716.0 1257.2L716.5 1257.2L717.0 1257.1L717.5 1257.1L718.0 1257.1L718.5 1257.2L719.0 1257.2L719.5 1257.3L720.0 1257.3L720.5 1257.4L721.0 1257.5L721.5 1257.5L722.0 1257.6L722.5 1257.6L723.0 1257.6L723.5 1257.6L724.0 1257.6L724.5 1257.5L725.0 1257.5L725.5 1257.4L726.0 1257.4L726.5 1257.4L727.0 1257.4L727.5 1257.4L728.0 1257.4L728.5 1257.4L729.0 1257.4L729.5 1257.4L730.0 1257.4L730.5 1257.4L731.0 1257.4L731.5 1257.3L732.0 1257.3L732.5 1257.3L733.0 1257.2L733.5 1257.2L734.0 1257.2L734.5 1257.2L735.0 1257.2L735.5 1257.3L736.0 1257.4L736.5 1257.5L737.0 1257.6L737.5 1257.6L738.0 1257.7L738.5 1257.7L739.0 1257.7L739.5 1257.7L740.0 1257.7L740.5 1257.6L741.0 1257.6L741.5 1257.4L742.0 1257.3L742.5 1257.2L743.0 1257.1L743.5 1257.0L744.0 1257.0L744.5 1257.0L745.0 1257.0L745.5 1257.1L746.0 1257.1L746.5 1257.3L747.0 1257.4L747.5 1257.6L748.0 1257.7L748.5 1257.8L749.0 1257.8L749.5 1257.8L750.0 1257.8L750.5 1257.8L751.0 1257.7L751.5 1257.6L752.0 1257.5L752.5 1257.3L753.0 1257.1L753.5 1257.1L754.0 1257.0L754.5 1257.0L755.0 1257.0L755.5 1257.0L756.0 1257.1L756.5 1257.1L757.0 1257.3L757.5 1257.4L758.0 1257.6L758.5 1257.7L759.0 1257.7L759.5 1257.7L760.0 1257.7L760.5 1257.7L761.0 1257.7L761.5 1257.6L762.0 1257.5L762.5 1257.4L763.0 1257.3L763.5 1257.2L764.0 1257.1L764.5 1257.1L765.0 1257.1L765.5 1257.2L766.0 1257.2L766.5 1257.3L767.0 1257.4L767.5 1257.5L768.0 1257.5L768.5 1257.6L769.0 1257.6L769.5 1257.6L770.0 1257.5L770.5 1257.5L771.0 1257.4L771.5 1257.3L772.0 1257.2L772.5 1257.2L773.0 1257.2L773.5 1257.2L774.0 1257.2L774.5 1257.3L775.0 1257.4L775.5 1257.5L776.0 1257.6L776.5 1257.7L777.0 1257.7L777.5 1257.7L778.0 1257.7L778.5 1257.7L779.0 1257.6L779.5 1257.5L780.0 1257.4L780.5 1257.2L781.0 1257.1L781.5 1257.1L782.0 1257.0L782.5 1257.0L783.0 1257.0L783.5 1257.1L784.0 1257.1L784.5 1257.2L785.0 1257.4L785.5 1257.5L786.0 1257.7L786.5 1257.7L787.0 1257.8L787.5 1257.8L788.0 1257.8L788.5 1257.8L789.0 1257.7L789.5 1257.7L790.0 1257.5L790.5 1257.4L791.0 1257.2L791.5 1257.1L792.0 1257.0L792.5 1257.0L793.0 1257.0L793.5 1257.0L794.0 1257.0L794.5 1257.1L795.0 1257.2L795.5 1257.3L796.0 1257.5L796.5 1257.6L797.0 1257.7L797.5 1257.7L798.0 1257.7L798.5 1257.7L799.0 1257.7L799.5 1257.7L800.0 1257.6L800.5 1257.5L801.0 1257.4L801.5 1257.3L802.0 1257.2L802.5 1257.2L803.0 1257.2L803.5 1257.1L804.0 1257.2L804.5 1257.2L805.0 1257.2L805.5 1257.3L806.0 1257.3L806.5 1257.4L807.0 1257.4L807.5 1257.4L808.0 1257.5L808.5 1257.5L809.0 1257.5L809.5 1257.5L810.0 1257.4L810.5 1257.4L811.0 1257.4L811.5 1257.4L812.0 1257.5L812.5 1257.5L813.0 1257.5L813.5 1257.5L814.0 1257.5L814.5 1257.5L815.0 1257.5L815.5 1257.5L816.0 1257.5L816.5 1257.4L817.0 1257.4L817.5 1257.3L818.0 1257.2L818.5 1257.2L819.0 1257.2L819.5 1257.2L820.0 1257.2L820.5 1257.2L821.0 1257.2L821.5 1257.3L822.0 1257.4L822.5 1257.4L823.0 1257.5L823.5 1257.6L824.0 1257.6L824.5 1257.7L825.0 1257.7L825.5 1257.7L826.0 1257.6L826.5 1257.6L827.0 1257.5L827.5 1257.5L828.0 1257.4L828.5 1257.3L829.0 1257.2L829.5 1257.2L830.0 1257.2L830.5 1257.2L831.0 1257.2L831.5 1257.2L832.0 1257.2L832.5 1257.3L833.0 1257.3L833.5 1257.4L834.0 1257.4L834.5 1257.5L835.0 1257.5L835.5 1257.5L836.0 1257.5L836.5 1257.5L837.0 1257.6L837.5 1257.6L838.0 1257.6L838.5 1257.6L839.0 1257.5L839.5 1257.5L840.0 1257.5L840.5 1257.5L841.0 1257.5L841.5 1257.4L842.0 1257.4L842.5 1257.3L843.0 1257.3L843.5 1257.2L844.0 1257.2L844.5 1257.1L845.0 1257.1L845.5 1257.1L846.0 1257.2L846.5 1257.2L847.0 1257.3L847.5 1257.3L848.0 1257.5L848.5 1257.6L849.0 1257.6L849.5 1257.7L850.0 1257.7L850.5 1257.7L851.0 1257.7L851.5 1257.7L852.0 1257.7L852.5 1257.6L853.0 1257.5L853.5 1257.3L854.0 1257.2L854.5 1257.1L855.0 1257.1L855.5 1257.0L856.0 1257.0L856.5 1257.0L857.0 1257.1L857.5 1257.1L858.0 1257.2L858.5 1257.4L859.0 1257.5L859.5 1257.6L860.0 1257.7L860.5 1257.7L861.0 1257.8L861.5 1257.8L862.0 1257.7L862.5 1257.7L863.0 1257.6L863.5 1257.5L864.0 1257.4L864.5 1257.2L865.0 1257.1L865.5 1257.1L866.0 1257.1L866.5 1257.1L867.0 1257.1L867.5 1257.1L868.0 1257.2L868.5 1257.3L869.0 1257.4L869.5 1257.5L870.0 1257.6L870.5 1257.6L871.0 1257.6L871.5 1257.6L872.0 1257.6L872.5 1257.5L873.0 1257.5L873.5 1257.4L874.0 1257.3L874.5 1257.3L875.0 1257.2L875.5 1257.2L876.0 1257.3L876.5 1257.3L877.0 1257.4L877.5 1257.5L878.0 1257.5L878.5 1257.6L879.0 1257.6L879.5 1257.6L880.0 1257.6L880.5 1257.6L881.0 1257.5L881.5 1257.4L882.0 1257.3L882.5 1257.2L883.0 1257.1L883.5 1257.1L884.0 1257.1L884.5 1257.1L885.0 1257.1L885.5 1257.2L886.0 1257.3L886.5 1257.5L887.0 1257.6L887.5 1257.7L888.0 1257.7L888.5 1257.8L889.0 1257.8L889.5 1257.8L890.0 1257.8L890.5 1257.7L891.0 1257.6L891.5 1257.4L892.0 1257.2L892.5 1257.1L893.0 1257.0L893.5 1257.0L894.0 1257.0L894.5 1257.0L895.0 1257.0L895.5 1257.1L896.0 1257.1L896.5 1257.3L897.0 1257.5L897.5 1257.7L898.0 1257.7L898.5 1257.8L899.0 1257.8L899.5 1257.8L900.0 1257.8L900.5 1257.8L901.0 1257.7L901.5 1257.6L902.0 1257.4L902.5 1257.2L903.0 1257.1L903.5 1257.1L904.0 1257.0L904.5 1257.0L905.0 1257.0L905.5 1257.1L906.0 1257.1L906.5 1257.2L907.0 1257.3L907.5 1257.5L908.0 1257.6L908.5 1257.7L909.0 1257.7L909.5 1257.7L910.0 1257.7L910.5 1257.7L911.0 1257.6L911.5 1257.5L912.0 1257.5L912.5 1257.4L913.0 1257.3L913.5 1257.3L914.0 1257.2L914.5 1257.2L915.0 1257.3L915.5 1257.3L916.0 1257.3L916.5 1257.4L917.0 1257.4L917.5 1257.5L918.0 1257.5L918.5 1257.5L919.0 1257.4L919.5 1257.4L920.0 1257.3L920.5 1257.3L921.0 1257.3L921.5 1257.2L922.0 1257.2L922.5 1257.2L923.0 1257.3L923.5 1257.3L924.0 1257.4L924.5 1257.5L925.0 1257.6L925.5 1257.6L926.0 1257.7L926.5 1257.7L927.0 1257.7L927.5 1257.7L928.0 1257.6L928.5 1257.6L929.0 1257.5L929.5 1257.4L930.0 1257.2L930.5 1257.2L931.0 1257.1L931.5 1257.1L932.0 1257.1L932.5 1257.1L933.0 1257.1L933.5 1257.2L934.0 1257.2L934.5 1257.4L935.0 1257.5L935.5 1257.6L936.0 1257.6L936.5 1257.7L937.0 1257.7L937.5 1257.7L938.0 1257.7L938.5 1257.7L939.0 1257.6L939.5 1257.6L940.0 1257.5L940.5 1257.4L941.0 1257.3L941.5 1257.2L942.0 1257.2L942.5 1257.1L943.0 1257.1L943.5 1257.1L944.0 1257.2L944.5 1257.2L945.0 1257.2L945.5 1257.3L946.0 1257.3L946.5 1257.4L947.0 1257.5L947.5 1257.5L948.0 1257.5L948.5 1257.6L949.0 1257.6L949.5 1257.6L950.0 1257.6L950.5 1257.6L951.0 1257.6L951.5 1257.6L952.0 1257.6L952.5 1257.5L953.0 1257.5L953.5 1257.4L954.0 1257.3L954.5 1257.3L955.0 1257.2L955.5 1257.2L956.0 1257.1L956.5 1257.1L957.0 1257.1L957.5 1257.1L958.0 1257.2L958.5 1257.2L959.0 1257.3L959.5 1257.4L960.0 1257.5L960.5 1257.6L961.0 1257.6L961.5 1257.7L962.0 1257.7L962.5 1257.7L963.0 1257.7L963.5 1257.7L964.0 1257.6L964.5 1257.6L965.0 1257.5L965.5 1257.3L966.0 1257.2L966.5 1257.1L967.0 1257.1L967.5 1257.1L968.0 1257.1L968.5 1257.1L969.0 1257.1L969.5 1257.2L970.0 1257.3L970.5 1257.4L971.0 1257.5L971.5 1257.6L972.0 1257.6L972.5 1257.7L973.0 1257.7L973.5 1257.7L974.0 1257.6L974.5 1257.6L975.0 1257.5L975.5 1257.4L976.0 1257.4L976.5 1257.3L977.0 1257.3L977.5 1257.2L978.0 1257.2L978.5 1257.3L979.0 1257.3L979.5 1257.3L980.0 1257.4L980.5 1257.4L981.0 1257.5L981.5 1257.5L982.0 1257.5L982.5 1257.4L983.0 1257.4L983.5 1257.4L984.0 1257.3L984.5 1257.3L985.0 1257.2L985.5 1257.2L986.0 1257.2L986.5 1257.3L987.0 1257.3L987.5 1257.4L988.0 1257.5L988.5 1257.6L989.0 1257.7L989.5 1257.7L990.0 1257.7L990.5 1257.7L991.0 1257.7L991.5 1257.6L992.0 1257.6L992.5 1257.4L993.0 1257.3L993.5 1257.2L994.0 1257.1L994.5 1257.0L995.0 1257.0L995.5 1257.0L996.0 1257.0L996.5 1257.1L997.0 1257.1L997.5 1257.3L998.0 1257.5L998.5 1257.6L999.0 1257.7L999.5 1257.8L1000.0 1257.8L1000.5 1257.8L1001.0 1257.8L1001.5 1257.8L1002.0 1257.7L1002.5 1257.6L1003.0 1257.4L1003.5 1257.2L1004.0 1257.1L1004.5 1257.0L1005.0 1257.0L1005.5 1257.0L1006.0 1257.0L1006.5 1257.0L1007.0 1257.1L1007.5 1257.1L1008.0 1257.3L1008.5 1257.5L1009.0 1257.6L1009.5 1257.7L1010.0 1257.8L1010.5 1257.8L1011.0 1257.8L1011.5 1257.8L1012.0 1257.7L1012.5 1257.7L1013.0 1257.6L1013.5 1257.4L1014.0 1257.3L1014.5 1257.2L1015.0 1257.1L1015.5 1257.1L1016.0 1257.1L1016.5 1257.1L1017.0 1257.1L1017.5 1257.2L1018.0 1257.3L1018.5 1257.4L1019.0 1257.5L1019.5 1257.6L1020.0 1257.6L1020.5 1257.6L1021.0 1257.6L1021.5 1257.6L1022.0 1257.5L1022.5 1257.4L1023.0 1257.3L1023.5 1257.3L1024.0 1257.2L1024.5 1257.2L1025.0 1257.3L1025.5 1257.3L1026.0 1257.4L1026.5 1257.4L1027.0 1257.5L1027.5 1257.6L1028.0 1257.6L1028.5 1257.6L1029.0 1257.6L1029.5 1257.6L1030.0 1257.6L1030.5 1257.5L1031.0 1257.4L1031.5 1257.3L1032.0 1257.2L1032.5 1257.1L1033.0 1257.1L1033.5 1257.1L1034.0 1257.1L1034.5 1257.1L1035.0 1257.2L1035.5 1257.3L1036.0 1257.4L1036.5 1257.6L1037.0 1257.7L1037.5 1257.7L1038.0 1257.8L1038.5 1257.8L1039.0 1257.8L1039.5 1257.7L1040.0 1257.7L1040.5 1257.6L1041.0 1257.5L1041.5 1257.3L1042.0 1257.2L1042.5 1257.1L1043.0 1257.1L1043.5 1257.0L1044.0 1257.0L1044.5 1257.0L1045.0 1257.1L1045.5 1257.1L1046.0 1257.2L1046.5 1257.4L1047.0 1257.5L1047.5 1257.6L1048.0 1257.7L1048.5 1257.7L1049.0 1257.7L1049.5 1257.7L1050.0 1257.7L1050.5 1257.7L1051.0 1257.6L1051.5 1257.5L1052.0 1257.4L1052.5 1257.3L1053.0 1257.3L1053.5 1257.2L1054.0 1257.2L1054.5 1257.1L1055.0 1257.1L1055.5 1257.2L1056.0 1257.2L1056.5 1257.2L1057.0 1257.3L1057.5 1257.3L1058.0 1257.4L1058.5 1257.4L1059.0 1257.4L1059.5 1257.5L1060.0 1257.5L1060.5 1257.5L1061.0 1257.5L1061.5 1257.5L1062.0 1257.6L1062.5 1257.6L1063.0 1257.6L1063.5 1257.6L1064.0 1257.5L1064.5 1257.5L1065.0 1257.5L1065.5 1257.5L1066.0 1257.4L1066.5 1257.4L1067.0 1257.3L1067.5 1257.3L1068.0 1257.2L1068.5 1257.2L1069.0 1257.2L1069.5 1257.2L1070.0 1257.2L1070.5 1257.2L1071.0 1257.2L1071.5 1257.3L1072.0 1257.4L1072.5 1257.5L1073.0 1257.5L1073.5 1257.6L1074.0 1257.6L1074.5 1257.7L1075.0 1257.7L1075.5 1257.7L1076.0 1257.6L1076.5 1257.6L1077.0 1257.5L1077.5 1257.4L1078.0 1257.3L1078.5 1257.3L1079.0 1257.2L1079.5 1257.2L1080.0 1257.2L1080.5 1257.2L1081.0 1257.2L1081.5 1257.2L1082.0 1257.3L1082.5 1257.3L1083.0 1257.4L1083.5 1257.4L1084.0 1257.5L1084.5 1257.5L1085.0 1257.5L1085.5 1257.5L1086.0 1257.5L1086.5 1257.5L1087.0 1257.5L1087.5 1257.5L1088.0 1257.5L1088.5 1257.4L1089.0 1257.5L1089.5 1257.5L1090.0 1257.5L1090.5 1257.5L1091.0 1257.5L1091.5 1257.5L1092.0 1257.5L1092.5 1257.5L1093.0 1257.4L1093.5 1257.4L1094.0 1257.3L1094.5 1257.2L1095.0 1257.2L1095.5 1257.2L1096.0 1257.1L1096.5 1257.1L1097.0 1257.1L1097.5 1257.2L1098.0 1257.2L1098.5 1257.3L1099.0 1257.5L1099.5 1257.6L1100.0 1257.7L1100.5 1257.7L1101.0 1257.7L1101.5 1257.8L1102.0 1257.8L1102.5 1257.7L1103.0 1257.7L1103.5 1257.6L1104.0 1257.5L1104.5 1257.3L1105.0 1257.2L1105.5 1257.1L1106.0 1257.0L1106.5 1257.0L1107.0 1257.0L1107.5 1257.0L1108.0 1257.1L1108.5 1257.1L1109.0 1257.2L1109.5 1257.4L1110.0 1257.6L1110.5 1257.7L1111.0 1257.8L1111.5 1257.8L1112.0 1257.8L1112.5 1257.8L1113.0 1257.8L1113.5 1257.7L1114.0 1257.6L1114.5 1257.5L1115.0 1257.3L1115.5 1257.2L1116.0 1257.1L1116.5 1257.0L1117.0 1257.0L1117.5 1257.0L1118.0 1257.1L1118.5 1257.1L1119.0 1257.2L1119.5 1257.3L1120.0 1257.4L1120.5 1257.6L1121.0 1257.6L1121.5 1257.7L1122.0 1257.7L1122.5 1257.7L1123.0 1257.7L1123.5 1257.6L1124.0 1257.6L1124.5 1257.5L1125.0 1257.3L1125.5 1257.3L1126.0 1257.2L1126.5 1257.2L1127.0 1257.2L1127.5 1257.2L1128.0 1257.3L1128.5 1257.3L1129.0 1257.4L1129.5 1257.5L1130.0 1257.6L1130.5 1257.6L1131.0 1257.6L1131.5 1257.6L1132.0 1257.5L1132.5 1257.4L1133.0 1257.3L1133.5 1257.2L1134.0 1257.2L1134.5 1257.1L1135.0 1257.1L1135.5 1257.1L1136.0 1257.1L1136.5 1257.2L1137.0 1257.3L1137.5 1257.4L1138.0 1257.6L1138.5 1257.7L1139.0 1257.7L1139.5 1257.7L1140.0 1257.8L1140.5 1257.7L1141.0 1257.7L1141.5 1257.7L1142.0 1257.5L1142.5 1257.4L1143.0 1257.2L1143.5 1257.1L1144.0 1257.0L1144.5 1257.0L1145.0 1257.0L1145.5 1257.0L1146.0 1257.0L1146.5 1257.1L1147.0 1257.2L1147.5 1257.3L1148.0 1257.5L1148.5 1257.7L1149.0 1257.7L1149.5 1257.8L1150.0 1257.8L1150.5 1257.8L1151.0 1257.8L1151.5 1257.7L1152.0 1257.7L1152.5 1257.6L1153.0 1257.4L1153.5 1257.2L1154.0 1257.1L1154.5 1257.1L1155.0 1257.0L1155.5 1257.0L1156.0 1257.0L1156.5 1257.1L1157.0 1257.1L1157.5 1257.2L1158.0 1257.3L1158.5 1257.5L1159.0 1257.6L1159.5 1257.7L1160.0 1257.7L1160.5 1257.7L1161.0 1257.7L1161.5 1257.7L1162.0 1257.7L1162.5 1257.6L1163.0 1257.5L1163.5 1257.4L1164.0 1257.4L1164.5 1257.3L1165.0 1257.3L1165.5 1257.2L1166.0 1257.2L1166.5 1257.2L1167.0 1257.3L1167.5 1257.3L1168.0 1257.3L1168.5 1257.3L1169.0 1257.4L1169.5 1257.4L1170.0 1257.4L1170.5 1257.4L1171.0 1257.4L1171.5 1257.4L1172.0 1257.4L1172.5 1257.4L1173.0 1257.4L1173.5 1257.4L1174.0 1257.4L1174.5 1257.5L1175.0 1257.5L1175.5 1257.5L1176.0 1257.6L1176.5 1257.6L1177.0 1257.6L1177.5 1257.6L1178.0 1257.6L1178.5 1257.5L1179.0 1257.5L1179.5 1257.4L1180.0 1257.3L1180.5 1257.2L1181.0 1257.2L1181.5 1257.2L1182.0 1257.1L1182.5 1257.1L1183.0 1257.1L1183.5 1257.2L1184.0 1257.2L1184.5 1257.3L1185.0 1257.4L1185.5 1257.5L1186.0 1257.6L1186.5 1257.6L1187.0 1257.6L1187.5 1257.7L1188.0 1257.7L1188.5 1257.6L1189.0 1257.6L1189.5 1257.6L1190.0 1257.5L1190.5 1257.4L1191.0 1257.4L1191.5 1257.3L1192.0 1257.3L1192.5 1257.2L1193.0 1257.2L1193.5 1257.2L1194.0 1257.2L1194.5 1257.2L1195.0 1257.2L1195.5 1257.3L1196.0 1257.3L1196.5 1257.3L1197.0 1257.4L1197.5 1257.4L1198.0 1257.4L1198.5 1257.5L1199.0 1257.5L1199.5 1257.5L1200.0 1257.5L1200.5 1257.6L1201.0 1257.6L1201.5 1257.6L1202.0 1257.6L1202.5 1257.6L1203.0 1257.6L1203.5 1257.6L1204.0 1257.5L1204.5 1257.4L1205.0 1257.4L1205.5 1257.3L1206.0 1257.2L1206.5 1257.1L1207.0 1257.1L1207.5 1257.1L1208.0 1257.1L1208.5 1257.1L1209.0 1257.1L1209.5 1257.2L1210.0 1257.3L1210.5 1257.4L1211.0 1257.5L1211.5 1257.6L1212.0 1257.7L1212.5 1257.7L1213.0 1257.8L1213.5 1257.8L1214.0 1257.7L1214.5 1257.7L1215.0 1257.6L1215.5 1257.5L1216.0 1257.4L1216.5 1257.2L1217.0 1257.1L1217.5 1257.1" fill="none" stroke="#d41c1c" stroke-width="1.9" stroke-opacity="0.9" stroke-linejoin="round"/><path d="M122 937.4V1577.4H1217.5" stroke="#828282" stroke-width="2.4" fill="none" stroke-linejoin="round"/><rect x="981.5" y="958.5" width="216" height="88.4" fill="#fff" stroke="#828282" stroke-width="2.2"/><path d="M989 982.4H1070" stroke="#111" stroke-width="3"/><path d="M989 1023.6H1070" stroke="#d9a0a0" stroke-width="1.6"/><text x="1077" y="994.4" class="lg">Auto-Q</text><text x="1076" y="1035.7" class="lg">Cross-Q</text><text x="108" y="73.2" text-anchor="end" class="tk">1</text><text x="108" y="232.7" text-anchor="end" class="tk">0.5</text><text x="108" y="392.2" text-anchor="end" class="tk">0</text><text x="108" y="551.7" text-anchor="end" class="tk">-0.5</text><text x="108" y="711.2" text-anchor="end" class="tk">-1</text><text x="121" y="745.5" text-anchor="middle" class="tk">-0.01</text><text x="394.9" y="745.5" text-anchor="middle" class="tk">-0.005</text><text x="668.8" y="745.5" text-anchor="middle" class="tk">0</text><text x="942.6" y="745.5" text-anchor="middle" class="tk">0.005</text><text x="1216.5" y="745.5" text-anchor="middle" class="tk">0.01</text><text x="669.5" y="794.3" text-anchor="middle" class="al" style="font-size:41.8px">Time (s)</text><text transform="translate(31.5 378) rotate(-90)" text-anchor="middle" class="al">Amplitude (a.u.)</text><text x="669.7" y="29.3" text-anchor="middle" class="ti">(a)</text><text x="108" y="950.6" text-anchor="end" class="tk">1</text><text x="108" y="1110.6" text-anchor="end" class="tk">0.5</text><text x="108" y="1270.6" text-anchor="end" class="tk">0</text><text x="108" y="1430.6" text-anchor="end" class="tk">-0.5</text><text x="108" y="1590.6" text-anchor="end" class="tk">-1</text><text x="121" y="1625" text-anchor="middle" class="tk">-0.01</text><text x="394.9" y="1625" text-anchor="middle" class="tk">-0.005</text><text x="668.8" y="1625" text-anchor="middle" class="tk">0</text><text x="942.6" y="1625" text-anchor="middle" class="tk">0.005</text><text x="1216.5" y="1625" text-anchor="middle" class="tk">0.01</text><text x="669.5" y="1673.8" text-anchor="middle" class="al" style="font-size:41.8px">Time (s)</text><text transform="translate(31.5 1256.4) rotate(-90)" text-anchor="middle" class="al">Amplitude (a.u.)</text><text x="665.8" y="900.8" text-anchor="middle" class="ti">(b)</text></svg></body></html>
